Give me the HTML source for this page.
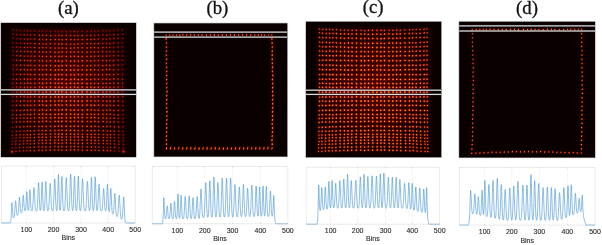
<!DOCTYPE html>
<html><head><meta charset="utf-8"><title>Figure</title>
<style>html,body{margin:0;padding:0;background:#fff;}body{width:602px;height:245px;overflow:hidden;}svg{display:block;}.lab{font-family:"Liberation Serif",serif;font-size:18.8px;fill:#111;stroke:#111;stroke-width:0.3px;}.tk{font-family:"Liberation Sans",sans-serif;font-size:7px;fill:#2c2c2c;stroke:#2c2c2c;stroke-width:0.12px;}</style></head><body>
<svg width="602" height="245" viewBox="0 0 602 245">
<defs><filter id="bl" x="-5%" y="-5%" width="110%" height="110%"><feGaussianBlur stdDeviation="0.6"/></filter><filter id="bl2" x="-5%" y="-5%" width="110%" height="110%"><feGaussianBlur stdDeviation="0.45"/></filter><filter id="edge" x="-5%" y="-5%" width="110%" height="110%"><feGaussianBlur stdDeviation="0.5"/></filter><radialGradient id="hazeA" cx="50%" cy="45%" r="62%"><stop offset="0" stop-color="#480200" stop-opacity="1"/><stop offset="0.55" stop-color="#300000" stop-opacity="0.9"/><stop offset="1" stop-color="#160000" stop-opacity="0.4"/></radialGradient><radialGradient id="hazeC" cx="50%" cy="45%" r="62%"><stop offset="0" stop-color="#460200" stop-opacity="1"/><stop offset="0.55" stop-color="#300000" stop-opacity="0.9"/><stop offset="1" stop-color="#160000" stop-opacity="0.4"/></radialGradient><radialGradient id="dg"><stop offset="0" stop-color="#f24a0c" stop-opacity="1"/><stop offset="0.2" stop-color="#ea3808" stop-opacity="0.9"/><stop offset="0.4" stop-color="#d42004" stop-opacity="0.64"/><stop offset="0.6" stop-color="#b40c00" stop-opacity="0.34"/><stop offset="0.8" stop-color="#900000" stop-opacity="0.13"/><stop offset="1" stop-color="#700000" stop-opacity="0"/></radialGradient><radialGradient id="dr"><stop offset="0" stop-color="#e01400" stop-opacity="1"/><stop offset="0.2" stop-color="#d81000" stop-opacity="0.9"/><stop offset="0.4" stop-color="#c40800" stop-opacity="0.64"/><stop offset="0.6" stop-color="#a80400" stop-opacity="0.34"/><stop offset="0.8" stop-color="#880000" stop-opacity="0.13"/><stop offset="1" stop-color="#700000" stop-opacity="0"/></radialGradient><radialGradient id="dm"><stop offset="0" stop-color="#ea3006" stop-opacity="1"/><stop offset="0.2" stop-color="#e22404" stop-opacity="0.9"/><stop offset="0.4" stop-color="#cc1402" stop-opacity="0.64"/><stop offset="0.6" stop-color="#ae0800" stop-opacity="0.34"/><stop offset="0.8" stop-color="#8c0000" stop-opacity="0.13"/><stop offset="1" stop-color="#700000" stop-opacity="0"/></radialGradient><radialGradient id="cg"><stop offset="0" stop-color="#ffac3c" stop-opacity="1"/><stop offset="0.35" stop-color="#ff9028" stop-opacity="0.7"/><stop offset="0.7" stop-color="#ff6a14" stop-opacity="0.25"/><stop offset="1" stop-color="#ff5010" stop-opacity="0"/></radialGradient></defs>
<rect x="0.4" y="22.4" width="136.2" height="135.2" fill="#0b0000" opacity="0.35"/>
<rect x="1.0" y="23.0" width="135.0" height="134.0" fill="#0b0000"/>
<rect x="153.6" y="22.8" width="134.2" height="134.3" fill="#0b0000" opacity="0.35"/>
<rect x="154.2" y="23.4" width="133.0" height="133.1" fill="#0b0000"/>
<rect x="305.4" y="21.2" width="136.4" height="136.6" fill="#0b0000" opacity="0.35"/>
<rect x="306.0" y="21.8" width="135.2" height="135.4" fill="#0b0000"/>
<rect x="458.6" y="21.2" width="137.0" height="136.9" fill="#0b0000" opacity="0.35"/>
<rect x="459.2" y="21.8" width="135.8" height="135.7" fill="#0b0000"/>
<rect x="10.0" y="27.5" width="115.6" height="126.5" fill="url(#hazeA)"/>
<g><circle cx="12.9" cy="29.9" r="1.98" fill="url(#dr)" opacity="0.55"/><circle cx="16.6" cy="30.3" r="1.99" fill="url(#dr)" opacity="0.56"/><circle cx="20.4" cy="30.4" r="1.99" fill="url(#dr)" opacity="0.56"/><circle cx="24.2" cy="30.4" r="1.99" fill="url(#dr)" opacity="0.57"/><circle cx="27.7" cy="30.9" r="2.00" fill="url(#dr)" opacity="0.58"/><circle cx="30.6" cy="30.9" r="2.02" fill="url(#dr)" opacity="0.61"/><circle cx="34.8" cy="30.9" r="2.02" fill="url(#dr)" opacity="0.62"/><circle cx="39.1" cy="31.2" r="2.01" fill="url(#dr)" opacity="0.60"/><circle cx="42.5" cy="31.0" r="2.01" fill="url(#dr)" opacity="0.61"/><circle cx="46.4" cy="31.1" r="2.02" fill="url(#dr)" opacity="0.62"/><circle cx="50.7" cy="31.3" r="2.03" fill="url(#dr)" opacity="0.63"/><circle cx="54.9" cy="31.2" r="2.02" fill="url(#dr)" opacity="0.62"/><circle cx="58.8" cy="31.4" r="2.03" fill="url(#dr)" opacity="0.63"/><circle cx="62.1" cy="31.4" r="2.03" fill="url(#dr)" opacity="0.63"/><circle cx="66.5" cy="31.6" r="2.03" fill="url(#dr)" opacity="0.63"/><circle cx="70.7" cy="31.5" r="2.04" fill="url(#dr)" opacity="0.65"/><circle cx="74.5" cy="31.4" r="2.04" fill="url(#dr)" opacity="0.65"/><circle cx="77.9" cy="31.4" r="2.03" fill="url(#dr)" opacity="0.64"/><circle cx="82.1" cy="31.4" r="2.02" fill="url(#dr)" opacity="0.61"/><circle cx="87.1" cy="31.4" r="2.02" fill="url(#dr)" opacity="0.62"/><circle cx="91.1" cy="31.2" r="2.02" fill="url(#dr)" opacity="0.62"/><circle cx="94.7" cy="31.2" r="2.02" fill="url(#dr)" opacity="0.61"/><circle cx="98.5" cy="31.2" r="2.01" fill="url(#dr)" opacity="0.61"/><circle cx="102.9" cy="30.7" r="2.01" fill="url(#dr)" opacity="0.61"/><circle cx="106.6" cy="31.0" r="2.01" fill="url(#dr)" opacity="0.60"/><circle cx="109.8" cy="30.6" r="2.01" fill="url(#dr)" opacity="0.59"/><circle cx="113.6" cy="30.5" r="1.99" fill="url(#dr)" opacity="0.57"/><circle cx="118.0" cy="30.1" r="2.00" fill="url(#dr)" opacity="0.58"/><circle cx="122.5" cy="30.0" r="1.98" fill="url(#dr)" opacity="0.55"/><circle cx="13.2" cy="34.1" r="2.00" fill="url(#dr)" opacity="0.59"/><circle cx="16.8" cy="34.6" r="2.04" fill="url(#dr)" opacity="0.64"/><circle cx="20.7" cy="34.6" r="2.03" fill="url(#dr)" opacity="0.63"/><circle cx="24.2" cy="34.9" r="2.06" fill="url(#dr)" opacity="0.68"/><circle cx="27.6" cy="34.8" r="2.04" fill="url(#dr)" opacity="0.65"/><circle cx="30.6" cy="35.0" r="2.06" fill="url(#dr)" opacity="0.68"/><circle cx="34.7" cy="34.9" r="2.06" fill="url(#dr)" opacity="0.68"/><circle cx="39.2" cy="35.3" r="2.09" fill="url(#dm)" opacity="0.73"/><circle cx="42.8" cy="35.3" r="2.08" fill="url(#dm)" opacity="0.71"/><circle cx="46.4" cy="35.2" r="2.09" fill="url(#dm)" opacity="0.74"/><circle cx="50.7" cy="35.6" r="2.10" fill="url(#dm)" opacity="0.74"/><circle cx="55.1" cy="35.5" r="2.08" fill="url(#dr)" opacity="0.71"/><circle cx="58.8" cy="35.4" r="2.08" fill="url(#dm)" opacity="0.71"/><circle cx="61.9" cy="35.5" r="2.09" fill="url(#dm)" opacity="0.73"/><circle cx="66.2" cy="35.4" r="2.09" fill="url(#dm)" opacity="0.73"/><circle cx="70.5" cy="35.6" r="2.08" fill="url(#dm)" opacity="0.72"/><circle cx="74.5" cy="35.6" r="2.08" fill="url(#dm)" opacity="0.72"/><circle cx="78.0" cy="35.5" r="2.09" fill="url(#dm)" opacity="0.73"/><circle cx="82.1" cy="35.7" r="2.11" fill="url(#dm)" opacity="0.76"/><circle cx="87.0" cy="35.4" r="2.07" fill="url(#dr)" opacity="0.70"/><circle cx="90.8" cy="35.3" r="2.07" fill="url(#dr)" opacity="0.70"/><circle cx="94.8" cy="35.2" r="2.05" fill="url(#dr)" opacity="0.67"/><circle cx="98.5" cy="35.2" r="2.05" fill="url(#dr)" opacity="0.67"/><circle cx="102.9" cy="34.9" r="2.06" fill="url(#dr)" opacity="0.68"/><circle cx="106.8" cy="35.1" r="2.06" fill="url(#dr)" opacity="0.68"/><circle cx="109.8" cy="34.8" r="2.03" fill="url(#dr)" opacity="0.64"/><circle cx="113.9" cy="34.7" r="2.05" fill="url(#dr)" opacity="0.66"/><circle cx="118.0" cy="34.4" r="2.04" fill="url(#dr)" opacity="0.65"/><circle cx="122.8" cy="34.5" r="2.01" fill="url(#dr)" opacity="0.60"/><circle cx="13.2" cy="38.5" r="2.00" fill="url(#dr)" opacity="0.58"/><circle cx="16.8" cy="38.5" r="2.01" fill="url(#dr)" opacity="0.61"/><circle cx="20.4" cy="38.7" r="2.03" fill="url(#dr)" opacity="0.64"/><circle cx="24.4" cy="39.1" r="2.05" fill="url(#dr)" opacity="0.66"/><circle cx="27.9" cy="39.2" r="2.07" fill="url(#dr)" opacity="0.70"/><circle cx="30.7" cy="39.0" r="2.05" fill="url(#dr)" opacity="0.67"/><circle cx="34.6" cy="39.1" r="2.07" fill="url(#dr)" opacity="0.71"/><circle cx="39.4" cy="39.5" r="2.08" fill="url(#dm)" opacity="0.71"/><circle cx="42.8" cy="39.5" r="2.07" fill="url(#dr)" opacity="0.70"/><circle cx="46.4" cy="39.6" r="2.10" fill="url(#dm)" opacity="0.75"/><circle cx="50.7" cy="39.5" r="2.08" fill="url(#dm)" opacity="0.72"/><circle cx="55.2" cy="39.5" r="2.11" fill="url(#dm)" opacity="0.77"/><circle cx="58.9" cy="39.6" r="2.10" fill="url(#dm)" opacity="0.75"/><circle cx="62.2" cy="39.7" r="2.09" fill="url(#dm)" opacity="0.74"/><circle cx="66.2" cy="39.5" r="2.12" fill="url(#dm)" opacity="0.79"/><circle cx="70.8" cy="39.5" r="2.12" fill="url(#dm)" opacity="0.78"/><circle cx="74.6" cy="39.7" r="2.10" fill="url(#dm)" opacity="0.75"/><circle cx="78.1" cy="39.5" r="2.09" fill="url(#dm)" opacity="0.73"/><circle cx="82.4" cy="39.6" r="2.10" fill="url(#dm)" opacity="0.75"/><circle cx="87.2" cy="39.5" r="2.11" fill="url(#dm)" opacity="0.76"/><circle cx="91.0" cy="39.3" r="2.08" fill="url(#dm)" opacity="0.71"/><circle cx="94.5" cy="39.3" r="2.08" fill="url(#dm)" opacity="0.72"/><circle cx="98.2" cy="39.2" r="2.06" fill="url(#dr)" opacity="0.69"/><circle cx="103.0" cy="39.1" r="2.06" fill="url(#dr)" opacity="0.69"/><circle cx="106.6" cy="39.2" r="2.06" fill="url(#dr)" opacity="0.68"/><circle cx="110.0" cy="38.9" r="2.05" fill="url(#dr)" opacity="0.67"/><circle cx="113.8" cy="38.6" r="2.04" fill="url(#dr)" opacity="0.65"/><circle cx="118.0" cy="38.4" r="2.04" fill="url(#dr)" opacity="0.66"/><circle cx="122.5" cy="38.4" r="2.01" fill="url(#dr)" opacity="0.61"/><circle cx="13.1" cy="42.8" r="2.01" fill="url(#dr)" opacity="0.60"/><circle cx="16.8" cy="43.1" r="2.02" fill="url(#dr)" opacity="0.62"/><circle cx="20.6" cy="43.1" r="2.04" fill="url(#dr)" opacity="0.65"/><circle cx="24.4" cy="43.3" r="2.06" fill="url(#dr)" opacity="0.68"/><circle cx="27.8" cy="43.5" r="2.06" fill="url(#dr)" opacity="0.69"/><circle cx="30.8" cy="43.5" r="2.07" fill="url(#dr)" opacity="0.70"/><circle cx="34.9" cy="43.6" r="2.08" fill="url(#dm)" opacity="0.72"/><circle cx="39.3" cy="43.8" r="2.09" fill="url(#dm)" opacity="0.74"/><circle cx="42.9" cy="43.9" r="2.08" fill="url(#dm)" opacity="0.72"/><circle cx="46.3" cy="44.0" r="2.11" fill="url(#dm)" opacity="0.77"/><circle cx="50.5" cy="43.7" r="2.10" fill="url(#dm)" opacity="0.76"/><circle cx="54.9" cy="43.8" r="2.10" fill="url(#dm)" opacity="0.74"/><circle cx="58.8" cy="44.1" r="2.13" fill="url(#dm)" opacity="0.80"/><circle cx="61.9" cy="44.0" r="2.12" fill="url(#dm)" opacity="0.79"/><circle cx="66.2" cy="44.1" r="2.14" fill="url(#dm)" opacity="0.81"/><circle cx="70.5" cy="44.2" r="2.12" fill="url(#dm)" opacity="0.78"/><circle cx="74.4" cy="44.2" r="2.13" fill="url(#dm)" opacity="0.80"/><circle cx="78.0" cy="43.9" r="2.11" fill="url(#dm)" opacity="0.77"/><circle cx="82.1" cy="43.8" r="2.10" fill="url(#dm)" opacity="0.75"/><circle cx="87.1" cy="43.6" r="2.10" fill="url(#dm)" opacity="0.76"/><circle cx="90.9" cy="43.6" r="2.09" fill="url(#dm)" opacity="0.73"/><circle cx="94.7" cy="43.7" r="2.07" fill="url(#dr)" opacity="0.71"/><circle cx="98.5" cy="43.7" r="2.10" fill="url(#dm)" opacity="0.75"/><circle cx="102.7" cy="43.4" r="2.06" fill="url(#dr)" opacity="0.68"/><circle cx="106.6" cy="43.3" r="2.05" fill="url(#dr)" opacity="0.67"/><circle cx="109.8" cy="43.5" r="2.07" fill="url(#dr)" opacity="0.70"/><circle cx="113.7" cy="43.1" r="2.06" fill="url(#dr)" opacity="0.69"/><circle cx="118.1" cy="43.1" r="2.02" fill="url(#dr)" opacity="0.62"/><circle cx="122.4" cy="42.9" r="2.01" fill="url(#dr)" opacity="0.60"/><circle cx="12.9" cy="47.2" r="2.02" fill="url(#dr)" opacity="0.61"/><circle cx="16.9" cy="47.0" r="2.05" fill="url(#dr)" opacity="0.67"/><circle cx="20.4" cy="47.4" r="2.05" fill="url(#dr)" opacity="0.67"/><circle cx="24.3" cy="47.4" r="2.08" fill="url(#dm)" opacity="0.71"/><circle cx="27.7" cy="47.3" r="2.07" fill="url(#dr)" opacity="0.70"/><circle cx="30.7" cy="47.4" r="2.07" fill="url(#dr)" opacity="0.69"/><circle cx="34.6" cy="47.5" r="2.08" fill="url(#dm)" opacity="0.72"/><circle cx="39.2" cy="47.8" r="2.09" fill="url(#dm)" opacity="0.73"/><circle cx="42.7" cy="47.7" r="2.10" fill="url(#dm)" opacity="0.74"/><circle cx="46.1" cy="47.8" r="2.09" fill="url(#dm)" opacity="0.73"/><circle cx="50.7" cy="47.9" r="2.10" fill="url(#dm)" opacity="0.76"/><circle cx="55.1" cy="48.1" r="2.11" fill="url(#dm)" opacity="0.76"/><circle cx="58.9" cy="48.0" r="2.12" fill="url(#dm)" opacity="0.79"/><circle cx="62.2" cy="48.0" r="2.13" fill="url(#dm)" opacity="0.80"/><circle cx="66.4" cy="48.2" r="2.12" fill="url(#dm)" opacity="0.79"/><circle cx="70.8" cy="48.1" r="2.13" fill="url(#dm)" opacity="0.81"/><circle cx="74.3" cy="47.9" r="2.11" fill="url(#dm)" opacity="0.77"/><circle cx="77.9" cy="47.8" r="2.13" fill="url(#dm)" opacity="0.80"/><circle cx="82.1" cy="47.8" r="2.10" fill="url(#dm)" opacity="0.76"/><circle cx="87.1" cy="48.0" r="2.12" fill="url(#dm)" opacity="0.78"/><circle cx="90.8" cy="47.7" r="2.10" fill="url(#dm)" opacity="0.75"/><circle cx="94.6" cy="47.6" r="2.10" fill="url(#dm)" opacity="0.74"/><circle cx="98.2" cy="47.9" r="2.11" fill="url(#dm)" opacity="0.76"/><circle cx="102.8" cy="47.5" r="2.10" fill="url(#dm)" opacity="0.75"/><circle cx="106.4" cy="47.4" r="2.06" fill="url(#dr)" opacity="0.68"/><circle cx="109.8" cy="47.4" r="2.07" fill="url(#dr)" opacity="0.69"/><circle cx="113.6" cy="47.3" r="2.04" fill="url(#dr)" opacity="0.65"/><circle cx="118.0" cy="47.0" r="2.04" fill="url(#dr)" opacity="0.65"/><circle cx="122.4" cy="46.8" r="2.01" fill="url(#dr)" opacity="0.60"/><circle cx="13.0" cy="51.3" r="2.02" fill="url(#dr)" opacity="0.62"/><circle cx="16.9" cy="51.4" r="2.05" fill="url(#dr)" opacity="0.67"/><circle cx="20.8" cy="51.4" r="2.05" fill="url(#dr)" opacity="0.67"/><circle cx="24.5" cy="51.4" r="2.08" fill="url(#dr)" opacity="0.71"/><circle cx="27.8" cy="51.5" r="2.09" fill="url(#dm)" opacity="0.73"/><circle cx="30.9" cy="51.8" r="2.09" fill="url(#dm)" opacity="0.74"/><circle cx="34.9" cy="51.7" r="2.09" fill="url(#dm)" opacity="0.74"/><circle cx="39.3" cy="52.0" r="2.11" fill="url(#dm)" opacity="0.77"/><circle cx="42.8" cy="52.0" r="2.12" fill="url(#dm)" opacity="0.79"/><circle cx="46.4" cy="52.1" r="2.11" fill="url(#dm)" opacity="0.76"/><circle cx="50.4" cy="51.9" r="2.12" fill="url(#dm)" opacity="0.78"/><circle cx="55.0" cy="52.2" r="2.13" fill="url(#dm)" opacity="0.80"/><circle cx="58.8" cy="52.2" r="2.14" fill="url(#dm)" opacity="0.82"/><circle cx="62.1" cy="51.9" r="2.15" fill="url(#dm)" opacity="0.83"/><circle cx="66.5" cy="52.1" r="2.14" fill="url(#dm)" opacity="0.82"/><circle cx="70.7" cy="52.0" r="2.15" fill="url(#dm)" opacity="0.83"/><circle cx="74.3" cy="52.0" r="2.13" fill="url(#dm)" opacity="0.80"/><circle cx="78.2" cy="52.0" r="2.14" fill="url(#dm)" opacity="0.82"/><circle cx="82.4" cy="52.1" r="2.12" fill="url(#dm)" opacity="0.79"/><circle cx="87.0" cy="52.1" r="2.13" fill="url(#dm)" opacity="0.80"/><circle cx="90.9" cy="52.0" r="2.10" fill="url(#dm)" opacity="0.75"/><circle cx="94.5" cy="51.8" r="2.12" fill="url(#dm)" opacity="0.78"/><circle cx="98.2" cy="51.9" r="2.08" fill="url(#dm)" opacity="0.72"/><circle cx="102.6" cy="51.7" r="2.10" fill="url(#dm)" opacity="0.74"/><circle cx="106.6" cy="51.8" r="2.07" fill="url(#dr)" opacity="0.70"/><circle cx="109.8" cy="51.6" r="2.07" fill="url(#dr)" opacity="0.70"/><circle cx="113.6" cy="51.7" r="2.05" fill="url(#dr)" opacity="0.67"/><circle cx="118.2" cy="51.5" r="2.03" fill="url(#dr)" opacity="0.64"/><circle cx="122.5" cy="51.4" r="2.03" fill="url(#dr)" opacity="0.64"/><circle cx="13.1" cy="55.6" r="2.01" fill="url(#dr)" opacity="0.61"/><circle cx="17.0" cy="55.6" r="2.05" fill="url(#dr)" opacity="0.67"/><circle cx="20.5" cy="55.9" r="2.08" fill="url(#dm)" opacity="0.72"/><circle cx="24.2" cy="56.1" r="2.07" fill="url(#dr)" opacity="0.71"/><circle cx="27.9" cy="56.1" r="2.07" fill="url(#dr)" opacity="0.71"/><circle cx="31.0" cy="56.1" r="2.07" fill="url(#dr)" opacity="0.71"/><circle cx="34.6" cy="56.2" r="2.10" fill="url(#dm)" opacity="0.75"/><circle cx="39.2" cy="56.1" r="2.11" fill="url(#dm)" opacity="0.76"/><circle cx="42.6" cy="56.4" r="2.10" fill="url(#dm)" opacity="0.75"/><circle cx="46.4" cy="56.5" r="2.11" fill="url(#dm)" opacity="0.77"/><circle cx="50.8" cy="56.5" r="2.15" fill="url(#dm)" opacity="0.83"/><circle cx="55.0" cy="56.4" r="2.14" fill="url(#dm)" opacity="0.81"/><circle cx="58.9" cy="56.5" r="2.14" fill="url(#dm)" opacity="0.81"/><circle cx="62.0" cy="56.4" r="2.13" fill="url(#dm)" opacity="0.80"/><circle cx="66.2" cy="56.6" r="2.14" fill="url(#dm)" opacity="0.82"/><circle cx="70.8" cy="56.4" r="2.14" fill="url(#dm)" opacity="0.82"/><circle cx="74.4" cy="56.3" r="2.14" fill="url(#dm)" opacity="0.82"/><circle cx="78.3" cy="56.6" r="2.15" fill="url(#dm)" opacity="0.84"/><circle cx="82.2" cy="56.6" r="2.15" fill="url(#dm)" opacity="0.84"/><circle cx="87.0" cy="56.5" r="2.11" fill="url(#dm)" opacity="0.77"/><circle cx="91.0" cy="56.3" r="2.13" fill="url(#dm)" opacity="0.80"/><circle cx="94.7" cy="56.2" r="2.10" fill="url(#dm)" opacity="0.75"/><circle cx="98.5" cy="56.1" r="2.11" fill="url(#dm)" opacity="0.76"/><circle cx="102.7" cy="56.1" r="2.10" fill="url(#dm)" opacity="0.76"/><circle cx="106.7" cy="56.0" r="2.09" fill="url(#dm)" opacity="0.74"/><circle cx="109.8" cy="56.0" r="2.07" fill="url(#dr)" opacity="0.71"/><circle cx="113.6" cy="55.8" r="2.06" fill="url(#dr)" opacity="0.68"/><circle cx="118.2" cy="55.8" r="2.04" fill="url(#dr)" opacity="0.66"/><circle cx="122.7" cy="55.9" r="2.02" fill="url(#dr)" opacity="0.62"/><circle cx="13.0" cy="60.2" r="2.01" fill="url(#dr)" opacity="0.61"/><circle cx="16.8" cy="60.2" r="2.05" fill="url(#dr)" opacity="0.66"/><circle cx="20.5" cy="60.5" r="2.08" fill="url(#dm)" opacity="0.72"/><circle cx="24.5" cy="60.5" r="2.08" fill="url(#dm)" opacity="0.71"/><circle cx="27.8" cy="60.6" r="2.08" fill="url(#dm)" opacity="0.72"/><circle cx="30.6" cy="60.6" r="2.11" fill="url(#dm)" opacity="0.77"/><circle cx="34.7" cy="60.7" r="2.11" fill="url(#dm)" opacity="0.77"/><circle cx="39.4" cy="60.7" r="2.11" fill="url(#dm)" opacity="0.77"/><circle cx="42.6" cy="60.8" r="2.12" fill="url(#dm)" opacity="0.79"/><circle cx="46.5" cy="61.0" r="2.15" fill="url(#dm)" opacity="0.83"/><circle cx="50.4" cy="60.7" r="2.15" fill="url(#dm)" opacity="0.83"/><circle cx="55.3" cy="60.9" r="2.15" fill="url(#dm)" opacity="0.84"/><circle cx="58.5" cy="60.9" r="2.17" fill="url(#dg)" opacity="0.86"/><circle cx="62.2" cy="61.1" r="2.17" fill="url(#dg)" opacity="0.87"/><circle cx="66.3" cy="60.8" r="2.15" fill="url(#dm)" opacity="0.83"/><circle cx="70.7" cy="61.1" r="2.17" fill="url(#dg)" opacity="0.87"/><circle cx="74.5" cy="61.0" r="2.17" fill="url(#dg)" opacity="0.86"/><circle cx="78.1" cy="61.0" r="2.14" fill="url(#dm)" opacity="0.81"/><circle cx="82.3" cy="60.8" r="2.16" fill="url(#dg)" opacity="0.85"/><circle cx="87.0" cy="60.8" r="2.12" fill="url(#dm)" opacity="0.79"/><circle cx="90.8" cy="60.9" r="2.14" fill="url(#dm)" opacity="0.81"/><circle cx="94.4" cy="60.7" r="2.12" fill="url(#dm)" opacity="0.79"/><circle cx="98.3" cy="60.7" r="2.10" fill="url(#dm)" opacity="0.76"/><circle cx="102.8" cy="60.5" r="2.10" fill="url(#dm)" opacity="0.74"/><circle cx="106.5" cy="60.8" r="2.10" fill="url(#dm)" opacity="0.75"/><circle cx="110.0" cy="60.6" r="2.07" fill="url(#dr)" opacity="0.71"/><circle cx="113.6" cy="60.7" r="2.08" fill="url(#dm)" opacity="0.72"/><circle cx="118.0" cy="60.2" r="2.06" fill="url(#dr)" opacity="0.68"/><circle cx="122.6" cy="60.3" r="2.02" fill="url(#dr)" opacity="0.61"/><circle cx="13.2" cy="65.3" r="2.02" fill="url(#dr)" opacity="0.62"/><circle cx="16.6" cy="65.1" r="2.06" fill="url(#dr)" opacity="0.68"/><circle cx="20.7" cy="65.2" r="2.08" fill="url(#dm)" opacity="0.72"/><circle cx="24.4" cy="65.3" r="2.07" fill="url(#dr)" opacity="0.71"/><circle cx="28.0" cy="65.3" r="2.11" fill="url(#dm)" opacity="0.76"/><circle cx="30.7" cy="65.3" r="2.11" fill="url(#dm)" opacity="0.77"/><circle cx="34.7" cy="65.7" r="2.12" fill="url(#dm)" opacity="0.78"/><circle cx="39.2" cy="65.4" r="2.12" fill="url(#dm)" opacity="0.79"/><circle cx="42.8" cy="65.8" r="2.12" fill="url(#dm)" opacity="0.79"/><circle cx="46.3" cy="65.5" r="2.16" fill="url(#dg)" opacity="0.85"/><circle cx="50.5" cy="65.5" r="2.13" fill="url(#dm)" opacity="0.81"/><circle cx="55.1" cy="65.8" r="2.17" fill="url(#dg)" opacity="0.87"/><circle cx="58.8" cy="65.9" r="2.18" fill="url(#dg)" opacity="0.88"/><circle cx="62.0" cy="65.6" r="2.18" fill="url(#dg)" opacity="0.89"/><circle cx="66.5" cy="65.5" r="2.17" fill="url(#dg)" opacity="0.87"/><circle cx="70.6" cy="65.7" r="2.16" fill="url(#dg)" opacity="0.85"/><circle cx="74.2" cy="65.5" r="2.16" fill="url(#dg)" opacity="0.84"/><circle cx="78.0" cy="65.9" r="2.15" fill="url(#dm)" opacity="0.83"/><circle cx="82.4" cy="65.6" r="2.15" fill="url(#dm)" opacity="0.83"/><circle cx="87.1" cy="65.8" r="2.14" fill="url(#dm)" opacity="0.82"/><circle cx="90.7" cy="65.6" r="2.13" fill="url(#dm)" opacity="0.81"/><circle cx="94.8" cy="65.4" r="2.13" fill="url(#dm)" opacity="0.79"/><circle cx="98.5" cy="65.3" r="2.12" fill="url(#dm)" opacity="0.78"/><circle cx="102.9" cy="65.6" r="2.09" fill="url(#dm)" opacity="0.74"/><circle cx="106.3" cy="65.2" r="2.11" fill="url(#dm)" opacity="0.77"/><circle cx="109.7" cy="65.5" r="2.10" fill="url(#dm)" opacity="0.76"/><circle cx="113.7" cy="65.2" r="2.09" fill="url(#dm)" opacity="0.74"/><circle cx="118.1" cy="65.1" r="2.07" fill="url(#dr)" opacity="0.70"/><circle cx="122.5" cy="65.0" r="2.01" fill="url(#dr)" opacity="0.61"/><circle cx="13.2" cy="69.6" r="2.04" fill="url(#dr)" opacity="0.64"/><circle cx="17.0" cy="69.3" r="2.06" fill="url(#dr)" opacity="0.68"/><circle cx="20.6" cy="69.8" r="2.09" fill="url(#dm)" opacity="0.74"/><circle cx="24.3" cy="69.5" r="2.09" fill="url(#dm)" opacity="0.73"/><circle cx="27.8" cy="69.9" r="2.09" fill="url(#dm)" opacity="0.73"/><circle cx="30.9" cy="69.8" r="2.12" fill="url(#dm)" opacity="0.79"/><circle cx="34.9" cy="69.8" r="2.11" fill="url(#dm)" opacity="0.77"/><circle cx="39.2" cy="69.8" r="2.14" fill="url(#dm)" opacity="0.82"/><circle cx="42.5" cy="69.7" r="2.15" fill="url(#dm)" opacity="0.83"/><circle cx="46.2" cy="69.7" r="2.13" fill="url(#dm)" opacity="0.80"/><circle cx="50.6" cy="69.8" r="2.17" fill="url(#dg)" opacity="0.87"/><circle cx="55.3" cy="70.1" r="2.16" fill="url(#dg)" opacity="0.84"/><circle cx="58.6" cy="69.8" r="2.17" fill="url(#dg)" opacity="0.87"/><circle cx="62.1" cy="69.9" r="2.16" fill="url(#dg)" opacity="0.86"/><circle cx="66.3" cy="70.0" r="2.18" fill="url(#dg)" opacity="0.89"/><circle cx="70.8" cy="70.1" r="2.18" fill="url(#dg)" opacity="0.89"/><circle cx="74.2" cy="70.1" r="2.16" fill="url(#dg)" opacity="0.86"/><circle cx="78.1" cy="69.9" r="2.18" fill="url(#dg)" opacity="0.88"/><circle cx="82.1" cy="69.8" r="2.15" fill="url(#dm)" opacity="0.84"/><circle cx="86.8" cy="70.0" r="2.16" fill="url(#dg)" opacity="0.84"/><circle cx="90.8" cy="69.8" r="2.16" fill="url(#dg)" opacity="0.85"/><circle cx="94.6" cy="69.7" r="2.15" fill="url(#dm)" opacity="0.83"/><circle cx="98.4" cy="70.0" r="2.11" fill="url(#dm)" opacity="0.77"/><circle cx="102.8" cy="69.9" r="2.13" fill="url(#dm)" opacity="0.80"/><circle cx="106.7" cy="69.5" r="2.10" fill="url(#dm)" opacity="0.75"/><circle cx="109.7" cy="69.5" r="2.11" fill="url(#dm)" opacity="0.77"/><circle cx="113.8" cy="69.8" r="2.08" fill="url(#dm)" opacity="0.71"/><circle cx="118.2" cy="69.5" r="2.06" fill="url(#dr)" opacity="0.68"/><circle cx="122.7" cy="69.6" r="2.02" fill="url(#dr)" opacity="0.62"/><circle cx="13.1" cy="74.4" r="2.03" fill="url(#dr)" opacity="0.63"/><circle cx="16.8" cy="74.3" r="2.06" fill="url(#dr)" opacity="0.68"/><circle cx="20.5" cy="74.5" r="2.09" fill="url(#dm)" opacity="0.73"/><circle cx="24.2" cy="74.3" r="2.09" fill="url(#dm)" opacity="0.73"/><circle cx="27.8" cy="74.4" r="2.10" fill="url(#dm)" opacity="0.75"/><circle cx="30.7" cy="74.7" r="2.12" fill="url(#dm)" opacity="0.78"/><circle cx="34.6" cy="74.5" r="2.12" fill="url(#dm)" opacity="0.79"/><circle cx="39.3" cy="74.7" r="2.12" fill="url(#dm)" opacity="0.79"/><circle cx="42.6" cy="74.8" r="2.14" fill="url(#dm)" opacity="0.82"/><circle cx="46.2" cy="74.6" r="2.17" fill="url(#dg)" opacity="0.87"/><circle cx="50.5" cy="74.8" r="2.16" fill="url(#dg)" opacity="0.85"/><circle cx="55.1" cy="74.9" r="2.19" fill="url(#dg)" opacity="0.90"/><circle cx="58.7" cy="74.6" r="2.19" fill="url(#dg)" opacity="0.89"/><circle cx="61.9" cy="74.6" r="2.20" fill="url(#dg)" opacity="0.91"/><circle cx="66.3" cy="74.9" r="2.18" fill="url(#dg)" opacity="0.88"/><circle cx="70.8" cy="74.7" r="2.17" fill="url(#dg)" opacity="0.87"/><circle cx="74.2" cy="74.8" r="2.18" fill="url(#dg)" opacity="0.89"/><circle cx="78.3" cy="74.6" r="2.18" fill="url(#dg)" opacity="0.88"/><circle cx="82.1" cy="74.7" r="2.16" fill="url(#dg)" opacity="0.84"/><circle cx="86.9" cy="74.7" r="2.18" fill="url(#dg)" opacity="0.88"/><circle cx="90.7" cy="74.7" r="2.16" fill="url(#dg)" opacity="0.85"/><circle cx="94.8" cy="74.6" r="2.13" fill="url(#dm)" opacity="0.80"/><circle cx="98.5" cy="74.8" r="2.13" fill="url(#dm)" opacity="0.81"/><circle cx="102.6" cy="74.8" r="2.12" fill="url(#dm)" opacity="0.78"/><circle cx="106.7" cy="74.6" r="2.12" fill="url(#dm)" opacity="0.79"/><circle cx="109.7" cy="74.7" r="2.09" fill="url(#dm)" opacity="0.73"/><circle cx="113.7" cy="74.6" r="2.10" fill="url(#dm)" opacity="0.75"/><circle cx="117.9" cy="74.3" r="2.07" fill="url(#dr)" opacity="0.70"/><circle cx="122.6" cy="74.3" r="2.02" fill="url(#dr)" opacity="0.62"/><circle cx="13.0" cy="79.1" r="2.05" fill="url(#dr)" opacity="0.66"/><circle cx="16.6" cy="79.1" r="2.08" fill="url(#dm)" opacity="0.72"/><circle cx="20.4" cy="79.2" r="2.07" fill="url(#dr)" opacity="0.70"/><circle cx="24.4" cy="79.1" r="2.10" fill="url(#dm)" opacity="0.76"/><circle cx="27.7" cy="79.1" r="2.11" fill="url(#dm)" opacity="0.77"/><circle cx="30.7" cy="79.2" r="2.12" fill="url(#dm)" opacity="0.78"/><circle cx="34.8" cy="79.0" r="2.14" fill="url(#dm)" opacity="0.81"/><circle cx="39.3" cy="79.1" r="2.15" fill="url(#dm)" opacity="0.84"/><circle cx="42.8" cy="79.2" r="2.14" fill="url(#dm)" opacity="0.82"/><circle cx="46.3" cy="79.1" r="2.15" fill="url(#dm)" opacity="0.83"/><circle cx="50.6" cy="79.1" r="2.17" fill="url(#dg)" opacity="0.86"/><circle cx="55.1" cy="79.1" r="2.18" fill="url(#dg)" opacity="0.89"/><circle cx="58.6" cy="79.4" r="2.19" fill="url(#dg)" opacity="0.91"/><circle cx="62.1" cy="79.1" r="2.19" fill="url(#dg)" opacity="0.90"/><circle cx="66.3" cy="79.5" r="2.18" fill="url(#dg)" opacity="0.88"/><circle cx="70.8" cy="79.5" r="2.20" fill="url(#dg)" opacity="0.91"/><circle cx="74.5" cy="79.2" r="2.20" fill="url(#dg)" opacity="0.92"/><circle cx="78.1" cy="79.5" r="2.20" fill="url(#dg)" opacity="0.91"/><circle cx="82.1" cy="79.4" r="2.19" fill="url(#dg)" opacity="0.90"/><circle cx="86.8" cy="79.2" r="2.18" fill="url(#dg)" opacity="0.88"/><circle cx="90.8" cy="79.4" r="2.15" fill="url(#dm)" opacity="0.83"/><circle cx="94.7" cy="79.1" r="2.15" fill="url(#dm)" opacity="0.83"/><circle cx="98.5" cy="79.1" r="2.13" fill="url(#dm)" opacity="0.80"/><circle cx="102.8" cy="79.1" r="2.11" fill="url(#dm)" opacity="0.77"/><circle cx="106.4" cy="79.0" r="2.13" fill="url(#dm)" opacity="0.80"/><circle cx="109.9" cy="79.3" r="2.09" fill="url(#dm)" opacity="0.74"/><circle cx="113.9" cy="78.9" r="2.09" fill="url(#dm)" opacity="0.74"/><circle cx="118.1" cy="79.0" r="2.09" fill="url(#dm)" opacity="0.73"/><circle cx="122.6" cy="79.1" r="2.05" fill="url(#dr)" opacity="0.66"/><circle cx="12.9" cy="83.4" r="2.04" fill="url(#dr)" opacity="0.65"/><circle cx="16.7" cy="83.4" r="2.07" fill="url(#dr)" opacity="0.69"/><circle cx="20.8" cy="83.3" r="2.08" fill="url(#dm)" opacity="0.72"/><circle cx="24.4" cy="83.3" r="2.09" fill="url(#dm)" opacity="0.73"/><circle cx="27.8" cy="83.1" r="2.13" fill="url(#dm)" opacity="0.79"/><circle cx="30.7" cy="83.4" r="2.14" fill="url(#dm)" opacity="0.82"/><circle cx="34.8" cy="83.4" r="2.13" fill="url(#dm)" opacity="0.80"/><circle cx="39.1" cy="83.2" r="2.14" fill="url(#dm)" opacity="0.81"/><circle cx="42.7" cy="83.4" r="2.16" fill="url(#dg)" opacity="0.85"/><circle cx="46.5" cy="83.2" r="2.16" fill="url(#dg)" opacity="0.84"/><circle cx="50.7" cy="83.2" r="2.16" fill="url(#dg)" opacity="0.84"/><circle cx="55.1" cy="83.3" r="2.18" fill="url(#dg)" opacity="0.88"/><circle cx="58.6" cy="83.4" r="2.19" fill="url(#dg)" opacity="0.90"/><circle cx="61.9" cy="83.5" r="2.19" fill="url(#dg)" opacity="0.90"/><circle cx="66.2" cy="83.6" r="2.19" fill="url(#dg)" opacity="0.89"/><circle cx="70.5" cy="83.3" r="2.20" fill="url(#dg)" opacity="0.92"/><circle cx="74.5" cy="83.5" r="2.19" fill="url(#dg)" opacity="0.90"/><circle cx="78.0" cy="83.2" r="2.19" fill="url(#dg)" opacity="0.90"/><circle cx="82.2" cy="83.3" r="2.19" fill="url(#dg)" opacity="0.89"/><circle cx="87.0" cy="83.6" r="2.18" fill="url(#dg)" opacity="0.88"/><circle cx="90.8" cy="83.6" r="2.15" fill="url(#dm)" opacity="0.83"/><circle cx="94.6" cy="83.3" r="2.14" fill="url(#dm)" opacity="0.82"/><circle cx="98.2" cy="83.5" r="2.13" fill="url(#dm)" opacity="0.79"/><circle cx="102.9" cy="83.5" r="2.12" fill="url(#dm)" opacity="0.78"/><circle cx="106.4" cy="83.4" r="2.12" fill="url(#dm)" opacity="0.78"/><circle cx="109.9" cy="83.4" r="2.10" fill="url(#dm)" opacity="0.74"/><circle cx="113.7" cy="83.2" r="2.08" fill="url(#dm)" opacity="0.71"/><circle cx="118.3" cy="83.4" r="2.09" fill="url(#dm)" opacity="0.73"/><circle cx="122.4" cy="83.4" r="2.05" fill="url(#dr)" opacity="0.66"/><circle cx="13.0" cy="87.3" r="2.04" fill="url(#dr)" opacity="0.65"/><circle cx="16.6" cy="87.0" r="2.07" fill="url(#dr)" opacity="0.70"/><circle cx="20.4" cy="87.1" r="2.10" fill="url(#dm)" opacity="0.75"/><circle cx="24.4" cy="87.3" r="2.11" fill="url(#dm)" opacity="0.77"/><circle cx="27.6" cy="87.2" r="2.11" fill="url(#dm)" opacity="0.77"/><circle cx="30.9" cy="87.2" r="2.12" fill="url(#dm)" opacity="0.78"/><circle cx="34.8" cy="87.4" r="2.13" fill="url(#dm)" opacity="0.80"/><circle cx="39.4" cy="87.0" r="2.14" fill="url(#dm)" opacity="0.82"/><circle cx="42.6" cy="87.3" r="2.18" fill="url(#dg)" opacity="0.88"/><circle cx="46.4" cy="87.2" r="2.18" fill="url(#dg)" opacity="0.89"/><circle cx="50.5" cy="87.1" r="2.19" fill="url(#dg)" opacity="0.90"/><circle cx="55.2" cy="87.3" r="2.19" fill="url(#dg)" opacity="0.90"/><circle cx="58.9" cy="87.2" r="2.20" fill="url(#dg)" opacity="0.92"/><circle cx="62.1" cy="87.4" r="2.19" fill="url(#dg)" opacity="0.91"/><circle cx="66.4" cy="87.3" r="2.19" fill="url(#dg)" opacity="0.90"/><circle cx="70.5" cy="87.3" r="2.18" fill="url(#dg)" opacity="0.89"/><circle cx="74.5" cy="87.1" r="2.18" fill="url(#dg)" opacity="0.88"/><circle cx="77.9" cy="87.4" r="2.18" fill="url(#dg)" opacity="0.89"/><circle cx="82.1" cy="87.1" r="2.17" fill="url(#dg)" opacity="0.86"/><circle cx="87.1" cy="87.3" r="2.18" fill="url(#dg)" opacity="0.89"/><circle cx="91.0" cy="87.1" r="2.17" fill="url(#dg)" opacity="0.86"/><circle cx="94.6" cy="87.4" r="2.17" fill="url(#dg)" opacity="0.86"/><circle cx="98.5" cy="87.1" r="2.16" fill="url(#dg)" opacity="0.85"/><circle cx="103.0" cy="87.4" r="2.12" fill="url(#dm)" opacity="0.78"/><circle cx="106.5" cy="87.1" r="2.10" fill="url(#dm)" opacity="0.76"/><circle cx="110.0" cy="87.3" r="2.11" fill="url(#dm)" opacity="0.77"/><circle cx="113.9" cy="87.3" r="2.09" fill="url(#dm)" opacity="0.73"/><circle cx="118.0" cy="87.0" r="2.09" fill="url(#dm)" opacity="0.73"/><circle cx="122.5" cy="87.1" r="2.04" fill="url(#dr)" opacity="0.65"/><circle cx="12.8" cy="92.0" r="2.03" fill="url(#dr)" opacity="0.64"/><circle cx="16.8" cy="92.1" r="2.07" fill="url(#dr)" opacity="0.70"/><circle cx="20.7" cy="92.1" r="2.11" fill="url(#dm)" opacity="0.76"/><circle cx="24.3" cy="91.9" r="2.10" fill="url(#dm)" opacity="0.76"/><circle cx="27.7" cy="92.2" r="2.11" fill="url(#dm)" opacity="0.77"/><circle cx="30.8" cy="92.1" r="2.12" fill="url(#dm)" opacity="0.78"/><circle cx="34.9" cy="91.9" r="2.15" fill="url(#dm)" opacity="0.84"/><circle cx="39.1" cy="91.9" r="2.14" fill="url(#dm)" opacity="0.82"/><circle cx="42.8" cy="92.3" r="2.15" fill="url(#dm)" opacity="0.83"/><circle cx="46.3" cy="92.1" r="2.18" fill="url(#dg)" opacity="0.89"/><circle cx="50.5" cy="92.1" r="2.18" fill="url(#dg)" opacity="0.88"/><circle cx="55.2" cy="92.0" r="2.21" fill="url(#dg)" opacity="0.93"/><circle cx="58.6" cy="92.0" r="2.20" fill="url(#dg)" opacity="0.92"/><circle cx="62.0" cy="91.9" r="2.20" fill="url(#dg)" opacity="0.92"/><circle cx="66.2" cy="92.2" r="2.21" fill="url(#dg)" opacity="0.93"/><circle cx="70.8" cy="92.1" r="2.20" fill="url(#dg)" opacity="0.91"/><circle cx="74.3" cy="92.0" r="2.21" fill="url(#dg)" opacity="0.94"/><circle cx="77.9" cy="92.2" r="2.18" fill="url(#dg)" opacity="0.88"/><circle cx="82.1" cy="92.0" r="2.20" fill="url(#dg)" opacity="0.92"/><circle cx="87.0" cy="92.0" r="2.19" fill="url(#dg)" opacity="0.90"/><circle cx="90.8" cy="92.1" r="2.17" fill="url(#dg)" opacity="0.87"/><circle cx="94.8" cy="92.2" r="2.16" fill="url(#dg)" opacity="0.86"/><circle cx="98.3" cy="92.0" r="2.14" fill="url(#dm)" opacity="0.81"/><circle cx="103.0" cy="92.2" r="2.14" fill="url(#dm)" opacity="0.82"/><circle cx="106.5" cy="92.1" r="2.13" fill="url(#dm)" opacity="0.81"/><circle cx="110.0" cy="91.9" r="2.11" fill="url(#dm)" opacity="0.77"/><circle cx="114.0" cy="92.0" r="2.09" fill="url(#dm)" opacity="0.73"/><circle cx="118.1" cy="92.2" r="2.09" fill="url(#dm)" opacity="0.74"/><circle cx="122.5" cy="92.0" r="2.03" fill="url(#dr)" opacity="0.64"/><circle cx="12.9" cy="97.0" r="2.03" fill="url(#dr)" opacity="0.64"/><circle cx="16.6" cy="96.8" r="2.10" fill="url(#dm)" opacity="0.74"/><circle cx="20.6" cy="96.7" r="2.11" fill="url(#dm)" opacity="0.77"/><circle cx="24.1" cy="96.8" r="2.13" fill="url(#dm)" opacity="0.79"/><circle cx="27.8" cy="97.0" r="2.12" fill="url(#dm)" opacity="0.78"/><circle cx="30.6" cy="96.9" r="2.12" fill="url(#dm)" opacity="0.78"/><circle cx="34.6" cy="96.8" r="2.13" fill="url(#dm)" opacity="0.79"/><circle cx="39.2" cy="97.0" r="2.16" fill="url(#dg)" opacity="0.85"/><circle cx="42.6" cy="96.9" r="2.16" fill="url(#dg)" opacity="0.86"/><circle cx="46.1" cy="96.9" r="2.17" fill="url(#dg)" opacity="0.87"/><circle cx="50.7" cy="97.0" r="2.18" fill="url(#dg)" opacity="0.88"/><circle cx="55.1" cy="96.9" r="2.19" fill="url(#dg)" opacity="0.90"/><circle cx="58.6" cy="96.9" r="2.21" fill="url(#dg)" opacity="0.93"/><circle cx="62.2" cy="96.9" r="2.21" fill="url(#dg)" opacity="0.94"/><circle cx="66.4" cy="96.9" r="2.20" fill="url(#dg)" opacity="0.92"/><circle cx="70.6" cy="96.9" r="2.19" fill="url(#dg)" opacity="0.90"/><circle cx="74.4" cy="96.9" r="2.21" fill="url(#dg)" opacity="0.93"/><circle cx="78.2" cy="96.7" r="2.19" fill="url(#dg)" opacity="0.90"/><circle cx="82.2" cy="96.9" r="2.19" fill="url(#dg)" opacity="0.89"/><circle cx="87.1" cy="97.0" r="2.17" fill="url(#dg)" opacity="0.86"/><circle cx="91.0" cy="96.9" r="2.17" fill="url(#dg)" opacity="0.86"/><circle cx="94.7" cy="97.0" r="2.14" fill="url(#dm)" opacity="0.82"/><circle cx="98.4" cy="96.7" r="2.16" fill="url(#dg)" opacity="0.85"/><circle cx="103.1" cy="96.9" r="2.12" fill="url(#dm)" opacity="0.79"/><circle cx="106.7" cy="96.9" r="2.13" fill="url(#dm)" opacity="0.80"/><circle cx="110.0" cy="96.9" r="2.12" fill="url(#dm)" opacity="0.79"/><circle cx="113.9" cy="96.9" r="2.12" fill="url(#dm)" opacity="0.78"/><circle cx="118.1" cy="97.0" r="2.08" fill="url(#dm)" opacity="0.71"/><circle cx="122.8" cy="96.8" r="2.06" fill="url(#dr)" opacity="0.68"/><circle cx="12.9" cy="101.0" r="2.03" fill="url(#dr)" opacity="0.64"/><circle cx="16.6" cy="100.9" r="2.08" fill="url(#dr)" opacity="0.71"/><circle cx="20.4" cy="101.2" r="2.09" fill="url(#dm)" opacity="0.73"/><circle cx="24.1" cy="101.0" r="2.12" fill="url(#dm)" opacity="0.78"/><circle cx="27.8" cy="101.1" r="2.11" fill="url(#dm)" opacity="0.76"/><circle cx="30.8" cy="101.0" r="2.12" fill="url(#dm)" opacity="0.78"/><circle cx="34.5" cy="101.1" r="2.15" fill="url(#dm)" opacity="0.84"/><circle cx="39.2" cy="101.0" r="2.16" fill="url(#dg)" opacity="0.84"/><circle cx="42.5" cy="101.2" r="2.16" fill="url(#dg)" opacity="0.85"/><circle cx="46.3" cy="101.1" r="2.18" fill="url(#dg)" opacity="0.89"/><circle cx="50.6" cy="100.9" r="2.18" fill="url(#dg)" opacity="0.89"/><circle cx="54.9" cy="101.1" r="2.18" fill="url(#dg)" opacity="0.89"/><circle cx="58.8" cy="100.8" r="2.19" fill="url(#dg)" opacity="0.90"/><circle cx="61.9" cy="100.9" r="2.19" fill="url(#dg)" opacity="0.90"/><circle cx="66.2" cy="101.0" r="2.20" fill="url(#dg)" opacity="0.91"/><circle cx="70.6" cy="100.9" r="2.20" fill="url(#dg)" opacity="0.92"/><circle cx="74.4" cy="101.0" r="2.20" fill="url(#dg)" opacity="0.92"/><circle cx="78.1" cy="101.1" r="2.21" fill="url(#dg)" opacity="0.93"/><circle cx="82.1" cy="101.1" r="2.20" fill="url(#dg)" opacity="0.92"/><circle cx="87.2" cy="100.8" r="2.19" fill="url(#dg)" opacity="0.90"/><circle cx="91.0" cy="100.8" r="2.15" fill="url(#dm)" opacity="0.83"/><circle cx="94.9" cy="101.1" r="2.15" fill="url(#dm)" opacity="0.83"/><circle cx="98.3" cy="100.9" r="2.14" fill="url(#dm)" opacity="0.82"/><circle cx="103.0" cy="101.0" r="2.12" fill="url(#dm)" opacity="0.79"/><circle cx="106.8" cy="101.2" r="2.11" fill="url(#dm)" opacity="0.77"/><circle cx="110.1" cy="101.1" r="2.12" fill="url(#dm)" opacity="0.79"/><circle cx="114.0" cy="101.3" r="2.11" fill="url(#dm)" opacity="0.76"/><circle cx="118.4" cy="101.0" r="2.09" fill="url(#dm)" opacity="0.73"/><circle cx="122.8" cy="101.3" r="2.04" fill="url(#dr)" opacity="0.65"/><circle cx="13.0" cy="105.5" r="2.03" fill="url(#dr)" opacity="0.64"/><circle cx="16.5" cy="105.3" r="2.08" fill="url(#dm)" opacity="0.71"/><circle cx="20.2" cy="105.4" r="2.08" fill="url(#dm)" opacity="0.71"/><circle cx="24.1" cy="105.4" r="2.11" fill="url(#dm)" opacity="0.76"/><circle cx="27.7" cy="105.1" r="2.13" fill="url(#dm)" opacity="0.80"/><circle cx="30.6" cy="105.3" r="2.13" fill="url(#dm)" opacity="0.80"/><circle cx="34.8" cy="105.2" r="2.14" fill="url(#dm)" opacity="0.81"/><circle cx="39.4" cy="105.1" r="2.16" fill="url(#dg)" opacity="0.84"/><circle cx="42.7" cy="105.0" r="2.16" fill="url(#dg)" opacity="0.86"/><circle cx="46.3" cy="105.4" r="2.16" fill="url(#dg)" opacity="0.86"/><circle cx="50.7" cy="105.2" r="2.18" fill="url(#dg)" opacity="0.88"/><circle cx="55.2" cy="105.0" r="2.19" fill="url(#dg)" opacity="0.91"/><circle cx="58.7" cy="105.1" r="2.21" fill="url(#dg)" opacity="0.93"/><circle cx="62.0" cy="105.2" r="2.20" fill="url(#dg)" opacity="0.91"/><circle cx="66.5" cy="105.0" r="2.20" fill="url(#dg)" opacity="0.91"/><circle cx="70.6" cy="105.2" r="2.21" fill="url(#dg)" opacity="0.94"/><circle cx="74.3" cy="105.3" r="2.19" fill="url(#dg)" opacity="0.90"/><circle cx="78.1" cy="105.1" r="2.19" fill="url(#dg)" opacity="0.90"/><circle cx="82.4" cy="105.2" r="2.19" fill="url(#dg)" opacity="0.91"/><circle cx="87.0" cy="105.1" r="2.17" fill="url(#dg)" opacity="0.86"/><circle cx="91.0" cy="105.3" r="2.18" fill="url(#dg)" opacity="0.88"/><circle cx="94.5" cy="105.3" r="2.17" fill="url(#dg)" opacity="0.87"/><circle cx="98.5" cy="105.1" r="2.14" fill="url(#dm)" opacity="0.82"/><circle cx="102.8" cy="105.2" r="2.15" fill="url(#dm)" opacity="0.83"/><circle cx="106.7" cy="105.4" r="2.13" fill="url(#dm)" opacity="0.80"/><circle cx="110.2" cy="105.4" r="2.11" fill="url(#dm)" opacity="0.77"/><circle cx="114.0" cy="105.5" r="2.10" fill="url(#dm)" opacity="0.75"/><circle cx="118.3" cy="105.3" r="2.09" fill="url(#dm)" opacity="0.73"/><circle cx="122.8" cy="105.6" r="2.03" fill="url(#dr)" opacity="0.63"/><circle cx="12.7" cy="110.3" r="2.05" fill="url(#dr)" opacity="0.66"/><circle cx="16.7" cy="110.4" r="2.07" fill="url(#dr)" opacity="0.70"/><circle cx="20.5" cy="110.4" r="2.09" fill="url(#dm)" opacity="0.74"/><circle cx="24.0" cy="110.2" r="2.10" fill="url(#dm)" opacity="0.75"/><circle cx="27.5" cy="110.2" r="2.12" fill="url(#dm)" opacity="0.78"/><circle cx="30.8" cy="110.0" r="2.13" fill="url(#dm)" opacity="0.79"/><circle cx="34.4" cy="110.0" r="2.15" fill="url(#dm)" opacity="0.83"/><circle cx="39.2" cy="110.3" r="2.15" fill="url(#dm)" opacity="0.83"/><circle cx="42.4" cy="110.0" r="2.16" fill="url(#dg)" opacity="0.85"/><circle cx="46.4" cy="110.2" r="2.16" fill="url(#dg)" opacity="0.86"/><circle cx="50.5" cy="109.9" r="2.18" fill="url(#dg)" opacity="0.88"/><circle cx="54.9" cy="109.9" r="2.17" fill="url(#dg)" opacity="0.86"/><circle cx="58.5" cy="110.1" r="2.17" fill="url(#dg)" opacity="0.87"/><circle cx="62.2" cy="109.8" r="2.21" fill="url(#dg)" opacity="0.93"/><circle cx="66.2" cy="109.8" r="2.20" fill="url(#dg)" opacity="0.92"/><circle cx="70.6" cy="110.1" r="2.18" fill="url(#dg)" opacity="0.89"/><circle cx="74.2" cy="110.1" r="2.20" fill="url(#dg)" opacity="0.91"/><circle cx="78.3" cy="110.1" r="2.17" fill="url(#dg)" opacity="0.87"/><circle cx="82.3" cy="110.1" r="2.18" fill="url(#dg)" opacity="0.88"/><circle cx="87.3" cy="109.9" r="2.19" fill="url(#dg)" opacity="0.90"/><circle cx="91.1" cy="109.9" r="2.14" fill="url(#dm)" opacity="0.82"/><circle cx="94.8" cy="110.2" r="2.14" fill="url(#dm)" opacity="0.81"/><circle cx="98.4" cy="110.2" r="2.13" fill="url(#dm)" opacity="0.80"/><circle cx="103.1" cy="110.2" r="2.11" fill="url(#dm)" opacity="0.77"/><circle cx="106.7" cy="110.2" r="2.12" fill="url(#dm)" opacity="0.78"/><circle cx="110.1" cy="110.1" r="2.12" fill="url(#dm)" opacity="0.78"/><circle cx="113.9" cy="110.4" r="2.10" fill="url(#dm)" opacity="0.75"/><circle cx="118.3" cy="110.3" r="2.09" fill="url(#dm)" opacity="0.73"/><circle cx="123.0" cy="110.6" r="2.04" fill="url(#dr)" opacity="0.65"/><circle cx="12.7" cy="114.6" r="2.05" fill="url(#dr)" opacity="0.67"/><circle cx="16.6" cy="114.8" r="2.07" fill="url(#dr)" opacity="0.69"/><circle cx="20.4" cy="114.8" r="2.10" fill="url(#dm)" opacity="0.75"/><circle cx="24.1" cy="114.5" r="2.10" fill="url(#dm)" opacity="0.74"/><circle cx="27.7" cy="114.5" r="2.12" fill="url(#dm)" opacity="0.78"/><circle cx="30.6" cy="114.6" r="2.13" fill="url(#dm)" opacity="0.80"/><circle cx="34.5" cy="114.2" r="2.12" fill="url(#dm)" opacity="0.79"/><circle cx="39.1" cy="114.4" r="2.16" fill="url(#dg)" opacity="0.84"/><circle cx="42.7" cy="114.1" r="2.16" fill="url(#dg)" opacity="0.86"/><circle cx="46.3" cy="114.4" r="2.16" fill="url(#dg)" opacity="0.86"/><circle cx="50.4" cy="114.4" r="2.18" fill="url(#dg)" opacity="0.88"/><circle cx="55.1" cy="114.4" r="2.17" fill="url(#dg)" opacity="0.87"/><circle cx="58.5" cy="114.2" r="2.19" fill="url(#dg)" opacity="0.91"/><circle cx="61.9" cy="114.3" r="2.20" fill="url(#dg)" opacity="0.92"/><circle cx="66.2" cy="114.3" r="2.20" fill="url(#dg)" opacity="0.91"/><circle cx="70.7" cy="114.1" r="2.18" fill="url(#dg)" opacity="0.88"/><circle cx="74.5" cy="114.3" r="2.18" fill="url(#dg)" opacity="0.89"/><circle cx="78.0" cy="114.4" r="2.19" fill="url(#dg)" opacity="0.90"/><circle cx="82.2" cy="114.3" r="2.19" fill="url(#dg)" opacity="0.90"/><circle cx="87.3" cy="114.3" r="2.16" fill="url(#dg)" opacity="0.86"/><circle cx="91.1" cy="114.2" r="2.15" fill="url(#dm)" opacity="0.83"/><circle cx="94.6" cy="114.4" r="2.14" fill="url(#dm)" opacity="0.82"/><circle cx="98.5" cy="114.3" r="2.14" fill="url(#dm)" opacity="0.82"/><circle cx="102.9" cy="114.3" r="2.14" fill="url(#dm)" opacity="0.82"/><circle cx="106.7" cy="114.3" r="2.12" fill="url(#dm)" opacity="0.78"/><circle cx="110.2" cy="114.4" r="2.11" fill="url(#dm)" opacity="0.76"/><circle cx="114.0" cy="114.6" r="2.07" fill="url(#dr)" opacity="0.71"/><circle cx="118.2" cy="114.9" r="2.09" fill="url(#dm)" opacity="0.73"/><circle cx="122.9" cy="114.8" r="2.03" fill="url(#dr)" opacity="0.63"/><circle cx="12.8" cy="118.4" r="2.05" fill="url(#dr)" opacity="0.66"/><circle cx="16.6" cy="118.4" r="2.09" fill="url(#dm)" opacity="0.73"/><circle cx="20.2" cy="118.0" r="2.07" fill="url(#dr)" opacity="0.70"/><circle cx="23.9" cy="118.0" r="2.08" fill="url(#dm)" opacity="0.72"/><circle cx="27.5" cy="118.2" r="2.11" fill="url(#dm)" opacity="0.76"/><circle cx="30.7" cy="118.2" r="2.10" fill="url(#dm)" opacity="0.75"/><circle cx="34.6" cy="117.9" r="2.11" fill="url(#dm)" opacity="0.77"/><circle cx="39.3" cy="117.8" r="2.14" fill="url(#dm)" opacity="0.82"/><circle cx="42.6" cy="118.1" r="2.15" fill="url(#dg)" opacity="0.84"/><circle cx="46.1" cy="117.8" r="2.14" fill="url(#dm)" opacity="0.82"/><circle cx="50.7" cy="118.0" r="2.16" fill="url(#dg)" opacity="0.84"/><circle cx="54.8" cy="117.7" r="2.17" fill="url(#dg)" opacity="0.86"/><circle cx="58.8" cy="117.9" r="2.19" fill="url(#dg)" opacity="0.90"/><circle cx="61.8" cy="117.9" r="2.19" fill="url(#dg)" opacity="0.90"/><circle cx="66.4" cy="117.9" r="2.17" fill="url(#dg)" opacity="0.87"/><circle cx="70.5" cy="117.9" r="2.20" fill="url(#dg)" opacity="0.92"/><circle cx="74.5" cy="117.7" r="2.18" fill="url(#dg)" opacity="0.89"/><circle cx="78.3" cy="117.6" r="2.17" fill="url(#dg)" opacity="0.87"/><circle cx="82.2" cy="117.6" r="2.17" fill="url(#dg)" opacity="0.87"/><circle cx="87.0" cy="117.7" r="2.15" fill="url(#dm)" opacity="0.83"/><circle cx="91.1" cy="117.7" r="2.16" fill="url(#dg)" opacity="0.85"/><circle cx="94.7" cy="117.7" r="2.16" fill="url(#dg)" opacity="0.85"/><circle cx="98.4" cy="118.1" r="2.15" fill="url(#dm)" opacity="0.83"/><circle cx="103.2" cy="117.9" r="2.12" fill="url(#dm)" opacity="0.78"/><circle cx="106.6" cy="118.2" r="2.12" fill="url(#dm)" opacity="0.79"/><circle cx="110.2" cy="118.1" r="2.09" fill="url(#dm)" opacity="0.74"/><circle cx="114.2" cy="118.2" r="2.09" fill="url(#dm)" opacity="0.74"/><circle cx="118.3" cy="118.2" r="2.06" fill="url(#dr)" opacity="0.68"/><circle cx="123.0" cy="118.4" r="2.02" fill="url(#dr)" opacity="0.62"/><circle cx="12.8" cy="122.0" r="2.03" fill="url(#dr)" opacity="0.63"/><circle cx="16.3" cy="121.9" r="2.08" fill="url(#dm)" opacity="0.72"/><circle cx="20.2" cy="121.8" r="2.08" fill="url(#dm)" opacity="0.72"/><circle cx="23.9" cy="122.0" r="2.08" fill="url(#dm)" opacity="0.71"/><circle cx="27.6" cy="121.6" r="2.12" fill="url(#dm)" opacity="0.78"/><circle cx="30.6" cy="121.6" r="2.11" fill="url(#dm)" opacity="0.77"/><circle cx="34.4" cy="121.6" r="2.11" fill="url(#dm)" opacity="0.77"/><circle cx="39.0" cy="121.8" r="2.15" fill="url(#dm)" opacity="0.84"/><circle cx="42.7" cy="121.4" r="2.14" fill="url(#dm)" opacity="0.81"/><circle cx="46.3" cy="121.3" r="2.16" fill="url(#dg)" opacity="0.85"/><circle cx="50.4" cy="121.7" r="2.14" fill="url(#dm)" opacity="0.82"/><circle cx="55.1" cy="121.4" r="2.15" fill="url(#dg)" opacity="0.84"/><circle cx="58.5" cy="121.5" r="2.17" fill="url(#dg)" opacity="0.87"/><circle cx="61.9" cy="121.4" r="2.19" fill="url(#dg)" opacity="0.90"/><circle cx="66.2" cy="121.4" r="2.17" fill="url(#dg)" opacity="0.86"/><circle cx="70.6" cy="121.5" r="2.19" fill="url(#dg)" opacity="0.89"/><circle cx="74.3" cy="121.2" r="2.16" fill="url(#dg)" opacity="0.85"/><circle cx="78.2" cy="121.4" r="2.16" fill="url(#dg)" opacity="0.86"/><circle cx="82.2" cy="121.5" r="2.17" fill="url(#dg)" opacity="0.87"/><circle cx="87.3" cy="121.5" r="2.15" fill="url(#dm)" opacity="0.83"/><circle cx="90.9" cy="121.6" r="2.14" fill="url(#dm)" opacity="0.82"/><circle cx="94.9" cy="121.4" r="2.15" fill="url(#dm)" opacity="0.83"/><circle cx="98.5" cy="121.8" r="2.14" fill="url(#dm)" opacity="0.82"/><circle cx="103.1" cy="121.5" r="2.13" fill="url(#dm)" opacity="0.80"/><circle cx="106.8" cy="121.9" r="2.10" fill="url(#dm)" opacity="0.75"/><circle cx="110.1" cy="122.0" r="2.09" fill="url(#dm)" opacity="0.74"/><circle cx="114.0" cy="121.9" r="2.09" fill="url(#dm)" opacity="0.73"/><circle cx="118.3" cy="122.0" r="2.07" fill="url(#dr)" opacity="0.70"/><circle cx="123.0" cy="122.0" r="2.04" fill="url(#dr)" opacity="0.65"/><circle cx="12.7" cy="127.2" r="2.02" fill="url(#dr)" opacity="0.62"/><circle cx="16.4" cy="126.9" r="2.07" fill="url(#dr)" opacity="0.70"/><circle cx="20.0" cy="127.0" r="2.09" fill="url(#dm)" opacity="0.74"/><circle cx="23.9" cy="126.7" r="2.09" fill="url(#dm)" opacity="0.73"/><circle cx="27.4" cy="126.5" r="2.11" fill="url(#dm)" opacity="0.77"/><circle cx="30.3" cy="126.5" r="2.09" fill="url(#dm)" opacity="0.74"/><circle cx="34.4" cy="126.6" r="2.10" fill="url(#dm)" opacity="0.75"/><circle cx="38.9" cy="126.5" r="2.12" fill="url(#dm)" opacity="0.78"/><circle cx="42.3" cy="126.4" r="2.14" fill="url(#dm)" opacity="0.82"/><circle cx="46.1" cy="126.4" r="2.13" fill="url(#dm)" opacity="0.80"/><circle cx="50.6" cy="126.4" r="2.14" fill="url(#dm)" opacity="0.81"/><circle cx="54.8" cy="126.3" r="2.16" fill="url(#dg)" opacity="0.85"/><circle cx="58.6" cy="126.1" r="2.16" fill="url(#dg)" opacity="0.85"/><circle cx="61.9" cy="126.3" r="2.18" fill="url(#dg)" opacity="0.89"/><circle cx="66.2" cy="126.2" r="2.18" fill="url(#dg)" opacity="0.88"/><circle cx="70.6" cy="126.3" r="2.19" fill="url(#dg)" opacity="0.89"/><circle cx="74.4" cy="126.2" r="2.18" fill="url(#dg)" opacity="0.88"/><circle cx="78.2" cy="126.2" r="2.18" fill="url(#dg)" opacity="0.88"/><circle cx="82.4" cy="126.2" r="2.15" fill="url(#dm)" opacity="0.83"/><circle cx="87.1" cy="126.3" r="2.17" fill="url(#dg)" opacity="0.86"/><circle cx="91.2" cy="126.5" r="2.15" fill="url(#dm)" opacity="0.84"/><circle cx="95.0" cy="126.2" r="2.13" fill="url(#dm)" opacity="0.81"/><circle cx="98.8" cy="126.6" r="2.11" fill="url(#dm)" opacity="0.77"/><circle cx="103.1" cy="126.6" r="2.11" fill="url(#dm)" opacity="0.76"/><circle cx="106.9" cy="126.5" r="2.10" fill="url(#dm)" opacity="0.75"/><circle cx="110.3" cy="126.5" r="2.08" fill="url(#dm)" opacity="0.71"/><circle cx="114.4" cy="126.9" r="2.10" fill="url(#dm)" opacity="0.74"/><circle cx="118.6" cy="127.0" r="2.08" fill="url(#dm)" opacity="0.72"/><circle cx="123.2" cy="126.9" r="2.03" fill="url(#dr)" opacity="0.64"/><circle cx="12.4" cy="131.5" r="2.02" fill="url(#dr)" opacity="0.62"/><circle cx="16.3" cy="131.4" r="2.06" fill="url(#dr)" opacity="0.69"/><circle cx="20.0" cy="131.1" r="2.07" fill="url(#dr)" opacity="0.70"/><circle cx="24.0" cy="131.0" r="2.08" fill="url(#dr)" opacity="0.71"/><circle cx="27.4" cy="130.8" r="2.10" fill="url(#dm)" opacity="0.74"/><circle cx="30.6" cy="130.9" r="2.09" fill="url(#dm)" opacity="0.74"/><circle cx="34.4" cy="130.8" r="2.10" fill="url(#dm)" opacity="0.75"/><circle cx="38.8" cy="130.6" r="2.11" fill="url(#dm)" opacity="0.77"/><circle cx="42.4" cy="130.6" r="2.12" fill="url(#dm)" opacity="0.78"/><circle cx="45.9" cy="130.6" r="2.15" fill="url(#dm)" opacity="0.83"/><circle cx="50.5" cy="130.6" r="2.15" fill="url(#dm)" opacity="0.83"/><circle cx="54.9" cy="130.6" r="2.15" fill="url(#dm)" opacity="0.83"/><circle cx="58.7" cy="130.5" r="2.16" fill="url(#dg)" opacity="0.84"/><circle cx="61.9" cy="130.4" r="2.15" fill="url(#dm)" opacity="0.83"/><circle cx="66.3" cy="130.4" r="2.17" fill="url(#dg)" opacity="0.86"/><circle cx="70.5" cy="130.4" r="2.18" fill="url(#dg)" opacity="0.88"/><circle cx="74.3" cy="130.5" r="2.16" fill="url(#dg)" opacity="0.85"/><circle cx="78.1" cy="130.7" r="2.15" fill="url(#dm)" opacity="0.83"/><circle cx="82.5" cy="130.4" r="2.13" fill="url(#dm)" opacity="0.81"/><circle cx="87.3" cy="130.5" r="2.13" fill="url(#dm)" opacity="0.79"/><circle cx="91.1" cy="130.6" r="2.14" fill="url(#dm)" opacity="0.82"/><circle cx="94.7" cy="130.6" r="2.14" fill="url(#dm)" opacity="0.82"/><circle cx="98.7" cy="130.6" r="2.11" fill="url(#dm)" opacity="0.77"/><circle cx="103.1" cy="130.9" r="2.11" fill="url(#dm)" opacity="0.77"/><circle cx="107.1" cy="131.0" r="2.10" fill="url(#dm)" opacity="0.74"/><circle cx="110.4" cy="131.1" r="2.10" fill="url(#dm)" opacity="0.74"/><circle cx="114.2" cy="131.2" r="2.08" fill="url(#dm)" opacity="0.72"/><circle cx="118.8" cy="131.1" r="2.07" fill="url(#dr)" opacity="0.71"/><circle cx="122.9" cy="131.5" r="2.03" fill="url(#dr)" opacity="0.63"/><circle cx="12.4" cy="135.3" r="2.03" fill="url(#dr)" opacity="0.63"/><circle cx="16.2" cy="135.1" r="2.07" fill="url(#dr)" opacity="0.70"/><circle cx="20.1" cy="134.8" r="2.06" fill="url(#dr)" opacity="0.69"/><circle cx="23.8" cy="134.8" r="2.07" fill="url(#dr)" opacity="0.70"/><circle cx="27.2" cy="134.7" r="2.08" fill="url(#dm)" opacity="0.72"/><circle cx="30.3" cy="134.7" r="2.11" fill="url(#dm)" opacity="0.76"/><circle cx="34.4" cy="134.4" r="2.09" fill="url(#dm)" opacity="0.74"/><circle cx="38.9" cy="134.2" r="2.12" fill="url(#dm)" opacity="0.78"/><circle cx="42.4" cy="134.1" r="2.14" fill="url(#dm)" opacity="0.81"/><circle cx="46.0" cy="134.4" r="2.14" fill="url(#dm)" opacity="0.82"/><circle cx="50.6" cy="134.1" r="2.14" fill="url(#dm)" opacity="0.81"/><circle cx="55.1" cy="133.9" r="2.13" fill="url(#dm)" opacity="0.80"/><circle cx="58.7" cy="134.1" r="2.16" fill="url(#dg)" opacity="0.86"/><circle cx="62.1" cy="134.1" r="2.17" fill="url(#dg)" opacity="0.87"/><circle cx="66.3" cy="134.1" r="2.16" fill="url(#dg)" opacity="0.85"/><circle cx="70.6" cy="134.0" r="2.16" fill="url(#dg)" opacity="0.85"/><circle cx="74.4" cy="134.3" r="2.16" fill="url(#dg)" opacity="0.85"/><circle cx="78.2" cy="134.0" r="2.14" fill="url(#dm)" opacity="0.82"/><circle cx="82.3" cy="134.2" r="2.15" fill="url(#dm)" opacity="0.83"/><circle cx="87.4" cy="134.4" r="2.13" fill="url(#dm)" opacity="0.81"/><circle cx="91.1" cy="134.3" r="2.15" fill="url(#dm)" opacity="0.83"/><circle cx="94.9" cy="134.3" r="2.13" fill="url(#dm)" opacity="0.80"/><circle cx="98.6" cy="134.3" r="2.13" fill="url(#dm)" opacity="0.80"/><circle cx="103.4" cy="134.5" r="2.09" fill="url(#dm)" opacity="0.73"/><circle cx="107.1" cy="134.7" r="2.10" fill="url(#dm)" opacity="0.75"/><circle cx="110.5" cy="134.8" r="2.08" fill="url(#dm)" opacity="0.72"/><circle cx="114.2" cy="134.7" r="2.07" fill="url(#dr)" opacity="0.70"/><circle cx="118.7" cy="134.8" r="2.05" fill="url(#dr)" opacity="0.66"/><circle cx="123.3" cy="135.1" r="2.02" fill="url(#dr)" opacity="0.62"/><circle cx="12.6" cy="138.2" r="2.01" fill="url(#dr)" opacity="0.60"/><circle cx="16.1" cy="138.1" r="2.04" fill="url(#dr)" opacity="0.66"/><circle cx="20.1" cy="137.6" r="2.06" fill="url(#dr)" opacity="0.68"/><circle cx="23.9" cy="137.8" r="2.08" fill="url(#dm)" opacity="0.72"/><circle cx="27.1" cy="137.6" r="2.09" fill="url(#dm)" opacity="0.73"/><circle cx="30.2" cy="137.6" r="2.09" fill="url(#dm)" opacity="0.74"/><circle cx="34.6" cy="137.5" r="2.10" fill="url(#dm)" opacity="0.75"/><circle cx="38.8" cy="137.2" r="2.12" fill="url(#dm)" opacity="0.78"/><circle cx="42.2" cy="137.1" r="2.11" fill="url(#dm)" opacity="0.76"/><circle cx="46.1" cy="137.3" r="2.13" fill="url(#dm)" opacity="0.80"/><circle cx="50.5" cy="137.0" r="2.12" fill="url(#dm)" opacity="0.78"/><circle cx="55.1" cy="137.0" r="2.15" fill="url(#dm)" opacity="0.83"/><circle cx="58.6" cy="136.9" r="2.14" fill="url(#dm)" opacity="0.81"/><circle cx="61.8" cy="137.2" r="2.15" fill="url(#dm)" opacity="0.83"/><circle cx="66.3" cy="137.0" r="2.15" fill="url(#dm)" opacity="0.83"/><circle cx="70.5" cy="137.2" r="2.15" fill="url(#dm)" opacity="0.84"/><circle cx="74.6" cy="137.0" r="2.15" fill="url(#dm)" opacity="0.83"/><circle cx="78.1" cy="136.9" r="2.16" fill="url(#dg)" opacity="0.85"/><circle cx="82.5" cy="137.0" r="2.15" fill="url(#dm)" opacity="0.84"/><circle cx="87.4" cy="137.1" r="2.13" fill="url(#dm)" opacity="0.81"/><circle cx="91.4" cy="137.2" r="2.14" fill="url(#dm)" opacity="0.81"/><circle cx="94.8" cy="137.3" r="2.12" fill="url(#dm)" opacity="0.79"/><circle cx="98.6" cy="137.3" r="2.12" fill="url(#dm)" opacity="0.78"/><circle cx="103.3" cy="137.6" r="2.09" fill="url(#dm)" opacity="0.73"/><circle cx="106.9" cy="137.5" r="2.08" fill="url(#dr)" opacity="0.71"/><circle cx="110.6" cy="137.6" r="2.08" fill="url(#dm)" opacity="0.72"/><circle cx="114.2" cy="137.8" r="2.06" fill="url(#dr)" opacity="0.69"/><circle cx="118.7" cy="137.8" r="2.04" fill="url(#dr)" opacity="0.65"/><circle cx="123.4" cy="138.1" r="2.01" fill="url(#dr)" opacity="0.61"/><circle cx="12.2" cy="141.2" r="2.01" fill="url(#dr)" opacity="0.60"/><circle cx="15.9" cy="141.2" r="2.04" fill="url(#dr)" opacity="0.65"/><circle cx="19.8" cy="141.0" r="2.04" fill="url(#dr)" opacity="0.66"/><circle cx="23.6" cy="141.0" r="2.06" fill="url(#dr)" opacity="0.68"/><circle cx="27.2" cy="140.8" r="2.09" fill="url(#dm)" opacity="0.73"/><circle cx="30.1" cy="140.6" r="2.09" fill="url(#dm)" opacity="0.74"/><circle cx="34.3" cy="140.7" r="2.09" fill="url(#dm)" opacity="0.73"/><circle cx="39.1" cy="140.4" r="2.10" fill="url(#dm)" opacity="0.74"/><circle cx="42.3" cy="140.2" r="2.12" fill="url(#dm)" opacity="0.78"/><circle cx="45.9" cy="140.4" r="2.12" fill="url(#dm)" opacity="0.79"/><circle cx="50.3" cy="140.1" r="2.13" fill="url(#dm)" opacity="0.80"/><circle cx="54.8" cy="140.3" r="2.12" fill="url(#dm)" opacity="0.78"/><circle cx="58.6" cy="140.1" r="2.13" fill="url(#dm)" opacity="0.80"/><circle cx="62.1" cy="140.1" r="2.15" fill="url(#dm)" opacity="0.83"/><circle cx="66.4" cy="140.0" r="2.14" fill="url(#dm)" opacity="0.81"/><circle cx="70.5" cy="140.0" r="2.15" fill="url(#dg)" opacity="0.84"/><circle cx="74.4" cy="140.2" r="2.13" fill="url(#dm)" opacity="0.79"/><circle cx="78.3" cy="140.1" r="2.14" fill="url(#dm)" opacity="0.81"/><circle cx="82.3" cy="140.0" r="2.12" fill="url(#dm)" opacity="0.79"/><circle cx="87.1" cy="140.1" r="2.13" fill="url(#dm)" opacity="0.80"/><circle cx="91.1" cy="140.3" r="2.13" fill="url(#dm)" opacity="0.80"/><circle cx="95.1" cy="140.5" r="2.12" fill="url(#dm)" opacity="0.79"/><circle cx="98.6" cy="140.4" r="2.08" fill="url(#dm)" opacity="0.72"/><circle cx="103.4" cy="140.6" r="2.09" fill="url(#dm)" opacity="0.73"/><circle cx="107.0" cy="140.7" r="2.09" fill="url(#dm)" opacity="0.73"/><circle cx="110.3" cy="140.9" r="2.07" fill="url(#dr)" opacity="0.70"/><circle cx="114.5" cy="140.8" r="2.05" fill="url(#dr)" opacity="0.66"/><circle cx="118.9" cy="141.2" r="2.06" fill="url(#dr)" opacity="0.68"/><circle cx="123.1" cy="141.1" r="2.01" fill="url(#dr)" opacity="0.60"/><circle cx="12.1" cy="144.3" r="2.01" fill="url(#dr)" opacity="0.61"/><circle cx="15.8" cy="144.1" r="2.05" fill="url(#dr)" opacity="0.67"/><circle cx="19.8" cy="144.2" r="2.06" fill="url(#dr)" opacity="0.68"/><circle cx="23.8" cy="143.8" r="2.06" fill="url(#dr)" opacity="0.69"/><circle cx="27.2" cy="143.7" r="2.06" fill="url(#dr)" opacity="0.68"/><circle cx="30.4" cy="143.8" r="2.07" fill="url(#dr)" opacity="0.71"/><circle cx="34.1" cy="143.7" r="2.09" fill="url(#dm)" opacity="0.74"/><circle cx="38.7" cy="143.4" r="2.09" fill="url(#dm)" opacity="0.73"/><circle cx="42.4" cy="143.3" r="2.12" fill="url(#dm)" opacity="0.79"/><circle cx="46.1" cy="143.2" r="2.12" fill="url(#dm)" opacity="0.78"/><circle cx="50.3" cy="143.4" r="2.13" fill="url(#dm)" opacity="0.80"/><circle cx="54.8" cy="143.0" r="2.14" fill="url(#dm)" opacity="0.82"/><circle cx="58.6" cy="143.3" r="2.14" fill="url(#dm)" opacity="0.81"/><circle cx="62.1" cy="143.3" r="2.14" fill="url(#dm)" opacity="0.81"/><circle cx="66.3" cy="143.0" r="2.14" fill="url(#dm)" opacity="0.82"/><circle cx="70.7" cy="143.1" r="2.15" fill="url(#dm)" opacity="0.83"/><circle cx="74.3" cy="143.3" r="2.12" fill="url(#dm)" opacity="0.78"/><circle cx="78.3" cy="143.3" r="2.12" fill="url(#dm)" opacity="0.78"/><circle cx="82.4" cy="143.4" r="2.13" fill="url(#dm)" opacity="0.80"/><circle cx="87.3" cy="143.2" r="2.10" fill="url(#dm)" opacity="0.75"/><circle cx="91.2" cy="143.3" r="2.10" fill="url(#dm)" opacity="0.75"/><circle cx="94.9" cy="143.3" r="2.11" fill="url(#dm)" opacity="0.77"/><circle cx="98.8" cy="143.4" r="2.09" fill="url(#dm)" opacity="0.73"/><circle cx="103.4" cy="143.6" r="2.10" fill="url(#dm)" opacity="0.75"/><circle cx="107.1" cy="143.7" r="2.09" fill="url(#dm)" opacity="0.74"/><circle cx="110.3" cy="143.9" r="2.06" fill="url(#dr)" opacity="0.69"/><circle cx="114.6" cy="144.0" r="2.07" fill="url(#dr)" opacity="0.70"/><circle cx="118.7" cy="144.2" r="2.05" fill="url(#dr)" opacity="0.67"/><circle cx="123.4" cy="144.5" r="2.03" fill="url(#dr)" opacity="0.63"/><circle cx="12.0" cy="147.9" r="2.01" fill="url(#dr)" opacity="0.60"/><circle cx="15.8" cy="147.6" r="2.03" fill="url(#dr)" opacity="0.64"/><circle cx="19.7" cy="147.7" r="2.05" fill="url(#dr)" opacity="0.66"/><circle cx="23.5" cy="147.4" r="2.06" fill="url(#dr)" opacity="0.68"/><circle cx="27.0" cy="147.3" r="2.05" fill="url(#dr)" opacity="0.67"/><circle cx="30.0" cy="147.5" r="2.08" fill="url(#dm)" opacity="0.72"/><circle cx="34.1" cy="147.2" r="2.10" fill="url(#dm)" opacity="0.75"/><circle cx="38.8" cy="146.9" r="2.09" fill="url(#dm)" opacity="0.74"/><circle cx="42.3" cy="146.8" r="2.10" fill="url(#dm)" opacity="0.75"/><circle cx="45.8" cy="147.0" r="2.11" fill="url(#dm)" opacity="0.77"/><circle cx="50.4" cy="147.0" r="2.12" fill="url(#dm)" opacity="0.78"/><circle cx="54.8" cy="146.6" r="2.10" fill="url(#dm)" opacity="0.76"/><circle cx="58.4" cy="146.8" r="2.13" fill="url(#dm)" opacity="0.81"/><circle cx="61.9" cy="146.6" r="2.13" fill="url(#dm)" opacity="0.80"/><circle cx="66.5" cy="146.8" r="2.12" fill="url(#dm)" opacity="0.78"/><circle cx="70.8" cy="146.8" r="2.14" fill="url(#dm)" opacity="0.81"/><circle cx="74.4" cy="146.6" r="2.14" fill="url(#dm)" opacity="0.81"/><circle cx="78.2" cy="146.7" r="2.12" fill="url(#dm)" opacity="0.79"/><circle cx="82.4" cy="146.9" r="2.11" fill="url(#dm)" opacity="0.76"/><circle cx="87.1" cy="146.9" r="2.11" fill="url(#dm)" opacity="0.77"/><circle cx="91.4" cy="147.0" r="2.12" fill="url(#dm)" opacity="0.78"/><circle cx="95.2" cy="147.0" r="2.10" fill="url(#dm)" opacity="0.74"/><circle cx="98.7" cy="147.0" r="2.09" fill="url(#dm)" opacity="0.74"/><circle cx="103.2" cy="147.3" r="2.07" fill="url(#dr)" opacity="0.70"/><circle cx="107.1" cy="147.5" r="2.06" fill="url(#dr)" opacity="0.68"/><circle cx="110.4" cy="147.4" r="2.05" fill="url(#dr)" opacity="0.67"/><circle cx="114.6" cy="147.4" r="2.07" fill="url(#dr)" opacity="0.69"/><circle cx="119.0" cy="147.9" r="2.04" fill="url(#dr)" opacity="0.65"/><circle cx="123.4" cy="148.1" r="2.01" fill="url(#dr)" opacity="0.61"/><circle cx="12.1" cy="151.7" r="2.6" fill="url(#dg)"/><circle cx="12.1" cy="151.4" r="2.01" fill="url(#dr)" opacity="0.60"/><circle cx="16.0" cy="151.4" r="2.05" fill="url(#dr)" opacity="0.67"/><circle cx="19.6" cy="151.0" r="2.04" fill="url(#dr)" opacity="0.66"/><circle cx="23.6" cy="150.8" r="2.04" fill="url(#dr)" opacity="0.66"/><circle cx="26.9" cy="150.7" r="2.06" fill="url(#dr)" opacity="0.69"/><circle cx="30.3" cy="150.8" r="2.08" fill="url(#dm)" opacity="0.72"/><circle cx="34.4" cy="150.7" r="2.08" fill="url(#dm)" opacity="0.72"/><circle cx="38.9" cy="150.2" r="2.09" fill="url(#dm)" opacity="0.74"/><circle cx="42.3" cy="150.2" r="2.09" fill="url(#dm)" opacity="0.74"/><circle cx="46.1" cy="150.2" r="2.10" fill="url(#dm)" opacity="0.76"/><circle cx="50.2" cy="150.1" r="2.12" fill="url(#dm)" opacity="0.78"/><circle cx="54.7" cy="150.0" r="2.12" fill="url(#dm)" opacity="0.78"/><circle cx="58.6" cy="149.9" r="2.12" fill="url(#dm)" opacity="0.78"/><circle cx="61.9" cy="150.1" r="2.11" fill="url(#dm)" opacity="0.77"/><circle cx="66.3" cy="150.0" r="2.11" fill="url(#dm)" opacity="0.77"/><circle cx="70.6" cy="149.9" r="2.13" fill="url(#dm)" opacity="0.80"/><circle cx="74.5" cy="149.9" r="2.13" fill="url(#dm)" opacity="0.80"/><circle cx="78.2" cy="149.9" r="2.11" fill="url(#dm)" opacity="0.77"/><circle cx="82.3" cy="150.1" r="2.11" fill="url(#dm)" opacity="0.77"/><circle cx="87.2" cy="150.2" r="2.09" fill="url(#dm)" opacity="0.73"/><circle cx="91.3" cy="150.3" r="2.08" fill="url(#dm)" opacity="0.72"/><circle cx="95.0" cy="150.2" r="2.09" fill="url(#dm)" opacity="0.73"/><circle cx="99.0" cy="150.5" r="2.09" fill="url(#dm)" opacity="0.73"/><circle cx="103.5" cy="150.4" r="2.09" fill="url(#dm)" opacity="0.74"/><circle cx="107.3" cy="150.6" r="2.08" fill="url(#dm)" opacity="0.71"/><circle cx="110.6" cy="150.7" r="2.07" fill="url(#dr)" opacity="0.71"/><circle cx="114.6" cy="151.1" r="2.04" fill="url(#dr)" opacity="0.64"/><circle cx="119.1" cy="151.0" r="2.03" fill="url(#dr)" opacity="0.63"/><circle cx="123.5" cy="151.5" r="2.6" fill="url(#dg)"/><circle cx="123.5" cy="151.2" r="2.01" fill="url(#dr)" opacity="0.61"/></g>
<g><circle cx="74.5" cy="31.4" r="1.05" fill="url(#cg)" opacity="0.25"/><circle cx="24.2" cy="34.9" r="1.08" fill="url(#cg)" opacity="0.30"/><circle cx="30.6" cy="35.0" r="1.08" fill="url(#cg)" opacity="0.29"/><circle cx="34.7" cy="34.9" r="1.08" fill="url(#cg)" opacity="0.30"/><circle cx="39.2" cy="35.3" r="1.12" fill="url(#cg)" opacity="0.36"/><circle cx="42.8" cy="35.3" r="1.11" fill="url(#cg)" opacity="0.35"/><circle cx="46.4" cy="35.2" r="1.13" fill="url(#cg)" opacity="0.39"/><circle cx="50.7" cy="35.6" r="1.13" fill="url(#cg)" opacity="0.39"/><circle cx="55.1" cy="35.5" r="1.10" fill="url(#cg)" opacity="0.34"/><circle cx="58.8" cy="35.4" r="1.10" fill="url(#cg)" opacity="0.34"/><circle cx="61.9" cy="35.5" r="1.12" fill="url(#cg)" opacity="0.38"/><circle cx="66.2" cy="35.4" r="1.11" fill="url(#cg)" opacity="0.36"/><circle cx="70.5" cy="35.6" r="1.11" fill="url(#cg)" opacity="0.35"/><circle cx="74.5" cy="35.6" r="1.11" fill="url(#cg)" opacity="0.36"/><circle cx="78.0" cy="35.5" r="1.12" fill="url(#cg)" opacity="0.37"/><circle cx="82.1" cy="35.7" r="1.14" fill="url(#cg)" opacity="0.42"/><circle cx="87.0" cy="35.4" r="1.09" fill="url(#cg)" opacity="0.32"/><circle cx="90.8" cy="35.3" r="1.09" fill="url(#cg)" opacity="0.32"/><circle cx="94.8" cy="35.2" r="1.07" fill="url(#cg)" opacity="0.29"/><circle cx="98.5" cy="35.2" r="1.07" fill="url(#cg)" opacity="0.28"/><circle cx="102.9" cy="34.9" r="1.08" fill="url(#cg)" opacity="0.30"/><circle cx="106.8" cy="35.1" r="1.08" fill="url(#cg)" opacity="0.30"/><circle cx="113.9" cy="34.7" r="1.06" fill="url(#cg)" opacity="0.27"/><circle cx="24.4" cy="39.1" r="1.06" fill="url(#cg)" opacity="0.27"/><circle cx="27.9" cy="39.2" r="1.10" fill="url(#cg)" opacity="0.33"/><circle cx="30.7" cy="39.0" r="1.07" fill="url(#cg)" opacity="0.28"/><circle cx="34.6" cy="39.1" r="1.10" fill="url(#cg)" opacity="0.34"/><circle cx="39.4" cy="39.5" r="1.10" fill="url(#cg)" opacity="0.34"/><circle cx="42.8" cy="39.5" r="1.09" fill="url(#cg)" opacity="0.32"/><circle cx="46.4" cy="39.6" r="1.14" fill="url(#cg)" opacity="0.40"/><circle cx="50.7" cy="39.5" r="1.11" fill="url(#cg)" opacity="0.36"/><circle cx="55.2" cy="39.5" r="1.15" fill="url(#cg)" opacity="0.43"/><circle cx="58.9" cy="39.6" r="1.14" fill="url(#cg)" opacity="0.40"/><circle cx="62.2" cy="39.7" r="1.13" fill="url(#cg)" opacity="0.39"/><circle cx="66.2" cy="39.5" r="1.17" fill="url(#cg)" opacity="0.46"/><circle cx="70.8" cy="39.5" r="1.16" fill="url(#cg)" opacity="0.45"/><circle cx="74.6" cy="39.7" r="1.14" fill="url(#cg)" opacity="0.40"/><circle cx="78.1" cy="39.5" r="1.12" fill="url(#cg)" opacity="0.36"/><circle cx="82.4" cy="39.6" r="1.14" fill="url(#cg)" opacity="0.40"/><circle cx="87.2" cy="39.5" r="1.14" fill="url(#cg)" opacity="0.42"/><circle cx="91.0" cy="39.3" r="1.10" fill="url(#cg)" opacity="0.35"/><circle cx="94.5" cy="39.3" r="1.11" fill="url(#cg)" opacity="0.36"/><circle cx="98.2" cy="39.2" r="1.08" fill="url(#cg)" opacity="0.30"/><circle cx="103.0" cy="39.1" r="1.09" fill="url(#cg)" opacity="0.31"/><circle cx="106.6" cy="39.2" r="1.07" fill="url(#cg)" opacity="0.29"/><circle cx="110.0" cy="38.9" r="1.07" fill="url(#cg)" opacity="0.28"/><circle cx="113.8" cy="38.6" r="1.05" fill="url(#cg)" opacity="0.25"/><circle cx="118.0" cy="38.4" r="1.06" fill="url(#cg)" opacity="0.26"/><circle cx="24.4" cy="43.3" r="1.08" fill="url(#cg)" opacity="0.29"/><circle cx="27.8" cy="43.5" r="1.08" fill="url(#cg)" opacity="0.30"/><circle cx="30.8" cy="43.5" r="1.09" fill="url(#cg)" opacity="0.33"/><circle cx="34.9" cy="43.6" r="1.11" fill="url(#cg)" opacity="0.35"/><circle cx="39.3" cy="43.8" r="1.13" fill="url(#cg)" opacity="0.39"/><circle cx="42.9" cy="43.9" r="1.11" fill="url(#cg)" opacity="0.36"/><circle cx="46.3" cy="44.0" r="1.15" fill="url(#cg)" opacity="0.43"/><circle cx="50.5" cy="43.7" r="1.14" fill="url(#cg)" opacity="0.41"/><circle cx="54.9" cy="43.8" r="1.13" fill="url(#cg)" opacity="0.39"/><circle cx="58.8" cy="44.1" r="1.18" fill="url(#cg)" opacity="0.47"/><circle cx="61.9" cy="44.0" r="1.17" fill="url(#cg)" opacity="0.46"/><circle cx="66.2" cy="44.1" r="1.19" fill="url(#cg)" opacity="0.49"/><circle cx="70.5" cy="44.2" r="1.16" fill="url(#cg)" opacity="0.44"/><circle cx="74.4" cy="44.2" r="1.18" fill="url(#cg)" opacity="0.47"/><circle cx="78.0" cy="43.9" r="1.16" fill="url(#cg)" opacity="0.44"/><circle cx="82.1" cy="43.8" r="1.14" fill="url(#cg)" opacity="0.41"/><circle cx="87.1" cy="43.6" r="1.14" fill="url(#cg)" opacity="0.41"/><circle cx="90.9" cy="43.6" r="1.12" fill="url(#cg)" opacity="0.38"/><circle cx="94.7" cy="43.7" r="1.10" fill="url(#cg)" opacity="0.34"/><circle cx="98.5" cy="43.7" r="1.14" fill="url(#cg)" opacity="0.40"/><circle cx="102.7" cy="43.4" r="1.08" fill="url(#cg)" opacity="0.30"/><circle cx="106.6" cy="43.3" r="1.07" fill="url(#cg)" opacity="0.28"/><circle cx="109.8" cy="43.5" r="1.09" fill="url(#cg)" opacity="0.33"/><circle cx="113.7" cy="43.1" r="1.09" fill="url(#cg)" opacity="0.31"/><circle cx="16.9" cy="47.0" r="1.07" fill="url(#cg)" opacity="0.29"/><circle cx="20.4" cy="47.4" r="1.07" fill="url(#cg)" opacity="0.28"/><circle cx="24.3" cy="47.4" r="1.10" fill="url(#cg)" opacity="0.34"/><circle cx="27.7" cy="47.3" r="1.09" fill="url(#cg)" opacity="0.33"/><circle cx="30.7" cy="47.4" r="1.09" fill="url(#cg)" opacity="0.31"/><circle cx="34.6" cy="47.5" r="1.11" fill="url(#cg)" opacity="0.35"/><circle cx="39.2" cy="47.8" r="1.12" fill="url(#cg)" opacity="0.37"/><circle cx="42.7" cy="47.7" r="1.13" fill="url(#cg)" opacity="0.39"/><circle cx="46.1" cy="47.8" r="1.12" fill="url(#cg)" opacity="0.38"/><circle cx="50.7" cy="47.9" r="1.14" fill="url(#cg)" opacity="0.41"/><circle cx="55.1" cy="48.1" r="1.15" fill="url(#cg)" opacity="0.42"/><circle cx="58.9" cy="48.0" r="1.17" fill="url(#cg)" opacity="0.46"/><circle cx="62.2" cy="48.0" r="1.18" fill="url(#cg)" opacity="0.47"/><circle cx="66.4" cy="48.2" r="1.17" fill="url(#cg)" opacity="0.46"/><circle cx="70.8" cy="48.1" r="1.19" fill="url(#cg)" opacity="0.49"/><circle cx="74.3" cy="47.9" r="1.15" fill="url(#cg)" opacity="0.43"/><circle cx="77.9" cy="47.8" r="1.18" fill="url(#cg)" opacity="0.48"/><circle cx="82.1" cy="47.8" r="1.14" fill="url(#cg)" opacity="0.41"/><circle cx="87.1" cy="48.0" r="1.16" fill="url(#cg)" opacity="0.45"/><circle cx="90.8" cy="47.7" r="1.13" fill="url(#cg)" opacity="0.40"/><circle cx="94.6" cy="47.6" r="1.13" fill="url(#cg)" opacity="0.39"/><circle cx="98.2" cy="47.9" r="1.15" fill="url(#cg)" opacity="0.42"/><circle cx="102.8" cy="47.5" r="1.13" fill="url(#cg)" opacity="0.40"/><circle cx="106.4" cy="47.4" r="1.07" fill="url(#cg)" opacity="0.29"/><circle cx="109.8" cy="47.4" r="1.09" fill="url(#cg)" opacity="0.31"/><circle cx="118.0" cy="47.0" r="1.05" fill="url(#cg)" opacity="0.25"/><circle cx="16.9" cy="51.4" r="1.07" fill="url(#cg)" opacity="0.29"/><circle cx="20.8" cy="51.4" r="1.07" fill="url(#cg)" opacity="0.28"/><circle cx="24.5" cy="51.4" r="1.10" fill="url(#cg)" opacity="0.34"/><circle cx="27.8" cy="51.5" r="1.12" fill="url(#cg)" opacity="0.37"/><circle cx="30.9" cy="51.8" r="1.13" fill="url(#cg)" opacity="0.38"/><circle cx="34.9" cy="51.7" r="1.13" fill="url(#cg)" opacity="0.39"/><circle cx="39.3" cy="52.0" r="1.16" fill="url(#cg)" opacity="0.44"/><circle cx="42.8" cy="52.0" r="1.17" fill="url(#cg)" opacity="0.46"/><circle cx="46.4" cy="52.1" r="1.15" fill="url(#cg)" opacity="0.42"/><circle cx="50.4" cy="51.9" r="1.16" fill="url(#cg)" opacity="0.45"/><circle cx="55.0" cy="52.2" r="1.18" fill="url(#cg)" opacity="0.48"/><circle cx="58.8" cy="52.2" r="1.19" fill="url(#cg)" opacity="0.50"/><circle cx="62.1" cy="51.9" r="1.20" fill="url(#cg)" opacity="0.52"/><circle cx="66.5" cy="52.1" r="1.19" fill="url(#cg)" opacity="0.50"/><circle cx="70.7" cy="52.0" r="1.20" fill="url(#cg)" opacity="0.52"/><circle cx="74.3" cy="52.0" r="1.18" fill="url(#cg)" opacity="0.47"/><circle cx="78.2" cy="52.0" r="1.20" fill="url(#cg)" opacity="0.50"/><circle cx="82.4" cy="52.1" r="1.17" fill="url(#cg)" opacity="0.46"/><circle cx="87.0" cy="52.1" r="1.18" fill="url(#cg)" opacity="0.48"/><circle cx="90.9" cy="52.0" r="1.13" fill="url(#cg)" opacity="0.40"/><circle cx="94.5" cy="51.8" r="1.16" fill="url(#cg)" opacity="0.44"/><circle cx="98.2" cy="51.9" r="1.11" fill="url(#cg)" opacity="0.35"/><circle cx="102.6" cy="51.7" r="1.13" fill="url(#cg)" opacity="0.39"/><circle cx="106.6" cy="51.8" r="1.10" fill="url(#cg)" opacity="0.33"/><circle cx="109.8" cy="51.6" r="1.09" fill="url(#cg)" opacity="0.33"/><circle cx="113.6" cy="51.7" r="1.06" fill="url(#cg)" opacity="0.28"/><circle cx="17.0" cy="55.6" r="1.07" fill="url(#cg)" opacity="0.29"/><circle cx="20.5" cy="55.9" r="1.11" fill="url(#cg)" opacity="0.35"/><circle cx="24.2" cy="56.1" r="1.10" fill="url(#cg)" opacity="0.34"/><circle cx="27.9" cy="56.1" r="1.10" fill="url(#cg)" opacity="0.33"/><circle cx="31.0" cy="56.1" r="1.10" fill="url(#cg)" opacity="0.34"/><circle cx="34.6" cy="56.2" r="1.13" fill="url(#cg)" opacity="0.40"/><circle cx="39.2" cy="56.1" r="1.14" fill="url(#cg)" opacity="0.41"/><circle cx="42.6" cy="56.4" r="1.14" fill="url(#cg)" opacity="0.40"/><circle cx="46.4" cy="56.5" r="1.15" fill="url(#cg)" opacity="0.43"/><circle cx="50.8" cy="56.5" r="1.20" fill="url(#cg)" opacity="0.52"/><circle cx="55.0" cy="56.4" r="1.19" fill="url(#cg)" opacity="0.49"/><circle cx="58.9" cy="56.5" r="1.19" fill="url(#cg)" opacity="0.50"/><circle cx="62.0" cy="56.4" r="1.18" fill="url(#cg)" opacity="0.48"/><circle cx="66.2" cy="56.6" r="1.20" fill="url(#cg)" opacity="0.51"/><circle cx="70.8" cy="56.4" r="1.19" fill="url(#cg)" opacity="0.50"/><circle cx="74.4" cy="56.3" r="1.20" fill="url(#cg)" opacity="0.50"/><circle cx="78.3" cy="56.6" r="1.21" fill="url(#cg)" opacity="0.53"/><circle cx="82.2" cy="56.6" r="1.21" fill="url(#cg)" opacity="0.53"/><circle cx="87.0" cy="56.5" r="1.15" fill="url(#cg)" opacity="0.43"/><circle cx="91.0" cy="56.3" r="1.18" fill="url(#cg)" opacity="0.48"/><circle cx="94.7" cy="56.2" r="1.13" fill="url(#cg)" opacity="0.40"/><circle cx="98.5" cy="56.1" r="1.14" fill="url(#cg)" opacity="0.41"/><circle cx="102.7" cy="56.1" r="1.14" fill="url(#cg)" opacity="0.41"/><circle cx="106.7" cy="56.0" r="1.13" fill="url(#cg)" opacity="0.38"/><circle cx="109.8" cy="56.0" r="1.10" fill="url(#cg)" opacity="0.34"/><circle cx="113.6" cy="55.8" r="1.07" fill="url(#cg)" opacity="0.29"/><circle cx="118.2" cy="55.8" r="1.06" fill="url(#cg)" opacity="0.26"/><circle cx="16.8" cy="60.2" r="1.06" fill="url(#cg)" opacity="0.27"/><circle cx="20.5" cy="60.5" r="1.11" fill="url(#cg)" opacity="0.36"/><circle cx="24.5" cy="60.5" r="1.10" fill="url(#cg)" opacity="0.34"/><circle cx="27.8" cy="60.6" r="1.11" fill="url(#cg)" opacity="0.36"/><circle cx="30.6" cy="60.6" r="1.16" fill="url(#cg)" opacity="0.44"/><circle cx="34.7" cy="60.7" r="1.15" fill="url(#cg)" opacity="0.43"/><circle cx="39.4" cy="60.7" r="1.15" fill="url(#cg)" opacity="0.43"/><circle cx="42.6" cy="60.8" r="1.17" fill="url(#cg)" opacity="0.46"/><circle cx="46.5" cy="61.0" r="1.20" fill="url(#cg)" opacity="0.52"/><circle cx="50.4" cy="60.7" r="1.21" fill="url(#cg)" opacity="0.52"/><circle cx="55.3" cy="60.9" r="1.21" fill="url(#cg)" opacity="0.53"/><circle cx="58.5" cy="60.9" r="1.23" fill="url(#cg)" opacity="0.57"/><circle cx="62.2" cy="61.1" r="1.24" fill="url(#cg)" opacity="0.58"/><circle cx="66.3" cy="60.8" r="1.20" fill="url(#cg)" opacity="0.52"/><circle cx="70.7" cy="61.1" r="1.24" fill="url(#cg)" opacity="0.59"/><circle cx="74.5" cy="61.0" r="1.23" fill="url(#cg)" opacity="0.56"/><circle cx="78.1" cy="61.0" r="1.19" fill="url(#cg)" opacity="0.49"/><circle cx="82.3" cy="60.8" r="1.22" fill="url(#cg)" opacity="0.55"/><circle cx="87.0" cy="60.8" r="1.17" fill="url(#cg)" opacity="0.46"/><circle cx="90.8" cy="60.9" r="1.19" fill="url(#cg)" opacity="0.49"/><circle cx="94.4" cy="60.7" r="1.17" fill="url(#cg)" opacity="0.46"/><circle cx="98.3" cy="60.7" r="1.14" fill="url(#cg)" opacity="0.41"/><circle cx="102.8" cy="60.5" r="1.13" fill="url(#cg)" opacity="0.39"/><circle cx="106.5" cy="60.8" r="1.13" fill="url(#cg)" opacity="0.40"/><circle cx="110.0" cy="60.6" r="1.10" fill="url(#cg)" opacity="0.34"/><circle cx="113.6" cy="60.7" r="1.11" fill="url(#cg)" opacity="0.35"/><circle cx="118.0" cy="60.2" r="1.08" fill="url(#cg)" opacity="0.30"/><circle cx="16.6" cy="65.1" r="1.08" fill="url(#cg)" opacity="0.30"/><circle cx="20.7" cy="65.2" r="1.11" fill="url(#cg)" opacity="0.36"/><circle cx="24.4" cy="65.3" r="1.10" fill="url(#cg)" opacity="0.34"/><circle cx="28.0" cy="65.3" r="1.15" fill="url(#cg)" opacity="0.42"/><circle cx="30.7" cy="65.3" r="1.16" fill="url(#cg)" opacity="0.43"/><circle cx="34.7" cy="65.7" r="1.16" fill="url(#cg)" opacity="0.44"/><circle cx="39.2" cy="65.4" r="1.17" fill="url(#cg)" opacity="0.46"/><circle cx="42.8" cy="65.8" r="1.17" fill="url(#cg)" opacity="0.45"/><circle cx="46.3" cy="65.5" r="1.22" fill="url(#cg)" opacity="0.55"/><circle cx="50.5" cy="65.5" r="1.18" fill="url(#cg)" opacity="0.49"/><circle cx="55.1" cy="65.8" r="1.24" fill="url(#cg)" opacity="0.58"/><circle cx="58.8" cy="65.9" r="1.25" fill="url(#cg)" opacity="0.59"/><circle cx="62.0" cy="65.6" r="1.25" fill="url(#cg)" opacity="0.60"/><circle cx="66.5" cy="65.5" r="1.24" fill="url(#cg)" opacity="0.59"/><circle cx="70.6" cy="65.7" r="1.22" fill="url(#cg)" opacity="0.55"/><circle cx="74.2" cy="65.5" r="1.22" fill="url(#cg)" opacity="0.54"/><circle cx="78.0" cy="65.9" r="1.20" fill="url(#cg)" opacity="0.52"/><circle cx="82.4" cy="65.6" r="1.21" fill="url(#cg)" opacity="0.52"/><circle cx="87.1" cy="65.8" r="1.20" fill="url(#cg)" opacity="0.51"/><circle cx="90.7" cy="65.6" r="1.18" fill="url(#cg)" opacity="0.49"/><circle cx="94.8" cy="65.4" r="1.17" fill="url(#cg)" opacity="0.46"/><circle cx="98.5" cy="65.3" r="1.16" fill="url(#cg)" opacity="0.45"/><circle cx="102.9" cy="65.6" r="1.13" fill="url(#cg)" opacity="0.38"/><circle cx="106.3" cy="65.2" r="1.16" fill="url(#cg)" opacity="0.44"/><circle cx="109.7" cy="65.5" r="1.14" fill="url(#cg)" opacity="0.41"/><circle cx="113.7" cy="65.2" r="1.13" fill="url(#cg)" opacity="0.39"/><circle cx="118.1" cy="65.1" r="1.10" fill="url(#cg)" opacity="0.33"/><circle cx="17.0" cy="69.3" r="1.07" fill="url(#cg)" opacity="0.29"/><circle cx="20.6" cy="69.8" r="1.13" fill="url(#cg)" opacity="0.39"/><circle cx="24.3" cy="69.5" r="1.12" fill="url(#cg)" opacity="0.37"/><circle cx="27.8" cy="69.9" r="1.12" fill="url(#cg)" opacity="0.37"/><circle cx="30.9" cy="69.8" r="1.17" fill="url(#cg)" opacity="0.45"/><circle cx="34.9" cy="69.8" r="1.16" fill="url(#cg)" opacity="0.44"/><circle cx="39.2" cy="69.8" r="1.20" fill="url(#cg)" opacity="0.51"/><circle cx="42.5" cy="69.7" r="1.21" fill="url(#cg)" opacity="0.52"/><circle cx="46.2" cy="69.7" r="1.18" fill="url(#cg)" opacity="0.48"/><circle cx="50.6" cy="69.8" r="1.24" fill="url(#cg)" opacity="0.59"/><circle cx="55.3" cy="70.1" r="1.22" fill="url(#cg)" opacity="0.54"/><circle cx="58.6" cy="69.8" r="1.23" fill="url(#cg)" opacity="0.57"/><circle cx="62.1" cy="69.9" r="1.23" fill="url(#cg)" opacity="0.56"/><circle cx="66.3" cy="70.0" r="1.25" fill="url(#cg)" opacity="0.61"/><circle cx="70.8" cy="70.1" r="1.25" fill="url(#cg)" opacity="0.60"/><circle cx="74.2" cy="70.1" r="1.23" fill="url(#cg)" opacity="0.56"/><circle cx="78.1" cy="69.9" r="1.24" fill="url(#cg)" opacity="0.59"/><circle cx="82.1" cy="69.8" r="1.21" fill="url(#cg)" opacity="0.53"/><circle cx="86.8" cy="70.0" r="1.22" fill="url(#cg)" opacity="0.54"/><circle cx="90.8" cy="69.8" r="1.23" fill="url(#cg)" opacity="0.56"/><circle cx="94.6" cy="69.7" r="1.20" fill="url(#cg)" opacity="0.52"/><circle cx="98.4" cy="70.0" r="1.15" fill="url(#cg)" opacity="0.43"/><circle cx="102.8" cy="69.9" r="1.18" fill="url(#cg)" opacity="0.47"/><circle cx="106.7" cy="69.5" r="1.13" fill="url(#cg)" opacity="0.39"/><circle cx="109.7" cy="69.5" r="1.15" fill="url(#cg)" opacity="0.43"/><circle cx="113.8" cy="69.8" r="1.10" fill="url(#cg)" opacity="0.34"/><circle cx="118.2" cy="69.5" r="1.08" fill="url(#cg)" opacity="0.30"/><circle cx="16.8" cy="74.3" r="1.08" fill="url(#cg)" opacity="0.30"/><circle cx="20.5" cy="74.5" r="1.12" fill="url(#cg)" opacity="0.37"/><circle cx="24.2" cy="74.3" r="1.12" fill="url(#cg)" opacity="0.37"/><circle cx="27.8" cy="74.4" r="1.13" fill="url(#cg)" opacity="0.40"/><circle cx="30.7" cy="74.7" r="1.16" fill="url(#cg)" opacity="0.44"/><circle cx="34.6" cy="74.5" r="1.17" fill="url(#cg)" opacity="0.46"/><circle cx="39.3" cy="74.7" r="1.17" fill="url(#cg)" opacity="0.46"/><circle cx="42.6" cy="74.8" r="1.20" fill="url(#cg)" opacity="0.51"/><circle cx="46.2" cy="74.6" r="1.24" fill="url(#cg)" opacity="0.58"/><circle cx="50.5" cy="74.8" r="1.22" fill="url(#cg)" opacity="0.55"/><circle cx="55.1" cy="74.9" r="1.26" fill="url(#cg)" opacity="0.62"/><circle cx="58.7" cy="74.6" r="1.26" fill="url(#cg)" opacity="0.61"/><circle cx="61.9" cy="74.6" r="1.27" fill="url(#cg)" opacity="0.64"/><circle cx="66.3" cy="74.9" r="1.25" fill="url(#cg)" opacity="0.60"/><circle cx="70.8" cy="74.7" r="1.24" fill="url(#cg)" opacity="0.58"/><circle cx="74.2" cy="74.8" r="1.26" fill="url(#cg)" opacity="0.61"/><circle cx="78.3" cy="74.6" r="1.25" fill="url(#cg)" opacity="0.60"/><circle cx="82.1" cy="74.7" r="1.22" fill="url(#cg)" opacity="0.54"/><circle cx="86.9" cy="74.7" r="1.24" fill="url(#cg)" opacity="0.59"/><circle cx="90.7" cy="74.7" r="1.23" fill="url(#cg)" opacity="0.56"/><circle cx="94.8" cy="74.6" r="1.18" fill="url(#cg)" opacity="0.47"/><circle cx="98.5" cy="74.8" r="1.18" fill="url(#cg)" opacity="0.48"/><circle cx="102.6" cy="74.8" r="1.16" fill="url(#cg)" opacity="0.44"/><circle cx="106.7" cy="74.6" r="1.17" fill="url(#cg)" opacity="0.45"/><circle cx="109.7" cy="74.7" r="1.12" fill="url(#cg)" opacity="0.37"/><circle cx="113.7" cy="74.6" r="1.13" fill="url(#cg)" opacity="0.40"/><circle cx="117.9" cy="74.3" r="1.09" fill="url(#cg)" opacity="0.32"/><circle cx="13.0" cy="79.1" r="1.06" fill="url(#cg)" opacity="0.27"/><circle cx="16.6" cy="79.1" r="1.11" fill="url(#cg)" opacity="0.35"/><circle cx="20.4" cy="79.2" r="1.10" fill="url(#cg)" opacity="0.33"/><circle cx="24.4" cy="79.1" r="1.14" fill="url(#cg)" opacity="0.41"/><circle cx="27.7" cy="79.1" r="1.15" fill="url(#cg)" opacity="0.43"/><circle cx="30.7" cy="79.2" r="1.16" fill="url(#cg)" opacity="0.44"/><circle cx="34.8" cy="79.0" r="1.19" fill="url(#cg)" opacity="0.49"/><circle cx="39.3" cy="79.1" r="1.21" fill="url(#cg)" opacity="0.53"/><circle cx="42.8" cy="79.2" r="1.19" fill="url(#cg)" opacity="0.50"/><circle cx="46.3" cy="79.1" r="1.20" fill="url(#cg)" opacity="0.52"/><circle cx="50.6" cy="79.1" r="1.23" fill="url(#cg)" opacity="0.57"/><circle cx="55.1" cy="79.1" r="1.25" fill="url(#cg)" opacity="0.61"/><circle cx="58.6" cy="79.4" r="1.27" fill="url(#cg)" opacity="0.63"/><circle cx="62.1" cy="79.1" r="1.26" fill="url(#cg)" opacity="0.62"/><circle cx="66.3" cy="79.5" r="1.25" fill="url(#cg)" opacity="0.59"/><circle cx="70.8" cy="79.5" r="1.28" fill="url(#cg)" opacity="0.64"/><circle cx="74.5" cy="79.2" r="1.28" fill="url(#cg)" opacity="0.66"/><circle cx="78.1" cy="79.5" r="1.27" fill="url(#cg)" opacity="0.64"/><circle cx="82.1" cy="79.4" r="1.27" fill="url(#cg)" opacity="0.63"/><circle cx="86.8" cy="79.2" r="1.24" fill="url(#cg)" opacity="0.59"/><circle cx="90.8" cy="79.4" r="1.21" fill="url(#cg)" opacity="0.52"/><circle cx="94.7" cy="79.1" r="1.21" fill="url(#cg)" opacity="0.52"/><circle cx="98.5" cy="79.1" r="1.18" fill="url(#cg)" opacity="0.48"/><circle cx="102.8" cy="79.1" r="1.15" fill="url(#cg)" opacity="0.42"/><circle cx="106.4" cy="79.0" r="1.18" fill="url(#cg)" opacity="0.48"/><circle cx="109.9" cy="79.3" r="1.12" fill="url(#cg)" opacity="0.38"/><circle cx="113.9" cy="78.9" r="1.12" fill="url(#cg)" opacity="0.38"/><circle cx="118.1" cy="79.0" r="1.12" fill="url(#cg)" opacity="0.37"/><circle cx="122.6" cy="79.1" r="1.06" fill="url(#cg)" opacity="0.27"/><circle cx="12.9" cy="83.4" r="1.05" fill="url(#cg)" opacity="0.26"/><circle cx="16.7" cy="83.4" r="1.09" fill="url(#cg)" opacity="0.32"/><circle cx="20.8" cy="83.3" r="1.11" fill="url(#cg)" opacity="0.36"/><circle cx="24.4" cy="83.3" r="1.12" fill="url(#cg)" opacity="0.38"/><circle cx="27.8" cy="83.1" r="1.17" fill="url(#cg)" opacity="0.46"/><circle cx="30.7" cy="83.4" r="1.19" fill="url(#cg)" opacity="0.50"/><circle cx="34.8" cy="83.4" r="1.18" fill="url(#cg)" opacity="0.47"/><circle cx="39.1" cy="83.2" r="1.19" fill="url(#cg)" opacity="0.49"/><circle cx="42.7" cy="83.4" r="1.22" fill="url(#cg)" opacity="0.54"/><circle cx="46.5" cy="83.2" r="1.22" fill="url(#cg)" opacity="0.54"/><circle cx="50.7" cy="83.2" r="1.22" fill="url(#cg)" opacity="0.54"/><circle cx="55.1" cy="83.3" r="1.25" fill="url(#cg)" opacity="0.59"/><circle cx="58.6" cy="83.4" r="1.27" fill="url(#cg)" opacity="0.63"/><circle cx="61.9" cy="83.5" r="1.27" fill="url(#cg)" opacity="0.63"/><circle cx="66.2" cy="83.6" r="1.26" fill="url(#cg)" opacity="0.62"/><circle cx="70.5" cy="83.3" r="1.28" fill="url(#cg)" opacity="0.65"/><circle cx="74.5" cy="83.5" r="1.26" fill="url(#cg)" opacity="0.62"/><circle cx="78.0" cy="83.2" r="1.27" fill="url(#cg)" opacity="0.63"/><circle cx="82.2" cy="83.3" r="1.26" fill="url(#cg)" opacity="0.61"/><circle cx="87.0" cy="83.6" r="1.25" fill="url(#cg)" opacity="0.60"/><circle cx="90.8" cy="83.6" r="1.20" fill="url(#cg)" opacity="0.51"/><circle cx="94.6" cy="83.3" r="1.20" fill="url(#cg)" opacity="0.51"/><circle cx="98.2" cy="83.5" r="1.17" fill="url(#cg)" opacity="0.46"/><circle cx="102.9" cy="83.5" r="1.16" fill="url(#cg)" opacity="0.44"/><circle cx="106.4" cy="83.4" r="1.16" fill="url(#cg)" opacity="0.45"/><circle cx="109.9" cy="83.4" r="1.13" fill="url(#cg)" opacity="0.39"/><circle cx="113.7" cy="83.2" r="1.10" fill="url(#cg)" opacity="0.34"/><circle cx="118.3" cy="83.4" r="1.12" fill="url(#cg)" opacity="0.36"/><circle cx="122.4" cy="83.4" r="1.06" fill="url(#cg)" opacity="0.26"/><circle cx="16.6" cy="87.0" r="1.09" fill="url(#cg)" opacity="0.32"/><circle cx="20.4" cy="87.1" r="1.14" fill="url(#cg)" opacity="0.40"/><circle cx="24.4" cy="87.3" r="1.15" fill="url(#cg)" opacity="0.43"/><circle cx="27.6" cy="87.2" r="1.16" fill="url(#cg)" opacity="0.43"/><circle cx="30.9" cy="87.2" r="1.16" fill="url(#cg)" opacity="0.44"/><circle cx="34.8" cy="87.4" r="1.18" fill="url(#cg)" opacity="0.47"/><circle cx="39.4" cy="87.0" r="1.20" fill="url(#cg)" opacity="0.51"/><circle cx="42.6" cy="87.3" r="1.24" fill="url(#cg)" opacity="0.59"/><circle cx="46.4" cy="87.2" r="1.25" fill="url(#cg)" opacity="0.61"/><circle cx="50.5" cy="87.1" r="1.27" fill="url(#cg)" opacity="0.63"/><circle cx="55.2" cy="87.3" r="1.27" fill="url(#cg)" opacity="0.63"/><circle cx="58.9" cy="87.2" r="1.28" fill="url(#cg)" opacity="0.66"/><circle cx="62.1" cy="87.4" r="1.27" fill="url(#cg)" opacity="0.63"/><circle cx="66.4" cy="87.3" r="1.27" fill="url(#cg)" opacity="0.63"/><circle cx="70.5" cy="87.3" r="1.25" fill="url(#cg)" opacity="0.61"/><circle cx="74.5" cy="87.1" r="1.25" fill="url(#cg)" opacity="0.59"/><circle cx="77.9" cy="87.4" r="1.26" fill="url(#cg)" opacity="0.61"/><circle cx="82.1" cy="87.1" r="1.23" fill="url(#cg)" opacity="0.57"/><circle cx="87.1" cy="87.3" r="1.25" fill="url(#cg)" opacity="0.60"/><circle cx="91.0" cy="87.1" r="1.23" fill="url(#cg)" opacity="0.57"/><circle cx="94.6" cy="87.4" r="1.23" fill="url(#cg)" opacity="0.57"/><circle cx="98.5" cy="87.1" r="1.22" fill="url(#cg)" opacity="0.55"/><circle cx="103.0" cy="87.4" r="1.16" fill="url(#cg)" opacity="0.45"/><circle cx="106.5" cy="87.1" r="1.14" fill="url(#cg)" opacity="0.41"/><circle cx="110.0" cy="87.3" r="1.16" fill="url(#cg)" opacity="0.44"/><circle cx="113.9" cy="87.3" r="1.12" fill="url(#cg)" opacity="0.37"/><circle cx="118.0" cy="87.0" r="1.12" fill="url(#cg)" opacity="0.37"/><circle cx="16.8" cy="92.1" r="1.10" fill="url(#cg)" opacity="0.33"/><circle cx="20.7" cy="92.1" r="1.14" fill="url(#cg)" opacity="0.41"/><circle cx="24.3" cy="91.9" r="1.14" fill="url(#cg)" opacity="0.41"/><circle cx="27.7" cy="92.2" r="1.15" fill="url(#cg)" opacity="0.43"/><circle cx="30.8" cy="92.1" r="1.16" fill="url(#cg)" opacity="0.45"/><circle cx="34.9" cy="91.9" r="1.21" fill="url(#cg)" opacity="0.53"/><circle cx="39.1" cy="91.9" r="1.20" fill="url(#cg)" opacity="0.51"/><circle cx="42.8" cy="92.3" r="1.20" fill="url(#cg)" opacity="0.51"/><circle cx="46.3" cy="92.1" r="1.25" fill="url(#cg)" opacity="0.61"/><circle cx="50.5" cy="92.1" r="1.24" fill="url(#cg)" opacity="0.59"/><circle cx="55.2" cy="92.0" r="1.29" fill="url(#cg)" opacity="0.66"/><circle cx="58.6" cy="92.0" r="1.28" fill="url(#cg)" opacity="0.66"/><circle cx="62.0" cy="91.9" r="1.28" fill="url(#cg)" opacity="0.66"/><circle cx="66.2" cy="92.2" r="1.29" fill="url(#cg)" opacity="0.67"/><circle cx="70.8" cy="92.1" r="1.27" fill="url(#cg)" opacity="0.64"/><circle cx="74.3" cy="92.0" r="1.30" fill="url(#cg)" opacity="0.68"/><circle cx="77.9" cy="92.2" r="1.25" fill="url(#cg)" opacity="0.59"/><circle cx="82.1" cy="92.0" r="1.28" fill="url(#cg)" opacity="0.65"/><circle cx="87.0" cy="92.0" r="1.27" fill="url(#cg)" opacity="0.63"/><circle cx="90.8" cy="92.1" r="1.23" fill="url(#cg)" opacity="0.57"/><circle cx="94.8" cy="92.2" r="1.23" fill="url(#cg)" opacity="0.56"/><circle cx="98.3" cy="92.0" r="1.19" fill="url(#cg)" opacity="0.49"/><circle cx="103.0" cy="92.2" r="1.20" fill="url(#cg)" opacity="0.51"/><circle cx="106.5" cy="92.1" r="1.18" fill="url(#cg)" opacity="0.48"/><circle cx="110.0" cy="91.9" r="1.15" fill="url(#cg)" opacity="0.43"/><circle cx="114.0" cy="92.0" r="1.12" fill="url(#cg)" opacity="0.37"/><circle cx="118.1" cy="92.2" r="1.13" fill="url(#cg)" opacity="0.39"/><circle cx="16.6" cy="96.8" r="1.13" fill="url(#cg)" opacity="0.39"/><circle cx="20.6" cy="96.7" r="1.15" fill="url(#cg)" opacity="0.43"/><circle cx="24.1" cy="96.8" r="1.17" fill="url(#cg)" opacity="0.46"/><circle cx="27.8" cy="97.0" r="1.16" fill="url(#cg)" opacity="0.44"/><circle cx="30.6" cy="96.9" r="1.16" fill="url(#cg)" opacity="0.44"/><circle cx="34.6" cy="96.8" r="1.17" fill="url(#cg)" opacity="0.46"/><circle cx="39.2" cy="97.0" r="1.22" fill="url(#cg)" opacity="0.56"/><circle cx="42.6" cy="96.9" r="1.23" fill="url(#cg)" opacity="0.56"/><circle cx="46.1" cy="96.9" r="1.24" fill="url(#cg)" opacity="0.58"/><circle cx="50.7" cy="97.0" r="1.25" fill="url(#cg)" opacity="0.60"/><circle cx="55.1" cy="96.9" r="1.26" fill="url(#cg)" opacity="0.62"/><circle cx="58.6" cy="96.9" r="1.29" fill="url(#cg)" opacity="0.68"/><circle cx="62.2" cy="96.9" r="1.30" fill="url(#cg)" opacity="0.68"/><circle cx="66.4" cy="96.9" r="1.28" fill="url(#cg)" opacity="0.66"/><circle cx="70.6" cy="96.9" r="1.26" fill="url(#cg)" opacity="0.62"/><circle cx="74.4" cy="96.9" r="1.29" fill="url(#cg)" opacity="0.67"/><circle cx="78.2" cy="96.7" r="1.27" fill="url(#cg)" opacity="0.63"/><circle cx="82.2" cy="96.9" r="1.26" fill="url(#cg)" opacity="0.61"/><circle cx="87.1" cy="97.0" r="1.23" fill="url(#cg)" opacity="0.57"/><circle cx="91.0" cy="96.9" r="1.23" fill="url(#cg)" opacity="0.56"/><circle cx="94.7" cy="97.0" r="1.20" fill="url(#cg)" opacity="0.51"/><circle cx="98.4" cy="96.7" r="1.22" fill="url(#cg)" opacity="0.55"/><circle cx="103.1" cy="96.9" r="1.17" fill="url(#cg)" opacity="0.46"/><circle cx="106.7" cy="96.9" r="1.18" fill="url(#cg)" opacity="0.48"/><circle cx="110.0" cy="96.9" r="1.17" fill="url(#cg)" opacity="0.46"/><circle cx="113.9" cy="96.9" r="1.16" fill="url(#cg)" opacity="0.44"/><circle cx="118.1" cy="97.0" r="1.11" fill="url(#cg)" opacity="0.35"/><circle cx="122.8" cy="96.8" r="1.07" fill="url(#cg)" opacity="0.29"/><circle cx="16.6" cy="100.9" r="1.10" fill="url(#cg)" opacity="0.34"/><circle cx="20.4" cy="101.2" r="1.12" fill="url(#cg)" opacity="0.37"/><circle cx="24.1" cy="101.0" r="1.16" fill="url(#cg)" opacity="0.44"/><circle cx="27.8" cy="101.1" r="1.15" fill="url(#cg)" opacity="0.42"/><circle cx="30.8" cy="101.0" r="1.16" fill="url(#cg)" opacity="0.45"/><circle cx="34.5" cy="101.1" r="1.21" fill="url(#cg)" opacity="0.53"/><circle cx="39.2" cy="101.0" r="1.22" fill="url(#cg)" opacity="0.54"/><circle cx="42.5" cy="101.2" r="1.22" fill="url(#cg)" opacity="0.55"/><circle cx="46.3" cy="101.1" r="1.26" fill="url(#cg)" opacity="0.61"/><circle cx="50.6" cy="100.9" r="1.25" fill="url(#cg)" opacity="0.61"/><circle cx="54.9" cy="101.1" r="1.26" fill="url(#cg)" opacity="0.61"/><circle cx="58.8" cy="100.8" r="1.27" fill="url(#cg)" opacity="0.63"/><circle cx="61.9" cy="100.9" r="1.26" fill="url(#cg)" opacity="0.62"/><circle cx="66.2" cy="101.0" r="1.27" fill="url(#cg)" opacity="0.64"/><circle cx="70.6" cy="100.9" r="1.28" fill="url(#cg)" opacity="0.65"/><circle cx="74.4" cy="101.0" r="1.29" fill="url(#cg)" opacity="0.66"/><circle cx="78.1" cy="101.1" r="1.29" fill="url(#cg)" opacity="0.67"/><circle cx="82.1" cy="101.1" r="1.28" fill="url(#cg)" opacity="0.65"/><circle cx="87.2" cy="100.8" r="1.26" fill="url(#cg)" opacity="0.62"/><circle cx="91.0" cy="100.8" r="1.21" fill="url(#cg)" opacity="0.53"/><circle cx="94.9" cy="101.1" r="1.21" fill="url(#cg)" opacity="0.53"/><circle cx="98.3" cy="100.9" r="1.19" fill="url(#cg)" opacity="0.50"/><circle cx="103.0" cy="101.0" r="1.17" fill="url(#cg)" opacity="0.46"/><circle cx="106.8" cy="101.2" r="1.15" fill="url(#cg)" opacity="0.43"/><circle cx="110.1" cy="101.1" r="1.17" fill="url(#cg)" opacity="0.46"/><circle cx="114.0" cy="101.3" r="1.15" fill="url(#cg)" opacity="0.42"/><circle cx="118.4" cy="101.0" r="1.12" fill="url(#cg)" opacity="0.37"/><circle cx="16.5" cy="105.3" r="1.10" fill="url(#cg)" opacity="0.34"/><circle cx="20.2" cy="105.4" r="1.11" fill="url(#cg)" opacity="0.35"/><circle cx="24.1" cy="105.4" r="1.15" fill="url(#cg)" opacity="0.42"/><circle cx="27.7" cy="105.1" r="1.18" fill="url(#cg)" opacity="0.47"/><circle cx="30.6" cy="105.3" r="1.18" fill="url(#cg)" opacity="0.48"/><circle cx="34.8" cy="105.2" r="1.19" fill="url(#cg)" opacity="0.49"/><circle cx="39.4" cy="105.1" r="1.22" fill="url(#cg)" opacity="0.54"/><circle cx="42.7" cy="105.0" r="1.23" fill="url(#cg)" opacity="0.56"/><circle cx="46.3" cy="105.4" r="1.23" fill="url(#cg)" opacity="0.56"/><circle cx="50.7" cy="105.2" r="1.25" fill="url(#cg)" opacity="0.60"/><circle cx="55.2" cy="105.0" r="1.27" fill="url(#cg)" opacity="0.64"/><circle cx="58.7" cy="105.1" r="1.29" fill="url(#cg)" opacity="0.66"/><circle cx="62.0" cy="105.2" r="1.28" fill="url(#cg)" opacity="0.64"/><circle cx="66.5" cy="105.0" r="1.28" fill="url(#cg)" opacity="0.64"/><circle cx="70.6" cy="105.2" r="1.29" fill="url(#cg)" opacity="0.68"/><circle cx="74.3" cy="105.3" r="1.27" fill="url(#cg)" opacity="0.63"/><circle cx="78.1" cy="105.1" r="1.27" fill="url(#cg)" opacity="0.63"/><circle cx="82.4" cy="105.2" r="1.27" fill="url(#cg)" opacity="0.64"/><circle cx="87.0" cy="105.1" r="1.23" fill="url(#cg)" opacity="0.57"/><circle cx="91.0" cy="105.3" r="1.24" fill="url(#cg)" opacity="0.59"/><circle cx="94.5" cy="105.3" r="1.24" fill="url(#cg)" opacity="0.58"/><circle cx="98.5" cy="105.1" r="1.19" fill="url(#cg)" opacity="0.50"/><circle cx="102.8" cy="105.2" r="1.20" fill="url(#cg)" opacity="0.52"/><circle cx="106.7" cy="105.4" r="1.18" fill="url(#cg)" opacity="0.48"/><circle cx="110.2" cy="105.4" r="1.16" fill="url(#cg)" opacity="0.44"/><circle cx="114.0" cy="105.5" r="1.14" fill="url(#cg)" opacity="0.40"/><circle cx="118.3" cy="105.3" r="1.12" fill="url(#cg)" opacity="0.37"/><circle cx="12.7" cy="110.3" r="1.06" fill="url(#cg)" opacity="0.27"/><circle cx="16.7" cy="110.4" r="1.09" fill="url(#cg)" opacity="0.33"/><circle cx="20.5" cy="110.4" r="1.12" fill="url(#cg)" opacity="0.38"/><circle cx="24.0" cy="110.2" r="1.13" fill="url(#cg)" opacity="0.40"/><circle cx="27.5" cy="110.2" r="1.16" fill="url(#cg)" opacity="0.45"/><circle cx="30.8" cy="110.0" r="1.17" fill="url(#cg)" opacity="0.46"/><circle cx="34.4" cy="110.0" r="1.20" fill="url(#cg)" opacity="0.52"/><circle cx="39.2" cy="110.3" r="1.20" fill="url(#cg)" opacity="0.52"/><circle cx="42.4" cy="110.0" r="1.22" fill="url(#cg)" opacity="0.55"/><circle cx="46.4" cy="110.2" r="1.23" fill="url(#cg)" opacity="0.56"/><circle cx="50.5" cy="109.9" r="1.25" fill="url(#cg)" opacity="0.60"/><circle cx="54.9" cy="109.9" r="1.23" fill="url(#cg)" opacity="0.56"/><circle cx="58.5" cy="110.1" r="1.24" fill="url(#cg)" opacity="0.59"/><circle cx="62.2" cy="109.8" r="1.29" fill="url(#cg)" opacity="0.66"/><circle cx="66.2" cy="109.8" r="1.28" fill="url(#cg)" opacity="0.66"/><circle cx="70.6" cy="110.1" r="1.25" fill="url(#cg)" opacity="0.61"/><circle cx="74.2" cy="110.1" r="1.28" fill="url(#cg)" opacity="0.65"/><circle cx="78.3" cy="110.1" r="1.24" fill="url(#cg)" opacity="0.58"/><circle cx="82.3" cy="110.1" r="1.25" fill="url(#cg)" opacity="0.60"/><circle cx="87.3" cy="109.9" r="1.26" fill="url(#cg)" opacity="0.62"/><circle cx="91.1" cy="109.9" r="1.20" fill="url(#cg)" opacity="0.51"/><circle cx="94.8" cy="110.2" r="1.19" fill="url(#cg)" opacity="0.49"/><circle cx="98.4" cy="110.2" r="1.18" fill="url(#cg)" opacity="0.48"/><circle cx="103.1" cy="110.2" r="1.16" fill="url(#cg)" opacity="0.43"/><circle cx="106.7" cy="110.2" r="1.16" fill="url(#cg)" opacity="0.44"/><circle cx="110.1" cy="110.1" r="1.16" fill="url(#cg)" opacity="0.44"/><circle cx="113.9" cy="110.4" r="1.13" fill="url(#cg)" opacity="0.40"/><circle cx="118.3" cy="110.3" r="1.12" fill="url(#cg)" opacity="0.37"/><circle cx="123.0" cy="110.6" r="1.05" fill="url(#cg)" opacity="0.25"/><circle cx="12.7" cy="114.6" r="1.06" fill="url(#cg)" opacity="0.28"/><circle cx="16.6" cy="114.8" r="1.09" fill="url(#cg)" opacity="0.32"/><circle cx="20.4" cy="114.8" r="1.13" fill="url(#cg)" opacity="0.40"/><circle cx="24.1" cy="114.5" r="1.13" fill="url(#cg)" opacity="0.39"/><circle cx="27.7" cy="114.5" r="1.16" fill="url(#cg)" opacity="0.44"/><circle cx="30.6" cy="114.6" r="1.18" fill="url(#cg)" opacity="0.48"/><circle cx="34.5" cy="114.2" r="1.17" fill="url(#cg)" opacity="0.46"/><circle cx="39.1" cy="114.4" r="1.21" fill="url(#cg)" opacity="0.54"/><circle cx="42.7" cy="114.1" r="1.23" fill="url(#cg)" opacity="0.56"/><circle cx="46.3" cy="114.4" r="1.23" fill="url(#cg)" opacity="0.56"/><circle cx="50.4" cy="114.4" r="1.25" fill="url(#cg)" opacity="0.60"/><circle cx="55.1" cy="114.4" r="1.24" fill="url(#cg)" opacity="0.58"/><circle cx="58.5" cy="114.2" r="1.27" fill="url(#cg)" opacity="0.63"/><circle cx="61.9" cy="114.3" r="1.28" fill="url(#cg)" opacity="0.66"/><circle cx="66.2" cy="114.3" r="1.27" fill="url(#cg)" opacity="0.64"/><circle cx="70.7" cy="114.1" r="1.25" fill="url(#cg)" opacity="0.60"/><circle cx="74.5" cy="114.3" r="1.26" fill="url(#cg)" opacity="0.61"/><circle cx="78.0" cy="114.4" r="1.27" fill="url(#cg)" opacity="0.63"/><circle cx="82.2" cy="114.3" r="1.26" fill="url(#cg)" opacity="0.62"/><circle cx="87.3" cy="114.3" r="1.23" fill="url(#cg)" opacity="0.56"/><circle cx="91.1" cy="114.2" r="1.20" fill="url(#cg)" opacity="0.52"/><circle cx="94.6" cy="114.4" r="1.20" fill="url(#cg)" opacity="0.51"/><circle cx="98.5" cy="114.3" r="1.19" fill="url(#cg)" opacity="0.50"/><circle cx="102.9" cy="114.3" r="1.20" fill="url(#cg)" opacity="0.51"/><circle cx="106.7" cy="114.3" r="1.16" fill="url(#cg)" opacity="0.45"/><circle cx="110.2" cy="114.4" r="1.15" fill="url(#cg)" opacity="0.42"/><circle cx="114.0" cy="114.6" r="1.10" fill="url(#cg)" opacity="0.33"/><circle cx="118.2" cy="114.9" r="1.12" fill="url(#cg)" opacity="0.37"/><circle cx="12.8" cy="118.4" r="1.06" fill="url(#cg)" opacity="0.27"/><circle cx="16.6" cy="118.4" r="1.12" fill="url(#cg)" opacity="0.37"/><circle cx="20.2" cy="118.0" r="1.10" fill="url(#cg)" opacity="0.33"/><circle cx="23.9" cy="118.0" r="1.11" fill="url(#cg)" opacity="0.35"/><circle cx="27.5" cy="118.2" r="1.14" fill="url(#cg)" opacity="0.41"/><circle cx="30.7" cy="118.2" r="1.14" fill="url(#cg)" opacity="0.40"/><circle cx="34.6" cy="117.9" r="1.16" fill="url(#cg)" opacity="0.44"/><circle cx="39.3" cy="117.8" r="1.20" fill="url(#cg)" opacity="0.51"/><circle cx="42.6" cy="118.1" r="1.21" fill="url(#cg)" opacity="0.54"/><circle cx="46.1" cy="117.8" r="1.20" fill="url(#cg)" opacity="0.51"/><circle cx="50.7" cy="118.0" r="1.21" fill="url(#cg)" opacity="0.54"/><circle cx="54.8" cy="117.7" r="1.23" fill="url(#cg)" opacity="0.57"/><circle cx="58.8" cy="117.9" r="1.26" fill="url(#cg)" opacity="0.63"/><circle cx="61.8" cy="117.9" r="1.26" fill="url(#cg)" opacity="0.62"/><circle cx="66.4" cy="117.9" r="1.23" fill="url(#cg)" opacity="0.57"/><circle cx="70.5" cy="117.9" r="1.28" fill="url(#cg)" opacity="0.65"/><circle cx="74.5" cy="117.7" r="1.26" fill="url(#cg)" opacity="0.61"/><circle cx="78.3" cy="117.6" r="1.24" fill="url(#cg)" opacity="0.58"/><circle cx="82.2" cy="117.6" r="1.24" fill="url(#cg)" opacity="0.57"/><circle cx="87.0" cy="117.7" r="1.21" fill="url(#cg)" opacity="0.52"/><circle cx="91.1" cy="117.7" r="1.22" fill="url(#cg)" opacity="0.55"/><circle cx="94.7" cy="117.7" r="1.22" fill="url(#cg)" opacity="0.55"/><circle cx="98.4" cy="118.1" r="1.20" fill="url(#cg)" opacity="0.52"/><circle cx="103.2" cy="117.9" r="1.16" fill="url(#cg)" opacity="0.45"/><circle cx="106.6" cy="118.2" r="1.17" fill="url(#cg)" opacity="0.46"/><circle cx="110.2" cy="118.1" r="1.13" fill="url(#cg)" opacity="0.39"/><circle cx="114.2" cy="118.2" r="1.12" fill="url(#cg)" opacity="0.38"/><circle cx="118.3" cy="118.2" r="1.07" fill="url(#cg)" opacity="0.29"/><circle cx="16.3" cy="121.9" r="1.11" fill="url(#cg)" opacity="0.35"/><circle cx="20.2" cy="121.8" r="1.11" fill="url(#cg)" opacity="0.35"/><circle cx="23.9" cy="122.0" r="1.10" fill="url(#cg)" opacity="0.35"/><circle cx="27.6" cy="121.6" r="1.16" fill="url(#cg)" opacity="0.44"/><circle cx="30.6" cy="121.6" r="1.15" fill="url(#cg)" opacity="0.43"/><circle cx="34.4" cy="121.6" r="1.15" fill="url(#cg)" opacity="0.43"/><circle cx="39.0" cy="121.8" r="1.21" fill="url(#cg)" opacity="0.53"/><circle cx="42.7" cy="121.4" r="1.19" fill="url(#cg)" opacity="0.49"/><circle cx="46.3" cy="121.3" r="1.22" fill="url(#cg)" opacity="0.55"/><circle cx="50.4" cy="121.7" r="1.20" fill="url(#cg)" opacity="0.51"/><circle cx="55.1" cy="121.4" r="1.21" fill="url(#cg)" opacity="0.54"/><circle cx="58.5" cy="121.5" r="1.24" fill="url(#cg)" opacity="0.58"/><circle cx="61.9" cy="121.4" r="1.27" fill="url(#cg)" opacity="0.63"/><circle cx="66.2" cy="121.4" r="1.23" fill="url(#cg)" opacity="0.57"/><circle cx="70.6" cy="121.5" r="1.26" fill="url(#cg)" opacity="0.62"/><circle cx="74.3" cy="121.2" r="1.22" fill="url(#cg)" opacity="0.55"/><circle cx="78.2" cy="121.4" r="1.23" fill="url(#cg)" opacity="0.56"/><circle cx="82.2" cy="121.5" r="1.24" fill="url(#cg)" opacity="0.58"/><circle cx="87.3" cy="121.5" r="1.20" fill="url(#cg)" opacity="0.51"/><circle cx="90.9" cy="121.6" r="1.20" fill="url(#cg)" opacity="0.51"/><circle cx="94.9" cy="121.4" r="1.21" fill="url(#cg)" opacity="0.53"/><circle cx="98.5" cy="121.8" r="1.20" fill="url(#cg)" opacity="0.51"/><circle cx="103.1" cy="121.5" r="1.18" fill="url(#cg)" opacity="0.48"/><circle cx="106.8" cy="121.9" r="1.13" fill="url(#cg)" opacity="0.40"/><circle cx="110.1" cy="122.0" r="1.12" fill="url(#cg)" opacity="0.38"/><circle cx="114.0" cy="121.9" r="1.12" fill="url(#cg)" opacity="0.37"/><circle cx="118.3" cy="122.0" r="1.09" fill="url(#cg)" opacity="0.32"/><circle cx="16.4" cy="126.9" r="1.10" fill="url(#cg)" opacity="0.33"/><circle cx="20.0" cy="127.0" r="1.12" fill="url(#cg)" opacity="0.38"/><circle cx="23.9" cy="126.7" r="1.12" fill="url(#cg)" opacity="0.37"/><circle cx="27.4" cy="126.5" r="1.16" fill="url(#cg)" opacity="0.44"/><circle cx="30.3" cy="126.5" r="1.12" fill="url(#cg)" opacity="0.38"/><circle cx="34.4" cy="126.6" r="1.14" fill="url(#cg)" opacity="0.40"/><circle cx="38.9" cy="126.5" r="1.16" fill="url(#cg)" opacity="0.44"/><circle cx="42.3" cy="126.4" r="1.19" fill="url(#cg)" opacity="0.50"/><circle cx="46.1" cy="126.4" r="1.18" fill="url(#cg)" opacity="0.47"/><circle cx="50.6" cy="126.4" r="1.19" fill="url(#cg)" opacity="0.49"/><circle cx="54.8" cy="126.3" r="1.22" fill="url(#cg)" opacity="0.55"/><circle cx="58.6" cy="126.1" r="1.22" fill="url(#cg)" opacity="0.55"/><circle cx="61.9" cy="126.3" r="1.25" fill="url(#cg)" opacity="0.60"/><circle cx="66.2" cy="126.2" r="1.25" fill="url(#cg)" opacity="0.60"/><circle cx="70.6" cy="126.3" r="1.26" fill="url(#cg)" opacity="0.62"/><circle cx="74.4" cy="126.2" r="1.25" fill="url(#cg)" opacity="0.60"/><circle cx="78.2" cy="126.2" r="1.25" fill="url(#cg)" opacity="0.60"/><circle cx="82.4" cy="126.2" r="1.20" fill="url(#cg)" opacity="0.52"/><circle cx="87.1" cy="126.3" r="1.23" fill="url(#cg)" opacity="0.57"/><circle cx="91.2" cy="126.5" r="1.21" fill="url(#cg)" opacity="0.53"/><circle cx="95.0" cy="126.2" r="1.18" fill="url(#cg)" opacity="0.48"/><circle cx="98.8" cy="126.6" r="1.16" fill="url(#cg)" opacity="0.44"/><circle cx="103.1" cy="126.6" r="1.15" fill="url(#cg)" opacity="0.42"/><circle cx="106.9" cy="126.5" r="1.13" fill="url(#cg)" opacity="0.40"/><circle cx="110.3" cy="126.5" r="1.11" fill="url(#cg)" opacity="0.35"/><circle cx="114.4" cy="126.9" r="1.13" fill="url(#cg)" opacity="0.39"/><circle cx="118.6" cy="127.0" r="1.11" fill="url(#cg)" opacity="0.35"/><circle cx="16.3" cy="131.4" r="1.08" fill="url(#cg)" opacity="0.31"/><circle cx="20.0" cy="131.1" r="1.09" fill="url(#cg)" opacity="0.32"/><circle cx="24.0" cy="131.0" r="1.10" fill="url(#cg)" opacity="0.34"/><circle cx="27.4" cy="130.8" r="1.13" fill="url(#cg)" opacity="0.39"/><circle cx="30.6" cy="130.9" r="1.12" fill="url(#cg)" opacity="0.38"/><circle cx="34.4" cy="130.8" r="1.13" fill="url(#cg)" opacity="0.40"/><circle cx="38.8" cy="130.6" r="1.16" fill="url(#cg)" opacity="0.44"/><circle cx="42.4" cy="130.6" r="1.17" fill="url(#cg)" opacity="0.45"/><circle cx="45.9" cy="130.6" r="1.21" fill="url(#cg)" opacity="0.52"/><circle cx="50.5" cy="130.6" r="1.21" fill="url(#cg)" opacity="0.53"/><circle cx="54.9" cy="130.6" r="1.21" fill="url(#cg)" opacity="0.53"/><circle cx="58.7" cy="130.5" r="1.22" fill="url(#cg)" opacity="0.54"/><circle cx="61.9" cy="130.4" r="1.21" fill="url(#cg)" opacity="0.53"/><circle cx="66.3" cy="130.4" r="1.23" fill="url(#cg)" opacity="0.57"/><circle cx="70.5" cy="130.4" r="1.24" fill="url(#cg)" opacity="0.59"/><circle cx="74.3" cy="130.5" r="1.22" fill="url(#cg)" opacity="0.55"/><circle cx="78.1" cy="130.7" r="1.20" fill="url(#cg)" opacity="0.52"/><circle cx="82.5" cy="130.4" r="1.18" fill="url(#cg)" opacity="0.49"/><circle cx="87.3" cy="130.5" r="1.17" fill="url(#cg)" opacity="0.46"/><circle cx="91.1" cy="130.6" r="1.20" fill="url(#cg)" opacity="0.51"/><circle cx="94.7" cy="130.6" r="1.20" fill="url(#cg)" opacity="0.51"/><circle cx="98.7" cy="130.6" r="1.15" fill="url(#cg)" opacity="0.43"/><circle cx="103.1" cy="130.9" r="1.15" fill="url(#cg)" opacity="0.43"/><circle cx="107.1" cy="131.0" r="1.13" fill="url(#cg)" opacity="0.39"/><circle cx="110.4" cy="131.1" r="1.13" fill="url(#cg)" opacity="0.39"/><circle cx="114.2" cy="131.2" r="1.11" fill="url(#cg)" opacity="0.36"/><circle cx="118.8" cy="131.1" r="1.10" fill="url(#cg)" opacity="0.34"/><circle cx="16.2" cy="135.1" r="1.09" fill="url(#cg)" opacity="0.32"/><circle cx="20.1" cy="134.8" r="1.09" fill="url(#cg)" opacity="0.31"/><circle cx="23.8" cy="134.8" r="1.09" fill="url(#cg)" opacity="0.33"/><circle cx="27.2" cy="134.7" r="1.11" fill="url(#cg)" opacity="0.36"/><circle cx="30.3" cy="134.7" r="1.15" fill="url(#cg)" opacity="0.42"/><circle cx="34.4" cy="134.4" r="1.13" fill="url(#cg)" opacity="0.39"/><circle cx="38.9" cy="134.2" r="1.16" fill="url(#cg)" opacity="0.45"/><circle cx="42.4" cy="134.1" r="1.19" fill="url(#cg)" opacity="0.50"/><circle cx="46.0" cy="134.4" r="1.20" fill="url(#cg)" opacity="0.51"/><circle cx="50.6" cy="134.1" r="1.19" fill="url(#cg)" opacity="0.49"/><circle cx="55.1" cy="133.9" r="1.18" fill="url(#cg)" opacity="0.47"/><circle cx="58.7" cy="134.1" r="1.23" fill="url(#cg)" opacity="0.56"/><circle cx="62.1" cy="134.1" r="1.24" fill="url(#cg)" opacity="0.58"/><circle cx="66.3" cy="134.1" r="1.22" fill="url(#cg)" opacity="0.56"/><circle cx="70.6" cy="134.0" r="1.22" fill="url(#cg)" opacity="0.55"/><circle cx="74.4" cy="134.3" r="1.22" fill="url(#cg)" opacity="0.55"/><circle cx="78.2" cy="134.0" r="1.20" fill="url(#cg)" opacity="0.51"/><circle cx="82.3" cy="134.2" r="1.20" fill="url(#cg)" opacity="0.51"/><circle cx="87.4" cy="134.4" r="1.19" fill="url(#cg)" opacity="0.49"/><circle cx="91.1" cy="134.3" r="1.20" fill="url(#cg)" opacity="0.51"/><circle cx="94.9" cy="134.3" r="1.18" fill="url(#cg)" opacity="0.48"/><circle cx="98.6" cy="134.3" r="1.18" fill="url(#cg)" opacity="0.47"/><circle cx="103.4" cy="134.5" r="1.12" fill="url(#cg)" opacity="0.37"/><circle cx="107.1" cy="134.7" r="1.14" fill="url(#cg)" opacity="0.41"/><circle cx="110.5" cy="134.8" r="1.11" fill="url(#cg)" opacity="0.35"/><circle cx="114.2" cy="134.7" r="1.09" fill="url(#cg)" opacity="0.33"/><circle cx="118.7" cy="134.8" r="1.06" fill="url(#cg)" opacity="0.26"/><circle cx="16.1" cy="138.1" r="1.06" fill="url(#cg)" opacity="0.26"/><circle cx="20.1" cy="137.6" r="1.07" fill="url(#cg)" opacity="0.29"/><circle cx="23.9" cy="137.8" r="1.11" fill="url(#cg)" opacity="0.35"/><circle cx="27.1" cy="137.6" r="1.11" fill="url(#cg)" opacity="0.36"/><circle cx="30.2" cy="137.6" r="1.12" fill="url(#cg)" opacity="0.38"/><circle cx="34.6" cy="137.5" r="1.13" fill="url(#cg)" opacity="0.39"/><circle cx="38.8" cy="137.2" r="1.16" fill="url(#cg)" opacity="0.45"/><circle cx="42.2" cy="137.1" r="1.14" fill="url(#cg)" opacity="0.42"/><circle cx="46.1" cy="137.3" r="1.18" fill="url(#cg)" opacity="0.47"/><circle cx="50.5" cy="137.0" r="1.16" fill="url(#cg)" opacity="0.44"/><circle cx="55.1" cy="137.0" r="1.20" fill="url(#cg)" opacity="0.52"/><circle cx="58.6" cy="136.9" r="1.19" fill="url(#cg)" opacity="0.49"/><circle cx="61.8" cy="137.2" r="1.21" fill="url(#cg)" opacity="0.52"/><circle cx="66.3" cy="137.0" r="1.20" fill="url(#cg)" opacity="0.51"/><circle cx="70.5" cy="137.2" r="1.21" fill="url(#cg)" opacity="0.53"/><circle cx="74.6" cy="137.0" r="1.21" fill="url(#cg)" opacity="0.53"/><circle cx="78.1" cy="136.9" r="1.22" fill="url(#cg)" opacity="0.54"/><circle cx="82.5" cy="137.0" r="1.21" fill="url(#cg)" opacity="0.53"/><circle cx="87.4" cy="137.1" r="1.18" fill="url(#cg)" opacity="0.48"/><circle cx="91.4" cy="137.2" r="1.19" fill="url(#cg)" opacity="0.50"/><circle cx="94.8" cy="137.3" r="1.17" fill="url(#cg)" opacity="0.46"/><circle cx="98.6" cy="137.3" r="1.16" fill="url(#cg)" opacity="0.45"/><circle cx="103.3" cy="137.6" r="1.12" fill="url(#cg)" opacity="0.37"/><circle cx="106.9" cy="137.5" r="1.10" fill="url(#cg)" opacity="0.34"/><circle cx="110.6" cy="137.6" r="1.11" fill="url(#cg)" opacity="0.35"/><circle cx="114.2" cy="137.8" r="1.08" fill="url(#cg)" opacity="0.31"/><circle cx="118.7" cy="137.8" r="1.05" fill="url(#cg)" opacity="0.25"/><circle cx="15.9" cy="141.2" r="1.05" fill="url(#cg)" opacity="0.26"/><circle cx="19.8" cy="141.0" r="1.06" fill="url(#cg)" opacity="0.26"/><circle cx="23.6" cy="141.0" r="1.07" fill="url(#cg)" opacity="0.29"/><circle cx="27.2" cy="140.8" r="1.12" fill="url(#cg)" opacity="0.37"/><circle cx="30.1" cy="140.6" r="1.13" fill="url(#cg)" opacity="0.39"/><circle cx="34.3" cy="140.7" r="1.11" fill="url(#cg)" opacity="0.36"/><circle cx="39.1" cy="140.4" r="1.13" fill="url(#cg)" opacity="0.39"/><circle cx="42.3" cy="140.2" r="1.16" fill="url(#cg)" opacity="0.45"/><circle cx="45.9" cy="140.4" r="1.17" fill="url(#cg)" opacity="0.46"/><circle cx="50.3" cy="140.1" r="1.18" fill="url(#cg)" opacity="0.48"/><circle cx="54.8" cy="140.3" r="1.16" fill="url(#cg)" opacity="0.45"/><circle cx="58.6" cy="140.1" r="1.18" fill="url(#cg)" opacity="0.47"/><circle cx="62.1" cy="140.1" r="1.20" fill="url(#cg)" opacity="0.51"/><circle cx="66.4" cy="140.0" r="1.19" fill="url(#cg)" opacity="0.50"/><circle cx="70.5" cy="140.0" r="1.21" fill="url(#cg)" opacity="0.54"/><circle cx="74.4" cy="140.2" r="1.17" fill="url(#cg)" opacity="0.46"/><circle cx="78.3" cy="140.1" r="1.19" fill="url(#cg)" opacity="0.49"/><circle cx="82.3" cy="140.0" r="1.17" fill="url(#cg)" opacity="0.46"/><circle cx="87.1" cy="140.1" r="1.18" fill="url(#cg)" opacity="0.48"/><circle cx="91.1" cy="140.3" r="1.18" fill="url(#cg)" opacity="0.48"/><circle cx="95.1" cy="140.5" r="1.17" fill="url(#cg)" opacity="0.46"/><circle cx="98.6" cy="140.4" r="1.11" fill="url(#cg)" opacity="0.36"/><circle cx="103.4" cy="140.6" r="1.12" fill="url(#cg)" opacity="0.36"/><circle cx="107.0" cy="140.7" r="1.12" fill="url(#cg)" opacity="0.37"/><circle cx="110.3" cy="140.9" r="1.09" fill="url(#cg)" opacity="0.32"/><circle cx="114.5" cy="140.8" r="1.06" fill="url(#cg)" opacity="0.27"/><circle cx="118.9" cy="141.2" r="1.08" fill="url(#cg)" opacity="0.30"/><circle cx="15.8" cy="144.1" r="1.06" fill="url(#cg)" opacity="0.27"/><circle cx="19.8" cy="144.2" r="1.08" fill="url(#cg)" opacity="0.29"/><circle cx="23.8" cy="143.8" r="1.08" fill="url(#cg)" opacity="0.31"/><circle cx="27.2" cy="143.7" r="1.07" fill="url(#cg)" opacity="0.29"/><circle cx="30.4" cy="143.8" r="1.10" fill="url(#cg)" opacity="0.33"/><circle cx="34.1" cy="143.7" r="1.13" fill="url(#cg)" opacity="0.39"/><circle cx="38.7" cy="143.4" r="1.12" fill="url(#cg)" opacity="0.36"/><circle cx="42.4" cy="143.3" r="1.17" fill="url(#cg)" opacity="0.45"/><circle cx="46.1" cy="143.2" r="1.16" fill="url(#cg)" opacity="0.45"/><circle cx="50.3" cy="143.4" r="1.18" fill="url(#cg)" opacity="0.48"/><circle cx="54.8" cy="143.0" r="1.20" fill="url(#cg)" opacity="0.51"/><circle cx="58.6" cy="143.3" r="1.19" fill="url(#cg)" opacity="0.49"/><circle cx="62.1" cy="143.3" r="1.19" fill="url(#cg)" opacity="0.49"/><circle cx="66.3" cy="143.0" r="1.20" fill="url(#cg)" opacity="0.51"/><circle cx="70.7" cy="143.1" r="1.21" fill="url(#cg)" opacity="0.53"/><circle cx="74.3" cy="143.3" r="1.16" fill="url(#cg)" opacity="0.44"/><circle cx="78.3" cy="143.3" r="1.16" fill="url(#cg)" opacity="0.45"/><circle cx="82.4" cy="143.4" r="1.18" fill="url(#cg)" opacity="0.47"/><circle cx="87.3" cy="143.2" r="1.14" fill="url(#cg)" opacity="0.40"/><circle cx="91.2" cy="143.3" r="1.14" fill="url(#cg)" opacity="0.40"/><circle cx="94.9" cy="143.3" r="1.15" fill="url(#cg)" opacity="0.43"/><circle cx="98.8" cy="143.4" r="1.12" fill="url(#cg)" opacity="0.37"/><circle cx="103.4" cy="143.6" r="1.14" fill="url(#cg)" opacity="0.40"/><circle cx="107.1" cy="143.7" r="1.12" fill="url(#cg)" opacity="0.38"/><circle cx="110.3" cy="143.9" r="1.08" fill="url(#cg)" opacity="0.31"/><circle cx="114.6" cy="144.0" r="1.09" fill="url(#cg)" opacity="0.32"/><circle cx="118.7" cy="144.2" r="1.06" fill="url(#cg)" opacity="0.28"/><circle cx="19.7" cy="147.7" r="1.06" fill="url(#cg)" opacity="0.27"/><circle cx="23.5" cy="147.4" r="1.08" fill="url(#cg)" opacity="0.30"/><circle cx="27.0" cy="147.3" r="1.07" fill="url(#cg)" opacity="0.28"/><circle cx="30.0" cy="147.5" r="1.11" fill="url(#cg)" opacity="0.36"/><circle cx="34.1" cy="147.2" r="1.14" fill="url(#cg)" opacity="0.40"/><circle cx="38.8" cy="146.9" r="1.13" fill="url(#cg)" opacity="0.38"/><circle cx="42.3" cy="146.8" r="1.14" fill="url(#cg)" opacity="0.40"/><circle cx="45.8" cy="147.0" r="1.15" fill="url(#cg)" opacity="0.43"/><circle cx="50.4" cy="147.0" r="1.16" fill="url(#cg)" opacity="0.44"/><circle cx="54.8" cy="146.6" r="1.14" fill="url(#cg)" opacity="0.41"/><circle cx="58.4" cy="146.8" r="1.18" fill="url(#cg)" opacity="0.49"/><circle cx="61.9" cy="146.6" r="1.18" fill="url(#cg)" opacity="0.47"/><circle cx="66.5" cy="146.8" r="1.16" fill="url(#cg)" opacity="0.44"/><circle cx="70.8" cy="146.8" r="1.19" fill="url(#cg)" opacity="0.49"/><circle cx="74.4" cy="146.6" r="1.19" fill="url(#cg)" opacity="0.49"/><circle cx="78.2" cy="146.7" r="1.17" fill="url(#cg)" opacity="0.46"/><circle cx="82.4" cy="146.9" r="1.14" fill="url(#cg)" opacity="0.42"/><circle cx="87.1" cy="146.9" r="1.16" fill="url(#cg)" opacity="0.43"/><circle cx="91.4" cy="147.0" r="1.16" fill="url(#cg)" opacity="0.44"/><circle cx="95.2" cy="147.0" r="1.13" fill="url(#cg)" opacity="0.39"/><circle cx="98.7" cy="147.0" r="1.12" fill="url(#cg)" opacity="0.38"/><circle cx="103.2" cy="147.3" r="1.09" fill="url(#cg)" opacity="0.32"/><circle cx="107.1" cy="147.5" r="1.07" fill="url(#cg)" opacity="0.29"/><circle cx="110.4" cy="147.4" r="1.07" fill="url(#cg)" opacity="0.28"/><circle cx="114.6" cy="147.4" r="1.09" fill="url(#cg)" opacity="0.31"/><circle cx="16.0" cy="151.4" r="1.06" fill="url(#cg)" opacity="0.28"/><circle cx="19.6" cy="151.0" r="1.05" fill="url(#cg)" opacity="0.26"/><circle cx="23.6" cy="150.8" r="1.06" fill="url(#cg)" opacity="0.26"/><circle cx="26.9" cy="150.7" r="1.08" fill="url(#cg)" opacity="0.30"/><circle cx="30.3" cy="150.8" r="1.11" fill="url(#cg)" opacity="0.36"/><circle cx="34.4" cy="150.7" r="1.11" fill="url(#cg)" opacity="0.35"/><circle cx="38.9" cy="150.2" r="1.12" fill="url(#cg)" opacity="0.38"/><circle cx="42.3" cy="150.2" r="1.13" fill="url(#cg)" opacity="0.39"/><circle cx="46.1" cy="150.2" r="1.14" fill="url(#cg)" opacity="0.41"/><circle cx="50.2" cy="150.1" r="1.16" fill="url(#cg)" opacity="0.45"/><circle cx="54.7" cy="150.0" r="1.16" fill="url(#cg)" opacity="0.44"/><circle cx="58.6" cy="149.9" r="1.16" fill="url(#cg)" opacity="0.45"/><circle cx="61.9" cy="150.1" r="1.15" fill="url(#cg)" opacity="0.43"/><circle cx="66.3" cy="150.0" r="1.16" fill="url(#cg)" opacity="0.44"/><circle cx="70.6" cy="149.9" r="1.18" fill="url(#cg)" opacity="0.48"/><circle cx="74.5" cy="149.9" r="1.18" fill="url(#cg)" opacity="0.47"/><circle cx="78.2" cy="149.9" r="1.16" fill="url(#cg)" opacity="0.43"/><circle cx="82.3" cy="150.1" r="1.15" fill="url(#cg)" opacity="0.42"/><circle cx="87.2" cy="150.2" r="1.12" fill="url(#cg)" opacity="0.37"/><circle cx="91.3" cy="150.3" r="1.11" fill="url(#cg)" opacity="0.35"/><circle cx="95.0" cy="150.2" r="1.12" fill="url(#cg)" opacity="0.37"/><circle cx="99.0" cy="150.5" r="1.12" fill="url(#cg)" opacity="0.38"/><circle cx="103.5" cy="150.4" r="1.12" fill="url(#cg)" opacity="0.38"/><circle cx="107.3" cy="150.6" r="1.10" fill="url(#cg)" opacity="0.34"/><circle cx="110.6" cy="150.7" r="1.10" fill="url(#cg)" opacity="0.34"/></g>
<rect x="316.5" y="26.5" width="113.6" height="127.6" fill="url(#hazeC)"/>
<g><circle cx="319.4" cy="29.0" r="2.08" fill="url(#dm)" opacity="0.72"/><circle cx="322.6" cy="29.4" r="2.10" fill="url(#dm)" opacity="0.75"/><circle cx="326.2" cy="29.4" r="2.11" fill="url(#dm)" opacity="0.77"/><circle cx="329.8" cy="29.4" r="2.11" fill="url(#dm)" opacity="0.77"/><circle cx="332.8" cy="29.8" r="2.11" fill="url(#dm)" opacity="0.77"/><circle cx="336.6" cy="29.7" r="2.11" fill="url(#dm)" opacity="0.76"/><circle cx="340.7" cy="30.1" r="2.12" fill="url(#dm)" opacity="0.79"/><circle cx="344.3" cy="30.1" r="2.11" fill="url(#dm)" opacity="0.76"/><circle cx="348.3" cy="30.3" r="2.11" fill="url(#dm)" opacity="0.77"/><circle cx="352.1" cy="30.3" r="2.12" fill="url(#dm)" opacity="0.78"/><circle cx="356.3" cy="30.3" r="2.14" fill="url(#dm)" opacity="0.82"/><circle cx="361.1" cy="30.3" r="2.12" fill="url(#dm)" opacity="0.78"/><circle cx="364.6" cy="30.6" r="2.12" fill="url(#dm)" opacity="0.79"/><circle cx="368.5" cy="30.4" r="2.14" fill="url(#dm)" opacity="0.82"/><circle cx="372.6" cy="30.3" r="2.15" fill="url(#dm)" opacity="0.83"/><circle cx="377.1" cy="30.5" r="2.14" fill="url(#dm)" opacity="0.82"/><circle cx="381.0" cy="30.3" r="2.13" fill="url(#dm)" opacity="0.80"/><circle cx="384.3" cy="30.4" r="2.14" fill="url(#dm)" opacity="0.82"/><circle cx="389.0" cy="30.2" r="2.12" fill="url(#dm)" opacity="0.78"/><circle cx="393.0" cy="30.4" r="2.12" fill="url(#dm)" opacity="0.79"/><circle cx="396.7" cy="30.1" r="2.13" fill="url(#dm)" opacity="0.81"/><circle cx="400.3" cy="30.3" r="2.12" fill="url(#dm)" opacity="0.79"/><circle cx="404.9" cy="29.9" r="2.11" fill="url(#dm)" opacity="0.76"/><circle cx="409.5" cy="29.9" r="2.10" fill="url(#dm)" opacity="0.75"/><circle cx="412.6" cy="29.7" r="2.11" fill="url(#dm)" opacity="0.76"/><circle cx="416.2" cy="29.5" r="2.10" fill="url(#dm)" opacity="0.75"/><circle cx="420.0" cy="29.4" r="2.09" fill="url(#dm)" opacity="0.74"/><circle cx="424.0" cy="29.2" r="2.11" fill="url(#dm)" opacity="0.76"/><circle cx="426.9" cy="28.9" r="2.08" fill="url(#dm)" opacity="0.72"/><circle cx="319.5" cy="32.8" r="2.11" fill="url(#dm)" opacity="0.76"/><circle cx="322.5" cy="33.1" r="2.13" fill="url(#dm)" opacity="0.79"/><circle cx="326.3" cy="33.4" r="2.11" fill="url(#dm)" opacity="0.77"/><circle cx="329.7" cy="33.5" r="2.15" fill="url(#dm)" opacity="0.83"/><circle cx="333.0" cy="33.5" r="2.15" fill="url(#dm)" opacity="0.83"/><circle cx="336.4" cy="33.5" r="2.16" fill="url(#dg)" opacity="0.84"/><circle cx="340.8" cy="33.9" r="2.16" fill="url(#dg)" opacity="0.85"/><circle cx="344.4" cy="33.9" r="2.16" fill="url(#dg)" opacity="0.86"/><circle cx="348.3" cy="34.0" r="2.15" fill="url(#dg)" opacity="0.84"/><circle cx="352.0" cy="34.0" r="2.15" fill="url(#dm)" opacity="0.83"/><circle cx="356.4" cy="34.0" r="2.19" fill="url(#dg)" opacity="0.89"/><circle cx="361.0" cy="34.1" r="2.16" fill="url(#dg)" opacity="0.85"/><circle cx="364.6" cy="34.1" r="2.16" fill="url(#dg)" opacity="0.85"/><circle cx="368.3" cy="34.4" r="2.17" fill="url(#dg)" opacity="0.87"/><circle cx="372.7" cy="34.2" r="2.17" fill="url(#dg)" opacity="0.87"/><circle cx="376.9" cy="34.0" r="2.17" fill="url(#dg)" opacity="0.86"/><circle cx="380.8" cy="34.3" r="2.18" fill="url(#dg)" opacity="0.88"/><circle cx="384.6" cy="34.1" r="2.19" fill="url(#dg)" opacity="0.90"/><circle cx="388.9" cy="33.9" r="2.16" fill="url(#dg)" opacity="0.85"/><circle cx="392.9" cy="34.2" r="2.16" fill="url(#dg)" opacity="0.85"/><circle cx="396.8" cy="33.9" r="2.17" fill="url(#dg)" opacity="0.87"/><circle cx="400.2" cy="33.9" r="2.17" fill="url(#dg)" opacity="0.87"/><circle cx="404.9" cy="33.7" r="2.13" fill="url(#dm)" opacity="0.81"/><circle cx="409.2" cy="33.5" r="2.15" fill="url(#dm)" opacity="0.84"/><circle cx="412.6" cy="33.5" r="2.13" fill="url(#dm)" opacity="0.80"/><circle cx="416.2" cy="33.5" r="2.14" fill="url(#dm)" opacity="0.82"/><circle cx="420.0" cy="33.3" r="2.15" fill="url(#dm)" opacity="0.83"/><circle cx="424.2" cy="32.9" r="2.14" fill="url(#dm)" opacity="0.81"/><circle cx="427.2" cy="32.8" r="2.10" fill="url(#dm)" opacity="0.74"/><circle cx="319.4" cy="37.4" r="2.13" fill="url(#dm)" opacity="0.79"/><circle cx="322.7" cy="37.6" r="2.12" fill="url(#dm)" opacity="0.79"/><circle cx="326.1" cy="37.7" r="2.14" fill="url(#dm)" opacity="0.82"/><circle cx="329.7" cy="37.8" r="2.14" fill="url(#dm)" opacity="0.81"/><circle cx="332.7" cy="37.8" r="2.13" fill="url(#dm)" opacity="0.80"/><circle cx="336.5" cy="37.9" r="2.15" fill="url(#dm)" opacity="0.84"/><circle cx="340.7" cy="38.0" r="2.16" fill="url(#dg)" opacity="0.85"/><circle cx="344.3" cy="38.4" r="2.17" fill="url(#dg)" opacity="0.86"/><circle cx="348.5" cy="38.1" r="2.17" fill="url(#dg)" opacity="0.87"/><circle cx="352.1" cy="38.3" r="2.16" fill="url(#dg)" opacity="0.84"/><circle cx="356.3" cy="38.3" r="2.19" fill="url(#dg)" opacity="0.89"/><circle cx="360.9" cy="38.6" r="2.18" fill="url(#dg)" opacity="0.88"/><circle cx="364.7" cy="38.6" r="2.18" fill="url(#dg)" opacity="0.89"/><circle cx="368.6" cy="38.6" r="2.18" fill="url(#dg)" opacity="0.88"/><circle cx="372.8" cy="38.5" r="2.19" fill="url(#dg)" opacity="0.90"/><circle cx="377.2" cy="38.7" r="2.18" fill="url(#dg)" opacity="0.88"/><circle cx="381.0" cy="38.7" r="2.18" fill="url(#dg)" opacity="0.88"/><circle cx="384.3" cy="38.5" r="2.20" fill="url(#dg)" opacity="0.91"/><circle cx="388.8" cy="38.2" r="2.18" fill="url(#dg)" opacity="0.88"/><circle cx="392.9" cy="38.5" r="2.17" fill="url(#dg)" opacity="0.86"/><circle cx="396.9" cy="38.2" r="2.18" fill="url(#dg)" opacity="0.88"/><circle cx="400.2" cy="38.1" r="2.15" fill="url(#dm)" opacity="0.84"/><circle cx="404.8" cy="38.1" r="2.16" fill="url(#dg)" opacity="0.85"/><circle cx="409.2" cy="38.2" r="2.15" fill="url(#dm)" opacity="0.83"/><circle cx="412.5" cy="37.8" r="2.16" fill="url(#dg)" opacity="0.85"/><circle cx="416.3" cy="37.6" r="2.13" fill="url(#dm)" opacity="0.80"/><circle cx="420.2" cy="37.5" r="2.16" fill="url(#dg)" opacity="0.84"/><circle cx="424.1" cy="37.5" r="2.13" fill="url(#dm)" opacity="0.79"/><circle cx="427.1" cy="37.3" r="2.11" fill="url(#dm)" opacity="0.76"/><circle cx="319.7" cy="42.1" r="2.13" fill="url(#dm)" opacity="0.79"/><circle cx="322.5" cy="42.5" r="2.13" fill="url(#dm)" opacity="0.81"/><circle cx="326.3" cy="42.3" r="2.15" fill="url(#dm)" opacity="0.83"/><circle cx="329.7" cy="42.8" r="2.17" fill="url(#dg)" opacity="0.86"/><circle cx="333.0" cy="42.6" r="2.15" fill="url(#dm)" opacity="0.83"/><circle cx="336.4" cy="42.8" r="2.15" fill="url(#dm)" opacity="0.83"/><circle cx="340.6" cy="43.1" r="2.17" fill="url(#dg)" opacity="0.87"/><circle cx="344.5" cy="43.3" r="2.16" fill="url(#dg)" opacity="0.85"/><circle cx="348.4" cy="43.0" r="2.19" fill="url(#dg)" opacity="0.90"/><circle cx="352.2" cy="43.1" r="2.19" fill="url(#dg)" opacity="0.90"/><circle cx="356.6" cy="43.2" r="2.18" fill="url(#dg)" opacity="0.88"/><circle cx="361.0" cy="43.5" r="2.18" fill="url(#dg)" opacity="0.88"/><circle cx="364.8" cy="43.4" r="2.19" fill="url(#dg)" opacity="0.90"/><circle cx="368.5" cy="43.5" r="2.18" fill="url(#dg)" opacity="0.89"/><circle cx="372.8" cy="43.3" r="2.20" fill="url(#dg)" opacity="0.92"/><circle cx="377.2" cy="43.2" r="2.21" fill="url(#dg)" opacity="0.93"/><circle cx="381.0" cy="43.3" r="2.17" fill="url(#dg)" opacity="0.87"/><circle cx="384.3" cy="43.5" r="2.17" fill="url(#dg)" opacity="0.87"/><circle cx="389.1" cy="43.1" r="2.19" fill="url(#dg)" opacity="0.91"/><circle cx="392.7" cy="43.1" r="2.19" fill="url(#dg)" opacity="0.90"/><circle cx="396.5" cy="43.1" r="2.19" fill="url(#dg)" opacity="0.90"/><circle cx="400.4" cy="43.2" r="2.19" fill="url(#dg)" opacity="0.90"/><circle cx="404.8" cy="42.9" r="2.18" fill="url(#dg)" opacity="0.88"/><circle cx="409.4" cy="42.7" r="2.16" fill="url(#dg)" opacity="0.85"/><circle cx="412.6" cy="42.8" r="2.14" fill="url(#dm)" opacity="0.82"/><circle cx="415.9" cy="42.9" r="2.14" fill="url(#dm)" opacity="0.82"/><circle cx="420.3" cy="42.4" r="2.14" fill="url(#dm)" opacity="0.82"/><circle cx="424.0" cy="42.4" r="2.13" fill="url(#dm)" opacity="0.79"/><circle cx="427.1" cy="42.1" r="2.13" fill="url(#dm)" opacity="0.80"/><circle cx="319.6" cy="46.3" r="2.12" fill="url(#dm)" opacity="0.78"/><circle cx="322.7" cy="46.8" r="2.14" fill="url(#dm)" opacity="0.81"/><circle cx="326.0" cy="46.9" r="2.16" fill="url(#dg)" opacity="0.86"/><circle cx="329.8" cy="46.8" r="2.14" fill="url(#dm)" opacity="0.82"/><circle cx="332.8" cy="46.8" r="2.14" fill="url(#dm)" opacity="0.82"/><circle cx="336.5" cy="47.0" r="2.17" fill="url(#dg)" opacity="0.86"/><circle cx="340.6" cy="46.9" r="2.18" fill="url(#dg)" opacity="0.88"/><circle cx="344.6" cy="47.2" r="2.18" fill="url(#dg)" opacity="0.88"/><circle cx="348.4" cy="47.5" r="2.20" fill="url(#dg)" opacity="0.91"/><circle cx="352.1" cy="47.3" r="2.18" fill="url(#dg)" opacity="0.88"/><circle cx="356.5" cy="47.6" r="2.19" fill="url(#dg)" opacity="0.90"/><circle cx="361.0" cy="47.4" r="2.18" fill="url(#dg)" opacity="0.89"/><circle cx="364.9" cy="47.3" r="2.20" fill="url(#dg)" opacity="0.92"/><circle cx="368.7" cy="47.4" r="2.20" fill="url(#dg)" opacity="0.92"/><circle cx="372.6" cy="47.4" r="2.19" fill="url(#dg)" opacity="0.90"/><circle cx="376.9" cy="47.6" r="2.21" fill="url(#dg)" opacity="0.93"/><circle cx="381.0" cy="47.3" r="2.21" fill="url(#dg)" opacity="0.93"/><circle cx="384.3" cy="47.5" r="2.20" fill="url(#dg)" opacity="0.91"/><circle cx="388.8" cy="47.6" r="2.17" fill="url(#dg)" opacity="0.87"/><circle cx="393.0" cy="47.5" r="2.19" fill="url(#dg)" opacity="0.90"/><circle cx="396.7" cy="47.5" r="2.17" fill="url(#dg)" opacity="0.87"/><circle cx="400.4" cy="47.3" r="2.18" fill="url(#dg)" opacity="0.88"/><circle cx="405.1" cy="47.1" r="2.18" fill="url(#dg)" opacity="0.88"/><circle cx="409.3" cy="47.1" r="2.16" fill="url(#dg)" opacity="0.85"/><circle cx="412.7" cy="47.0" r="2.15" fill="url(#dm)" opacity="0.84"/><circle cx="416.2" cy="46.8" r="2.17" fill="url(#dg)" opacity="0.87"/><circle cx="420.1" cy="46.8" r="2.15" fill="url(#dm)" opacity="0.84"/><circle cx="424.1" cy="46.5" r="2.13" fill="url(#dm)" opacity="0.80"/><circle cx="427.1" cy="46.5" r="2.12" fill="url(#dm)" opacity="0.79"/><circle cx="319.6" cy="51.0" r="2.12" fill="url(#dm)" opacity="0.78"/><circle cx="322.6" cy="51.1" r="2.15" fill="url(#dm)" opacity="0.83"/><circle cx="326.2" cy="51.2" r="2.17" fill="url(#dg)" opacity="0.87"/><circle cx="329.9" cy="51.0" r="2.16" fill="url(#dg)" opacity="0.85"/><circle cx="333.1" cy="51.3" r="2.15" fill="url(#dm)" opacity="0.84"/><circle cx="336.4" cy="51.2" r="2.16" fill="url(#dg)" opacity="0.85"/><circle cx="340.6" cy="51.5" r="2.18" fill="url(#dg)" opacity="0.88"/><circle cx="344.5" cy="51.3" r="2.18" fill="url(#dg)" opacity="0.88"/><circle cx="348.5" cy="51.6" r="2.19" fill="url(#dg)" opacity="0.90"/><circle cx="352.0" cy="51.7" r="2.20" fill="url(#dg)" opacity="0.92"/><circle cx="356.3" cy="51.7" r="2.19" fill="url(#dg)" opacity="0.91"/><circle cx="361.1" cy="51.6" r="2.20" fill="url(#dg)" opacity="0.91"/><circle cx="364.7" cy="51.7" r="2.19" fill="url(#dg)" opacity="0.90"/><circle cx="368.4" cy="51.8" r="2.19" fill="url(#dg)" opacity="0.90"/><circle cx="372.6" cy="51.8" r="2.20" fill="url(#dg)" opacity="0.92"/><circle cx="377.0" cy="51.6" r="2.22" fill="url(#dg)" opacity="0.95"/><circle cx="380.7" cy="51.8" r="2.22" fill="url(#dg)" opacity="0.95"/><circle cx="384.3" cy="51.7" r="2.21" fill="url(#dg)" opacity="0.94"/><circle cx="388.9" cy="51.6" r="2.18" fill="url(#dg)" opacity="0.89"/><circle cx="392.8" cy="51.6" r="2.20" fill="url(#dg)" opacity="0.92"/><circle cx="396.6" cy="51.5" r="2.20" fill="url(#dg)" opacity="0.91"/><circle cx="400.4" cy="51.4" r="2.18" fill="url(#dg)" opacity="0.89"/><circle cx="405.0" cy="51.6" r="2.17" fill="url(#dg)" opacity="0.87"/><circle cx="409.5" cy="51.4" r="2.17" fill="url(#dg)" opacity="0.87"/><circle cx="412.7" cy="51.2" r="2.15" fill="url(#dm)" opacity="0.84"/><circle cx="416.2" cy="51.1" r="2.16" fill="url(#dg)" opacity="0.86"/><circle cx="420.1" cy="51.2" r="2.17" fill="url(#dg)" opacity="0.86"/><circle cx="423.9" cy="51.0" r="2.15" fill="url(#dm)" opacity="0.83"/><circle cx="426.9" cy="51.0" r="2.13" fill="url(#dm)" opacity="0.79"/><circle cx="319.6" cy="55.5" r="2.13" fill="url(#dm)" opacity="0.80"/><circle cx="322.7" cy="55.5" r="2.17" fill="url(#dg)" opacity="0.86"/><circle cx="326.2" cy="55.6" r="2.16" fill="url(#dg)" opacity="0.85"/><circle cx="329.6" cy="55.7" r="2.17" fill="url(#dg)" opacity="0.87"/><circle cx="333.0" cy="55.8" r="2.16" fill="url(#dg)" opacity="0.85"/><circle cx="336.4" cy="55.6" r="2.19" fill="url(#dg)" opacity="0.90"/><circle cx="340.5" cy="55.7" r="2.19" fill="url(#dg)" opacity="0.91"/><circle cx="344.6" cy="55.8" r="2.20" fill="url(#dg)" opacity="0.91"/><circle cx="348.4" cy="56.0" r="2.18" fill="url(#dg)" opacity="0.88"/><circle cx="352.1" cy="56.0" r="2.20" fill="url(#dg)" opacity="0.92"/><circle cx="356.7" cy="56.2" r="2.22" fill="url(#dg)" opacity="0.95"/><circle cx="360.9" cy="56.1" r="2.21" fill="url(#dg)" opacity="0.93"/><circle cx="364.5" cy="56.3" r="2.20" fill="url(#dg)" opacity="0.92"/><circle cx="368.4" cy="56.1" r="2.20" fill="url(#dg)" opacity="0.92"/><circle cx="372.8" cy="56.2" r="2.22" fill="url(#dg)" opacity="0.94"/><circle cx="377.0" cy="56.0" r="2.21" fill="url(#dg)" opacity="0.93"/><circle cx="381.0" cy="56.3" r="2.22" fill="url(#dg)" opacity="0.96"/><circle cx="384.3" cy="56.0" r="2.19" fill="url(#dg)" opacity="0.91"/><circle cx="388.9" cy="56.0" r="2.20" fill="url(#dg)" opacity="0.92"/><circle cx="392.9" cy="56.1" r="2.20" fill="url(#dg)" opacity="0.91"/><circle cx="396.8" cy="55.9" r="2.21" fill="url(#dg)" opacity="0.94"/><circle cx="400.3" cy="55.8" r="2.19" fill="url(#dg)" opacity="0.89"/><circle cx="405.0" cy="55.8" r="2.19" fill="url(#dg)" opacity="0.90"/><circle cx="409.2" cy="55.7" r="2.19" fill="url(#dg)" opacity="0.90"/><circle cx="412.6" cy="55.8" r="2.19" fill="url(#dg)" opacity="0.89"/><circle cx="416.2" cy="55.6" r="2.18" fill="url(#dg)" opacity="0.89"/><circle cx="420.1" cy="55.7" r="2.15" fill="url(#dm)" opacity="0.83"/><circle cx="424.0" cy="55.5" r="2.14" fill="url(#dm)" opacity="0.81"/><circle cx="427.1" cy="55.2" r="2.14" fill="url(#dm)" opacity="0.81"/><circle cx="319.5" cy="60.3" r="2.14" fill="url(#dm)" opacity="0.82"/><circle cx="322.8" cy="60.2" r="2.17" fill="url(#dg)" opacity="0.86"/><circle cx="326.2" cy="60.2" r="2.16" fill="url(#dg)" opacity="0.84"/><circle cx="329.9" cy="60.2" r="2.19" fill="url(#dg)" opacity="0.90"/><circle cx="332.8" cy="60.2" r="2.16" fill="url(#dg)" opacity="0.86"/><circle cx="336.6" cy="60.6" r="2.18" fill="url(#dg)" opacity="0.89"/><circle cx="340.7" cy="60.4" r="2.21" fill="url(#dg)" opacity="0.93"/><circle cx="344.6" cy="60.4" r="2.18" fill="url(#dg)" opacity="0.88"/><circle cx="348.4" cy="60.5" r="2.21" fill="url(#dg)" opacity="0.94"/><circle cx="351.9" cy="60.6" r="2.21" fill="url(#dg)" opacity="0.93"/><circle cx="356.4" cy="60.7" r="2.20" fill="url(#dg)" opacity="0.91"/><circle cx="361.2" cy="60.7" r="2.23" fill="url(#dg)" opacity="0.96"/><circle cx="364.6" cy="60.9" r="2.24" fill="url(#dg)" opacity="0.98"/><circle cx="368.5" cy="60.6" r="2.22" fill="url(#dg)" opacity="0.94"/><circle cx="372.7" cy="60.7" r="2.22" fill="url(#dg)" opacity="0.96"/><circle cx="376.9" cy="60.8" r="2.23" fill="url(#dg)" opacity="0.96"/><circle cx="380.8" cy="60.8" r="2.20" fill="url(#dg)" opacity="0.92"/><circle cx="384.5" cy="60.6" r="2.23" fill="url(#dg)" opacity="0.97"/><circle cx="389.1" cy="60.9" r="2.21" fill="url(#dg)" opacity="0.94"/><circle cx="392.8" cy="60.6" r="2.22" fill="url(#dg)" opacity="0.95"/><circle cx="396.6" cy="60.8" r="2.19" fill="url(#dg)" opacity="0.90"/><circle cx="400.3" cy="60.8" r="2.20" fill="url(#dg)" opacity="0.92"/><circle cx="405.0" cy="60.4" r="2.18" fill="url(#dg)" opacity="0.88"/><circle cx="409.2" cy="60.6" r="2.20" fill="url(#dg)" opacity="0.91"/><circle cx="412.5" cy="60.6" r="2.16" fill="url(#dg)" opacity="0.86"/><circle cx="416.2" cy="60.5" r="2.17" fill="url(#dg)" opacity="0.86"/><circle cx="420.3" cy="60.3" r="2.15" fill="url(#dm)" opacity="0.83"/><circle cx="424.0" cy="60.1" r="2.15" fill="url(#dm)" opacity="0.83"/><circle cx="427.0" cy="60.0" r="2.15" fill="url(#dm)" opacity="0.83"/><circle cx="319.5" cy="64.9" r="2.14" fill="url(#dm)" opacity="0.82"/><circle cx="322.5" cy="65.1" r="2.18" fill="url(#dg)" opacity="0.88"/><circle cx="326.2" cy="65.1" r="2.15" fill="url(#dg)" opacity="0.84"/><circle cx="329.8" cy="65.1" r="2.18" fill="url(#dg)" opacity="0.89"/><circle cx="332.8" cy="65.3" r="2.18" fill="url(#dg)" opacity="0.88"/><circle cx="336.5" cy="65.4" r="2.18" fill="url(#dg)" opacity="0.88"/><circle cx="340.6" cy="65.6" r="2.19" fill="url(#dg)" opacity="0.90"/><circle cx="344.7" cy="65.6" r="2.20" fill="url(#dg)" opacity="0.92"/><circle cx="348.2" cy="65.3" r="2.22" fill="url(#dg)" opacity="0.95"/><circle cx="351.9" cy="65.5" r="2.21" fill="url(#dg)" opacity="0.94"/><circle cx="356.3" cy="65.5" r="2.21" fill="url(#dg)" opacity="0.93"/><circle cx="361.1" cy="65.6" r="2.22" fill="url(#dg)" opacity="0.94"/><circle cx="364.6" cy="65.6" r="2.21" fill="url(#dg)" opacity="0.94"/><circle cx="368.4" cy="65.5" r="2.24" fill="url(#dg)" opacity="0.98"/><circle cx="372.7" cy="65.8" r="2.21" fill="url(#dg)" opacity="0.93"/><circle cx="377.2" cy="65.6" r="2.24" fill="url(#dg)" opacity="0.98"/><circle cx="380.9" cy="65.7" r="2.22" fill="url(#dg)" opacity="0.94"/><circle cx="384.5" cy="65.4" r="2.21" fill="url(#dg)" opacity="0.94"/><circle cx="388.7" cy="65.5" r="2.22" fill="url(#dg)" opacity="0.95"/><circle cx="392.8" cy="65.7" r="2.20" fill="url(#dg)" opacity="0.92"/><circle cx="396.7" cy="65.4" r="2.21" fill="url(#dg)" opacity="0.94"/><circle cx="400.4" cy="65.5" r="2.19" fill="url(#dg)" opacity="0.90"/><circle cx="404.9" cy="65.4" r="2.22" fill="url(#dg)" opacity="0.94"/><circle cx="409.1" cy="65.4" r="2.20" fill="url(#dg)" opacity="0.91"/><circle cx="412.8" cy="65.2" r="2.20" fill="url(#dg)" opacity="0.91"/><circle cx="416.1" cy="65.4" r="2.16" fill="url(#dg)" opacity="0.85"/><circle cx="420.3" cy="65.1" r="2.17" fill="url(#dg)" opacity="0.86"/><circle cx="423.9" cy="65.0" r="2.17" fill="url(#dg)" opacity="0.87"/><circle cx="427.0" cy="64.9" r="2.14" fill="url(#dm)" opacity="0.81"/><circle cx="319.5" cy="69.3" r="2.14" fill="url(#dm)" opacity="0.81"/><circle cx="322.6" cy="69.7" r="2.19" fill="url(#dg)" opacity="0.89"/><circle cx="326.3" cy="69.6" r="2.18" fill="url(#dg)" opacity="0.88"/><circle cx="329.9" cy="69.8" r="2.19" fill="url(#dg)" opacity="0.90"/><circle cx="333.0" cy="69.5" r="2.19" fill="url(#dg)" opacity="0.90"/><circle cx="336.6" cy="69.8" r="2.18" fill="url(#dg)" opacity="0.88"/><circle cx="340.8" cy="69.7" r="2.19" fill="url(#dg)" opacity="0.90"/><circle cx="344.7" cy="69.9" r="2.22" fill="url(#dg)" opacity="0.94"/><circle cx="348.2" cy="70.0" r="2.23" fill="url(#dg)" opacity="0.96"/><circle cx="352.2" cy="70.0" r="2.23" fill="url(#dg)" opacity="0.97"/><circle cx="356.6" cy="69.9" r="2.22" fill="url(#dg)" opacity="0.95"/><circle cx="361.2" cy="70.0" r="2.24" fill="url(#dg)" opacity="0.98"/><circle cx="364.7" cy="70.1" r="2.23" fill="url(#dg)" opacity="0.97"/><circle cx="368.7" cy="69.8" r="2.25" fill="url(#dg)" opacity="1.00"/><circle cx="372.8" cy="69.8" r="2.25" fill="url(#dg)" opacity="0.99"/><circle cx="377.0" cy="69.8" r="2.23" fill="url(#dg)" opacity="0.97"/><circle cx="380.7" cy="69.9" r="2.24" fill="url(#dg)" opacity="0.99"/><circle cx="384.5" cy="70.0" r="2.22" fill="url(#dg)" opacity="0.96"/><circle cx="389.0" cy="70.0" r="2.23" fill="url(#dg)" opacity="0.97"/><circle cx="393.0" cy="70.0" r="2.22" fill="url(#dg)" opacity="0.94"/><circle cx="396.5" cy="69.9" r="2.23" fill="url(#dg)" opacity="0.96"/><circle cx="400.3" cy="69.9" r="2.22" fill="url(#dg)" opacity="0.95"/><circle cx="405.1" cy="69.6" r="2.20" fill="url(#dg)" opacity="0.92"/><circle cx="409.1" cy="69.6" r="2.21" fill="url(#dg)" opacity="0.93"/><circle cx="412.6" cy="69.7" r="2.19" fill="url(#dg)" opacity="0.90"/><circle cx="416.1" cy="69.5" r="2.18" fill="url(#dg)" opacity="0.88"/><circle cx="420.2" cy="69.6" r="2.17" fill="url(#dg)" opacity="0.86"/><circle cx="423.9" cy="69.4" r="2.18" fill="url(#dg)" opacity="0.88"/><circle cx="426.9" cy="69.5" r="2.16" fill="url(#dg)" opacity="0.84"/><circle cx="319.4" cy="74.6" r="2.13" fill="url(#dm)" opacity="0.81"/><circle cx="322.8" cy="74.4" r="2.16" fill="url(#dg)" opacity="0.86"/><circle cx="326.3" cy="74.5" r="2.17" fill="url(#dg)" opacity="0.87"/><circle cx="329.9" cy="74.7" r="2.20" fill="url(#dg)" opacity="0.92"/><circle cx="332.9" cy="74.6" r="2.21" fill="url(#dg)" opacity="0.93"/><circle cx="336.5" cy="74.9" r="2.19" fill="url(#dg)" opacity="0.90"/><circle cx="340.8" cy="74.6" r="2.21" fill="url(#dg)" opacity="0.93"/><circle cx="344.3" cy="74.6" r="2.23" fill="url(#dg)" opacity="0.96"/><circle cx="348.3" cy="74.9" r="2.21" fill="url(#dg)" opacity="0.93"/><circle cx="351.9" cy="74.6" r="2.22" fill="url(#dg)" opacity="0.96"/><circle cx="356.6" cy="74.8" r="2.22" fill="url(#dg)" opacity="0.95"/><circle cx="361.2" cy="75.0" r="2.24" fill="url(#dg)" opacity="0.98"/><circle cx="364.6" cy="74.9" r="2.23" fill="url(#dg)" opacity="0.97"/><circle cx="368.7" cy="74.8" r="2.24" fill="url(#dg)" opacity="0.99"/><circle cx="372.7" cy="74.8" r="2.24" fill="url(#dg)" opacity="0.98"/><circle cx="377.1" cy="75.0" r="2.24" fill="url(#dg)" opacity="0.98"/><circle cx="380.8" cy="75.0" r="2.22" fill="url(#dg)" opacity="0.95"/><circle cx="384.6" cy="74.9" r="2.23" fill="url(#dg)" opacity="0.97"/><circle cx="388.9" cy="74.9" r="2.24" fill="url(#dg)" opacity="0.99"/><circle cx="393.0" cy="74.9" r="2.21" fill="url(#dg)" opacity="0.93"/><circle cx="396.6" cy="74.6" r="2.24" fill="url(#dg)" opacity="0.98"/><circle cx="400.5" cy="74.6" r="2.22" fill="url(#dg)" opacity="0.95"/><circle cx="405.0" cy="74.5" r="2.20" fill="url(#dg)" opacity="0.92"/><circle cx="409.4" cy="74.7" r="2.19" fill="url(#dg)" opacity="0.90"/><circle cx="412.8" cy="74.6" r="2.20" fill="url(#dg)" opacity="0.91"/><circle cx="416.1" cy="74.8" r="2.19" fill="url(#dg)" opacity="0.91"/><circle cx="420.2" cy="74.6" r="2.18" fill="url(#dg)" opacity="0.88"/><circle cx="424.3" cy="74.6" r="2.18" fill="url(#dg)" opacity="0.88"/><circle cx="426.9" cy="74.4" r="2.15" fill="url(#dm)" opacity="0.84"/><circle cx="319.7" cy="79.2" r="2.15" fill="url(#dm)" opacity="0.83"/><circle cx="322.5" cy="79.2" r="2.19" fill="url(#dg)" opacity="0.90"/><circle cx="326.0" cy="79.3" r="2.17" fill="url(#dg)" opacity="0.87"/><circle cx="329.6" cy="79.0" r="2.18" fill="url(#dg)" opacity="0.89"/><circle cx="332.9" cy="79.4" r="2.21" fill="url(#dg)" opacity="0.94"/><circle cx="336.4" cy="79.2" r="2.22" fill="url(#dg)" opacity="0.95"/><circle cx="340.5" cy="79.2" r="2.21" fill="url(#dg)" opacity="0.93"/><circle cx="344.4" cy="79.2" r="2.21" fill="url(#dg)" opacity="0.94"/><circle cx="348.3" cy="79.5" r="2.21" fill="url(#dg)" opacity="0.94"/><circle cx="351.9" cy="79.5" r="2.22" fill="url(#dg)" opacity="0.96"/><circle cx="356.6" cy="79.4" r="2.24" fill="url(#dg)" opacity="0.99"/><circle cx="361.0" cy="79.2" r="2.25" fill="url(#dg)" opacity="0.99"/><circle cx="364.7" cy="79.4" r="2.25" fill="url(#dg)" opacity="0.99"/><circle cx="368.6" cy="79.3" r="2.24" fill="url(#dg)" opacity="0.98"/><circle cx="372.9" cy="79.4" r="2.24" fill="url(#dg)" opacity="0.98"/><circle cx="377.1" cy="79.3" r="2.25" fill="url(#dg)" opacity="1.00"/><circle cx="380.7" cy="79.5" r="2.24" fill="url(#dg)" opacity="0.99"/><circle cx="384.4" cy="79.5" r="2.23" fill="url(#dg)" opacity="0.96"/><circle cx="388.8" cy="79.2" r="2.23" fill="url(#dg)" opacity="0.97"/><circle cx="393.0" cy="79.4" r="2.23" fill="url(#dg)" opacity="0.96"/><circle cx="396.8" cy="79.2" r="2.22" fill="url(#dg)" opacity="0.94"/><circle cx="400.4" cy="79.5" r="2.22" fill="url(#dg)" opacity="0.96"/><circle cx="405.1" cy="79.4" r="2.21" fill="url(#dg)" opacity="0.93"/><circle cx="409.5" cy="79.4" r="2.20" fill="url(#dg)" opacity="0.91"/><circle cx="412.6" cy="79.4" r="2.19" fill="url(#dg)" opacity="0.90"/><circle cx="416.0" cy="79.4" r="2.19" fill="url(#dg)" opacity="0.90"/><circle cx="420.1" cy="79.3" r="2.20" fill="url(#dg)" opacity="0.91"/><circle cx="424.0" cy="79.1" r="2.16" fill="url(#dg)" opacity="0.85"/><circle cx="427.0" cy="79.1" r="2.16" fill="url(#dg)" opacity="0.86"/><circle cx="319.6" cy="83.4" r="2.15" fill="url(#dm)" opacity="0.84"/><circle cx="322.7" cy="83.3" r="2.19" fill="url(#dg)" opacity="0.90"/><circle cx="326.2" cy="83.5" r="2.17" fill="url(#dg)" opacity="0.87"/><circle cx="329.8" cy="83.5" r="2.19" fill="url(#dg)" opacity="0.90"/><circle cx="333.0" cy="83.6" r="2.21" fill="url(#dg)" opacity="0.93"/><circle cx="336.6" cy="83.5" r="2.22" fill="url(#dg)" opacity="0.95"/><circle cx="340.5" cy="83.5" r="2.22" fill="url(#dg)" opacity="0.95"/><circle cx="344.6" cy="83.4" r="2.20" fill="url(#dg)" opacity="0.92"/><circle cx="348.3" cy="83.6" r="2.22" fill="url(#dg)" opacity="0.94"/><circle cx="351.9" cy="83.4" r="2.21" fill="url(#dg)" opacity="0.94"/><circle cx="356.5" cy="83.7" r="2.25" fill="url(#dg)" opacity="0.99"/><circle cx="361.0" cy="83.6" r="2.22" fill="url(#dg)" opacity="0.96"/><circle cx="364.9" cy="83.4" r="2.22" fill="url(#dg)" opacity="0.96"/><circle cx="368.6" cy="83.4" r="2.24" fill="url(#dg)" opacity="0.98"/><circle cx="372.5" cy="83.5" r="2.25" fill="url(#dg)" opacity="1.00"/><circle cx="377.2" cy="83.3" r="2.25" fill="url(#dg)" opacity="1.00"/><circle cx="380.7" cy="83.4" r="2.25" fill="url(#dg)" opacity="1.00"/><circle cx="384.4" cy="83.4" r="2.24" fill="url(#dg)" opacity="0.99"/><circle cx="388.8" cy="83.6" r="2.23" fill="url(#dg)" opacity="0.96"/><circle cx="393.0" cy="83.6" r="2.23" fill="url(#dg)" opacity="0.97"/><circle cx="396.5" cy="83.6" r="2.21" fill="url(#dg)" opacity="0.93"/><circle cx="400.4" cy="83.4" r="2.21" fill="url(#dg)" opacity="0.93"/><circle cx="405.1" cy="83.5" r="2.22" fill="url(#dg)" opacity="0.95"/><circle cx="409.3" cy="83.4" r="2.21" fill="url(#dg)" opacity="0.93"/><circle cx="412.6" cy="83.6" r="2.22" fill="url(#dg)" opacity="0.95"/><circle cx="416.3" cy="83.6" r="2.19" fill="url(#dg)" opacity="0.90"/><circle cx="420.4" cy="83.2" r="2.19" fill="url(#dg)" opacity="0.89"/><circle cx="424.0" cy="83.4" r="2.18" fill="url(#dg)" opacity="0.89"/><circle cx="427.1" cy="83.3" r="2.15" fill="url(#dm)" opacity="0.83"/><circle cx="319.4" cy="87.2" r="2.15" fill="url(#dm)" opacity="0.83"/><circle cx="322.5" cy="87.4" r="2.18" fill="url(#dg)" opacity="0.88"/><circle cx="326.1" cy="87.2" r="2.19" fill="url(#dg)" opacity="0.91"/><circle cx="329.6" cy="87.2" r="2.20" fill="url(#dg)" opacity="0.91"/><circle cx="332.9" cy="87.5" r="2.21" fill="url(#dg)" opacity="0.93"/><circle cx="336.6" cy="87.5" r="2.22" fill="url(#dg)" opacity="0.94"/><circle cx="340.7" cy="87.1" r="2.20" fill="url(#dg)" opacity="0.92"/><circle cx="344.3" cy="87.5" r="2.23" fill="url(#dg)" opacity="0.96"/><circle cx="348.3" cy="87.2" r="2.22" fill="url(#dg)" opacity="0.95"/><circle cx="351.8" cy="87.4" r="2.25" fill="url(#dg)" opacity="1.00"/><circle cx="356.4" cy="87.2" r="2.22" fill="url(#dg)" opacity="0.96"/><circle cx="361.0" cy="87.5" r="2.25" fill="url(#dg)" opacity="1.00"/><circle cx="364.7" cy="87.2" r="2.23" fill="url(#dg)" opacity="0.97"/><circle cx="368.4" cy="87.5" r="2.25" fill="url(#dg)" opacity="0.99"/><circle cx="372.9" cy="87.5" r="2.25" fill="url(#dg)" opacity="1.00"/><circle cx="377.1" cy="87.5" r="2.23" fill="url(#dg)" opacity="0.97"/><circle cx="380.7" cy="87.4" r="2.25" fill="url(#dg)" opacity="0.99"/><circle cx="384.3" cy="87.2" r="2.22" fill="url(#dg)" opacity="0.96"/><circle cx="389.1" cy="87.4" r="2.25" fill="url(#dg)" opacity="1.00"/><circle cx="393.1" cy="87.3" r="2.24" fill="url(#dg)" opacity="0.99"/><circle cx="396.6" cy="87.5" r="2.24" fill="url(#dg)" opacity="0.98"/><circle cx="400.2" cy="87.1" r="2.21" fill="url(#dg)" opacity="0.94"/><circle cx="405.1" cy="87.3" r="2.20" fill="url(#dg)" opacity="0.91"/><circle cx="409.5" cy="87.4" r="2.21" fill="url(#dg)" opacity="0.93"/><circle cx="412.5" cy="87.5" r="2.20" fill="url(#dg)" opacity="0.92"/><circle cx="416.0" cy="87.2" r="2.20" fill="url(#dg)" opacity="0.92"/><circle cx="420.3" cy="87.3" r="2.19" fill="url(#dg)" opacity="0.91"/><circle cx="424.0" cy="87.2" r="2.19" fill="url(#dg)" opacity="0.91"/><circle cx="427.0" cy="87.1" r="2.16" fill="url(#dg)" opacity="0.85"/><circle cx="319.3" cy="92.1" r="2.16" fill="url(#dg)" opacity="0.84"/><circle cx="322.6" cy="92.3" r="2.19" fill="url(#dg)" opacity="0.90"/><circle cx="326.0" cy="92.0" r="2.20" fill="url(#dg)" opacity="0.91"/><circle cx="329.5" cy="92.2" r="2.19" fill="url(#dg)" opacity="0.90"/><circle cx="332.9" cy="92.3" r="2.19" fill="url(#dg)" opacity="0.91"/><circle cx="336.5" cy="92.3" r="2.21" fill="url(#dg)" opacity="0.93"/><circle cx="340.5" cy="92.3" r="2.22" fill="url(#dg)" opacity="0.95"/><circle cx="344.3" cy="92.1" r="2.24" fill="url(#dg)" opacity="0.98"/><circle cx="348.2" cy="92.1" r="2.24" fill="url(#dg)" opacity="0.98"/><circle cx="352.1" cy="92.2" r="2.24" fill="url(#dg)" opacity="0.99"/><circle cx="356.3" cy="92.0" r="2.25" fill="url(#dg)" opacity="1.00"/><circle cx="361.2" cy="92.0" r="2.23" fill="url(#dg)" opacity="0.96"/><circle cx="364.6" cy="92.3" r="2.24" fill="url(#dg)" opacity="0.98"/><circle cx="368.6" cy="92.3" r="2.25" fill="url(#dg)" opacity="1.00"/><circle cx="372.9" cy="92.1" r="2.24" fill="url(#dg)" opacity="0.98"/><circle cx="376.9" cy="92.3" r="2.23" fill="url(#dg)" opacity="0.97"/><circle cx="381.0" cy="92.3" r="2.24" fill="url(#dg)" opacity="0.98"/><circle cx="384.6" cy="92.0" r="2.24" fill="url(#dg)" opacity="0.99"/><circle cx="388.8" cy="92.3" r="2.25" fill="url(#dg)" opacity="1.00"/><circle cx="393.1" cy="92.0" r="2.25" fill="url(#dg)" opacity="1.00"/><circle cx="396.7" cy="92.3" r="2.23" fill="url(#dg)" opacity="0.97"/><circle cx="400.4" cy="92.2" r="2.24" fill="url(#dg)" opacity="0.98"/><circle cx="404.9" cy="92.0" r="2.22" fill="url(#dg)" opacity="0.95"/><circle cx="409.3" cy="92.1" r="2.19" fill="url(#dg)" opacity="0.90"/><circle cx="412.8" cy="92.0" r="2.22" fill="url(#dg)" opacity="0.94"/><circle cx="416.3" cy="92.2" r="2.18" fill="url(#dg)" opacity="0.89"/><circle cx="420.3" cy="92.1" r="2.19" fill="url(#dg)" opacity="0.90"/><circle cx="424.0" cy="92.4" r="2.18" fill="url(#dg)" opacity="0.89"/><circle cx="427.0" cy="92.1" r="2.17" fill="url(#dg)" opacity="0.86"/><circle cx="319.6" cy="97.2" r="2.14" fill="url(#dm)" opacity="0.82"/><circle cx="322.5" cy="97.0" r="2.19" fill="url(#dg)" opacity="0.90"/><circle cx="325.9" cy="97.1" r="2.21" fill="url(#dg)" opacity="0.93"/><circle cx="329.7" cy="96.8" r="2.18" fill="url(#dg)" opacity="0.88"/><circle cx="332.7" cy="97.1" r="2.21" fill="url(#dg)" opacity="0.93"/><circle cx="336.4" cy="96.9" r="2.20" fill="url(#dg)" opacity="0.92"/><circle cx="340.6" cy="97.0" r="2.23" fill="url(#dg)" opacity="0.97"/><circle cx="344.6" cy="97.1" r="2.24" fill="url(#dg)" opacity="0.98"/><circle cx="348.4" cy="97.0" r="2.21" fill="url(#dg)" opacity="0.93"/><circle cx="352.0" cy="97.1" r="2.23" fill="url(#dg)" opacity="0.97"/><circle cx="356.6" cy="96.8" r="2.25" fill="url(#dg)" opacity="1.00"/><circle cx="361.0" cy="97.0" r="2.23" fill="url(#dg)" opacity="0.97"/><circle cx="364.6" cy="96.8" r="2.24" fill="url(#dg)" opacity="0.98"/><circle cx="368.3" cy="96.9" r="2.25" fill="url(#dg)" opacity="1.00"/><circle cx="372.7" cy="97.1" r="2.25" fill="url(#dg)" opacity="1.00"/><circle cx="377.2" cy="97.1" r="2.25" fill="url(#dg)" opacity="1.00"/><circle cx="380.8" cy="96.8" r="2.24" fill="url(#dg)" opacity="0.99"/><circle cx="384.3" cy="96.8" r="2.25" fill="url(#dg)" opacity="1.00"/><circle cx="389.1" cy="96.8" r="2.25" fill="url(#dg)" opacity="1.00"/><circle cx="393.0" cy="97.1" r="2.24" fill="url(#dg)" opacity="0.99"/><circle cx="396.7" cy="96.8" r="2.24" fill="url(#dg)" opacity="0.99"/><circle cx="400.3" cy="97.0" r="2.22" fill="url(#dg)" opacity="0.95"/><circle cx="405.1" cy="97.1" r="2.20" fill="url(#dg)" opacity="0.92"/><circle cx="409.4" cy="97.0" r="2.21" fill="url(#dg)" opacity="0.94"/><circle cx="412.9" cy="96.9" r="2.22" fill="url(#dg)" opacity="0.95"/><circle cx="416.3" cy="97.2" r="2.18" fill="url(#dg)" opacity="0.89"/><circle cx="420.1" cy="96.9" r="2.20" fill="url(#dg)" opacity="0.92"/><circle cx="424.0" cy="96.9" r="2.19" fill="url(#dg)" opacity="0.90"/><circle cx="427.3" cy="96.9" r="2.16" fill="url(#dg)" opacity="0.84"/><circle cx="319.5" cy="101.4" r="2.16" fill="url(#dg)" opacity="0.86"/><circle cx="322.6" cy="101.1" r="2.17" fill="url(#dg)" opacity="0.87"/><circle cx="325.8" cy="101.3" r="2.18" fill="url(#dg)" opacity="0.88"/><circle cx="329.5" cy="101.4" r="2.20" fill="url(#dg)" opacity="0.92"/><circle cx="332.8" cy="101.2" r="2.20" fill="url(#dg)" opacity="0.92"/><circle cx="336.4" cy="101.1" r="2.19" fill="url(#dg)" opacity="0.90"/><circle cx="340.4" cy="100.9" r="2.21" fill="url(#dg)" opacity="0.93"/><circle cx="344.3" cy="100.9" r="2.22" fill="url(#dg)" opacity="0.95"/><circle cx="348.4" cy="101.2" r="2.22" fill="url(#dg)" opacity="0.95"/><circle cx="352.0" cy="100.9" r="2.22" fill="url(#dg)" opacity="0.94"/><circle cx="356.3" cy="101.0" r="2.24" fill="url(#dg)" opacity="0.99"/><circle cx="361.0" cy="101.1" r="2.23" fill="url(#dg)" opacity="0.96"/><circle cx="364.9" cy="101.0" r="2.25" fill="url(#dg)" opacity="1.00"/><circle cx="368.3" cy="101.2" r="2.24" fill="url(#dg)" opacity="0.98"/><circle cx="372.8" cy="101.1" r="2.25" fill="url(#dg)" opacity="1.00"/><circle cx="377.0" cy="100.8" r="2.23" fill="url(#dg)" opacity="0.97"/><circle cx="381.0" cy="100.9" r="2.25" fill="url(#dg)" opacity="1.00"/><circle cx="384.5" cy="101.1" r="2.23" fill="url(#dg)" opacity="0.97"/><circle cx="388.8" cy="100.9" r="2.25" fill="url(#dg)" opacity="1.00"/><circle cx="392.9" cy="101.1" r="2.23" fill="url(#dg)" opacity="0.97"/><circle cx="396.6" cy="100.9" r="2.21" fill="url(#dg)" opacity="0.93"/><circle cx="400.6" cy="100.9" r="2.24" fill="url(#dg)" opacity="0.98"/><circle cx="405.1" cy="101.2" r="2.20" fill="url(#dg)" opacity="0.92"/><circle cx="409.5" cy="101.0" r="2.20" fill="url(#dg)" opacity="0.92"/><circle cx="412.8" cy="101.0" r="2.19" fill="url(#dg)" opacity="0.90"/><circle cx="416.4" cy="101.1" r="2.19" fill="url(#dg)" opacity="0.90"/><circle cx="420.4" cy="101.1" r="2.18" fill="url(#dg)" opacity="0.88"/><circle cx="424.2" cy="101.2" r="2.17" fill="url(#dg)" opacity="0.87"/><circle cx="427.2" cy="101.3" r="2.17" fill="url(#dg)" opacity="0.86"/><circle cx="319.2" cy="105.7" r="2.17" fill="url(#dg)" opacity="0.86"/><circle cx="322.4" cy="105.4" r="2.18" fill="url(#dg)" opacity="0.88"/><circle cx="325.8" cy="105.5" r="2.19" fill="url(#dg)" opacity="0.90"/><circle cx="329.4" cy="105.3" r="2.19" fill="url(#dg)" opacity="0.90"/><circle cx="332.6" cy="105.3" r="2.20" fill="url(#dg)" opacity="0.91"/><circle cx="336.2" cy="105.2" r="2.20" fill="url(#dg)" opacity="0.92"/><circle cx="340.5" cy="105.6" r="2.21" fill="url(#dg)" opacity="0.94"/><circle cx="344.3" cy="105.2" r="2.23" fill="url(#dg)" opacity="0.96"/><circle cx="348.2" cy="105.5" r="2.24" fill="url(#dg)" opacity="0.98"/><circle cx="352.1" cy="105.2" r="2.24" fill="url(#dg)" opacity="0.99"/><circle cx="356.4" cy="105.2" r="2.22" fill="url(#dg)" opacity="0.95"/><circle cx="361.1" cy="105.2" r="2.22" fill="url(#dg)" opacity="0.95"/><circle cx="364.6" cy="105.4" r="2.24" fill="url(#dg)" opacity="0.98"/><circle cx="368.6" cy="105.1" r="2.24" fill="url(#dg)" opacity="0.99"/><circle cx="372.6" cy="105.1" r="2.25" fill="url(#dg)" opacity="1.00"/><circle cx="377.0" cy="105.1" r="2.25" fill="url(#dg)" opacity="1.00"/><circle cx="380.9" cy="105.1" r="2.22" fill="url(#dg)" opacity="0.96"/><circle cx="384.5" cy="105.3" r="2.22" fill="url(#dg)" opacity="0.95"/><circle cx="388.9" cy="105.4" r="2.24" fill="url(#dg)" opacity="0.98"/><circle cx="392.8" cy="105.3" r="2.23" fill="url(#dg)" opacity="0.97"/><circle cx="396.8" cy="105.2" r="2.24" fill="url(#dg)" opacity="0.98"/><circle cx="400.6" cy="105.4" r="2.23" fill="url(#dg)" opacity="0.97"/><circle cx="405.1" cy="105.5" r="2.20" fill="url(#dg)" opacity="0.92"/><circle cx="409.3" cy="105.5" r="2.22" fill="url(#dg)" opacity="0.95"/><circle cx="412.7" cy="105.3" r="2.18" fill="url(#dg)" opacity="0.89"/><circle cx="416.3" cy="105.3" r="2.18" fill="url(#dg)" opacity="0.89"/><circle cx="420.4" cy="105.6" r="2.20" fill="url(#dg)" opacity="0.92"/><circle cx="424.3" cy="105.6" r="2.16" fill="url(#dg)" opacity="0.85"/><circle cx="427.4" cy="105.5" r="2.15" fill="url(#dm)" opacity="0.84"/><circle cx="319.3" cy="110.7" r="2.15" fill="url(#dm)" opacity="0.84"/><circle cx="322.6" cy="110.5" r="2.16" fill="url(#dg)" opacity="0.86"/><circle cx="326.0" cy="110.3" r="2.20" fill="url(#dg)" opacity="0.92"/><circle cx="329.5" cy="110.3" r="2.20" fill="url(#dg)" opacity="0.92"/><circle cx="332.6" cy="110.3" r="2.19" fill="url(#dg)" opacity="0.90"/><circle cx="336.4" cy="110.1" r="2.20" fill="url(#dg)" opacity="0.91"/><circle cx="340.4" cy="110.4" r="2.19" fill="url(#dg)" opacity="0.90"/><circle cx="344.4" cy="110.1" r="2.21" fill="url(#dg)" opacity="0.94"/><circle cx="348.2" cy="110.3" r="2.21" fill="url(#dg)" opacity="0.93"/><circle cx="351.8" cy="110.0" r="2.24" fill="url(#dg)" opacity="0.98"/><circle cx="356.2" cy="110.0" r="2.23" fill="url(#dg)" opacity="0.97"/><circle cx="361.0" cy="110.3" r="2.22" fill="url(#dg)" opacity="0.95"/><circle cx="364.6" cy="110.0" r="2.24" fill="url(#dg)" opacity="0.98"/><circle cx="368.5" cy="110.0" r="2.25" fill="url(#dg)" opacity="1.00"/><circle cx="372.7" cy="110.2" r="2.25" fill="url(#dg)" opacity="1.00"/><circle cx="377.0" cy="110.3" r="2.24" fill="url(#dg)" opacity="0.98"/><circle cx="380.7" cy="110.3" r="2.22" fill="url(#dg)" opacity="0.95"/><circle cx="384.3" cy="110.0" r="2.23" fill="url(#dg)" opacity="0.96"/><circle cx="389.2" cy="110.3" r="2.23" fill="url(#dg)" opacity="0.96"/><circle cx="393.0" cy="110.3" r="2.24" fill="url(#dg)" opacity="0.98"/><circle cx="396.8" cy="110.2" r="2.21" fill="url(#dg)" opacity="0.93"/><circle cx="400.4" cy="110.3" r="2.22" fill="url(#dg)" opacity="0.95"/><circle cx="405.3" cy="110.4" r="2.23" fill="url(#dg)" opacity="0.96"/><circle cx="409.3" cy="110.1" r="2.22" fill="url(#dg)" opacity="0.94"/><circle cx="412.9" cy="110.2" r="2.20" fill="url(#dg)" opacity="0.92"/><circle cx="416.3" cy="110.3" r="2.18" fill="url(#dg)" opacity="0.89"/><circle cx="420.4" cy="110.5" r="2.17" fill="url(#dg)" opacity="0.86"/><circle cx="424.5" cy="110.5" r="2.17" fill="url(#dg)" opacity="0.87"/><circle cx="427.3" cy="110.7" r="2.13" fill="url(#dm)" opacity="0.81"/><circle cx="319.2" cy="114.9" r="2.16" fill="url(#dg)" opacity="0.84"/><circle cx="322.4" cy="114.7" r="2.19" fill="url(#dg)" opacity="0.90"/><circle cx="326.0" cy="114.6" r="2.18" fill="url(#dg)" opacity="0.88"/><circle cx="329.6" cy="114.6" r="2.18" fill="url(#dg)" opacity="0.89"/><circle cx="332.8" cy="114.8" r="2.18" fill="url(#dg)" opacity="0.89"/><circle cx="336.4" cy="114.5" r="2.20" fill="url(#dg)" opacity="0.92"/><circle cx="340.6" cy="114.4" r="2.19" fill="url(#dg)" opacity="0.91"/><circle cx="344.3" cy="114.4" r="2.19" fill="url(#dg)" opacity="0.90"/><circle cx="348.0" cy="114.4" r="2.21" fill="url(#dg)" opacity="0.94"/><circle cx="351.7" cy="114.4" r="2.24" fill="url(#dg)" opacity="0.98"/><circle cx="356.4" cy="114.3" r="2.23" fill="url(#dg)" opacity="0.97"/><circle cx="361.0" cy="114.2" r="2.23" fill="url(#dg)" opacity="0.96"/><circle cx="364.5" cy="114.4" r="2.22" fill="url(#dg)" opacity="0.95"/><circle cx="368.4" cy="114.5" r="2.24" fill="url(#dg)" opacity="0.99"/><circle cx="372.8" cy="114.4" r="2.24" fill="url(#dg)" opacity="0.98"/><circle cx="377.2" cy="114.5" r="2.22" fill="url(#dg)" opacity="0.96"/><circle cx="381.0" cy="114.2" r="2.22" fill="url(#dg)" opacity="0.96"/><circle cx="384.6" cy="114.4" r="2.24" fill="url(#dg)" opacity="0.99"/><circle cx="389.1" cy="114.4" r="2.22" fill="url(#dg)" opacity="0.94"/><circle cx="392.8" cy="114.4" r="2.23" fill="url(#dg)" opacity="0.97"/><circle cx="396.7" cy="114.2" r="2.20" fill="url(#dg)" opacity="0.92"/><circle cx="400.4" cy="114.5" r="2.19" fill="url(#dg)" opacity="0.91"/><circle cx="405.1" cy="114.4" r="2.21" fill="url(#dg)" opacity="0.94"/><circle cx="409.7" cy="114.4" r="2.18" fill="url(#dg)" opacity="0.89"/><circle cx="413.1" cy="114.8" r="2.18" fill="url(#dg)" opacity="0.88"/><circle cx="416.3" cy="114.7" r="2.18" fill="url(#dg)" opacity="0.88"/><circle cx="420.4" cy="114.7" r="2.17" fill="url(#dg)" opacity="0.87"/><circle cx="424.2" cy="114.6" r="2.16" fill="url(#dg)" opacity="0.85"/><circle cx="427.2" cy="114.9" r="2.15" fill="url(#dg)" opacity="0.84"/><circle cx="319.1" cy="118.6" r="2.15" fill="url(#dm)" opacity="0.84"/><circle cx="322.2" cy="118.4" r="2.16" fill="url(#dg)" opacity="0.84"/><circle cx="326.0" cy="118.4" r="2.16" fill="url(#dg)" opacity="0.85"/><circle cx="329.3" cy="118.3" r="2.18" fill="url(#dg)" opacity="0.88"/><circle cx="332.7" cy="118.1" r="2.20" fill="url(#dg)" opacity="0.91"/><circle cx="336.3" cy="118.0" r="2.20" fill="url(#dg)" opacity="0.91"/><circle cx="340.3" cy="118.2" r="2.21" fill="url(#dg)" opacity="0.94"/><circle cx="344.5" cy="117.9" r="2.19" fill="url(#dg)" opacity="0.90"/><circle cx="348.2" cy="118.0" r="2.20" fill="url(#dg)" opacity="0.91"/><circle cx="351.7" cy="118.0" r="2.20" fill="url(#dg)" opacity="0.92"/><circle cx="356.4" cy="117.8" r="2.21" fill="url(#dg)" opacity="0.94"/><circle cx="360.9" cy="117.9" r="2.23" fill="url(#dg)" opacity="0.97"/><circle cx="364.5" cy="118.0" r="2.22" fill="url(#dg)" opacity="0.95"/><circle cx="368.4" cy="117.9" r="2.24" fill="url(#dg)" opacity="0.98"/><circle cx="372.7" cy="118.0" r="2.22" fill="url(#dg)" opacity="0.95"/><circle cx="377.0" cy="117.9" r="2.22" fill="url(#dg)" opacity="0.95"/><circle cx="380.8" cy="117.8" r="2.24" fill="url(#dg)" opacity="0.98"/><circle cx="384.6" cy="118.0" r="2.24" fill="url(#dg)" opacity="0.99"/><circle cx="389.1" cy="117.8" r="2.22" fill="url(#dg)" opacity="0.94"/><circle cx="393.1" cy="117.8" r="2.22" fill="url(#dg)" opacity="0.95"/><circle cx="396.7" cy="117.8" r="2.21" fill="url(#dg)" opacity="0.94"/><circle cx="400.4" cy="118.2" r="2.22" fill="url(#dg)" opacity="0.95"/><circle cx="405.2" cy="118.0" r="2.19" fill="url(#dg)" opacity="0.90"/><circle cx="409.5" cy="118.1" r="2.19" fill="url(#dg)" opacity="0.90"/><circle cx="413.0" cy="118.2" r="2.20" fill="url(#dg)" opacity="0.91"/><circle cx="416.3" cy="118.1" r="2.18" fill="url(#dg)" opacity="0.88"/><circle cx="420.4" cy="118.2" r="2.18" fill="url(#dg)" opacity="0.89"/><circle cx="424.4" cy="118.4" r="2.17" fill="url(#dg)" opacity="0.86"/><circle cx="427.5" cy="118.6" r="2.14" fill="url(#dm)" opacity="0.82"/><circle cx="319.1" cy="122.4" r="2.16" fill="url(#dg)" opacity="0.84"/><circle cx="322.3" cy="122.0" r="2.16" fill="url(#dg)" opacity="0.85"/><circle cx="325.8" cy="122.0" r="2.15" fill="url(#dg)" opacity="0.84"/><circle cx="329.6" cy="122.1" r="2.16" fill="url(#dg)" opacity="0.86"/><circle cx="332.6" cy="121.9" r="2.18" fill="url(#dg)" opacity="0.88"/><circle cx="336.0" cy="121.9" r="2.20" fill="url(#dg)" opacity="0.92"/><circle cx="340.4" cy="121.6" r="2.19" fill="url(#dg)" opacity="0.90"/><circle cx="344.1" cy="121.9" r="2.19" fill="url(#dg)" opacity="0.89"/><circle cx="348.0" cy="121.8" r="2.19" fill="url(#dg)" opacity="0.91"/><circle cx="351.7" cy="121.4" r="2.20" fill="url(#dg)" opacity="0.92"/><circle cx="356.4" cy="121.7" r="2.20" fill="url(#dg)" opacity="0.92"/><circle cx="360.8" cy="121.6" r="2.22" fill="url(#dg)" opacity="0.95"/><circle cx="364.6" cy="121.4" r="2.21" fill="url(#dg)" opacity="0.94"/><circle cx="368.7" cy="121.3" r="2.22" fill="url(#dg)" opacity="0.95"/><circle cx="372.8" cy="121.6" r="2.24" fill="url(#dg)" opacity="0.99"/><circle cx="377.1" cy="121.7" r="2.23" fill="url(#dg)" opacity="0.97"/><circle cx="380.8" cy="121.5" r="2.23" fill="url(#dg)" opacity="0.97"/><circle cx="384.6" cy="121.4" r="2.21" fill="url(#dg)" opacity="0.93"/><circle cx="389.2" cy="121.4" r="2.23" fill="url(#dg)" opacity="0.97"/><circle cx="393.0" cy="121.5" r="2.20" fill="url(#dg)" opacity="0.92"/><circle cx="396.8" cy="121.8" r="2.20" fill="url(#dg)" opacity="0.91"/><circle cx="400.7" cy="121.6" r="2.19" fill="url(#dg)" opacity="0.90"/><circle cx="405.4" cy="121.7" r="2.19" fill="url(#dg)" opacity="0.89"/><circle cx="409.5" cy="121.9" r="2.20" fill="url(#dg)" opacity="0.92"/><circle cx="413.0" cy="121.7" r="2.19" fill="url(#dg)" opacity="0.91"/><circle cx="416.5" cy="122.1" r="2.20" fill="url(#dg)" opacity="0.91"/><circle cx="420.4" cy="122.2" r="2.18" fill="url(#dg)" opacity="0.89"/><circle cx="424.4" cy="122.1" r="2.16" fill="url(#dg)" opacity="0.85"/><circle cx="427.4" cy="122.2" r="2.13" fill="url(#dm)" opacity="0.80"/><circle cx="319.0" cy="127.3" r="2.14" fill="url(#dm)" opacity="0.81"/><circle cx="322.2" cy="127.2" r="2.17" fill="url(#dg)" opacity="0.86"/><circle cx="325.6" cy="127.1" r="2.18" fill="url(#dg)" opacity="0.88"/><circle cx="329.5" cy="127.0" r="2.18" fill="url(#dg)" opacity="0.89"/><circle cx="332.7" cy="126.7" r="2.18" fill="url(#dg)" opacity="0.89"/><circle cx="336.1" cy="126.8" r="2.17" fill="url(#dg)" opacity="0.87"/><circle cx="340.4" cy="126.6" r="2.20" fill="url(#dg)" opacity="0.92"/><circle cx="344.2" cy="126.7" r="2.21" fill="url(#dg)" opacity="0.93"/><circle cx="348.2" cy="126.3" r="2.22" fill="url(#dg)" opacity="0.94"/><circle cx="351.9" cy="126.5" r="2.21" fill="url(#dg)" opacity="0.94"/><circle cx="356.1" cy="126.5" r="2.21" fill="url(#dg)" opacity="0.94"/><circle cx="360.9" cy="126.3" r="2.22" fill="url(#dg)" opacity="0.96"/><circle cx="364.8" cy="126.5" r="2.21" fill="url(#dg)" opacity="0.93"/><circle cx="368.4" cy="126.2" r="2.21" fill="url(#dg)" opacity="0.93"/><circle cx="372.6" cy="126.1" r="2.23" fill="url(#dg)" opacity="0.97"/><circle cx="377.0" cy="126.1" r="2.20" fill="url(#dg)" opacity="0.92"/><circle cx="381.0" cy="126.2" r="2.22" fill="url(#dg)" opacity="0.94"/><circle cx="384.5" cy="126.5" r="2.23" fill="url(#dg)" opacity="0.97"/><circle cx="389.0" cy="126.4" r="2.23" fill="url(#dg)" opacity="0.96"/><circle cx="393.0" cy="126.6" r="2.22" fill="url(#dg)" opacity="0.94"/><circle cx="396.8" cy="126.6" r="2.21" fill="url(#dg)" opacity="0.93"/><circle cx="400.4" cy="126.6" r="2.21" fill="url(#dg)" opacity="0.93"/><circle cx="405.3" cy="126.6" r="2.19" fill="url(#dg)" opacity="0.90"/><circle cx="409.8" cy="126.8" r="2.17" fill="url(#dg)" opacity="0.87"/><circle cx="413.0" cy="126.7" r="2.20" fill="url(#dg)" opacity="0.91"/><circle cx="416.6" cy="126.7" r="2.19" fill="url(#dg)" opacity="0.90"/><circle cx="420.4" cy="127.0" r="2.16" fill="url(#dg)" opacity="0.86"/><circle cx="424.7" cy="127.0" r="2.14" fill="url(#dm)" opacity="0.82"/><circle cx="427.5" cy="127.3" r="2.15" fill="url(#dm)" opacity="0.83"/><circle cx="318.9" cy="131.4" r="2.14" fill="url(#dm)" opacity="0.82"/><circle cx="322.2" cy="131.3" r="2.17" fill="url(#dg)" opacity="0.86"/><circle cx="325.8" cy="131.2" r="2.16" fill="url(#dg)" opacity="0.84"/><circle cx="329.3" cy="131.3" r="2.16" fill="url(#dg)" opacity="0.84"/><circle cx="332.4" cy="131.0" r="2.18" fill="url(#dg)" opacity="0.89"/><circle cx="336.0" cy="131.0" r="2.18" fill="url(#dg)" opacity="0.88"/><circle cx="340.4" cy="130.7" r="2.20" fill="url(#dg)" opacity="0.92"/><circle cx="344.4" cy="130.8" r="2.20" fill="url(#dg)" opacity="0.92"/><circle cx="347.9" cy="130.9" r="2.20" fill="url(#dg)" opacity="0.91"/><circle cx="351.9" cy="130.8" r="2.19" fill="url(#dg)" opacity="0.91"/><circle cx="356.5" cy="130.5" r="2.19" fill="url(#dg)" opacity="0.90"/><circle cx="360.9" cy="130.7" r="2.22" fill="url(#dg)" opacity="0.96"/><circle cx="364.8" cy="130.6" r="2.23" fill="url(#dg)" opacity="0.96"/><circle cx="368.5" cy="130.4" r="2.22" fill="url(#dg)" opacity="0.95"/><circle cx="372.8" cy="130.5" r="2.22" fill="url(#dg)" opacity="0.95"/><circle cx="377.0" cy="130.5" r="2.21" fill="url(#dg)" opacity="0.94"/><circle cx="380.9" cy="130.5" r="2.20" fill="url(#dg)" opacity="0.91"/><circle cx="384.3" cy="130.5" r="2.22" fill="url(#dg)" opacity="0.95"/><circle cx="389.2" cy="130.5" r="2.20" fill="url(#dg)" opacity="0.91"/><circle cx="393.1" cy="130.5" r="2.21" fill="url(#dg)" opacity="0.93"/><circle cx="397.1" cy="130.6" r="2.20" fill="url(#dg)" opacity="0.92"/><circle cx="400.7" cy="130.9" r="2.20" fill="url(#dg)" opacity="0.92"/><circle cx="405.4" cy="130.8" r="2.20" fill="url(#dg)" opacity="0.91"/><circle cx="409.8" cy="130.8" r="2.20" fill="url(#dg)" opacity="0.91"/><circle cx="413.1" cy="130.9" r="2.16" fill="url(#dg)" opacity="0.85"/><circle cx="416.7" cy="131.2" r="2.16" fill="url(#dg)" opacity="0.84"/><circle cx="420.6" cy="131.3" r="2.18" fill="url(#dg)" opacity="0.88"/><circle cx="424.6" cy="131.5" r="2.15" fill="url(#dm)" opacity="0.83"/><circle cx="427.4" cy="131.3" r="2.13" fill="url(#dm)" opacity="0.80"/><circle cx="319.0" cy="135.1" r="2.12" fill="url(#dm)" opacity="0.78"/><circle cx="321.9" cy="134.9" r="2.14" fill="url(#dm)" opacity="0.82"/><circle cx="325.5" cy="135.0" r="2.15" fill="url(#dm)" opacity="0.83"/><circle cx="329.2" cy="134.8" r="2.18" fill="url(#dg)" opacity="0.88"/><circle cx="332.4" cy="134.9" r="2.17" fill="url(#dg)" opacity="0.86"/><circle cx="335.9" cy="134.7" r="2.16" fill="url(#dg)" opacity="0.85"/><circle cx="340.1" cy="134.4" r="2.19" fill="url(#dg)" opacity="0.90"/><circle cx="344.4" cy="134.4" r="2.18" fill="url(#dg)" opacity="0.88"/><circle cx="348.0" cy="134.3" r="2.20" fill="url(#dg)" opacity="0.91"/><circle cx="351.7" cy="134.2" r="2.21" fill="url(#dg)" opacity="0.93"/><circle cx="356.3" cy="134.1" r="2.21" fill="url(#dg)" opacity="0.94"/><circle cx="361.0" cy="134.2" r="2.21" fill="url(#dg)" opacity="0.93"/><circle cx="364.8" cy="134.2" r="2.20" fill="url(#dg)" opacity="0.92"/><circle cx="368.4" cy="134.2" r="2.21" fill="url(#dg)" opacity="0.94"/><circle cx="372.8" cy="134.4" r="2.20" fill="url(#dg)" opacity="0.91"/><circle cx="377.1" cy="134.3" r="2.22" fill="url(#dg)" opacity="0.95"/><circle cx="381.0" cy="134.3" r="2.20" fill="url(#dg)" opacity="0.92"/><circle cx="384.7" cy="134.2" r="2.20" fill="url(#dg)" opacity="0.92"/><circle cx="389.0" cy="134.1" r="2.21" fill="url(#dg)" opacity="0.94"/><circle cx="393.2" cy="134.1" r="2.19" fill="url(#dg)" opacity="0.90"/><circle cx="396.9" cy="134.4" r="2.19" fill="url(#dg)" opacity="0.90"/><circle cx="400.8" cy="134.4" r="2.19" fill="url(#dg)" opacity="0.90"/><circle cx="405.6" cy="134.6" r="2.18" fill="url(#dg)" opacity="0.88"/><circle cx="409.6" cy="134.6" r="2.18" fill="url(#dg)" opacity="0.88"/><circle cx="413.3" cy="134.6" r="2.17" fill="url(#dg)" opacity="0.86"/><circle cx="416.6" cy="134.8" r="2.18" fill="url(#dg)" opacity="0.88"/><circle cx="420.7" cy="134.9" r="2.15" fill="url(#dm)" opacity="0.84"/><circle cx="424.8" cy="135.0" r="2.16" fill="url(#dg)" opacity="0.84"/><circle cx="427.4" cy="135.1" r="2.12" fill="url(#dm)" opacity="0.78"/><circle cx="319.0" cy="138.1" r="2.12" fill="url(#dm)" opacity="0.78"/><circle cx="321.8" cy="138.0" r="2.15" fill="url(#dg)" opacity="0.84"/><circle cx="325.6" cy="138.1" r="2.17" fill="url(#dg)" opacity="0.86"/><circle cx="329.2" cy="138.0" r="2.14" fill="url(#dm)" opacity="0.82"/><circle cx="332.6" cy="137.7" r="2.15" fill="url(#dm)" opacity="0.84"/><circle cx="336.1" cy="137.8" r="2.17" fill="url(#dg)" opacity="0.86"/><circle cx="340.1" cy="137.7" r="2.18" fill="url(#dg)" opacity="0.89"/><circle cx="344.2" cy="137.6" r="2.16" fill="url(#dg)" opacity="0.86"/><circle cx="347.8" cy="137.2" r="2.17" fill="url(#dg)" opacity="0.86"/><circle cx="351.8" cy="137.4" r="2.18" fill="url(#dg)" opacity="0.88"/><circle cx="356.1" cy="137.1" r="2.20" fill="url(#dg)" opacity="0.91"/><circle cx="361.0" cy="137.4" r="2.19" fill="url(#dg)" opacity="0.91"/><circle cx="364.8" cy="137.1" r="2.20" fill="url(#dg)" opacity="0.91"/><circle cx="368.3" cy="137.0" r="2.22" fill="url(#dg)" opacity="0.95"/><circle cx="372.9" cy="137.2" r="2.19" fill="url(#dg)" opacity="0.90"/><circle cx="377.0" cy="137.0" r="2.20" fill="url(#dg)" opacity="0.91"/><circle cx="381.0" cy="137.0" r="2.20" fill="url(#dg)" opacity="0.92"/><circle cx="384.6" cy="137.0" r="2.20" fill="url(#dg)" opacity="0.91"/><circle cx="389.2" cy="137.3" r="2.19" fill="url(#dg)" opacity="0.91"/><circle cx="393.3" cy="137.3" r="2.19" fill="url(#dg)" opacity="0.89"/><circle cx="396.9" cy="137.5" r="2.20" fill="url(#dg)" opacity="0.92"/><circle cx="400.9" cy="137.4" r="2.17" fill="url(#dg)" opacity="0.87"/><circle cx="405.3" cy="137.5" r="2.18" fill="url(#dg)" opacity="0.89"/><circle cx="409.6" cy="137.7" r="2.18" fill="url(#dg)" opacity="0.89"/><circle cx="413.2" cy="137.5" r="2.18" fill="url(#dg)" opacity="0.88"/><circle cx="416.7" cy="137.9" r="2.16" fill="url(#dg)" opacity="0.85"/><circle cx="420.8" cy="137.9" r="2.17" fill="url(#dg)" opacity="0.87"/><circle cx="424.9" cy="138.3" r="2.15" fill="url(#dm)" opacity="0.83"/><circle cx="427.6" cy="138.2" r="2.12" fill="url(#dm)" opacity="0.78"/><circle cx="319.0" cy="141.5" r="2.13" fill="url(#dm)" opacity="0.80"/><circle cx="322.1" cy="141.4" r="2.15" fill="url(#dm)" opacity="0.83"/><circle cx="325.4" cy="141.2" r="2.14" fill="url(#dm)" opacity="0.82"/><circle cx="329.2" cy="140.8" r="2.17" fill="url(#dg)" opacity="0.86"/><circle cx="332.3" cy="140.8" r="2.17" fill="url(#dg)" opacity="0.87"/><circle cx="335.8" cy="140.9" r="2.17" fill="url(#dg)" opacity="0.87"/><circle cx="340.1" cy="140.7" r="2.17" fill="url(#dg)" opacity="0.87"/><circle cx="344.3" cy="140.6" r="2.17" fill="url(#dg)" opacity="0.87"/><circle cx="348.1" cy="140.3" r="2.19" fill="url(#dg)" opacity="0.90"/><circle cx="351.5" cy="140.3" r="2.17" fill="url(#dg)" opacity="0.87"/><circle cx="356.4" cy="140.3" r="2.20" fill="url(#dg)" opacity="0.91"/><circle cx="360.8" cy="140.3" r="2.20" fill="url(#dg)" opacity="0.91"/><circle cx="364.5" cy="140.2" r="2.20" fill="url(#dg)" opacity="0.92"/><circle cx="368.3" cy="140.3" r="2.19" fill="url(#dg)" opacity="0.90"/><circle cx="372.6" cy="140.4" r="2.22" fill="url(#dg)" opacity="0.94"/><circle cx="377.3" cy="140.2" r="2.20" fill="url(#dg)" opacity="0.92"/><circle cx="381.1" cy="140.3" r="2.19" fill="url(#dg)" opacity="0.91"/><circle cx="384.7" cy="140.2" r="2.21" fill="url(#dg)" opacity="0.93"/><circle cx="389.1" cy="140.1" r="2.20" fill="url(#dg)" opacity="0.92"/><circle cx="393.0" cy="140.4" r="2.17" fill="url(#dg)" opacity="0.87"/><circle cx="397.2" cy="140.4" r="2.19" fill="url(#dg)" opacity="0.90"/><circle cx="400.6" cy="140.5" r="2.17" fill="url(#dg)" opacity="0.87"/><circle cx="405.4" cy="140.7" r="2.16" fill="url(#dg)" opacity="0.84"/><circle cx="409.8" cy="140.5" r="2.18" fill="url(#dg)" opacity="0.88"/><circle cx="413.4" cy="140.6" r="2.16" fill="url(#dg)" opacity="0.85"/><circle cx="416.7" cy="141.0" r="2.16" fill="url(#dg)" opacity="0.86"/><circle cx="420.7" cy="141.2" r="2.14" fill="url(#dm)" opacity="0.81"/><circle cx="424.7" cy="141.4" r="2.13" fill="url(#dm)" opacity="0.80"/><circle cx="427.6" cy="141.4" r="2.12" fill="url(#dm)" opacity="0.78"/><circle cx="318.6" cy="144.6" r="2.12" fill="url(#dm)" opacity="0.78"/><circle cx="322.0" cy="144.2" r="2.15" fill="url(#dm)" opacity="0.84"/><circle cx="325.3" cy="144.3" r="2.15" fill="url(#dm)" opacity="0.83"/><circle cx="329.3" cy="144.2" r="2.15" fill="url(#dg)" opacity="0.84"/><circle cx="332.3" cy="144.1" r="2.15" fill="url(#dm)" opacity="0.84"/><circle cx="335.8" cy="144.0" r="2.17" fill="url(#dg)" opacity="0.87"/><circle cx="340.2" cy="143.8" r="2.16" fill="url(#dg)" opacity="0.84"/><circle cx="344.1" cy="143.7" r="2.19" fill="url(#dg)" opacity="0.90"/><circle cx="348.1" cy="143.4" r="2.18" fill="url(#dg)" opacity="0.89"/><circle cx="351.7" cy="143.4" r="2.17" fill="url(#dg)" opacity="0.86"/><circle cx="356.1" cy="143.3" r="2.18" fill="url(#dg)" opacity="0.89"/><circle cx="360.8" cy="143.2" r="2.19" fill="url(#dg)" opacity="0.90"/><circle cx="364.7" cy="143.3" r="2.18" fill="url(#dg)" opacity="0.88"/><circle cx="368.6" cy="143.2" r="2.21" fill="url(#dg)" opacity="0.93"/><circle cx="372.9" cy="143.1" r="2.20" fill="url(#dg)" opacity="0.91"/><circle cx="377.3" cy="143.2" r="2.19" fill="url(#dg)" opacity="0.91"/><circle cx="380.9" cy="143.1" r="2.18" fill="url(#dg)" opacity="0.88"/><circle cx="384.4" cy="143.2" r="2.19" fill="url(#dg)" opacity="0.91"/><circle cx="389.2" cy="143.5" r="2.19" fill="url(#dg)" opacity="0.90"/><circle cx="393.1" cy="143.6" r="2.19" fill="url(#dg)" opacity="0.89"/><circle cx="397.0" cy="143.6" r="2.18" fill="url(#dg)" opacity="0.89"/><circle cx="400.7" cy="143.6" r="2.17" fill="url(#dg)" opacity="0.86"/><circle cx="405.7" cy="143.6" r="2.18" fill="url(#dg)" opacity="0.89"/><circle cx="409.7" cy="143.6" r="2.16" fill="url(#dg)" opacity="0.86"/><circle cx="413.1" cy="143.9" r="2.14" fill="url(#dm)" opacity="0.82"/><circle cx="416.9" cy="144.1" r="2.16" fill="url(#dg)" opacity="0.85"/><circle cx="421.0" cy="144.4" r="2.15" fill="url(#dm)" opacity="0.84"/><circle cx="425.0" cy="144.1" r="2.12" fill="url(#dm)" opacity="0.79"/><circle cx="427.8" cy="144.7" r="2.11" fill="url(#dm)" opacity="0.77"/><circle cx="318.7" cy="147.9" r="2.11" fill="url(#dm)" opacity="0.77"/><circle cx="322.0" cy="148.0" r="2.15" fill="url(#dm)" opacity="0.83"/><circle cx="325.2" cy="147.7" r="2.13" fill="url(#dm)" opacity="0.80"/><circle cx="329.1" cy="147.5" r="2.16" fill="url(#dg)" opacity="0.85"/><circle cx="332.1" cy="147.7" r="2.15" fill="url(#dm)" opacity="0.83"/><circle cx="335.8" cy="147.6" r="2.15" fill="url(#dm)" opacity="0.84"/><circle cx="340.2" cy="147.1" r="2.17" fill="url(#dg)" opacity="0.87"/><circle cx="344.3" cy="147.0" r="2.17" fill="url(#dg)" opacity="0.87"/><circle cx="347.8" cy="146.9" r="2.16" fill="url(#dg)" opacity="0.86"/><circle cx="351.7" cy="147.2" r="2.19" fill="url(#dg)" opacity="0.90"/><circle cx="356.4" cy="147.0" r="2.18" fill="url(#dg)" opacity="0.89"/><circle cx="360.7" cy="146.9" r="2.18" fill="url(#dg)" opacity="0.89"/><circle cx="364.5" cy="147.0" r="2.18" fill="url(#dg)" opacity="0.88"/><circle cx="368.3" cy="146.6" r="2.17" fill="url(#dg)" opacity="0.87"/><circle cx="372.7" cy="146.9" r="2.18" fill="url(#dg)" opacity="0.88"/><circle cx="377.1" cy="146.8" r="2.19" fill="url(#dg)" opacity="0.90"/><circle cx="380.9" cy="146.8" r="2.17" fill="url(#dg)" opacity="0.86"/><circle cx="384.4" cy="146.8" r="2.17" fill="url(#dg)" opacity="0.87"/><circle cx="389.3" cy="146.8" r="2.19" fill="url(#dg)" opacity="0.90"/><circle cx="393.1" cy="146.8" r="2.17" fill="url(#dg)" opacity="0.87"/><circle cx="397.0" cy="147.0" r="2.18" fill="url(#dg)" opacity="0.89"/><circle cx="400.7" cy="147.2" r="2.18" fill="url(#dg)" opacity="0.88"/><circle cx="405.5" cy="147.2" r="2.18" fill="url(#dg)" opacity="0.88"/><circle cx="409.9" cy="147.2" r="2.14" fill="url(#dm)" opacity="0.82"/><circle cx="413.2" cy="147.4" r="2.14" fill="url(#dm)" opacity="0.81"/><circle cx="416.9" cy="147.6" r="2.14" fill="url(#dm)" opacity="0.82"/><circle cx="420.9" cy="148.0" r="2.13" fill="url(#dm)" opacity="0.80"/><circle cx="424.8" cy="147.9" r="2.13" fill="url(#dm)" opacity="0.79"/><circle cx="428.0" cy="148.2" r="2.11" fill="url(#dm)" opacity="0.77"/><circle cx="318.5" cy="151.3" r="2.10" fill="url(#dm)" opacity="0.75"/><circle cx="321.9" cy="151.4" r="2.12" fill="url(#dm)" opacity="0.78"/><circle cx="325.4" cy="151.0" r="2.13" fill="url(#dm)" opacity="0.81"/><circle cx="328.9" cy="150.9" r="2.15" fill="url(#dm)" opacity="0.83"/><circle cx="332.3" cy="150.9" r="2.13" fill="url(#dm)" opacity="0.80"/><circle cx="335.9" cy="150.8" r="2.16" fill="url(#dg)" opacity="0.84"/><circle cx="339.9" cy="150.8" r="2.14" fill="url(#dm)" opacity="0.81"/><circle cx="343.9" cy="150.5" r="2.15" fill="url(#dm)" opacity="0.83"/><circle cx="347.7" cy="150.5" r="2.18" fill="url(#dg)" opacity="0.89"/><circle cx="351.6" cy="150.2" r="2.17" fill="url(#dg)" opacity="0.87"/><circle cx="356.1" cy="150.2" r="2.18" fill="url(#dg)" opacity="0.88"/><circle cx="360.8" cy="150.1" r="2.16" fill="url(#dg)" opacity="0.85"/><circle cx="364.6" cy="150.4" r="2.19" fill="url(#dg)" opacity="0.90"/><circle cx="368.3" cy="150.1" r="2.18" fill="url(#dg)" opacity="0.88"/><circle cx="372.6" cy="150.2" r="2.18" fill="url(#dg)" opacity="0.88"/><circle cx="377.3" cy="150.0" r="2.20" fill="url(#dg)" opacity="0.91"/><circle cx="381.1" cy="150.1" r="2.17" fill="url(#dg)" opacity="0.86"/><circle cx="384.6" cy="150.0" r="2.18" fill="url(#dg)" opacity="0.89"/><circle cx="389.3" cy="150.3" r="2.19" fill="url(#dg)" opacity="0.90"/><circle cx="393.0" cy="150.4" r="2.18" fill="url(#dg)" opacity="0.88"/><circle cx="396.9" cy="150.3" r="2.15" fill="url(#dm)" opacity="0.83"/><circle cx="400.9" cy="150.6" r="2.16" fill="url(#dg)" opacity="0.84"/><circle cx="405.7" cy="150.6" r="2.16" fill="url(#dg)" opacity="0.86"/><circle cx="409.8" cy="150.9" r="2.15" fill="url(#dm)" opacity="0.83"/><circle cx="413.2" cy="150.7" r="2.15" fill="url(#dm)" opacity="0.84"/><circle cx="417.1" cy="151.1" r="2.13" fill="url(#dm)" opacity="0.80"/><circle cx="421.1" cy="151.3" r="2.12" fill="url(#dm)" opacity="0.78"/><circle cx="425.0" cy="151.4" r="2.11" fill="url(#dm)" opacity="0.77"/><circle cx="427.8" cy="151.5" r="2.12" fill="url(#dm)" opacity="0.79"/></g>
<g><circle cx="319.4" cy="29.0" r="1.11" fill="url(#cg)" opacity="0.43"/><circle cx="322.6" cy="29.4" r="1.13" fill="url(#cg)" opacity="0.48"/><circle cx="326.2" cy="29.4" r="1.15" fill="url(#cg)" opacity="0.53"/><circle cx="329.8" cy="29.4" r="1.15" fill="url(#cg)" opacity="0.53"/><circle cx="332.8" cy="29.8" r="1.15" fill="url(#cg)" opacity="0.53"/><circle cx="336.6" cy="29.7" r="1.15" fill="url(#cg)" opacity="0.51"/><circle cx="340.7" cy="30.1" r="1.17" fill="url(#cg)" opacity="0.57"/><circle cx="344.3" cy="30.1" r="1.15" fill="url(#cg)" opacity="0.51"/><circle cx="348.3" cy="30.3" r="1.15" fill="url(#cg)" opacity="0.53"/><circle cx="352.1" cy="30.3" r="1.16" fill="url(#cg)" opacity="0.56"/><circle cx="356.3" cy="30.3" r="1.19" fill="url(#cg)" opacity="0.64"/><circle cx="361.1" cy="30.3" r="1.16" fill="url(#cg)" opacity="0.55"/><circle cx="364.6" cy="30.6" r="1.17" fill="url(#cg)" opacity="0.58"/><circle cx="368.5" cy="30.4" r="1.19" fill="url(#cg)" opacity="0.65"/><circle cx="372.6" cy="30.3" r="1.20" fill="url(#cg)" opacity="0.67"/><circle cx="377.1" cy="30.5" r="1.20" fill="url(#cg)" opacity="0.66"/><circle cx="381.0" cy="30.3" r="1.18" fill="url(#cg)" opacity="0.60"/><circle cx="384.3" cy="30.4" r="1.20" fill="url(#cg)" opacity="0.66"/><circle cx="389.0" cy="30.2" r="1.16" fill="url(#cg)" opacity="0.56"/><circle cx="393.0" cy="30.4" r="1.17" fill="url(#cg)" opacity="0.58"/><circle cx="396.7" cy="30.1" r="1.18" fill="url(#cg)" opacity="0.62"/><circle cx="400.3" cy="30.3" r="1.17" fill="url(#cg)" opacity="0.58"/><circle cx="404.9" cy="29.9" r="1.15" fill="url(#cg)" opacity="0.51"/><circle cx="409.5" cy="29.9" r="1.13" fill="url(#cg)" opacity="0.48"/><circle cx="412.6" cy="29.7" r="1.15" fill="url(#cg)" opacity="0.51"/><circle cx="416.2" cy="29.5" r="1.13" fill="url(#cg)" opacity="0.48"/><circle cx="420.0" cy="29.4" r="1.13" fill="url(#cg)" opacity="0.46"/><circle cx="424.0" cy="29.2" r="1.15" fill="url(#cg)" opacity="0.52"/><circle cx="426.9" cy="28.9" r="1.11" fill="url(#cg)" opacity="0.42"/><circle cx="319.5" cy="32.8" r="1.15" fill="url(#cg)" opacity="0.51"/><circle cx="322.5" cy="33.1" r="1.17" fill="url(#cg)" opacity="0.59"/><circle cx="326.3" cy="33.4" r="1.16" fill="url(#cg)" opacity="0.54"/><circle cx="329.7" cy="33.5" r="1.21" fill="url(#cg)" opacity="0.68"/><circle cx="333.0" cy="33.5" r="1.20" fill="url(#cg)" opacity="0.66"/><circle cx="336.4" cy="33.5" r="1.22" fill="url(#cg)" opacity="0.71"/><circle cx="340.8" cy="33.9" r="1.22" fill="url(#cg)" opacity="0.71"/><circle cx="344.4" cy="33.9" r="1.23" fill="url(#cg)" opacity="0.74"/><circle cx="348.3" cy="34.0" r="1.21" fill="url(#cg)" opacity="0.70"/><circle cx="352.0" cy="34.0" r="1.20" fill="url(#cg)" opacity="0.67"/><circle cx="356.4" cy="34.0" r="1.26" fill="url(#cg)" opacity="0.82"/><circle cx="361.0" cy="34.1" r="1.22" fill="url(#cg)" opacity="0.73"/><circle cx="364.6" cy="34.1" r="1.22" fill="url(#cg)" opacity="0.72"/><circle cx="368.3" cy="34.4" r="1.24" fill="url(#cg)" opacity="0.77"/><circle cx="372.7" cy="34.2" r="1.23" fill="url(#cg)" opacity="0.76"/><circle cx="376.9" cy="34.0" r="1.23" fill="url(#cg)" opacity="0.75"/><circle cx="380.8" cy="34.3" r="1.24" fill="url(#cg)" opacity="0.78"/><circle cx="384.6" cy="34.1" r="1.26" fill="url(#cg)" opacity="0.83"/><circle cx="388.9" cy="33.9" r="1.22" fill="url(#cg)" opacity="0.71"/><circle cx="392.9" cy="34.2" r="1.22" fill="url(#cg)" opacity="0.72"/><circle cx="396.8" cy="33.9" r="1.24" fill="url(#cg)" opacity="0.78"/><circle cx="400.2" cy="33.9" r="1.24" fill="url(#cg)" opacity="0.77"/><circle cx="404.9" cy="33.7" r="1.19" fill="url(#cg)" opacity="0.62"/><circle cx="409.2" cy="33.5" r="1.21" fill="url(#cg)" opacity="0.70"/><circle cx="412.6" cy="33.5" r="1.18" fill="url(#cg)" opacity="0.61"/><circle cx="416.2" cy="33.5" r="1.20" fill="url(#cg)" opacity="0.65"/><circle cx="420.0" cy="33.3" r="1.20" fill="url(#cg)" opacity="0.67"/><circle cx="424.2" cy="32.9" r="1.19" fill="url(#cg)" opacity="0.63"/><circle cx="427.2" cy="32.8" r="1.13" fill="url(#cg)" opacity="0.47"/><circle cx="319.4" cy="37.4" r="1.17" fill="url(#cg)" opacity="0.59"/><circle cx="322.7" cy="37.6" r="1.17" fill="url(#cg)" opacity="0.57"/><circle cx="326.1" cy="37.7" r="1.20" fill="url(#cg)" opacity="0.65"/><circle cx="329.7" cy="37.8" r="1.19" fill="url(#cg)" opacity="0.63"/><circle cx="332.7" cy="37.8" r="1.18" fill="url(#cg)" opacity="0.61"/><circle cx="336.5" cy="37.9" r="1.21" fill="url(#cg)" opacity="0.69"/><circle cx="340.7" cy="38.0" r="1.22" fill="url(#cg)" opacity="0.71"/><circle cx="344.3" cy="38.4" r="1.23" fill="url(#cg)" opacity="0.74"/><circle cx="348.5" cy="38.1" r="1.24" fill="url(#cg)" opacity="0.77"/><circle cx="352.1" cy="38.3" r="1.22" fill="url(#cg)" opacity="0.71"/><circle cx="356.3" cy="38.3" r="1.26" fill="url(#cg)" opacity="0.82"/><circle cx="360.9" cy="38.6" r="1.25" fill="url(#cg)" opacity="0.79"/><circle cx="364.7" cy="38.6" r="1.26" fill="url(#cg)" opacity="0.81"/><circle cx="368.6" cy="38.6" r="1.25" fill="url(#cg)" opacity="0.79"/><circle cx="372.8" cy="38.5" r="1.27" fill="url(#cg)" opacity="0.85"/><circle cx="377.2" cy="38.7" r="1.25" fill="url(#cg)" opacity="0.79"/><circle cx="381.0" cy="38.7" r="1.25" fill="url(#cg)" opacity="0.80"/><circle cx="384.3" cy="38.5" r="1.27" fill="url(#cg)" opacity="0.86"/><circle cx="388.8" cy="38.2" r="1.24" fill="url(#cg)" opacity="0.78"/><circle cx="392.9" cy="38.5" r="1.23" fill="url(#cg)" opacity="0.75"/><circle cx="396.9" cy="38.2" r="1.25" fill="url(#cg)" opacity="0.79"/><circle cx="400.2" cy="38.1" r="1.21" fill="url(#cg)" opacity="0.69"/><circle cx="404.8" cy="38.1" r="1.22" fill="url(#cg)" opacity="0.73"/><circle cx="409.2" cy="38.2" r="1.21" fill="url(#cg)" opacity="0.68"/><circle cx="412.5" cy="37.8" r="1.22" fill="url(#cg)" opacity="0.71"/><circle cx="416.3" cy="37.6" r="1.17" fill="url(#cg)" opacity="0.59"/><circle cx="420.2" cy="37.5" r="1.21" fill="url(#cg)" opacity="0.70"/><circle cx="424.1" cy="37.5" r="1.17" fill="url(#cg)" opacity="0.59"/><circle cx="427.1" cy="37.3" r="1.15" fill="url(#cg)" opacity="0.51"/><circle cx="319.7" cy="42.1" r="1.17" fill="url(#cg)" opacity="0.59"/><circle cx="322.5" cy="42.5" r="1.19" fill="url(#cg)" opacity="0.62"/><circle cx="326.3" cy="42.3" r="1.20" fill="url(#cg)" opacity="0.67"/><circle cx="329.7" cy="42.8" r="1.23" fill="url(#cg)" opacity="0.75"/><circle cx="333.0" cy="42.6" r="1.20" fill="url(#cg)" opacity="0.67"/><circle cx="336.4" cy="42.8" r="1.21" fill="url(#cg)" opacity="0.69"/><circle cx="340.6" cy="43.1" r="1.24" fill="url(#cg)" opacity="0.77"/><circle cx="344.5" cy="43.3" r="1.22" fill="url(#cg)" opacity="0.73"/><circle cx="348.4" cy="43.0" r="1.26" fill="url(#cg)" opacity="0.84"/><circle cx="352.2" cy="43.1" r="1.26" fill="url(#cg)" opacity="0.84"/><circle cx="356.6" cy="43.2" r="1.25" fill="url(#cg)" opacity="0.79"/><circle cx="361.0" cy="43.5" r="1.24" fill="url(#cg)" opacity="0.78"/><circle cx="364.8" cy="43.4" r="1.26" fill="url(#cg)" opacity="0.84"/><circle cx="368.5" cy="43.5" r="1.25" fill="url(#cg)" opacity="0.81"/><circle cx="372.8" cy="43.3" r="1.28" fill="url(#cg)" opacity="0.89"/><circle cx="377.2" cy="43.2" r="1.29" fill="url(#cg)" opacity="0.90"/><circle cx="381.0" cy="43.3" r="1.24" fill="url(#cg)" opacity="0.78"/><circle cx="384.3" cy="43.5" r="1.24" fill="url(#cg)" opacity="0.77"/><circle cx="389.1" cy="43.1" r="1.27" fill="url(#cg)" opacity="0.85"/><circle cx="392.7" cy="43.1" r="1.26" fill="url(#cg)" opacity="0.83"/><circle cx="396.5" cy="43.1" r="1.27" fill="url(#cg)" opacity="0.85"/><circle cx="400.4" cy="43.2" r="1.27" fill="url(#cg)" opacity="0.84"/><circle cx="404.8" cy="42.9" r="1.25" fill="url(#cg)" opacity="0.79"/><circle cx="409.4" cy="42.7" r="1.22" fill="url(#cg)" opacity="0.73"/><circle cx="412.6" cy="42.8" r="1.20" fill="url(#cg)" opacity="0.65"/><circle cx="415.9" cy="42.9" r="1.20" fill="url(#cg)" opacity="0.66"/><circle cx="420.3" cy="42.4" r="1.20" fill="url(#cg)" opacity="0.66"/><circle cx="424.0" cy="42.4" r="1.17" fill="url(#cg)" opacity="0.59"/><circle cx="427.1" cy="42.1" r="1.17" fill="url(#cg)" opacity="0.59"/><circle cx="319.6" cy="46.3" r="1.16" fill="url(#cg)" opacity="0.56"/><circle cx="322.7" cy="46.8" r="1.19" fill="url(#cg)" opacity="0.64"/><circle cx="326.0" cy="46.9" r="1.23" fill="url(#cg)" opacity="0.74"/><circle cx="329.8" cy="46.8" r="1.20" fill="url(#cg)" opacity="0.66"/><circle cx="332.8" cy="46.8" r="1.20" fill="url(#cg)" opacity="0.66"/><circle cx="336.5" cy="47.0" r="1.23" fill="url(#cg)" opacity="0.76"/><circle cx="340.6" cy="46.9" r="1.25" fill="url(#cg)" opacity="0.80"/><circle cx="344.6" cy="47.2" r="1.25" fill="url(#cg)" opacity="0.80"/><circle cx="348.4" cy="47.5" r="1.27" fill="url(#cg)" opacity="0.86"/><circle cx="352.1" cy="47.3" r="1.25" fill="url(#cg)" opacity="0.80"/><circle cx="356.5" cy="47.6" r="1.26" fill="url(#cg)" opacity="0.83"/><circle cx="361.0" cy="47.4" r="1.25" fill="url(#cg)" opacity="0.81"/><circle cx="364.9" cy="47.3" r="1.28" fill="url(#cg)" opacity="0.89"/><circle cx="368.7" cy="47.4" r="1.28" fill="url(#cg)" opacity="0.89"/><circle cx="372.6" cy="47.4" r="1.26" fill="url(#cg)" opacity="0.84"/><circle cx="376.9" cy="47.6" r="1.29" fill="url(#cg)" opacity="0.92"/><circle cx="381.0" cy="47.3" r="1.29" fill="url(#cg)" opacity="0.90"/><circle cx="384.3" cy="47.5" r="1.28" fill="url(#cg)" opacity="0.87"/><circle cx="388.8" cy="47.6" r="1.24" fill="url(#cg)" opacity="0.78"/><circle cx="393.0" cy="47.5" r="1.26" fill="url(#cg)" opacity="0.84"/><circle cx="396.7" cy="47.5" r="1.24" fill="url(#cg)" opacity="0.78"/><circle cx="400.4" cy="47.3" r="1.24" fill="url(#cg)" opacity="0.78"/><circle cx="405.1" cy="47.1" r="1.24" fill="url(#cg)" opacity="0.78"/><circle cx="409.3" cy="47.1" r="1.22" fill="url(#cg)" opacity="0.73"/><circle cx="412.7" cy="47.0" r="1.21" fill="url(#cg)" opacity="0.69"/><circle cx="416.2" cy="46.8" r="1.24" fill="url(#cg)" opacity="0.77"/><circle cx="420.1" cy="46.8" r="1.21" fill="url(#cg)" opacity="0.69"/><circle cx="424.1" cy="46.5" r="1.18" fill="url(#cg)" opacity="0.61"/><circle cx="427.1" cy="46.5" r="1.17" fill="url(#cg)" opacity="0.58"/><circle cx="319.6" cy="51.0" r="1.16" fill="url(#cg)" opacity="0.57"/><circle cx="322.6" cy="51.1" r="1.20" fill="url(#cg)" opacity="0.67"/><circle cx="326.2" cy="51.2" r="1.24" fill="url(#cg)" opacity="0.76"/><circle cx="329.9" cy="51.0" r="1.22" fill="url(#cg)" opacity="0.71"/><circle cx="333.1" cy="51.3" r="1.21" fill="url(#cg)" opacity="0.70"/><circle cx="336.4" cy="51.2" r="1.22" fill="url(#cg)" opacity="0.72"/><circle cx="340.6" cy="51.5" r="1.25" fill="url(#cg)" opacity="0.80"/><circle cx="344.5" cy="51.3" r="1.25" fill="url(#cg)" opacity="0.80"/><circle cx="348.5" cy="51.6" r="1.26" fill="url(#cg)" opacity="0.83"/><circle cx="352.0" cy="51.7" r="1.28" fill="url(#cg)" opacity="0.89"/><circle cx="356.3" cy="51.7" r="1.27" fill="url(#cg)" opacity="0.85"/><circle cx="361.1" cy="51.6" r="1.27" fill="url(#cg)" opacity="0.87"/><circle cx="364.7" cy="51.7" r="1.26" fill="url(#cg)" opacity="0.83"/><circle cx="368.4" cy="51.8" r="1.27" fill="url(#cg)" opacity="0.84"/><circle cx="372.6" cy="51.8" r="1.28" fill="url(#cg)" opacity="0.88"/><circle cx="377.0" cy="51.6" r="1.31" fill="url(#cg)" opacity="0.95"/><circle cx="380.7" cy="51.8" r="1.30" fill="url(#cg)" opacity="0.95"/><circle cx="384.3" cy="51.7" r="1.30" fill="url(#cg)" opacity="0.93"/><circle cx="388.9" cy="51.6" r="1.25" fill="url(#cg)" opacity="0.81"/><circle cx="392.8" cy="51.6" r="1.28" fill="url(#cg)" opacity="0.89"/><circle cx="396.6" cy="51.5" r="1.27" fill="url(#cg)" opacity="0.86"/><circle cx="400.4" cy="51.4" r="1.25" fill="url(#cg)" opacity="0.81"/><circle cx="405.0" cy="51.6" r="1.23" fill="url(#cg)" opacity="0.76"/><circle cx="409.5" cy="51.4" r="1.23" fill="url(#cg)" opacity="0.76"/><circle cx="412.7" cy="51.2" r="1.21" fill="url(#cg)" opacity="0.70"/><circle cx="416.2" cy="51.1" r="1.23" fill="url(#cg)" opacity="0.74"/><circle cx="420.1" cy="51.2" r="1.23" fill="url(#cg)" opacity="0.74"/><circle cx="423.9" cy="51.0" r="1.20" fill="url(#cg)" opacity="0.67"/><circle cx="426.9" cy="51.0" r="1.17" fill="url(#cg)" opacity="0.59"/><circle cx="319.6" cy="55.5" r="1.18" fill="url(#cg)" opacity="0.61"/><circle cx="322.7" cy="55.5" r="1.23" fill="url(#cg)" opacity="0.75"/><circle cx="326.2" cy="55.6" r="1.22" fill="url(#cg)" opacity="0.71"/><circle cx="329.6" cy="55.7" r="1.24" fill="url(#cg)" opacity="0.76"/><circle cx="333.0" cy="55.8" r="1.22" fill="url(#cg)" opacity="0.72"/><circle cx="336.4" cy="55.6" r="1.26" fill="url(#cg)" opacity="0.84"/><circle cx="340.5" cy="55.7" r="1.27" fill="url(#cg)" opacity="0.86"/><circle cx="344.6" cy="55.8" r="1.27" fill="url(#cg)" opacity="0.87"/><circle cx="348.4" cy="56.0" r="1.25" fill="url(#cg)" opacity="0.80"/><circle cx="352.1" cy="56.0" r="1.28" fill="url(#cg)" opacity="0.89"/><circle cx="356.7" cy="56.2" r="1.30" fill="url(#cg)" opacity="0.95"/><circle cx="360.9" cy="56.1" r="1.29" fill="url(#cg)" opacity="0.92"/><circle cx="364.5" cy="56.3" r="1.28" fill="url(#cg)" opacity="0.89"/><circle cx="368.4" cy="56.1" r="1.29" fill="url(#cg)" opacity="0.90"/><circle cx="372.8" cy="56.2" r="1.30" fill="url(#cg)" opacity="0.94"/><circle cx="377.0" cy="56.0" r="1.29" fill="url(#cg)" opacity="0.91"/><circle cx="381.0" cy="56.3" r="1.31" fill="url(#cg)" opacity="0.98"/><circle cx="384.3" cy="56.0" r="1.27" fill="url(#cg)" opacity="0.85"/><circle cx="388.9" cy="56.0" r="1.29" fill="url(#cg)" opacity="0.90"/><circle cx="392.9" cy="56.1" r="1.27" fill="url(#cg)" opacity="0.87"/><circle cx="396.8" cy="55.9" r="1.30" fill="url(#cg)" opacity="0.93"/><circle cx="400.3" cy="55.8" r="1.26" fill="url(#cg)" opacity="0.82"/><circle cx="405.0" cy="55.8" r="1.26" fill="url(#cg)" opacity="0.83"/><circle cx="409.2" cy="55.7" r="1.27" fill="url(#cg)" opacity="0.84"/><circle cx="412.6" cy="55.8" r="1.26" fill="url(#cg)" opacity="0.82"/><circle cx="416.2" cy="55.6" r="1.26" fill="url(#cg)" opacity="0.82"/><circle cx="420.1" cy="55.7" r="1.20" fill="url(#cg)" opacity="0.67"/><circle cx="424.0" cy="55.5" r="1.19" fill="url(#cg)" opacity="0.64"/><circle cx="427.1" cy="55.2" r="1.19" fill="url(#cg)" opacity="0.63"/><circle cx="319.5" cy="60.3" r="1.19" fill="url(#cg)" opacity="0.65"/><circle cx="322.8" cy="60.2" r="1.23" fill="url(#cg)" opacity="0.75"/><circle cx="326.2" cy="60.2" r="1.22" fill="url(#cg)" opacity="0.71"/><circle cx="329.9" cy="60.2" r="1.26" fill="url(#cg)" opacity="0.83"/><circle cx="332.8" cy="60.2" r="1.23" fill="url(#cg)" opacity="0.74"/><circle cx="336.6" cy="60.6" r="1.25" fill="url(#cg)" opacity="0.81"/><circle cx="340.7" cy="60.4" r="1.29" fill="url(#cg)" opacity="0.90"/><circle cx="344.6" cy="60.4" r="1.25" fill="url(#cg)" opacity="0.80"/><circle cx="348.4" cy="60.5" r="1.30" fill="url(#cg)" opacity="0.93"/><circle cx="351.9" cy="60.6" r="1.29" fill="url(#cg)" opacity="0.91"/><circle cx="356.4" cy="60.7" r="1.28" fill="url(#cg)" opacity="0.87"/><circle cx="361.2" cy="60.7" r="1.32" fill="url(#cg)" opacity="0.99"/><circle cx="364.6" cy="60.9" r="1.33" fill="url(#cg)" opacity="1.00"/><circle cx="368.5" cy="60.6" r="1.30" fill="url(#cg)" opacity="0.94"/><circle cx="372.7" cy="60.7" r="1.31" fill="url(#cg)" opacity="0.97"/><circle cx="376.9" cy="60.8" r="1.32" fill="url(#cg)" opacity="0.99"/><circle cx="380.8" cy="60.8" r="1.29" fill="url(#cg)" opacity="0.90"/><circle cx="384.5" cy="60.6" r="1.32" fill="url(#cg)" opacity="1.00"/><circle cx="389.1" cy="60.9" r="1.30" fill="url(#cg)" opacity="0.93"/><circle cx="392.8" cy="60.6" r="1.30" fill="url(#cg)" opacity="0.95"/><circle cx="396.6" cy="60.8" r="1.26" fill="url(#cg)" opacity="0.84"/><circle cx="400.3" cy="60.8" r="1.28" fill="url(#cg)" opacity="0.89"/><circle cx="405.0" cy="60.4" r="1.25" fill="url(#cg)" opacity="0.80"/><circle cx="409.2" cy="60.6" r="1.28" fill="url(#cg)" opacity="0.87"/><circle cx="412.5" cy="60.6" r="1.23" fill="url(#cg)" opacity="0.74"/><circle cx="416.2" cy="60.5" r="1.23" fill="url(#cg)" opacity="0.76"/><circle cx="420.3" cy="60.3" r="1.21" fill="url(#cg)" opacity="0.69"/><circle cx="424.0" cy="60.1" r="1.21" fill="url(#cg)" opacity="0.68"/><circle cx="427.0" cy="60.0" r="1.20" fill="url(#cg)" opacity="0.67"/><circle cx="319.5" cy="64.9" r="1.20" fill="url(#cg)" opacity="0.66"/><circle cx="322.5" cy="65.1" r="1.24" fill="url(#cg)" opacity="0.78"/><circle cx="326.2" cy="65.1" r="1.21" fill="url(#cg)" opacity="0.70"/><circle cx="329.8" cy="65.1" r="1.26" fill="url(#cg)" opacity="0.81"/><circle cx="332.8" cy="65.3" r="1.25" fill="url(#cg)" opacity="0.80"/><circle cx="336.5" cy="65.4" r="1.25" fill="url(#cg)" opacity="0.79"/><circle cx="340.6" cy="65.6" r="1.27" fill="url(#cg)" opacity="0.84"/><circle cx="344.7" cy="65.6" r="1.28" fill="url(#cg)" opacity="0.89"/><circle cx="348.2" cy="65.3" r="1.31" fill="url(#cg)" opacity="0.96"/><circle cx="351.9" cy="65.5" r="1.30" fill="url(#cg)" opacity="0.93"/><circle cx="356.3" cy="65.5" r="1.29" fill="url(#cg)" opacity="0.90"/><circle cx="361.1" cy="65.6" r="1.30" fill="url(#cg)" opacity="0.94"/><circle cx="364.6" cy="65.6" r="1.30" fill="url(#cg)" opacity="0.93"/><circle cx="368.4" cy="65.5" r="1.34" fill="url(#cg)" opacity="1.00"/><circle cx="372.7" cy="65.8" r="1.29" fill="url(#cg)" opacity="0.92"/><circle cx="377.2" cy="65.6" r="1.33" fill="url(#cg)" opacity="1.00"/><circle cx="380.9" cy="65.7" r="1.30" fill="url(#cg)" opacity="0.94"/><circle cx="384.5" cy="65.4" r="1.30" fill="url(#cg)" opacity="0.93"/><circle cx="388.7" cy="65.5" r="1.31" fill="url(#cg)" opacity="0.95"/><circle cx="392.8" cy="65.7" r="1.28" fill="url(#cg)" opacity="0.88"/><circle cx="396.7" cy="65.4" r="1.30" fill="url(#cg)" opacity="0.93"/><circle cx="400.4" cy="65.5" r="1.26" fill="url(#cg)" opacity="0.84"/><circle cx="404.9" cy="65.4" r="1.30" fill="url(#cg)" opacity="0.94"/><circle cx="409.1" cy="65.4" r="1.28" fill="url(#cg)" opacity="0.87"/><circle cx="412.8" cy="65.2" r="1.27" fill="url(#cg)" opacity="0.87"/><circle cx="416.1" cy="65.4" r="1.22" fill="url(#cg)" opacity="0.73"/><circle cx="420.3" cy="65.1" r="1.23" fill="url(#cg)" opacity="0.76"/><circle cx="423.9" cy="65.0" r="1.24" fill="url(#cg)" opacity="0.77"/><circle cx="427.0" cy="64.9" r="1.19" fill="url(#cg)" opacity="0.63"/><circle cx="319.5" cy="69.3" r="1.19" fill="url(#cg)" opacity="0.63"/><circle cx="322.6" cy="69.7" r="1.26" fill="url(#cg)" opacity="0.83"/><circle cx="326.3" cy="69.6" r="1.24" fill="url(#cg)" opacity="0.78"/><circle cx="329.9" cy="69.8" r="1.27" fill="url(#cg)" opacity="0.85"/><circle cx="333.0" cy="69.5" r="1.27" fill="url(#cg)" opacity="0.85"/><circle cx="336.6" cy="69.8" r="1.25" fill="url(#cg)" opacity="0.80"/><circle cx="340.8" cy="69.7" r="1.26" fill="url(#cg)" opacity="0.84"/><circle cx="344.7" cy="69.9" r="1.30" fill="url(#cg)" opacity="0.94"/><circle cx="348.2" cy="70.0" r="1.32" fill="url(#cg)" opacity="0.99"/><circle cx="352.2" cy="70.0" r="1.32" fill="url(#cg)" opacity="0.99"/><circle cx="356.6" cy="69.9" r="1.31" fill="url(#cg)" opacity="0.96"/><circle cx="361.2" cy="70.0" r="1.34" fill="url(#cg)" opacity="1.00"/><circle cx="364.7" cy="70.1" r="1.32" fill="url(#cg)" opacity="1.00"/><circle cx="368.7" cy="69.8" r="1.35" fill="url(#cg)" opacity="1.00"/><circle cx="372.8" cy="69.8" r="1.34" fill="url(#cg)" opacity="1.00"/><circle cx="377.0" cy="69.8" r="1.32" fill="url(#cg)" opacity="1.00"/><circle cx="380.7" cy="69.9" r="1.34" fill="url(#cg)" opacity="1.00"/><circle cx="384.5" cy="70.0" r="1.31" fill="url(#cg)" opacity="0.97"/><circle cx="389.0" cy="70.0" r="1.32" fill="url(#cg)" opacity="1.00"/><circle cx="393.0" cy="70.0" r="1.30" fill="url(#cg)" opacity="0.94"/><circle cx="396.5" cy="69.9" r="1.32" fill="url(#cg)" opacity="0.98"/><circle cx="400.3" cy="69.9" r="1.31" fill="url(#cg)" opacity="0.96"/><circle cx="405.1" cy="69.6" r="1.28" fill="url(#cg)" opacity="0.89"/><circle cx="409.1" cy="69.6" r="1.29" fill="url(#cg)" opacity="0.91"/><circle cx="412.6" cy="69.7" r="1.26" fill="url(#cg)" opacity="0.83"/><circle cx="416.1" cy="69.5" r="1.25" fill="url(#cg)" opacity="0.79"/><circle cx="420.2" cy="69.6" r="1.23" fill="url(#cg)" opacity="0.76"/><circle cx="423.9" cy="69.4" r="1.24" fill="url(#cg)" opacity="0.78"/><circle cx="426.9" cy="69.5" r="1.22" fill="url(#cg)" opacity="0.71"/><circle cx="319.4" cy="74.6" r="1.19" fill="url(#cg)" opacity="0.62"/><circle cx="322.8" cy="74.4" r="1.23" fill="url(#cg)" opacity="0.74"/><circle cx="326.3" cy="74.5" r="1.24" fill="url(#cg)" opacity="0.76"/><circle cx="329.9" cy="74.7" r="1.28" fill="url(#cg)" opacity="0.88"/><circle cx="332.9" cy="74.6" r="1.29" fill="url(#cg)" opacity="0.92"/><circle cx="336.5" cy="74.9" r="1.26" fill="url(#cg)" opacity="0.83"/><circle cx="340.8" cy="74.6" r="1.29" fill="url(#cg)" opacity="0.91"/><circle cx="344.3" cy="74.6" r="1.32" fill="url(#cg)" opacity="0.99"/><circle cx="348.3" cy="74.9" r="1.29" fill="url(#cg)" opacity="0.91"/><circle cx="351.9" cy="74.6" r="1.31" fill="url(#cg)" opacity="0.97"/><circle cx="356.6" cy="74.8" r="1.31" fill="url(#cg)" opacity="0.97"/><circle cx="361.2" cy="75.0" r="1.33" fill="url(#cg)" opacity="1.00"/><circle cx="364.6" cy="74.9" r="1.33" fill="url(#cg)" opacity="1.00"/><circle cx="368.7" cy="74.8" r="1.34" fill="url(#cg)" opacity="1.00"/><circle cx="372.7" cy="74.8" r="1.33" fill="url(#cg)" opacity="1.00"/><circle cx="377.1" cy="75.0" r="1.33" fill="url(#cg)" opacity="1.00"/><circle cx="380.8" cy="75.0" r="1.31" fill="url(#cg)" opacity="0.96"/><circle cx="384.6" cy="74.9" r="1.33" fill="url(#cg)" opacity="1.00"/><circle cx="388.9" cy="74.9" r="1.34" fill="url(#cg)" opacity="1.00"/><circle cx="393.0" cy="74.9" r="1.29" fill="url(#cg)" opacity="0.91"/><circle cx="396.6" cy="74.6" r="1.33" fill="url(#cg)" opacity="1.00"/><circle cx="400.5" cy="74.6" r="1.30" fill="url(#cg)" opacity="0.95"/><circle cx="405.0" cy="74.5" r="1.28" fill="url(#cg)" opacity="0.89"/><circle cx="409.4" cy="74.7" r="1.27" fill="url(#cg)" opacity="0.85"/><circle cx="412.8" cy="74.6" r="1.27" fill="url(#cg)" opacity="0.86"/><circle cx="416.1" cy="74.8" r="1.27" fill="url(#cg)" opacity="0.85"/><circle cx="420.2" cy="74.6" r="1.24" fill="url(#cg)" opacity="0.79"/><circle cx="424.3" cy="74.6" r="1.25" fill="url(#cg)" opacity="0.80"/><circle cx="426.9" cy="74.4" r="1.21" fill="url(#cg)" opacity="0.69"/><circle cx="319.7" cy="79.2" r="1.20" fill="url(#cg)" opacity="0.67"/><circle cx="322.5" cy="79.2" r="1.26" fill="url(#cg)" opacity="0.84"/><circle cx="326.0" cy="79.3" r="1.24" fill="url(#cg)" opacity="0.77"/><circle cx="329.6" cy="79.0" r="1.25" fill="url(#cg)" opacity="0.81"/><circle cx="332.9" cy="79.4" r="1.30" fill="url(#cg)" opacity="0.93"/><circle cx="336.4" cy="79.2" r="1.31" fill="url(#cg)" opacity="0.95"/><circle cx="340.5" cy="79.2" r="1.29" fill="url(#cg)" opacity="0.91"/><circle cx="344.4" cy="79.2" r="1.30" fill="url(#cg)" opacity="0.93"/><circle cx="348.3" cy="79.5" r="1.30" fill="url(#cg)" opacity="0.93"/><circle cx="351.9" cy="79.5" r="1.31" fill="url(#cg)" opacity="0.97"/><circle cx="356.6" cy="79.4" r="1.34" fill="url(#cg)" opacity="1.00"/><circle cx="361.0" cy="79.2" r="1.34" fill="url(#cg)" opacity="1.00"/><circle cx="364.7" cy="79.4" r="1.34" fill="url(#cg)" opacity="1.00"/><circle cx="368.6" cy="79.3" r="1.33" fill="url(#cg)" opacity="1.00"/><circle cx="372.9" cy="79.4" r="1.33" fill="url(#cg)" opacity="1.00"/><circle cx="377.1" cy="79.3" r="1.35" fill="url(#cg)" opacity="1.00"/><circle cx="380.7" cy="79.5" r="1.34" fill="url(#cg)" opacity="1.00"/><circle cx="384.4" cy="79.5" r="1.32" fill="url(#cg)" opacity="0.99"/><circle cx="388.8" cy="79.2" r="1.33" fill="url(#cg)" opacity="1.00"/><circle cx="393.0" cy="79.4" r="1.31" fill="url(#cg)" opacity="0.98"/><circle cx="396.8" cy="79.2" r="1.30" fill="url(#cg)" opacity="0.94"/><circle cx="400.4" cy="79.5" r="1.31" fill="url(#cg)" opacity="0.97"/><circle cx="405.1" cy="79.4" r="1.29" fill="url(#cg)" opacity="0.91"/><circle cx="409.5" cy="79.4" r="1.28" fill="url(#cg)" opacity="0.87"/><circle cx="412.6" cy="79.4" r="1.27" fill="url(#cg)" opacity="0.85"/><circle cx="416.0" cy="79.4" r="1.27" fill="url(#cg)" opacity="0.85"/><circle cx="420.1" cy="79.3" r="1.28" fill="url(#cg)" opacity="0.87"/><circle cx="424.0" cy="79.1" r="1.22" fill="url(#cg)" opacity="0.72"/><circle cx="427.0" cy="79.1" r="1.23" fill="url(#cg)" opacity="0.74"/><circle cx="319.6" cy="83.4" r="1.21" fill="url(#cg)" opacity="0.69"/><circle cx="322.7" cy="83.3" r="1.27" fill="url(#cg)" opacity="0.84"/><circle cx="326.2" cy="83.5" r="1.24" fill="url(#cg)" opacity="0.77"/><circle cx="329.8" cy="83.5" r="1.27" fill="url(#cg)" opacity="0.85"/><circle cx="333.0" cy="83.6" r="1.29" fill="url(#cg)" opacity="0.91"/><circle cx="336.6" cy="83.5" r="1.31" fill="url(#cg)" opacity="0.95"/><circle cx="340.5" cy="83.5" r="1.31" fill="url(#cg)" opacity="0.96"/><circle cx="344.6" cy="83.4" r="1.28" fill="url(#cg)" opacity="0.89"/><circle cx="348.3" cy="83.6" r="1.30" fill="url(#cg)" opacity="0.94"/><circle cx="351.9" cy="83.4" r="1.30" fill="url(#cg)" opacity="0.94"/><circle cx="356.5" cy="83.7" r="1.34" fill="url(#cg)" opacity="1.00"/><circle cx="361.0" cy="83.6" r="1.31" fill="url(#cg)" opacity="0.97"/><circle cx="364.9" cy="83.4" r="1.31" fill="url(#cg)" opacity="0.97"/><circle cx="368.6" cy="83.4" r="1.33" fill="url(#cg)" opacity="1.00"/><circle cx="372.5" cy="83.5" r="1.35" fill="url(#cg)" opacity="1.00"/><circle cx="377.2" cy="83.3" r="1.35" fill="url(#cg)" opacity="1.00"/><circle cx="380.7" cy="83.4" r="1.35" fill="url(#cg)" opacity="1.00"/><circle cx="384.4" cy="83.4" r="1.34" fill="url(#cg)" opacity="1.00"/><circle cx="388.8" cy="83.6" r="1.31" fill="url(#cg)" opacity="0.98"/><circle cx="393.0" cy="83.6" r="1.32" fill="url(#cg)" opacity="1.00"/><circle cx="396.5" cy="83.6" r="1.29" fill="url(#cg)" opacity="0.92"/><circle cx="400.4" cy="83.4" r="1.29" fill="url(#cg)" opacity="0.90"/><circle cx="405.1" cy="83.5" r="1.30" fill="url(#cg)" opacity="0.95"/><circle cx="409.3" cy="83.4" r="1.29" fill="url(#cg)" opacity="0.92"/><circle cx="412.6" cy="83.6" r="1.31" fill="url(#cg)" opacity="0.95"/><circle cx="416.3" cy="83.6" r="1.26" fill="url(#cg)" opacity="0.83"/><circle cx="420.4" cy="83.2" r="1.26" fill="url(#cg)" opacity="0.82"/><circle cx="424.0" cy="83.4" r="1.26" fill="url(#cg)" opacity="0.82"/><circle cx="427.1" cy="83.3" r="1.21" fill="url(#cg)" opacity="0.68"/><circle cx="319.4" cy="87.2" r="1.21" fill="url(#cg)" opacity="0.68"/><circle cx="322.5" cy="87.4" r="1.25" fill="url(#cg)" opacity="0.80"/><circle cx="326.1" cy="87.2" r="1.27" fill="url(#cg)" opacity="0.86"/><circle cx="329.6" cy="87.2" r="1.27" fill="url(#cg)" opacity="0.87"/><circle cx="332.9" cy="87.5" r="1.29" fill="url(#cg)" opacity="0.92"/><circle cx="336.6" cy="87.5" r="1.30" fill="url(#cg)" opacity="0.94"/><circle cx="340.7" cy="87.1" r="1.28" fill="url(#cg)" opacity="0.89"/><circle cx="344.3" cy="87.5" r="1.32" fill="url(#cg)" opacity="0.99"/><circle cx="348.3" cy="87.2" r="1.31" fill="url(#cg)" opacity="0.96"/><circle cx="351.8" cy="87.4" r="1.35" fill="url(#cg)" opacity="1.00"/><circle cx="356.4" cy="87.2" r="1.31" fill="url(#cg)" opacity="0.98"/><circle cx="361.0" cy="87.5" r="1.35" fill="url(#cg)" opacity="1.00"/><circle cx="364.7" cy="87.2" r="1.32" fill="url(#cg)" opacity="1.00"/><circle cx="368.4" cy="87.5" r="1.34" fill="url(#cg)" opacity="1.00"/><circle cx="372.9" cy="87.5" r="1.35" fill="url(#cg)" opacity="1.00"/><circle cx="377.1" cy="87.5" r="1.33" fill="url(#cg)" opacity="1.00"/><circle cx="380.7" cy="87.4" r="1.34" fill="url(#cg)" opacity="1.00"/><circle cx="384.3" cy="87.2" r="1.31" fill="url(#cg)" opacity="0.98"/><circle cx="389.1" cy="87.4" r="1.35" fill="url(#cg)" opacity="1.00"/><circle cx="393.1" cy="87.3" r="1.34" fill="url(#cg)" opacity="1.00"/><circle cx="396.6" cy="87.5" r="1.34" fill="url(#cg)" opacity="1.00"/><circle cx="400.2" cy="87.1" r="1.30" fill="url(#cg)" opacity="0.93"/><circle cx="405.1" cy="87.3" r="1.28" fill="url(#cg)" opacity="0.87"/><circle cx="409.5" cy="87.4" r="1.29" fill="url(#cg)" opacity="0.91"/><circle cx="412.5" cy="87.5" r="1.28" fill="url(#cg)" opacity="0.89"/><circle cx="416.0" cy="87.2" r="1.28" fill="url(#cg)" opacity="0.88"/><circle cx="420.3" cy="87.3" r="1.27" fill="url(#cg)" opacity="0.85"/><circle cx="424.0" cy="87.2" r="1.27" fill="url(#cg)" opacity="0.86"/><circle cx="427.0" cy="87.1" r="1.22" fill="url(#cg)" opacity="0.72"/><circle cx="319.3" cy="92.1" r="1.22" fill="url(#cg)" opacity="0.71"/><circle cx="322.6" cy="92.3" r="1.26" fill="url(#cg)" opacity="0.84"/><circle cx="326.0" cy="92.0" r="1.27" fill="url(#cg)" opacity="0.87"/><circle cx="329.5" cy="92.2" r="1.27" fill="url(#cg)" opacity="0.85"/><circle cx="332.9" cy="92.3" r="1.27" fill="url(#cg)" opacity="0.85"/><circle cx="336.5" cy="92.3" r="1.29" fill="url(#cg)" opacity="0.91"/><circle cx="340.5" cy="92.3" r="1.31" fill="url(#cg)" opacity="0.96"/><circle cx="344.3" cy="92.1" r="1.34" fill="url(#cg)" opacity="1.00"/><circle cx="348.2" cy="92.1" r="1.33" fill="url(#cg)" opacity="1.00"/><circle cx="352.1" cy="92.2" r="1.34" fill="url(#cg)" opacity="1.00"/><circle cx="356.3" cy="92.0" r="1.35" fill="url(#cg)" opacity="1.00"/><circle cx="361.2" cy="92.0" r="1.32" fill="url(#cg)" opacity="0.98"/><circle cx="364.6" cy="92.3" r="1.33" fill="url(#cg)" opacity="1.00"/><circle cx="368.6" cy="92.3" r="1.35" fill="url(#cg)" opacity="1.00"/><circle cx="372.9" cy="92.1" r="1.33" fill="url(#cg)" opacity="1.00"/><circle cx="376.9" cy="92.3" r="1.33" fill="url(#cg)" opacity="1.00"/><circle cx="381.0" cy="92.3" r="1.33" fill="url(#cg)" opacity="1.00"/><circle cx="384.6" cy="92.0" r="1.34" fill="url(#cg)" opacity="1.00"/><circle cx="388.8" cy="92.3" r="1.35" fill="url(#cg)" opacity="1.00"/><circle cx="393.1" cy="92.0" r="1.35" fill="url(#cg)" opacity="1.00"/><circle cx="396.7" cy="92.3" r="1.32" fill="url(#cg)" opacity="1.00"/><circle cx="400.4" cy="92.2" r="1.33" fill="url(#cg)" opacity="1.00"/><circle cx="404.9" cy="92.0" r="1.31" fill="url(#cg)" opacity="0.95"/><circle cx="409.3" cy="92.1" r="1.27" fill="url(#cg)" opacity="0.85"/><circle cx="412.8" cy="92.0" r="1.30" fill="url(#cg)" opacity="0.94"/><circle cx="416.3" cy="92.2" r="1.26" fill="url(#cg)" opacity="0.82"/><circle cx="420.3" cy="92.1" r="1.26" fill="url(#cg)" opacity="0.83"/><circle cx="424.0" cy="92.4" r="1.25" fill="url(#cg)" opacity="0.81"/><circle cx="427.0" cy="92.1" r="1.23" fill="url(#cg)" opacity="0.74"/><circle cx="319.6" cy="97.2" r="1.20" fill="url(#cg)" opacity="0.66"/><circle cx="322.5" cy="97.0" r="1.27" fill="url(#cg)" opacity="0.84"/><circle cx="325.9" cy="97.1" r="1.29" fill="url(#cg)" opacity="0.90"/><circle cx="329.7" cy="96.8" r="1.25" fill="url(#cg)" opacity="0.80"/><circle cx="332.7" cy="97.1" r="1.29" fill="url(#cg)" opacity="0.90"/><circle cx="336.4" cy="96.9" r="1.29" fill="url(#cg)" opacity="0.90"/><circle cx="340.6" cy="97.0" r="1.32" fill="url(#cg)" opacity="1.00"/><circle cx="344.6" cy="97.1" r="1.33" fill="url(#cg)" opacity="1.00"/><circle cx="348.4" cy="97.0" r="1.29" fill="url(#cg)" opacity="0.92"/><circle cx="352.0" cy="97.1" r="1.32" fill="url(#cg)" opacity="1.00"/><circle cx="356.6" cy="96.8" r="1.35" fill="url(#cg)" opacity="1.00"/><circle cx="361.0" cy="97.0" r="1.33" fill="url(#cg)" opacity="1.00"/><circle cx="364.6" cy="96.8" r="1.33" fill="url(#cg)" opacity="1.00"/><circle cx="368.3" cy="96.9" r="1.35" fill="url(#cg)" opacity="1.00"/><circle cx="372.7" cy="97.1" r="1.35" fill="url(#cg)" opacity="1.00"/><circle cx="377.2" cy="97.1" r="1.35" fill="url(#cg)" opacity="1.00"/><circle cx="380.8" cy="96.8" r="1.34" fill="url(#cg)" opacity="1.00"/><circle cx="384.3" cy="96.8" r="1.35" fill="url(#cg)" opacity="1.00"/><circle cx="389.1" cy="96.8" r="1.35" fill="url(#cg)" opacity="1.00"/><circle cx="393.0" cy="97.1" r="1.34" fill="url(#cg)" opacity="1.00"/><circle cx="396.7" cy="96.8" r="1.34" fill="url(#cg)" opacity="1.00"/><circle cx="400.3" cy="97.0" r="1.31" fill="url(#cg)" opacity="0.95"/><circle cx="405.1" cy="97.1" r="1.29" fill="url(#cg)" opacity="0.90"/><circle cx="409.4" cy="97.0" r="1.29" fill="url(#cg)" opacity="0.92"/><circle cx="412.9" cy="96.9" r="1.31" fill="url(#cg)" opacity="0.95"/><circle cx="416.3" cy="97.2" r="1.25" fill="url(#cg)" opacity="0.81"/><circle cx="420.1" cy="96.9" r="1.28" fill="url(#cg)" opacity="0.89"/><circle cx="424.0" cy="96.9" r="1.26" fill="url(#cg)" opacity="0.83"/><circle cx="427.3" cy="96.9" r="1.21" fill="url(#cg)" opacity="0.70"/><circle cx="319.5" cy="101.4" r="1.23" fill="url(#cg)" opacity="0.74"/><circle cx="322.6" cy="101.1" r="1.24" fill="url(#cg)" opacity="0.76"/><circle cx="325.8" cy="101.3" r="1.24" fill="url(#cg)" opacity="0.79"/><circle cx="329.5" cy="101.4" r="1.28" fill="url(#cg)" opacity="0.88"/><circle cx="332.8" cy="101.2" r="1.28" fill="url(#cg)" opacity="0.89"/><circle cx="336.4" cy="101.1" r="1.27" fill="url(#cg)" opacity="0.84"/><circle cx="340.4" cy="100.9" r="1.29" fill="url(#cg)" opacity="0.91"/><circle cx="344.3" cy="100.9" r="1.31" fill="url(#cg)" opacity="0.96"/><circle cx="348.4" cy="101.2" r="1.30" fill="url(#cg)" opacity="0.95"/><circle cx="352.0" cy="100.9" r="1.30" fill="url(#cg)" opacity="0.94"/><circle cx="356.3" cy="101.0" r="1.34" fill="url(#cg)" opacity="1.00"/><circle cx="361.0" cy="101.1" r="1.32" fill="url(#cg)" opacity="0.98"/><circle cx="364.9" cy="101.0" r="1.35" fill="url(#cg)" opacity="1.00"/><circle cx="368.3" cy="101.2" r="1.33" fill="url(#cg)" opacity="1.00"/><circle cx="372.8" cy="101.1" r="1.35" fill="url(#cg)" opacity="1.00"/><circle cx="377.0" cy="100.8" r="1.33" fill="url(#cg)" opacity="1.00"/><circle cx="381.0" cy="100.9" r="1.35" fill="url(#cg)" opacity="1.00"/><circle cx="384.5" cy="101.1" r="1.32" fill="url(#cg)" opacity="1.00"/><circle cx="388.8" cy="100.9" r="1.35" fill="url(#cg)" opacity="1.00"/><circle cx="392.9" cy="101.1" r="1.33" fill="url(#cg)" opacity="1.00"/><circle cx="396.6" cy="100.9" r="1.29" fill="url(#cg)" opacity="0.92"/><circle cx="400.6" cy="100.9" r="1.33" fill="url(#cg)" opacity="1.00"/><circle cx="405.1" cy="101.2" r="1.28" fill="url(#cg)" opacity="0.89"/><circle cx="409.5" cy="101.0" r="1.28" fill="url(#cg)" opacity="0.89"/><circle cx="412.8" cy="101.0" r="1.27" fill="url(#cg)" opacity="0.85"/><circle cx="416.4" cy="101.1" r="1.27" fill="url(#cg)" opacity="0.84"/><circle cx="420.4" cy="101.1" r="1.24" fill="url(#cg)" opacity="0.79"/><circle cx="424.2" cy="101.2" r="1.24" fill="url(#cg)" opacity="0.78"/><circle cx="427.2" cy="101.3" r="1.23" fill="url(#cg)" opacity="0.75"/><circle cx="319.2" cy="105.7" r="1.23" fill="url(#cg)" opacity="0.74"/><circle cx="322.4" cy="105.4" r="1.24" fill="url(#cg)" opacity="0.78"/><circle cx="325.8" cy="105.5" r="1.27" fill="url(#cg)" opacity="0.85"/><circle cx="329.4" cy="105.3" r="1.27" fill="url(#cg)" opacity="0.84"/><circle cx="332.6" cy="105.3" r="1.27" fill="url(#cg)" opacity="0.86"/><circle cx="336.2" cy="105.2" r="1.28" fill="url(#cg)" opacity="0.88"/><circle cx="340.5" cy="105.6" r="1.30" fill="url(#cg)" opacity="0.93"/><circle cx="344.3" cy="105.2" r="1.32" fill="url(#cg)" opacity="0.98"/><circle cx="348.2" cy="105.5" r="1.33" fill="url(#cg)" opacity="1.00"/><circle cx="352.1" cy="105.2" r="1.34" fill="url(#cg)" opacity="1.00"/><circle cx="356.4" cy="105.2" r="1.31" fill="url(#cg)" opacity="0.96"/><circle cx="361.1" cy="105.2" r="1.31" fill="url(#cg)" opacity="0.97"/><circle cx="364.6" cy="105.4" r="1.33" fill="url(#cg)" opacity="1.00"/><circle cx="368.6" cy="105.1" r="1.34" fill="url(#cg)" opacity="1.00"/><circle cx="372.6" cy="105.1" r="1.35" fill="url(#cg)" opacity="1.00"/><circle cx="377.0" cy="105.1" r="1.35" fill="url(#cg)" opacity="1.00"/><circle cx="380.9" cy="105.1" r="1.31" fill="url(#cg)" opacity="0.97"/><circle cx="384.5" cy="105.3" r="1.31" fill="url(#cg)" opacity="0.96"/><circle cx="388.9" cy="105.4" r="1.33" fill="url(#cg)" opacity="1.00"/><circle cx="392.8" cy="105.3" r="1.33" fill="url(#cg)" opacity="1.00"/><circle cx="396.8" cy="105.2" r="1.33" fill="url(#cg)" opacity="1.00"/><circle cx="400.6" cy="105.4" r="1.33" fill="url(#cg)" opacity="1.00"/><circle cx="405.1" cy="105.5" r="1.28" fill="url(#cg)" opacity="0.88"/><circle cx="409.3" cy="105.5" r="1.31" fill="url(#cg)" opacity="0.96"/><circle cx="412.7" cy="105.3" r="1.25" fill="url(#cg)" opacity="0.81"/><circle cx="416.3" cy="105.3" r="1.25" fill="url(#cg)" opacity="0.81"/><circle cx="420.4" cy="105.6" r="1.28" fill="url(#cg)" opacity="0.88"/><circle cx="424.3" cy="105.6" r="1.22" fill="url(#cg)" opacity="0.72"/><circle cx="427.4" cy="105.5" r="1.21" fill="url(#cg)" opacity="0.70"/><circle cx="319.3" cy="110.7" r="1.21" fill="url(#cg)" opacity="0.69"/><circle cx="322.6" cy="110.5" r="1.23" fill="url(#cg)" opacity="0.74"/><circle cx="326.0" cy="110.3" r="1.28" fill="url(#cg)" opacity="0.88"/><circle cx="329.5" cy="110.3" r="1.29" fill="url(#cg)" opacity="0.90"/><circle cx="332.6" cy="110.3" r="1.26" fill="url(#cg)" opacity="0.83"/><circle cx="336.4" cy="110.1" r="1.27" fill="url(#cg)" opacity="0.86"/><circle cx="340.4" cy="110.4" r="1.26" fill="url(#cg)" opacity="0.84"/><circle cx="344.4" cy="110.1" r="1.30" fill="url(#cg)" opacity="0.93"/><circle cx="348.2" cy="110.3" r="1.29" fill="url(#cg)" opacity="0.90"/><circle cx="351.8" cy="110.0" r="1.34" fill="url(#cg)" opacity="1.00"/><circle cx="356.2" cy="110.0" r="1.32" fill="url(#cg)" opacity="1.00"/><circle cx="361.0" cy="110.3" r="1.30" fill="url(#cg)" opacity="0.95"/><circle cx="364.6" cy="110.0" r="1.33" fill="url(#cg)" opacity="1.00"/><circle cx="368.5" cy="110.0" r="1.35" fill="url(#cg)" opacity="1.00"/><circle cx="372.7" cy="110.2" r="1.35" fill="url(#cg)" opacity="1.00"/><circle cx="377.0" cy="110.3" r="1.33" fill="url(#cg)" opacity="1.00"/><circle cx="380.7" cy="110.3" r="1.31" fill="url(#cg)" opacity="0.97"/><circle cx="384.3" cy="110.0" r="1.32" fill="url(#cg)" opacity="0.98"/><circle cx="389.2" cy="110.3" r="1.32" fill="url(#cg)" opacity="0.99"/><circle cx="393.0" cy="110.3" r="1.33" fill="url(#cg)" opacity="1.00"/><circle cx="396.8" cy="110.2" r="1.29" fill="url(#cg)" opacity="0.91"/><circle cx="400.4" cy="110.3" r="1.31" fill="url(#cg)" opacity="0.95"/><circle cx="405.3" cy="110.4" r="1.32" fill="url(#cg)" opacity="0.98"/><circle cx="409.3" cy="110.1" r="1.30" fill="url(#cg)" opacity="0.94"/><circle cx="412.9" cy="110.2" r="1.28" fill="url(#cg)" opacity="0.89"/><circle cx="416.3" cy="110.3" r="1.26" fill="url(#cg)" opacity="0.82"/><circle cx="420.4" cy="110.5" r="1.23" fill="url(#cg)" opacity="0.75"/><circle cx="424.5" cy="110.5" r="1.24" fill="url(#cg)" opacity="0.77"/><circle cx="427.3" cy="110.7" r="1.19" fill="url(#cg)" opacity="0.62"/><circle cx="319.2" cy="114.9" r="1.21" fill="url(#cg)" opacity="0.70"/><circle cx="322.4" cy="114.7" r="1.26" fill="url(#cg)" opacity="0.83"/><circle cx="326.0" cy="114.6" r="1.24" fill="url(#cg)" opacity="0.78"/><circle cx="329.6" cy="114.6" r="1.25" fill="url(#cg)" opacity="0.81"/><circle cx="332.8" cy="114.8" r="1.25" fill="url(#cg)" opacity="0.80"/><circle cx="336.4" cy="114.5" r="1.28" fill="url(#cg)" opacity="0.89"/><circle cx="340.6" cy="114.4" r="1.27" fill="url(#cg)" opacity="0.85"/><circle cx="344.3" cy="114.4" r="1.27" fill="url(#cg)" opacity="0.85"/><circle cx="348.0" cy="114.4" r="1.30" fill="url(#cg)" opacity="0.93"/><circle cx="351.7" cy="114.4" r="1.33" fill="url(#cg)" opacity="1.00"/><circle cx="356.4" cy="114.3" r="1.32" fill="url(#cg)" opacity="1.00"/><circle cx="361.0" cy="114.2" r="1.32" fill="url(#cg)" opacity="0.99"/><circle cx="364.5" cy="114.4" r="1.31" fill="url(#cg)" opacity="0.96"/><circle cx="368.4" cy="114.5" r="1.34" fill="url(#cg)" opacity="1.00"/><circle cx="372.8" cy="114.4" r="1.34" fill="url(#cg)" opacity="1.00"/><circle cx="377.2" cy="114.5" r="1.31" fill="url(#cg)" opacity="0.97"/><circle cx="381.0" cy="114.2" r="1.31" fill="url(#cg)" opacity="0.97"/><circle cx="384.6" cy="114.4" r="1.34" fill="url(#cg)" opacity="1.00"/><circle cx="389.1" cy="114.4" r="1.30" fill="url(#cg)" opacity="0.94"/><circle cx="392.8" cy="114.4" r="1.32" fill="url(#cg)" opacity="1.00"/><circle cx="396.7" cy="114.2" r="1.28" fill="url(#cg)" opacity="0.88"/><circle cx="400.4" cy="114.5" r="1.27" fill="url(#cg)" opacity="0.86"/><circle cx="405.1" cy="114.4" r="1.30" fill="url(#cg)" opacity="0.93"/><circle cx="409.7" cy="114.4" r="1.26" fill="url(#cg)" opacity="0.82"/><circle cx="413.1" cy="114.8" r="1.25" fill="url(#cg)" opacity="0.80"/><circle cx="416.3" cy="114.7" r="1.25" fill="url(#cg)" opacity="0.80"/><circle cx="420.4" cy="114.7" r="1.24" fill="url(#cg)" opacity="0.76"/><circle cx="424.2" cy="114.6" r="1.22" fill="url(#cg)" opacity="0.71"/><circle cx="427.2" cy="114.9" r="1.21" fill="url(#cg)" opacity="0.70"/><circle cx="319.1" cy="118.6" r="1.21" fill="url(#cg)" opacity="0.69"/><circle cx="322.2" cy="118.4" r="1.22" fill="url(#cg)" opacity="0.71"/><circle cx="326.0" cy="118.4" r="1.22" fill="url(#cg)" opacity="0.72"/><circle cx="329.3" cy="118.3" r="1.25" fill="url(#cg)" opacity="0.79"/><circle cx="332.7" cy="118.1" r="1.28" fill="url(#cg)" opacity="0.87"/><circle cx="336.3" cy="118.0" r="1.27" fill="url(#cg)" opacity="0.87"/><circle cx="340.3" cy="118.2" r="1.29" fill="url(#cg)" opacity="0.92"/><circle cx="344.5" cy="117.9" r="1.27" fill="url(#cg)" opacity="0.84"/><circle cx="348.2" cy="118.0" r="1.28" fill="url(#cg)" opacity="0.87"/><circle cx="351.7" cy="118.0" r="1.28" fill="url(#cg)" opacity="0.89"/><circle cx="356.4" cy="117.8" r="1.30" fill="url(#cg)" opacity="0.93"/><circle cx="360.9" cy="117.9" r="1.33" fill="url(#cg)" opacity="1.00"/><circle cx="364.5" cy="118.0" r="1.30" fill="url(#cg)" opacity="0.95"/><circle cx="368.4" cy="117.9" r="1.33" fill="url(#cg)" opacity="1.00"/><circle cx="372.7" cy="118.0" r="1.31" fill="url(#cg)" opacity="0.96"/><circle cx="377.0" cy="117.9" r="1.31" fill="url(#cg)" opacity="0.97"/><circle cx="380.8" cy="117.8" r="1.33" fill="url(#cg)" opacity="1.00"/><circle cx="384.6" cy="118.0" r="1.34" fill="url(#cg)" opacity="1.00"/><circle cx="389.1" cy="117.8" r="1.30" fill="url(#cg)" opacity="0.94"/><circle cx="393.1" cy="117.8" r="1.31" fill="url(#cg)" opacity="0.96"/><circle cx="396.7" cy="117.8" r="1.30" fill="url(#cg)" opacity="0.93"/><circle cx="400.4" cy="118.2" r="1.31" fill="url(#cg)" opacity="0.97"/><circle cx="405.2" cy="118.0" r="1.26" fill="url(#cg)" opacity="0.83"/><circle cx="409.5" cy="118.1" r="1.26" fill="url(#cg)" opacity="0.84"/><circle cx="413.0" cy="118.2" r="1.28" fill="url(#cg)" opacity="0.87"/><circle cx="416.3" cy="118.1" r="1.25" fill="url(#cg)" opacity="0.80"/><circle cx="420.4" cy="118.2" r="1.25" fill="url(#cg)" opacity="0.81"/><circle cx="424.4" cy="118.4" r="1.23" fill="url(#cg)" opacity="0.75"/><circle cx="427.5" cy="118.6" r="1.19" fill="url(#cg)" opacity="0.65"/><circle cx="319.1" cy="122.4" r="1.22" fill="url(#cg)" opacity="0.71"/><circle cx="322.3" cy="122.0" r="1.23" fill="url(#cg)" opacity="0.73"/><circle cx="325.8" cy="122.0" r="1.21" fill="url(#cg)" opacity="0.70"/><circle cx="329.6" cy="122.1" r="1.23" fill="url(#cg)" opacity="0.74"/><circle cx="332.6" cy="121.9" r="1.24" fill="url(#cg)" opacity="0.79"/><circle cx="336.0" cy="121.9" r="1.28" fill="url(#cg)" opacity="0.88"/><circle cx="340.4" cy="121.6" r="1.27" fill="url(#cg)" opacity="0.85"/><circle cx="344.1" cy="121.9" r="1.26" fill="url(#cg)" opacity="0.82"/><circle cx="348.0" cy="121.8" r="1.27" fill="url(#cg)" opacity="0.85"/><circle cx="351.7" cy="121.4" r="1.28" fill="url(#cg)" opacity="0.88"/><circle cx="356.4" cy="121.7" r="1.29" fill="url(#cg)" opacity="0.90"/><circle cx="360.8" cy="121.6" r="1.30" fill="url(#cg)" opacity="0.95"/><circle cx="364.6" cy="121.4" r="1.30" fill="url(#cg)" opacity="0.94"/><circle cx="368.7" cy="121.3" r="1.30" fill="url(#cg)" opacity="0.95"/><circle cx="372.8" cy="121.6" r="1.34" fill="url(#cg)" opacity="1.00"/><circle cx="377.1" cy="121.7" r="1.32" fill="url(#cg)" opacity="1.00"/><circle cx="380.8" cy="121.5" r="1.32" fill="url(#cg)" opacity="1.00"/><circle cx="384.6" cy="121.4" r="1.29" fill="url(#cg)" opacity="0.92"/><circle cx="389.2" cy="121.4" r="1.32" fill="url(#cg)" opacity="0.99"/><circle cx="393.0" cy="121.5" r="1.29" fill="url(#cg)" opacity="0.90"/><circle cx="396.8" cy="121.8" r="1.27" fill="url(#cg)" opacity="0.86"/><circle cx="400.7" cy="121.6" r="1.27" fill="url(#cg)" opacity="0.85"/><circle cx="405.4" cy="121.7" r="1.26" fill="url(#cg)" opacity="0.82"/><circle cx="409.5" cy="121.9" r="1.28" fill="url(#cg)" opacity="0.89"/><circle cx="413.0" cy="121.7" r="1.27" fill="url(#cg)" opacity="0.86"/><circle cx="416.5" cy="122.1" r="1.27" fill="url(#cg)" opacity="0.86"/><circle cx="420.4" cy="122.2" r="1.25" fill="url(#cg)" opacity="0.81"/><circle cx="424.4" cy="122.1" r="1.22" fill="url(#cg)" opacity="0.72"/><circle cx="427.4" cy="122.2" r="1.18" fill="url(#cg)" opacity="0.60"/><circle cx="319.0" cy="127.3" r="1.19" fill="url(#cg)" opacity="0.62"/><circle cx="322.2" cy="127.2" r="1.23" fill="url(#cg)" opacity="0.76"/><circle cx="325.6" cy="127.1" r="1.25" fill="url(#cg)" opacity="0.79"/><circle cx="329.5" cy="127.0" r="1.25" fill="url(#cg)" opacity="0.81"/><circle cx="332.7" cy="126.7" r="1.26" fill="url(#cg)" opacity="0.81"/><circle cx="336.1" cy="126.8" r="1.24" fill="url(#cg)" opacity="0.76"/><circle cx="340.4" cy="126.6" r="1.28" fill="url(#cg)" opacity="0.89"/><circle cx="344.2" cy="126.7" r="1.29" fill="url(#cg)" opacity="0.91"/><circle cx="348.2" cy="126.3" r="1.30" fill="url(#cg)" opacity="0.94"/><circle cx="351.9" cy="126.5" r="1.29" fill="url(#cg)" opacity="0.92"/><circle cx="356.1" cy="126.5" r="1.30" fill="url(#cg)" opacity="0.93"/><circle cx="360.9" cy="126.3" r="1.31" fill="url(#cg)" opacity="0.98"/><circle cx="364.8" cy="126.5" r="1.29" fill="url(#cg)" opacity="0.91"/><circle cx="368.4" cy="126.2" r="1.29" fill="url(#cg)" opacity="0.90"/><circle cx="372.6" cy="126.1" r="1.32" fill="url(#cg)" opacity="1.00"/><circle cx="377.0" cy="126.1" r="1.28" fill="url(#cg)" opacity="0.90"/><circle cx="381.0" cy="126.2" r="1.30" fill="url(#cg)" opacity="0.94"/><circle cx="384.5" cy="126.5" r="1.32" fill="url(#cg)" opacity="1.00"/><circle cx="389.0" cy="126.4" r="1.32" fill="url(#cg)" opacity="0.98"/><circle cx="393.0" cy="126.6" r="1.30" fill="url(#cg)" opacity="0.94"/><circle cx="396.8" cy="126.6" r="1.29" fill="url(#cg)" opacity="0.90"/><circle cx="400.4" cy="126.6" r="1.29" fill="url(#cg)" opacity="0.92"/><circle cx="405.3" cy="126.6" r="1.26" fill="url(#cg)" opacity="0.83"/><circle cx="409.8" cy="126.8" r="1.24" fill="url(#cg)" opacity="0.78"/><circle cx="413.0" cy="126.7" r="1.27" fill="url(#cg)" opacity="0.86"/><circle cx="416.6" cy="126.7" r="1.26" fill="url(#cg)" opacity="0.83"/><circle cx="420.4" cy="127.0" r="1.23" fill="url(#cg)" opacity="0.74"/><circle cx="424.7" cy="127.0" r="1.20" fill="url(#cg)" opacity="0.66"/><circle cx="427.5" cy="127.3" r="1.20" fill="url(#cg)" opacity="0.67"/><circle cx="318.9" cy="131.4" r="1.20" fill="url(#cg)" opacity="0.65"/><circle cx="322.2" cy="131.3" r="1.23" fill="url(#cg)" opacity="0.75"/><circle cx="325.8" cy="131.2" r="1.22" fill="url(#cg)" opacity="0.71"/><circle cx="329.3" cy="131.3" r="1.22" fill="url(#cg)" opacity="0.71"/><circle cx="332.4" cy="131.0" r="1.25" fill="url(#cg)" opacity="0.80"/><circle cx="336.0" cy="131.0" r="1.25" fill="url(#cg)" opacity="0.79"/><circle cx="340.4" cy="130.7" r="1.28" fill="url(#cg)" opacity="0.88"/><circle cx="344.4" cy="130.8" r="1.28" fill="url(#cg)" opacity="0.88"/><circle cx="347.9" cy="130.9" r="1.27" fill="url(#cg)" opacity="0.87"/><circle cx="351.9" cy="130.8" r="1.27" fill="url(#cg)" opacity="0.86"/><circle cx="356.5" cy="130.5" r="1.26" fill="url(#cg)" opacity="0.83"/><circle cx="360.9" cy="130.7" r="1.31" fill="url(#cg)" opacity="0.97"/><circle cx="364.8" cy="130.6" r="1.32" fill="url(#cg)" opacity="0.98"/><circle cx="368.5" cy="130.4" r="1.30" fill="url(#cg)" opacity="0.95"/><circle cx="372.8" cy="130.5" r="1.30" fill="url(#cg)" opacity="0.95"/><circle cx="377.0" cy="130.5" r="1.29" fill="url(#cg)" opacity="0.92"/><circle cx="380.9" cy="130.5" r="1.27" fill="url(#cg)" opacity="0.87"/><circle cx="384.3" cy="130.5" r="1.30" fill="url(#cg)" opacity="0.95"/><circle cx="389.2" cy="130.5" r="1.27" fill="url(#cg)" opacity="0.87"/><circle cx="393.1" cy="130.5" r="1.29" fill="url(#cg)" opacity="0.90"/><circle cx="397.1" cy="130.6" r="1.28" fill="url(#cg)" opacity="0.88"/><circle cx="400.7" cy="130.9" r="1.28" fill="url(#cg)" opacity="0.88"/><circle cx="405.4" cy="130.8" r="1.28" fill="url(#cg)" opacity="0.87"/><circle cx="409.8" cy="130.8" r="1.27" fill="url(#cg)" opacity="0.86"/><circle cx="413.1" cy="130.9" r="1.22" fill="url(#cg)" opacity="0.72"/><circle cx="416.7" cy="131.2" r="1.22" fill="url(#cg)" opacity="0.70"/><circle cx="420.6" cy="131.3" r="1.25" fill="url(#cg)" opacity="0.80"/><circle cx="424.6" cy="131.5" r="1.20" fill="url(#cg)" opacity="0.66"/><circle cx="427.4" cy="131.3" r="1.18" fill="url(#cg)" opacity="0.61"/><circle cx="319.0" cy="135.1" r="1.16" fill="url(#cg)" opacity="0.56"/><circle cx="321.9" cy="134.9" r="1.19" fill="url(#cg)" opacity="0.64"/><circle cx="325.5" cy="135.0" r="1.20" fill="url(#cg)" opacity="0.66"/><circle cx="329.2" cy="134.8" r="1.25" fill="url(#cg)" opacity="0.80"/><circle cx="332.4" cy="134.9" r="1.23" fill="url(#cg)" opacity="0.75"/><circle cx="335.9" cy="134.7" r="1.22" fill="url(#cg)" opacity="0.73"/><circle cx="340.1" cy="134.4" r="1.26" fill="url(#cg)" opacity="0.83"/><circle cx="344.4" cy="134.4" r="1.25" fill="url(#cg)" opacity="0.80"/><circle cx="348.0" cy="134.3" r="1.27" fill="url(#cg)" opacity="0.87"/><circle cx="351.7" cy="134.2" r="1.29" fill="url(#cg)" opacity="0.91"/><circle cx="356.3" cy="134.1" r="1.30" fill="url(#cg)" opacity="0.92"/><circle cx="361.0" cy="134.2" r="1.29" fill="url(#cg)" opacity="0.91"/><circle cx="364.8" cy="134.2" r="1.28" fill="url(#cg)" opacity="0.89"/><circle cx="368.4" cy="134.2" r="1.30" fill="url(#cg)" opacity="0.93"/><circle cx="372.8" cy="134.4" r="1.27" fill="url(#cg)" opacity="0.86"/><circle cx="377.1" cy="134.3" r="1.31" fill="url(#cg)" opacity="0.95"/><circle cx="381.0" cy="134.3" r="1.28" fill="url(#cg)" opacity="0.88"/><circle cx="384.7" cy="134.2" r="1.28" fill="url(#cg)" opacity="0.88"/><circle cx="389.0" cy="134.1" r="1.30" fill="url(#cg)" opacity="0.94"/><circle cx="393.2" cy="134.1" r="1.26" fill="url(#cg)" opacity="0.84"/><circle cx="396.9" cy="134.4" r="1.26" fill="url(#cg)" opacity="0.83"/><circle cx="400.8" cy="134.4" r="1.26" fill="url(#cg)" opacity="0.83"/><circle cx="405.6" cy="134.6" r="1.25" fill="url(#cg)" opacity="0.80"/><circle cx="409.6" cy="134.6" r="1.25" fill="url(#cg)" opacity="0.80"/><circle cx="413.3" cy="134.6" r="1.23" fill="url(#cg)" opacity="0.74"/><circle cx="416.6" cy="134.8" r="1.25" fill="url(#cg)" opacity="0.80"/><circle cx="420.7" cy="134.9" r="1.21" fill="url(#cg)" opacity="0.69"/><circle cx="424.8" cy="135.0" r="1.22" fill="url(#cg)" opacity="0.71"/><circle cx="427.4" cy="135.1" r="1.16" fill="url(#cg)" opacity="0.55"/><circle cx="319.0" cy="138.1" r="1.16" fill="url(#cg)" opacity="0.55"/><circle cx="321.8" cy="138.0" r="1.21" fill="url(#cg)" opacity="0.70"/><circle cx="325.6" cy="138.1" r="1.23" fill="url(#cg)" opacity="0.76"/><circle cx="329.2" cy="138.0" r="1.20" fill="url(#cg)" opacity="0.66"/><circle cx="332.6" cy="137.7" r="1.21" fill="url(#cg)" opacity="0.69"/><circle cx="336.1" cy="137.8" r="1.23" fill="url(#cg)" opacity="0.74"/><circle cx="340.1" cy="137.7" r="1.26" fill="url(#cg)" opacity="0.82"/><circle cx="344.2" cy="137.6" r="1.23" fill="url(#cg)" opacity="0.74"/><circle cx="347.8" cy="137.2" r="1.23" fill="url(#cg)" opacity="0.75"/><circle cx="351.8" cy="137.4" r="1.24" fill="url(#cg)" opacity="0.78"/><circle cx="356.1" cy="137.1" r="1.28" fill="url(#cg)" opacity="0.87"/><circle cx="361.0" cy="137.4" r="1.27" fill="url(#cg)" opacity="0.85"/><circle cx="364.8" cy="137.1" r="1.27" fill="url(#cg)" opacity="0.87"/><circle cx="368.3" cy="137.0" r="1.31" fill="url(#cg)" opacity="0.96"/><circle cx="372.9" cy="137.2" r="1.27" fill="url(#cg)" opacity="0.85"/><circle cx="377.0" cy="137.0" r="1.28" fill="url(#cg)" opacity="0.87"/><circle cx="381.0" cy="137.0" r="1.28" fill="url(#cg)" opacity="0.89"/><circle cx="384.6" cy="137.0" r="1.27" fill="url(#cg)" opacity="0.87"/><circle cx="389.2" cy="137.3" r="1.27" fill="url(#cg)" opacity="0.85"/><circle cx="393.3" cy="137.3" r="1.26" fill="url(#cg)" opacity="0.82"/><circle cx="396.9" cy="137.5" r="1.28" fill="url(#cg)" opacity="0.88"/><circle cx="400.9" cy="137.4" r="1.24" fill="url(#cg)" opacity="0.76"/><circle cx="405.3" cy="137.5" r="1.26" fill="url(#cg)" opacity="0.82"/><circle cx="409.6" cy="137.7" r="1.25" fill="url(#cg)" opacity="0.80"/><circle cx="413.2" cy="137.5" r="1.24" fill="url(#cg)" opacity="0.79"/><circle cx="416.7" cy="137.9" r="1.23" fill="url(#cg)" opacity="0.73"/><circle cx="420.8" cy="137.9" r="1.24" fill="url(#cg)" opacity="0.76"/><circle cx="424.9" cy="138.3" r="1.21" fill="url(#cg)" opacity="0.68"/><circle cx="427.6" cy="138.2" r="1.16" fill="url(#cg)" opacity="0.56"/><circle cx="319.0" cy="141.5" r="1.18" fill="url(#cg)" opacity="0.61"/><circle cx="322.1" cy="141.4" r="1.21" fill="url(#cg)" opacity="0.68"/><circle cx="325.4" cy="141.2" r="1.19" fill="url(#cg)" opacity="0.64"/><circle cx="329.2" cy="140.8" r="1.23" fill="url(#cg)" opacity="0.75"/><circle cx="332.3" cy="140.8" r="1.24" fill="url(#cg)" opacity="0.78"/><circle cx="335.8" cy="140.9" r="1.24" fill="url(#cg)" opacity="0.78"/><circle cx="340.1" cy="140.7" r="1.24" fill="url(#cg)" opacity="0.78"/><circle cx="344.3" cy="140.6" r="1.24" fill="url(#cg)" opacity="0.78"/><circle cx="348.1" cy="140.3" r="1.27" fill="url(#cg)" opacity="0.84"/><circle cx="351.5" cy="140.3" r="1.24" fill="url(#cg)" opacity="0.77"/><circle cx="356.4" cy="140.3" r="1.28" fill="url(#cg)" opacity="0.87"/><circle cx="360.8" cy="140.3" r="1.28" fill="url(#cg)" opacity="0.87"/><circle cx="364.5" cy="140.2" r="1.28" fill="url(#cg)" opacity="0.89"/><circle cx="368.3" cy="140.3" r="1.26" fill="url(#cg)" opacity="0.84"/><circle cx="372.6" cy="140.4" r="1.30" fill="url(#cg)" opacity="0.94"/><circle cx="377.3" cy="140.2" r="1.28" fill="url(#cg)" opacity="0.88"/><circle cx="381.1" cy="140.3" r="1.27" fill="url(#cg)" opacity="0.86"/><circle cx="384.7" cy="140.2" r="1.29" fill="url(#cg)" opacity="0.92"/><circle cx="389.1" cy="140.1" r="1.28" fill="url(#cg)" opacity="0.88"/><circle cx="393.0" cy="140.4" r="1.24" fill="url(#cg)" opacity="0.76"/><circle cx="397.2" cy="140.4" r="1.27" fill="url(#cg)" opacity="0.84"/><circle cx="400.6" cy="140.5" r="1.24" fill="url(#cg)" opacity="0.78"/><circle cx="405.4" cy="140.7" r="1.22" fill="url(#cg)" opacity="0.70"/><circle cx="409.8" cy="140.5" r="1.25" fill="url(#cg)" opacity="0.80"/><circle cx="413.4" cy="140.6" r="1.22" fill="url(#cg)" opacity="0.72"/><circle cx="416.7" cy="141.0" r="1.23" fill="url(#cg)" opacity="0.74"/><circle cx="420.7" cy="141.2" r="1.19" fill="url(#cg)" opacity="0.63"/><circle cx="424.7" cy="141.4" r="1.18" fill="url(#cg)" opacity="0.60"/><circle cx="427.6" cy="141.4" r="1.16" fill="url(#cg)" opacity="0.55"/><circle cx="318.6" cy="144.6" r="1.16" fill="url(#cg)" opacity="0.56"/><circle cx="322.0" cy="144.2" r="1.21" fill="url(#cg)" opacity="0.69"/><circle cx="325.3" cy="144.3" r="1.20" fill="url(#cg)" opacity="0.68"/><circle cx="329.3" cy="144.2" r="1.21" fill="url(#cg)" opacity="0.70"/><circle cx="332.3" cy="144.1" r="1.21" fill="url(#cg)" opacity="0.69"/><circle cx="335.8" cy="144.0" r="1.24" fill="url(#cg)" opacity="0.77"/><circle cx="340.2" cy="143.8" r="1.22" fill="url(#cg)" opacity="0.71"/><circle cx="344.1" cy="143.7" r="1.26" fill="url(#cg)" opacity="0.83"/><circle cx="348.1" cy="143.4" r="1.25" fill="url(#cg)" opacity="0.81"/><circle cx="351.7" cy="143.4" r="1.23" fill="url(#cg)" opacity="0.75"/><circle cx="356.1" cy="143.3" r="1.26" fill="url(#cg)" opacity="0.82"/><circle cx="360.8" cy="143.2" r="1.26" fill="url(#cg)" opacity="0.84"/><circle cx="364.7" cy="143.3" r="1.25" fill="url(#cg)" opacity="0.79"/><circle cx="368.6" cy="143.2" r="1.29" fill="url(#cg)" opacity="0.91"/><circle cx="372.9" cy="143.1" r="1.27" fill="url(#cg)" opacity="0.87"/><circle cx="377.3" cy="143.2" r="1.27" fill="url(#cg)" opacity="0.86"/><circle cx="380.9" cy="143.1" r="1.25" fill="url(#cg)" opacity="0.80"/><circle cx="384.4" cy="143.2" r="1.27" fill="url(#cg)" opacity="0.85"/><circle cx="389.2" cy="143.5" r="1.27" fill="url(#cg)" opacity="0.85"/><circle cx="393.1" cy="143.6" r="1.26" fill="url(#cg)" opacity="0.83"/><circle cx="397.0" cy="143.6" r="1.26" fill="url(#cg)" opacity="0.82"/><circle cx="400.7" cy="143.6" r="1.23" fill="url(#cg)" opacity="0.75"/><circle cx="405.7" cy="143.6" r="1.26" fill="url(#cg)" opacity="0.82"/><circle cx="409.7" cy="143.6" r="1.23" fill="url(#cg)" opacity="0.74"/><circle cx="413.1" cy="143.9" r="1.20" fill="url(#cg)" opacity="0.65"/><circle cx="416.9" cy="144.1" r="1.22" fill="url(#cg)" opacity="0.71"/><circle cx="421.0" cy="144.4" r="1.21" fill="url(#cg)" opacity="0.69"/><circle cx="425.0" cy="144.1" r="1.17" fill="url(#cg)" opacity="0.57"/><circle cx="427.8" cy="144.7" r="1.15" fill="url(#cg)" opacity="0.54"/><circle cx="318.7" cy="147.9" r="1.15" fill="url(#cg)" opacity="0.53"/><circle cx="322.0" cy="148.0" r="1.20" fill="url(#cg)" opacity="0.66"/><circle cx="325.2" cy="147.7" r="1.18" fill="url(#cg)" opacity="0.59"/><circle cx="329.1" cy="147.5" r="1.22" fill="url(#cg)" opacity="0.72"/><circle cx="332.1" cy="147.7" r="1.21" fill="url(#cg)" opacity="0.68"/><circle cx="335.8" cy="147.6" r="1.21" fill="url(#cg)" opacity="0.69"/><circle cx="340.2" cy="147.1" r="1.24" fill="url(#cg)" opacity="0.77"/><circle cx="344.3" cy="147.0" r="1.24" fill="url(#cg)" opacity="0.78"/><circle cx="347.8" cy="146.9" r="1.23" fill="url(#cg)" opacity="0.74"/><circle cx="351.7" cy="147.2" r="1.27" fill="url(#cg)" opacity="0.85"/><circle cx="356.4" cy="147.0" r="1.26" fill="url(#cg)" opacity="0.81"/><circle cx="360.7" cy="146.9" r="1.26" fill="url(#cg)" opacity="0.81"/><circle cx="364.5" cy="147.0" r="1.24" fill="url(#cg)" opacity="0.78"/><circle cx="368.3" cy="146.6" r="1.24" fill="url(#cg)" opacity="0.77"/><circle cx="372.7" cy="146.9" r="1.24" fill="url(#cg)" opacity="0.78"/><circle cx="377.1" cy="146.8" r="1.26" fill="url(#cg)" opacity="0.83"/><circle cx="380.9" cy="146.8" r="1.23" fill="url(#cg)" opacity="0.75"/><circle cx="384.4" cy="146.8" r="1.24" fill="url(#cg)" opacity="0.77"/><circle cx="389.3" cy="146.8" r="1.27" fill="url(#cg)" opacity="0.84"/><circle cx="393.1" cy="146.8" r="1.24" fill="url(#cg)" opacity="0.78"/><circle cx="397.0" cy="147.0" r="1.25" fill="url(#cg)" opacity="0.80"/><circle cx="400.7" cy="147.2" r="1.25" fill="url(#cg)" opacity="0.80"/><circle cx="405.5" cy="147.2" r="1.25" fill="url(#cg)" opacity="0.79"/><circle cx="409.9" cy="147.2" r="1.19" fill="url(#cg)" opacity="0.64"/><circle cx="413.2" cy="147.4" r="1.19" fill="url(#cg)" opacity="0.63"/><circle cx="416.9" cy="147.6" r="1.19" fill="url(#cg)" opacity="0.64"/><circle cx="420.9" cy="148.0" r="1.18" fill="url(#cg)" opacity="0.61"/><circle cx="424.8" cy="147.9" r="1.17" fill="url(#cg)" opacity="0.59"/><circle cx="428.0" cy="148.2" r="1.15" fill="url(#cg)" opacity="0.53"/><circle cx="318.5" cy="151.3" r="1.13" fill="url(#cg)" opacity="0.48"/><circle cx="321.9" cy="151.4" r="1.16" fill="url(#cg)" opacity="0.55"/><circle cx="325.4" cy="151.0" r="1.18" fill="url(#cg)" opacity="0.62"/><circle cx="328.9" cy="150.9" r="1.20" fill="url(#cg)" opacity="0.68"/><circle cx="332.3" cy="150.9" r="1.18" fill="url(#cg)" opacity="0.61"/><circle cx="335.9" cy="150.8" r="1.21" fill="url(#cg)" opacity="0.70"/><circle cx="339.9" cy="150.8" r="1.19" fill="url(#cg)" opacity="0.63"/><circle cx="343.9" cy="150.5" r="1.21" fill="url(#cg)" opacity="0.68"/><circle cx="347.7" cy="150.5" r="1.25" fill="url(#cg)" opacity="0.81"/><circle cx="351.6" cy="150.2" r="1.24" fill="url(#cg)" opacity="0.78"/><circle cx="356.1" cy="150.2" r="1.25" fill="url(#cg)" opacity="0.79"/><circle cx="360.8" cy="150.1" r="1.22" fill="url(#cg)" opacity="0.72"/><circle cx="364.6" cy="150.4" r="1.27" fill="url(#cg)" opacity="0.85"/><circle cx="368.3" cy="150.1" r="1.25" fill="url(#cg)" opacity="0.80"/><circle cx="372.6" cy="150.2" r="1.25" fill="url(#cg)" opacity="0.80"/><circle cx="377.3" cy="150.0" r="1.27" fill="url(#cg)" opacity="0.86"/><circle cx="381.1" cy="150.1" r="1.23" fill="url(#cg)" opacity="0.74"/><circle cx="384.6" cy="150.0" r="1.25" fill="url(#cg)" opacity="0.81"/><circle cx="389.3" cy="150.3" r="1.26" fill="url(#cg)" opacity="0.84"/><circle cx="393.0" cy="150.4" r="1.25" fill="url(#cg)" opacity="0.80"/><circle cx="396.9" cy="150.3" r="1.21" fill="url(#cg)" opacity="0.68"/><circle cx="400.9" cy="150.6" r="1.22" fill="url(#cg)" opacity="0.71"/><circle cx="405.7" cy="150.6" r="1.23" fill="url(#cg)" opacity="0.74"/><circle cx="409.8" cy="150.9" r="1.20" fill="url(#cg)" opacity="0.68"/><circle cx="413.2" cy="150.7" r="1.21" fill="url(#cg)" opacity="0.70"/><circle cx="417.1" cy="151.1" r="1.18" fill="url(#cg)" opacity="0.60"/><circle cx="421.1" cy="151.3" r="1.17" fill="url(#cg)" opacity="0.57"/><circle cx="425.0" cy="151.4" r="1.15" fill="url(#cg)" opacity="0.53"/><circle cx="427.8" cy="151.5" r="1.17" fill="url(#cg)" opacity="0.57"/></g>
<g filter="url(#bl2)">
<ellipse cx="166.2" cy="35.2" rx="1.80" ry="2.00" fill="url(#dg)" opacity="0.79"/><ellipse cx="166.2" cy="35.2" rx="0.99" ry="1.10" fill="url(#cg)" opacity="0.34"/>
<ellipse cx="169.6" cy="35.2" rx="1.80" ry="2.00" fill="url(#dg)" opacity="0.84"/><ellipse cx="169.6" cy="35.2" rx="0.99" ry="1.10" fill="url(#cg)" opacity="0.50"/>
<ellipse cx="173.1" cy="35.2" rx="1.80" ry="2.00" fill="url(#dg)" opacity="0.84"/><ellipse cx="173.1" cy="35.2" rx="0.99" ry="1.10" fill="url(#cg)" opacity="0.50"/>
<ellipse cx="176.6" cy="35.2" rx="1.80" ry="2.00" fill="url(#dg)" opacity="0.86"/><ellipse cx="176.6" cy="35.2" rx="0.99" ry="1.10" fill="url(#cg)" opacity="0.56"/>
<ellipse cx="179.9" cy="35.2" rx="1.80" ry="2.00" fill="url(#dg)" opacity="0.87"/><ellipse cx="179.9" cy="35.2" rx="0.99" ry="1.10" fill="url(#cg)" opacity="0.59"/>
<ellipse cx="182.9" cy="34.8" rx="1.80" ry="2.00" fill="url(#dg)" opacity="0.89"/><ellipse cx="182.9" cy="34.8" rx="0.99" ry="1.10" fill="url(#cg)" opacity="0.63"/>
<ellipse cx="186.8" cy="35.0" rx="1.80" ry="2.00" fill="url(#dg)" opacity="0.89"/><ellipse cx="186.8" cy="35.0" rx="0.99" ry="1.10" fill="url(#cg)" opacity="0.63"/>
<ellipse cx="190.7" cy="34.9" rx="1.80" ry="2.00" fill="url(#dg)" opacity="0.91"/><ellipse cx="190.7" cy="34.9" rx="0.99" ry="1.10" fill="url(#cg)" opacity="0.70"/>
<ellipse cx="194.3" cy="35.0" rx="1.80" ry="2.00" fill="url(#dg)" opacity="0.90"/><ellipse cx="194.3" cy="35.0" rx="0.99" ry="1.10" fill="url(#cg)" opacity="0.67"/>
<ellipse cx="198.2" cy="34.9" rx="1.80" ry="2.00" fill="url(#dg)" opacity="0.94"/><ellipse cx="198.2" cy="34.9" rx="0.99" ry="1.10" fill="url(#cg)" opacity="0.77"/>
<ellipse cx="202.0" cy="35.0" rx="1.80" ry="2.00" fill="url(#dg)" opacity="0.94"/><ellipse cx="202.0" cy="35.0" rx="0.99" ry="1.10" fill="url(#cg)" opacity="0.77"/>
<ellipse cx="206.5" cy="35.1" rx="1.80" ry="2.00" fill="url(#dg)" opacity="0.93"/><ellipse cx="206.5" cy="35.1" rx="0.99" ry="1.10" fill="url(#cg)" opacity="0.74"/>
<ellipse cx="210.4" cy="35.0" rx="1.80" ry="2.00" fill="url(#dg)" opacity="0.94"/><ellipse cx="210.4" cy="35.0" rx="0.99" ry="1.10" fill="url(#cg)" opacity="0.77"/>
<ellipse cx="214.3" cy="35.1" rx="1.80" ry="2.00" fill="url(#dg)" opacity="0.98"/><ellipse cx="214.3" cy="35.1" rx="0.99" ry="1.10" fill="url(#cg)" opacity="0.88"/>
<ellipse cx="218.2" cy="35.1" rx="1.80" ry="2.00" fill="url(#dg)" opacity="0.96"/><ellipse cx="218.2" cy="35.1" rx="0.99" ry="1.10" fill="url(#cg)" opacity="0.84"/>
<ellipse cx="222.3" cy="34.9" rx="1.80" ry="2.00" fill="url(#dg)" opacity="0.99"/><ellipse cx="222.3" cy="34.9" rx="0.99" ry="1.10" fill="url(#cg)" opacity="0.93"/>
<ellipse cx="226.4" cy="35.0" rx="1.80" ry="2.00" fill="url(#dg)" opacity="0.95"/><ellipse cx="226.4" cy="35.0" rx="0.99" ry="1.10" fill="url(#cg)" opacity="0.80"/>
<ellipse cx="230.4" cy="34.9" rx="1.80" ry="2.00" fill="url(#dg)" opacity="0.94"/><ellipse cx="230.4" cy="34.9" rx="0.99" ry="1.10" fill="url(#cg)" opacity="0.79"/>
<ellipse cx="234.5" cy="35.1" rx="1.80" ry="2.00" fill="url(#dg)" opacity="0.97"/><ellipse cx="234.5" cy="35.1" rx="0.99" ry="1.10" fill="url(#cg)" opacity="0.86"/>
<ellipse cx="238.7" cy="35.0" rx="1.80" ry="2.00" fill="url(#dg)" opacity="0.95"/><ellipse cx="238.7" cy="35.0" rx="0.99" ry="1.10" fill="url(#cg)" opacity="0.82"/>
<ellipse cx="242.6" cy="34.9" rx="1.80" ry="2.00" fill="url(#dg)" opacity="0.92"/><ellipse cx="242.6" cy="34.9" rx="0.99" ry="1.10" fill="url(#cg)" opacity="0.73"/>
<ellipse cx="246.7" cy="34.9" rx="1.80" ry="2.00" fill="url(#dg)" opacity="0.90"/><ellipse cx="246.7" cy="34.9" rx="0.99" ry="1.10" fill="url(#cg)" opacity="0.66"/>
<ellipse cx="250.7" cy="34.9" rx="1.80" ry="2.00" fill="url(#dg)" opacity="0.92"/><ellipse cx="250.7" cy="34.9" rx="0.99" ry="1.10" fill="url(#cg)" opacity="0.72"/>
<ellipse cx="254.8" cy="35.1" rx="1.80" ry="2.00" fill="url(#dg)" opacity="0.86"/><ellipse cx="254.8" cy="35.1" rx="0.99" ry="1.10" fill="url(#cg)" opacity="0.55"/>
<ellipse cx="258.2" cy="34.9" rx="1.80" ry="2.00" fill="url(#dg)" opacity="0.89"/><ellipse cx="258.2" cy="34.9" rx="0.99" ry="1.10" fill="url(#cg)" opacity="0.64"/>
<ellipse cx="261.4" cy="35.1" rx="1.80" ry="2.00" fill="url(#dg)" opacity="0.87"/><ellipse cx="261.4" cy="35.1" rx="0.99" ry="1.10" fill="url(#cg)" opacity="0.57"/>
<ellipse cx="264.6" cy="35.1" rx="1.80" ry="2.00" fill="url(#dg)" opacity="0.85"/><ellipse cx="264.6" cy="35.1" rx="0.99" ry="1.10" fill="url(#cg)" opacity="0.52"/>
<ellipse cx="268.5" cy="34.9" rx="1.80" ry="2.00" fill="url(#dg)" opacity="0.78"/><ellipse cx="268.5" cy="34.9" rx="0.99" ry="1.10" fill="url(#cg)" opacity="0.33"/>
<ellipse cx="271.8" cy="34.9" rx="1.80" ry="2.00" fill="url(#dg)" opacity="0.76"/><ellipse cx="271.8" cy="34.9" rx="0.99" ry="1.10" fill="url(#cg)" opacity="0.27"/>
<ellipse cx="166.5" cy="148.4" rx="1.80" ry="3.20" fill="url(#dg)" opacity="0.89" transform="rotate(12 166.5 148.4)"/><ellipse cx="166.5" cy="148.4" rx="0.99" ry="1.76" fill="url(#cg)" opacity="0.64" transform="rotate(12 166.5 148.4)"/>
<ellipse cx="170.6" cy="148.3" rx="1.80" ry="3.20" fill="url(#dg)" opacity="0.94" transform="rotate(12 170.6 148.3)"/><ellipse cx="170.6" cy="148.3" rx="0.99" ry="1.76" fill="url(#cg)" opacity="0.77" transform="rotate(12 170.6 148.3)"/>
<ellipse cx="174.6" cy="148.4" rx="1.80" ry="3.20" fill="url(#dg)" opacity="0.86" transform="rotate(12 174.6 148.4)"/><ellipse cx="174.6" cy="148.4" rx="0.99" ry="1.76" fill="url(#cg)" opacity="0.56" transform="rotate(12 174.6 148.4)"/>
<ellipse cx="178.7" cy="148.2" rx="1.80" ry="3.20" fill="url(#dg)" opacity="0.85" transform="rotate(12 178.7 148.2)"/><ellipse cx="178.7" cy="148.2" rx="0.99" ry="1.76" fill="url(#cg)" opacity="0.52" transform="rotate(12 178.7 148.2)"/>
<ellipse cx="182.7" cy="148.5" rx="1.80" ry="3.20" fill="url(#dg)" opacity="0.91" transform="rotate(12 182.7 148.5)"/><ellipse cx="182.7" cy="148.5" rx="0.99" ry="1.76" fill="url(#cg)" opacity="0.70" transform="rotate(12 182.7 148.5)"/>
<ellipse cx="186.8" cy="148.4" rx="1.80" ry="3.20" fill="url(#dg)" opacity="0.88" transform="rotate(12 186.8 148.4)"/><ellipse cx="186.8" cy="148.4" rx="0.99" ry="1.76" fill="url(#cg)" opacity="0.60" transform="rotate(12 186.8 148.4)"/>
<ellipse cx="190.8" cy="148.3" rx="1.80" ry="3.20" fill="url(#dg)" opacity="0.89" transform="rotate(12 190.8 148.3)"/><ellipse cx="190.8" cy="148.3" rx="0.99" ry="1.76" fill="url(#cg)" opacity="0.63" transform="rotate(12 190.8 148.3)"/>
<ellipse cx="194.9" cy="148.5" rx="1.80" ry="3.20" fill="url(#dg)" opacity="0.93" transform="rotate(12 194.9 148.5)"/><ellipse cx="194.9" cy="148.5" rx="0.99" ry="1.76" fill="url(#cg)" opacity="0.75" transform="rotate(12 194.9 148.5)"/>
<ellipse cx="199.0" cy="148.6" rx="1.80" ry="3.20" fill="url(#dg)" opacity="0.93" transform="rotate(12 199.0 148.6)"/><ellipse cx="199.0" cy="148.6" rx="0.99" ry="1.76" fill="url(#cg)" opacity="0.74" transform="rotate(12 199.0 148.6)"/>
<ellipse cx="203.0" cy="148.4" rx="1.80" ry="3.20" fill="url(#dg)" opacity="0.88" transform="rotate(12 203.0 148.4)"/><ellipse cx="203.0" cy="148.4" rx="0.99" ry="1.76" fill="url(#cg)" opacity="0.61" transform="rotate(12 203.0 148.4)"/>
<ellipse cx="207.1" cy="148.4" rx="1.80" ry="3.20" fill="url(#dg)" opacity="0.94" transform="rotate(12 207.1 148.4)"/><ellipse cx="207.1" cy="148.4" rx="0.99" ry="1.76" fill="url(#cg)" opacity="0.77" transform="rotate(12 207.1 148.4)"/>
<ellipse cx="211.1" cy="148.4" rx="1.80" ry="3.20" fill="url(#dg)" opacity="0.86" transform="rotate(12 211.1 148.4)"/><ellipse cx="211.1" cy="148.4" rx="0.99" ry="1.76" fill="url(#cg)" opacity="0.54" transform="rotate(12 211.1 148.4)"/>
<ellipse cx="215.2" cy="148.4" rx="1.80" ry="3.20" fill="url(#dg)" opacity="0.93" transform="rotate(12 215.2 148.4)"/><ellipse cx="215.2" cy="148.4" rx="0.99" ry="1.76" fill="url(#cg)" opacity="0.76" transform="rotate(12 215.2 148.4)"/>
<ellipse cx="219.2" cy="148.6" rx="1.80" ry="3.20" fill="url(#dg)" opacity="0.87" transform="rotate(12 219.2 148.6)"/><ellipse cx="219.2" cy="148.6" rx="0.99" ry="1.76" fill="url(#cg)" opacity="0.59" transform="rotate(12 219.2 148.6)"/>
<ellipse cx="223.3" cy="148.6" rx="1.80" ry="3.20" fill="url(#dg)" opacity="0.93" transform="rotate(12 223.3 148.6)"/><ellipse cx="223.3" cy="148.6" rx="0.99" ry="1.76" fill="url(#cg)" opacity="0.75" transform="rotate(12 223.3 148.6)"/>
<ellipse cx="227.4" cy="148.5" rx="1.80" ry="3.20" fill="url(#dg)" opacity="0.86" transform="rotate(12 227.4 148.5)"/><ellipse cx="227.4" cy="148.5" rx="0.99" ry="1.76" fill="url(#cg)" opacity="0.55" transform="rotate(12 227.4 148.5)"/>
<ellipse cx="231.4" cy="148.6" rx="1.80" ry="3.20" fill="url(#dg)" opacity="0.88" transform="rotate(12 231.4 148.6)"/><ellipse cx="231.4" cy="148.6" rx="0.99" ry="1.76" fill="url(#cg)" opacity="0.60" transform="rotate(12 231.4 148.6)"/>
<ellipse cx="235.5" cy="148.3" rx="1.80" ry="3.20" fill="url(#dg)" opacity="0.93" transform="rotate(12 235.5 148.3)"/><ellipse cx="235.5" cy="148.3" rx="0.99" ry="1.76" fill="url(#cg)" opacity="0.75" transform="rotate(12 235.5 148.3)"/>
<ellipse cx="239.5" cy="148.4" rx="1.80" ry="3.20" fill="url(#dg)" opacity="0.88" transform="rotate(12 239.5 148.4)"/><ellipse cx="239.5" cy="148.4" rx="0.99" ry="1.76" fill="url(#cg)" opacity="0.61" transform="rotate(12 239.5 148.4)"/>
<ellipse cx="243.6" cy="148.5" rx="1.80" ry="3.20" fill="url(#dg)" opacity="0.87" transform="rotate(12 243.6 148.5)"/><ellipse cx="243.6" cy="148.5" rx="0.99" ry="1.76" fill="url(#cg)" opacity="0.57" transform="rotate(12 243.6 148.5)"/>
<ellipse cx="247.6" cy="148.2" rx="1.80" ry="3.20" fill="url(#dg)" opacity="0.88" transform="rotate(12 247.6 148.2)"/><ellipse cx="247.6" cy="148.2" rx="0.99" ry="1.76" fill="url(#cg)" opacity="0.60" transform="rotate(12 247.6 148.2)"/>
<ellipse cx="251.7" cy="148.3" rx="1.80" ry="3.20" fill="url(#dg)" opacity="0.84" transform="rotate(12 251.7 148.3)"/><ellipse cx="251.7" cy="148.3" rx="0.99" ry="1.76" fill="url(#cg)" opacity="0.50" transform="rotate(12 251.7 148.3)"/>
<ellipse cx="255.8" cy="148.3" rx="1.80" ry="3.20" fill="url(#dg)" opacity="0.92" transform="rotate(12 255.8 148.3)"/><ellipse cx="255.8" cy="148.3" rx="0.99" ry="1.76" fill="url(#cg)" opacity="0.71" transform="rotate(12 255.8 148.3)"/>
<ellipse cx="259.8" cy="148.2" rx="1.80" ry="3.20" fill="url(#dg)" opacity="0.91" transform="rotate(12 259.8 148.2)"/><ellipse cx="259.8" cy="148.2" rx="0.99" ry="1.76" fill="url(#cg)" opacity="0.69" transform="rotate(12 259.8 148.2)"/>
<ellipse cx="263.9" cy="148.3" rx="1.80" ry="3.20" fill="url(#dg)" opacity="0.86" transform="rotate(12 263.9 148.3)"/><ellipse cx="263.9" cy="148.3" rx="0.99" ry="1.76" fill="url(#cg)" opacity="0.55" transform="rotate(12 263.9 148.3)"/>
<ellipse cx="267.9" cy="148.0" rx="1.80" ry="3.20" fill="url(#dg)" opacity="0.91" transform="rotate(12 267.9 148.0)"/><ellipse cx="267.9" cy="148.0" rx="0.99" ry="1.76" fill="url(#cg)" opacity="0.69" transform="rotate(12 267.9 148.0)"/>
<ellipse cx="272.0" cy="148.2" rx="1.80" ry="3.20" fill="url(#dg)" opacity="0.87" transform="rotate(12 272.0 148.2)"/><ellipse cx="272.0" cy="148.2" rx="0.99" ry="1.76" fill="url(#cg)" opacity="0.58" transform="rotate(12 272.0 148.2)"/>
<ellipse cx="166.1" cy="39.0" rx="1.90" ry="2.50" fill="url(#dg)" opacity="0.83" transform="rotate(25 166.1 39.0)"/><ellipse cx="166.1" cy="39.0" rx="1.04" ry="1.38" fill="url(#cg)" opacity="0.47" transform="rotate(25 166.1 39.0)"/>
<ellipse cx="166.5" cy="43.1" rx="1.90" ry="2.50" fill="url(#dg)" opacity="0.79" transform="rotate(25 166.5 43.1)"/><ellipse cx="166.5" cy="43.1" rx="1.04" ry="1.38" fill="url(#cg)" opacity="0.35" transform="rotate(25 166.5 43.1)"/>
<ellipse cx="166.4" cy="47.1" rx="1.90" ry="2.50" fill="url(#dg)" opacity="0.82" transform="rotate(25 166.4 47.1)"/><ellipse cx="166.4" cy="47.1" rx="1.04" ry="1.38" fill="url(#cg)" opacity="0.44" transform="rotate(25 166.4 47.1)"/>
<ellipse cx="166.4" cy="51.2" rx="1.90" ry="2.50" fill="url(#dg)" opacity="0.78" transform="rotate(25 166.4 51.2)"/><ellipse cx="166.4" cy="51.2" rx="1.04" ry="1.38" fill="url(#cg)" opacity="0.33" transform="rotate(25 166.4 51.2)"/>
<ellipse cx="166.4" cy="55.2" rx="1.90" ry="2.50" fill="url(#dg)" opacity="0.84" transform="rotate(25 166.4 55.2)"/><ellipse cx="166.4" cy="55.2" rx="1.04" ry="1.38" fill="url(#cg)" opacity="0.48" transform="rotate(25 166.4 55.2)"/>
<ellipse cx="166.6" cy="59.3" rx="1.90" ry="2.50" fill="url(#dg)" opacity="0.83" transform="rotate(25 166.6 59.3)"/><ellipse cx="166.6" cy="59.3" rx="1.04" ry="1.38" fill="url(#cg)" opacity="0.47" transform="rotate(25 166.6 59.3)"/>
<ellipse cx="166.4" cy="63.3" rx="1.90" ry="2.50" fill="url(#dg)" opacity="0.81" transform="rotate(25 166.4 63.3)"/><ellipse cx="166.4" cy="63.3" rx="1.04" ry="1.38" fill="url(#cg)" opacity="0.41" transform="rotate(25 166.4 63.3)"/>
<ellipse cx="166.6" cy="67.3" rx="1.90" ry="2.50" fill="url(#dg)" opacity="0.83" transform="rotate(25 166.6 67.3)"/><ellipse cx="166.6" cy="67.3" rx="1.04" ry="1.38" fill="url(#cg)" opacity="0.47" transform="rotate(25 166.6 67.3)"/>
<ellipse cx="166.7" cy="71.4" rx="1.90" ry="2.50" fill="url(#dg)" opacity="0.88" transform="rotate(25 166.7 71.4)"/><ellipse cx="166.7" cy="71.4" rx="1.04" ry="1.38" fill="url(#cg)" opacity="0.60" transform="rotate(25 166.7 71.4)"/>
<ellipse cx="166.6" cy="75.4" rx="1.90" ry="2.50" fill="url(#dg)" opacity="0.89" transform="rotate(25 166.6 75.4)"/><ellipse cx="166.6" cy="75.4" rx="1.04" ry="1.38" fill="url(#cg)" opacity="0.63" transform="rotate(25 166.6 75.4)"/>
<ellipse cx="166.7" cy="79.5" rx="1.90" ry="2.50" fill="url(#dg)" opacity="0.88" transform="rotate(25 166.7 79.5)"/><ellipse cx="166.7" cy="79.5" rx="1.04" ry="1.38" fill="url(#cg)" opacity="0.62" transform="rotate(25 166.7 79.5)"/>
<ellipse cx="166.7" cy="83.5" rx="1.90" ry="2.50" fill="url(#dg)" opacity="0.87" transform="rotate(25 166.7 83.5)"/><ellipse cx="166.7" cy="83.5" rx="1.04" ry="1.38" fill="url(#cg)" opacity="0.57" transform="rotate(25 166.7 83.5)"/>
<ellipse cx="166.8" cy="87.6" rx="1.90" ry="2.50" fill="url(#dg)" opacity="0.83" transform="rotate(25 166.8 87.6)"/><ellipse cx="166.8" cy="87.6" rx="1.04" ry="1.38" fill="url(#cg)" opacity="0.46" transform="rotate(25 166.8 87.6)"/>
<ellipse cx="167.0" cy="91.6" rx="1.90" ry="2.50" fill="url(#dg)" opacity="0.89" transform="rotate(25 167.0 91.6)"/><ellipse cx="167.0" cy="91.6" rx="1.04" ry="1.38" fill="url(#cg)" opacity="0.65" transform="rotate(25 167.0 91.6)"/>
<ellipse cx="166.7" cy="95.6" rx="1.90" ry="2.50" fill="url(#dg)" opacity="0.90" transform="rotate(25 166.7 95.6)"/><ellipse cx="166.7" cy="95.6" rx="1.04" ry="1.38" fill="url(#cg)" opacity="0.66" transform="rotate(25 166.7 95.6)"/>
<ellipse cx="166.8" cy="99.7" rx="1.90" ry="2.50" fill="url(#dg)" opacity="0.92" transform="rotate(25 166.8 99.7)"/><ellipse cx="166.8" cy="99.7" rx="1.04" ry="1.38" fill="url(#cg)" opacity="0.72" transform="rotate(25 166.8 99.7)"/>
<ellipse cx="166.6" cy="103.7" rx="1.90" ry="2.50" fill="url(#dg)" opacity="0.88" transform="rotate(25 166.6 103.7)"/><ellipse cx="166.6" cy="103.7" rx="1.04" ry="1.38" fill="url(#cg)" opacity="0.59" transform="rotate(25 166.6 103.7)"/>
<ellipse cx="166.7" cy="107.8" rx="1.90" ry="2.50" fill="url(#dg)" opacity="0.90" transform="rotate(25 166.7 107.8)"/><ellipse cx="166.7" cy="107.8" rx="1.04" ry="1.38" fill="url(#cg)" opacity="0.66" transform="rotate(25 166.7 107.8)"/>
<ellipse cx="167.0" cy="111.8" rx="1.90" ry="2.50" fill="url(#dg)" opacity="0.92" transform="rotate(25 167.0 111.8)"/><ellipse cx="167.0" cy="111.8" rx="1.04" ry="1.38" fill="url(#cg)" opacity="0.73" transform="rotate(25 167.0 111.8)"/>
<ellipse cx="166.8" cy="115.9" rx="1.90" ry="2.50" fill="url(#dg)" opacity="0.89" transform="rotate(25 166.8 115.9)"/><ellipse cx="166.8" cy="115.9" rx="1.04" ry="1.38" fill="url(#cg)" opacity="0.64" transform="rotate(25 166.8 115.9)"/>
<ellipse cx="166.9" cy="119.9" rx="1.90" ry="2.50" fill="url(#dg)" opacity="0.87" transform="rotate(25 166.9 119.9)"/><ellipse cx="166.9" cy="119.9" rx="1.04" ry="1.38" fill="url(#cg)" opacity="0.59" transform="rotate(25 166.9 119.9)"/>
<ellipse cx="166.6" cy="123.9" rx="1.90" ry="2.50" fill="url(#dg)" opacity="0.93" transform="rotate(25 166.6 123.9)"/><ellipse cx="166.6" cy="123.9" rx="1.04" ry="1.38" fill="url(#cg)" opacity="0.75" transform="rotate(25 166.6 123.9)"/>
<ellipse cx="166.7" cy="128.0" rx="1.90" ry="2.50" fill="url(#dg)" opacity="0.95" transform="rotate(25 166.7 128.0)"/><ellipse cx="166.7" cy="128.0" rx="1.04" ry="1.38" fill="url(#cg)" opacity="0.82" transform="rotate(25 166.7 128.0)"/>
<ellipse cx="166.5" cy="132.0" rx="1.90" ry="2.50" fill="url(#dg)" opacity="0.92" transform="rotate(25 166.5 132.0)"/><ellipse cx="166.5" cy="132.0" rx="1.04" ry="1.38" fill="url(#cg)" opacity="0.71" transform="rotate(25 166.5 132.0)"/>
<ellipse cx="166.5" cy="136.1" rx="1.90" ry="2.50" fill="url(#dg)" opacity="0.89" transform="rotate(25 166.5 136.1)"/><ellipse cx="166.5" cy="136.1" rx="1.04" ry="1.38" fill="url(#cg)" opacity="0.62" transform="rotate(25 166.5 136.1)"/>
<ellipse cx="166.4" cy="140.1" rx="1.90" ry="2.50" fill="url(#dg)" opacity="0.90" transform="rotate(25 166.4 140.1)"/><ellipse cx="166.4" cy="140.1" rx="1.04" ry="1.38" fill="url(#cg)" opacity="0.66" transform="rotate(25 166.4 140.1)"/>
<ellipse cx="166.5" cy="144.2" rx="1.90" ry="2.50" fill="url(#dg)" opacity="0.93" transform="rotate(25 166.5 144.2)"/><ellipse cx="166.5" cy="144.2" rx="1.04" ry="1.38" fill="url(#cg)" opacity="0.75" transform="rotate(25 166.5 144.2)"/>
<ellipse cx="271.9" cy="39.0" rx="2.00" ry="2.70" fill="url(#dg)" opacity="0.85" transform="rotate(10 271.9 39.0)"/><ellipse cx="271.9" cy="39.0" rx="1.10" ry="1.49" fill="url(#cg)" opacity="0.52" transform="rotate(10 271.9 39.0)"/>
<ellipse cx="272.1" cy="43.1" rx="2.00" ry="2.70" fill="url(#dg)" opacity="0.87" transform="rotate(10 272.1 43.1)"/><ellipse cx="272.1" cy="43.1" rx="1.10" ry="1.49" fill="url(#cg)" opacity="0.59" transform="rotate(10 272.1 43.1)"/>
<ellipse cx="272.3" cy="47.1" rx="2.00" ry="2.70" fill="url(#dg)" opacity="0.85" transform="rotate(10 272.3 47.1)"/><ellipse cx="272.3" cy="47.1" rx="1.10" ry="1.49" fill="url(#cg)" opacity="0.51" transform="rotate(10 272.3 47.1)"/>
<ellipse cx="272.2" cy="51.2" rx="2.00" ry="2.70" fill="url(#dg)" opacity="0.88" transform="rotate(10 272.2 51.2)"/><ellipse cx="272.2" cy="51.2" rx="1.10" ry="1.49" fill="url(#cg)" opacity="0.60" transform="rotate(10 272.2 51.2)"/>
<ellipse cx="272.2" cy="55.2" rx="2.00" ry="2.70" fill="url(#dg)" opacity="0.91" transform="rotate(10 272.2 55.2)"/><ellipse cx="272.2" cy="55.2" rx="1.10" ry="1.49" fill="url(#cg)" opacity="0.70" transform="rotate(10 272.2 55.2)"/>
<ellipse cx="272.2" cy="59.3" rx="2.00" ry="2.70" fill="url(#dg)" opacity="0.92" transform="rotate(10 272.2 59.3)"/><ellipse cx="272.2" cy="59.3" rx="1.10" ry="1.49" fill="url(#cg)" opacity="0.72" transform="rotate(10 272.2 59.3)"/>
<ellipse cx="272.3" cy="63.3" rx="2.00" ry="2.70" fill="url(#dg)" opacity="0.87" transform="rotate(10 272.3 63.3)"/><ellipse cx="272.3" cy="63.3" rx="1.10" ry="1.49" fill="url(#cg)" opacity="0.59" transform="rotate(10 272.3 63.3)"/>
<ellipse cx="272.5" cy="67.3" rx="2.00" ry="2.70" fill="url(#dg)" opacity="0.90" transform="rotate(10 272.5 67.3)"/><ellipse cx="272.5" cy="67.3" rx="1.10" ry="1.49" fill="url(#cg)" opacity="0.66" transform="rotate(10 272.5 67.3)"/>
<ellipse cx="272.4" cy="71.4" rx="2.00" ry="2.70" fill="url(#dg)" opacity="0.86" transform="rotate(10 272.4 71.4)"/><ellipse cx="272.4" cy="71.4" rx="1.10" ry="1.49" fill="url(#cg)" opacity="0.55" transform="rotate(10 272.4 71.4)"/>
<ellipse cx="272.8" cy="75.4" rx="2.00" ry="2.70" fill="url(#dg)" opacity="0.89" transform="rotate(10 272.8 75.4)"/><ellipse cx="272.8" cy="75.4" rx="1.10" ry="1.49" fill="url(#cg)" opacity="0.63" transform="rotate(10 272.8 75.4)"/>
<ellipse cx="272.4" cy="79.5" rx="2.00" ry="2.70" fill="url(#dg)" opacity="0.92" transform="rotate(10 272.4 79.5)"/><ellipse cx="272.4" cy="79.5" rx="1.10" ry="1.49" fill="url(#cg)" opacity="0.71" transform="rotate(10 272.4 79.5)"/>
<ellipse cx="272.7" cy="83.5" rx="2.00" ry="2.70" fill="url(#dg)" opacity="0.89" transform="rotate(10 272.7 83.5)"/><ellipse cx="272.7" cy="83.5" rx="1.10" ry="1.49" fill="url(#cg)" opacity="0.64" transform="rotate(10 272.7 83.5)"/>
<ellipse cx="272.6" cy="87.6" rx="2.00" ry="2.70" fill="url(#dg)" opacity="0.94" transform="rotate(10 272.6 87.6)"/><ellipse cx="272.6" cy="87.6" rx="1.10" ry="1.49" fill="url(#cg)" opacity="0.78" transform="rotate(10 272.6 87.6)"/>
<ellipse cx="272.6" cy="91.6" rx="2.00" ry="2.70" fill="url(#dg)" opacity="0.91" transform="rotate(10 272.6 91.6)"/><ellipse cx="272.6" cy="91.6" rx="1.10" ry="1.49" fill="url(#cg)" opacity="0.68" transform="rotate(10 272.6 91.6)"/>
<ellipse cx="272.9" cy="95.6" rx="2.00" ry="2.70" fill="url(#dg)" opacity="0.91" transform="rotate(10 272.9 95.6)"/><ellipse cx="272.9" cy="95.6" rx="1.10" ry="1.49" fill="url(#cg)" opacity="0.68" transform="rotate(10 272.9 95.6)"/>
<ellipse cx="272.6" cy="99.7" rx="2.00" ry="2.70" fill="url(#dg)" opacity="0.89" transform="rotate(10 272.6 99.7)"/><ellipse cx="272.6" cy="99.7" rx="1.10" ry="1.49" fill="url(#cg)" opacity="0.64" transform="rotate(10 272.6 99.7)"/>
<ellipse cx="272.7" cy="103.7" rx="2.00" ry="2.70" fill="url(#dg)" opacity="0.94" transform="rotate(10 272.7 103.7)"/><ellipse cx="272.7" cy="103.7" rx="1.10" ry="1.49" fill="url(#cg)" opacity="0.78" transform="rotate(10 272.7 103.7)"/>
<ellipse cx="272.6" cy="107.8" rx="2.00" ry="2.70" fill="url(#dg)" opacity="0.92" transform="rotate(10 272.6 107.8)"/><ellipse cx="272.6" cy="107.8" rx="1.10" ry="1.49" fill="url(#cg)" opacity="0.72" transform="rotate(10 272.6 107.8)"/>
<ellipse cx="272.5" cy="111.8" rx="2.00" ry="2.70" fill="url(#dg)" opacity="0.96" transform="rotate(10 272.5 111.8)"/><ellipse cx="272.5" cy="111.8" rx="1.10" ry="1.49" fill="url(#cg)" opacity="0.83" transform="rotate(10 272.5 111.8)"/>
<ellipse cx="272.5" cy="115.9" rx="2.00" ry="2.70" fill="url(#dg)" opacity="0.96" transform="rotate(10 272.5 115.9)"/><ellipse cx="272.5" cy="115.9" rx="1.10" ry="1.49" fill="url(#cg)" opacity="0.85" transform="rotate(10 272.5 115.9)"/>
<ellipse cx="272.4" cy="119.9" rx="2.00" ry="2.70" fill="url(#dg)" opacity="0.96" transform="rotate(10 272.4 119.9)"/><ellipse cx="272.4" cy="119.9" rx="1.10" ry="1.49" fill="url(#cg)" opacity="0.83" transform="rotate(10 272.4 119.9)"/>
<ellipse cx="272.2" cy="123.9" rx="2.00" ry="2.70" fill="url(#dg)" opacity="0.92" transform="rotate(10 272.2 123.9)"/><ellipse cx="272.2" cy="123.9" rx="1.10" ry="1.49" fill="url(#cg)" opacity="0.72" transform="rotate(10 272.2 123.9)"/>
<ellipse cx="272.6" cy="128.0" rx="2.00" ry="2.70" fill="url(#dg)" opacity="0.96" transform="rotate(10 272.6 128.0)"/><ellipse cx="272.6" cy="128.0" rx="1.10" ry="1.49" fill="url(#cg)" opacity="0.84" transform="rotate(10 272.6 128.0)"/>
<ellipse cx="272.4" cy="132.0" rx="2.00" ry="2.70" fill="url(#dg)" opacity="0.95" transform="rotate(10 272.4 132.0)"/><ellipse cx="272.4" cy="132.0" rx="1.10" ry="1.49" fill="url(#cg)" opacity="0.81" transform="rotate(10 272.4 132.0)"/>
<ellipse cx="272.2" cy="136.1" rx="2.00" ry="2.70" fill="url(#dg)" opacity="0.93" transform="rotate(10 272.2 136.1)"/><ellipse cx="272.2" cy="136.1" rx="1.10" ry="1.49" fill="url(#cg)" opacity="0.74" transform="rotate(10 272.2 136.1)"/>
<ellipse cx="272.0" cy="140.1" rx="2.00" ry="2.70" fill="url(#dg)" opacity="0.97" transform="rotate(10 272.0 140.1)"/><ellipse cx="272.0" cy="140.1" rx="1.10" ry="1.49" fill="url(#cg)" opacity="0.86" transform="rotate(10 272.0 140.1)"/>
<ellipse cx="272.2" cy="144.2" rx="2.00" ry="2.70" fill="url(#dg)" opacity="0.94" transform="rotate(10 272.2 144.2)"/><ellipse cx="272.2" cy="144.2" rx="1.10" ry="1.49" fill="url(#cg)" opacity="0.78" transform="rotate(10 272.2 144.2)"/>
</g>
<g filter="url(#bl2)">
<ellipse cx="472.2" cy="29.5" rx="1.80" ry="2.00" fill="url(#dg)" opacity="0.77"/><ellipse cx="472.2" cy="29.5" rx="0.99" ry="1.10" fill="url(#cg)" opacity="0.30"/>
<ellipse cx="476.4" cy="29.5" rx="1.80" ry="2.00" fill="url(#dg)" opacity="0.79"/><ellipse cx="476.4" cy="29.5" rx="0.99" ry="1.10" fill="url(#cg)" opacity="0.35"/>
<ellipse cx="479.8" cy="29.4" rx="1.80" ry="2.00" fill="url(#dg)" opacity="0.82"/><ellipse cx="479.8" cy="29.4" rx="0.99" ry="1.10" fill="url(#cg)" opacity="0.44"/>
<ellipse cx="483.5" cy="29.4" rx="1.80" ry="2.00" fill="url(#dg)" opacity="0.82"/><ellipse cx="483.5" cy="29.4" rx="0.99" ry="1.10" fill="url(#cg)" opacity="0.45"/>
<ellipse cx="486.2" cy="29.4" rx="1.80" ry="2.00" fill="url(#dg)" opacity="0.88"/><ellipse cx="486.2" cy="29.4" rx="0.99" ry="1.10" fill="url(#cg)" opacity="0.60"/>
<ellipse cx="490.1" cy="29.2" rx="1.80" ry="2.00" fill="url(#dg)" opacity="0.87"/><ellipse cx="490.1" cy="29.2" rx="0.99" ry="1.10" fill="url(#cg)" opacity="0.58"/>
<ellipse cx="494.1" cy="29.5" rx="1.80" ry="2.00" fill="url(#dg)" opacity="0.90"/><ellipse cx="494.1" cy="29.5" rx="0.99" ry="1.10" fill="url(#cg)" opacity="0.67"/>
<ellipse cx="498.3" cy="29.5" rx="1.80" ry="2.00" fill="url(#dg)" opacity="0.94"/><ellipse cx="498.3" cy="29.5" rx="0.99" ry="1.10" fill="url(#cg)" opacity="0.77"/>
<ellipse cx="502.3" cy="29.4" rx="1.80" ry="2.00" fill="url(#dg)" opacity="0.90"/><ellipse cx="502.3" cy="29.4" rx="0.99" ry="1.10" fill="url(#cg)" opacity="0.67"/>
<ellipse cx="506.1" cy="29.4" rx="1.80" ry="2.00" fill="url(#dg)" opacity="0.96"/><ellipse cx="506.1" cy="29.4" rx="0.99" ry="1.10" fill="url(#cg)" opacity="0.84"/>
<ellipse cx="510.6" cy="29.4" rx="1.80" ry="2.00" fill="url(#dg)" opacity="0.96"/><ellipse cx="510.6" cy="29.4" rx="0.99" ry="1.10" fill="url(#cg)" opacity="0.85"/>
<ellipse cx="514.5" cy="29.3" rx="1.80" ry="2.00" fill="url(#dg)" opacity="0.95"/><ellipse cx="514.5" cy="29.3" rx="0.99" ry="1.10" fill="url(#cg)" opacity="0.80"/>
<ellipse cx="518.5" cy="29.6" rx="1.80" ry="2.00" fill="url(#dg)" opacity="0.98"/><ellipse cx="518.5" cy="29.6" rx="0.99" ry="1.10" fill="url(#cg)" opacity="0.90"/>
<ellipse cx="523.4" cy="29.5" rx="1.80" ry="2.00" fill="url(#dg)" opacity="0.93"/><ellipse cx="523.4" cy="29.5" rx="0.99" ry="1.10" fill="url(#cg)" opacity="0.74"/>
<ellipse cx="527.4" cy="29.5" rx="1.80" ry="2.00" fill="url(#dg)" opacity="0.92"/><ellipse cx="527.4" cy="29.5" rx="0.99" ry="1.10" fill="url(#cg)" opacity="0.73"/>
<ellipse cx="531.3" cy="29.6" rx="1.80" ry="2.00" fill="url(#dg)" opacity="1.00"/><ellipse cx="531.3" cy="29.6" rx="0.99" ry="1.10" fill="url(#cg)" opacity="0.94"/>
<ellipse cx="535.0" cy="29.5" rx="1.80" ry="2.00" fill="url(#dg)" opacity="0.94"/><ellipse cx="535.0" cy="29.5" rx="0.99" ry="1.10" fill="url(#cg)" opacity="0.77"/>
<ellipse cx="538.9" cy="29.6" rx="1.80" ry="2.00" fill="url(#dg)" opacity="0.93"/><ellipse cx="538.9" cy="29.6" rx="0.99" ry="1.10" fill="url(#cg)" opacity="0.74"/>
<ellipse cx="543.2" cy="29.6" rx="1.80" ry="2.00" fill="url(#dg)" opacity="0.95"/><ellipse cx="543.2" cy="29.6" rx="0.99" ry="1.10" fill="url(#cg)" opacity="0.80"/>
<ellipse cx="547.4" cy="29.2" rx="1.80" ry="2.00" fill="url(#dg)" opacity="0.97"/><ellipse cx="547.4" cy="29.2" rx="0.99" ry="1.10" fill="url(#cg)" opacity="0.85"/>
<ellipse cx="551.3" cy="29.4" rx="1.80" ry="2.00" fill="url(#dg)" opacity="0.95"/><ellipse cx="551.3" cy="29.4" rx="0.99" ry="1.10" fill="url(#cg)" opacity="0.81"/>
<ellipse cx="554.9" cy="29.5" rx="1.80" ry="2.00" fill="url(#dg)" opacity="0.92"/><ellipse cx="554.9" cy="29.5" rx="0.99" ry="1.10" fill="url(#cg)" opacity="0.71"/>
<ellipse cx="559.3" cy="29.6" rx="1.80" ry="2.00" fill="url(#dg)" opacity="0.88"/><ellipse cx="559.3" cy="29.6" rx="0.99" ry="1.10" fill="url(#cg)" opacity="0.60"/>
<ellipse cx="563.5" cy="29.6" rx="1.80" ry="2.00" fill="url(#dg)" opacity="0.87"/><ellipse cx="563.5" cy="29.6" rx="0.99" ry="1.10" fill="url(#cg)" opacity="0.58"/>
<ellipse cx="567.6" cy="29.2" rx="1.80" ry="2.00" fill="url(#dg)" opacity="0.86"/><ellipse cx="567.6" cy="29.2" rx="0.99" ry="1.10" fill="url(#cg)" opacity="0.54"/>
<ellipse cx="570.8" cy="29.2" rx="1.80" ry="2.00" fill="url(#dg)" opacity="0.82"/><ellipse cx="570.8" cy="29.2" rx="0.99" ry="1.10" fill="url(#cg)" opacity="0.43"/>
<ellipse cx="574.8" cy="29.5" rx="1.80" ry="2.00" fill="url(#dg)" opacity="0.81"/><ellipse cx="574.8" cy="29.5" rx="0.99" ry="1.10" fill="url(#cg)" opacity="0.39"/>
<ellipse cx="578.5" cy="29.2" rx="1.80" ry="2.00" fill="url(#dg)" opacity="0.80"/><ellipse cx="578.5" cy="29.2" rx="0.99" ry="1.10" fill="url(#cg)" opacity="0.38"/>
<ellipse cx="581.6" cy="29.3" rx="1.80" ry="2.00" fill="url(#dg)" opacity="0.83"/><ellipse cx="581.6" cy="29.3" rx="0.99" ry="1.10" fill="url(#cg)" opacity="0.47"/>
<ellipse cx="471.8" cy="153.4" rx="1.66" ry="2.06" fill="url(#dg)" opacity="0.93" transform="rotate(12 471.8 153.4)"/><ellipse cx="471.8" cy="153.4" rx="0.91" ry="1.13" fill="url(#cg)" opacity="0.74" transform="rotate(12 471.8 153.4)"/>
<ellipse cx="475.9" cy="153.2" rx="1.66" ry="2.06" fill="url(#dg)" opacity="0.88" transform="rotate(12 475.9 153.2)"/><ellipse cx="475.9" cy="153.2" rx="0.91" ry="1.13" fill="url(#cg)" opacity="0.62" transform="rotate(12 475.9 153.2)"/>
<ellipse cx="479.9" cy="153.0" rx="1.66" ry="2.06" fill="url(#dg)" opacity="0.87" transform="rotate(12 479.9 153.0)"/><ellipse cx="479.9" cy="153.0" rx="0.91" ry="1.13" fill="url(#cg)" opacity="0.57" transform="rotate(12 479.9 153.0)"/>
<ellipse cx="484.0" cy="152.9" rx="1.66" ry="2.06" fill="url(#dg)" opacity="0.92" transform="rotate(12 484.0 152.9)"/><ellipse cx="484.0" cy="152.9" rx="0.91" ry="1.13" fill="url(#cg)" opacity="0.72" transform="rotate(12 484.0 152.9)"/>
<ellipse cx="488.0" cy="152.6" rx="1.66" ry="2.06" fill="url(#dg)" opacity="0.86" transform="rotate(12 488.0 152.6)"/><ellipse cx="488.0" cy="152.6" rx="0.91" ry="1.13" fill="url(#cg)" opacity="0.56" transform="rotate(12 488.0 152.6)"/>
<ellipse cx="492.1" cy="152.2" rx="1.66" ry="2.06" fill="url(#dg)" opacity="0.93" transform="rotate(12 492.1 152.2)"/><ellipse cx="492.1" cy="152.2" rx="0.91" ry="1.13" fill="url(#cg)" opacity="0.76" transform="rotate(12 492.1 152.2)"/>
<ellipse cx="496.1" cy="152.3" rx="1.66" ry="2.06" fill="url(#dg)" opacity="0.90" transform="rotate(12 496.1 152.3)"/><ellipse cx="496.1" cy="152.3" rx="0.91" ry="1.13" fill="url(#cg)" opacity="0.67" transform="rotate(12 496.1 152.3)"/>
<ellipse cx="500.2" cy="152.3" rx="1.66" ry="2.06" fill="url(#dg)" opacity="0.85" transform="rotate(12 500.2 152.3)"/><ellipse cx="500.2" cy="152.3" rx="0.91" ry="1.13" fill="url(#cg)" opacity="0.53" transform="rotate(12 500.2 152.3)"/>
<ellipse cx="504.2" cy="152.1" rx="1.66" ry="2.06" fill="url(#dg)" opacity="0.89" transform="rotate(12 504.2 152.1)"/><ellipse cx="504.2" cy="152.1" rx="0.91" ry="1.13" fill="url(#cg)" opacity="0.63" transform="rotate(12 504.2 152.1)"/>
<ellipse cx="508.3" cy="152.0" rx="1.66" ry="2.06" fill="url(#dg)" opacity="0.89" transform="rotate(12 508.3 152.0)"/><ellipse cx="508.3" cy="152.0" rx="0.91" ry="1.13" fill="url(#cg)" opacity="0.62" transform="rotate(12 508.3 152.0)"/>
<ellipse cx="512.3" cy="151.7" rx="1.66" ry="2.06" fill="url(#dg)" opacity="0.94" transform="rotate(12 512.3 151.7)"/><ellipse cx="512.3" cy="151.7" rx="0.91" ry="1.13" fill="url(#cg)" opacity="0.77" transform="rotate(12 512.3 151.7)"/>
<ellipse cx="516.4" cy="151.7" rx="1.66" ry="2.06" fill="url(#dg)" opacity="0.91" transform="rotate(12 516.4 151.7)"/><ellipse cx="516.4" cy="151.7" rx="0.91" ry="1.13" fill="url(#cg)" opacity="0.71" transform="rotate(12 516.4 151.7)"/>
<ellipse cx="520.4" cy="151.9" rx="1.66" ry="2.06" fill="url(#dg)" opacity="0.86" transform="rotate(12 520.4 151.9)"/><ellipse cx="520.4" cy="151.9" rx="0.91" ry="1.13" fill="url(#cg)" opacity="0.56" transform="rotate(12 520.4 151.9)"/>
<ellipse cx="524.5" cy="151.8" rx="1.66" ry="2.06" fill="url(#dg)" opacity="0.88" transform="rotate(12 524.5 151.8)"/><ellipse cx="524.5" cy="151.8" rx="0.91" ry="1.13" fill="url(#cg)" opacity="0.61" transform="rotate(12 524.5 151.8)"/>
<ellipse cx="528.6" cy="151.6" rx="1.66" ry="2.06" fill="url(#dg)" opacity="0.86" transform="rotate(12 528.6 151.6)"/><ellipse cx="528.6" cy="151.6" rx="0.91" ry="1.13" fill="url(#cg)" opacity="0.55" transform="rotate(12 528.6 151.6)"/>
<ellipse cx="532.6" cy="151.9" rx="1.66" ry="2.06" fill="url(#dg)" opacity="0.88" transform="rotate(12 532.6 151.9)"/><ellipse cx="532.6" cy="151.9" rx="0.91" ry="1.13" fill="url(#cg)" opacity="0.60" transform="rotate(12 532.6 151.9)"/>
<ellipse cx="536.7" cy="151.8" rx="1.66" ry="2.06" fill="url(#dg)" opacity="0.89" transform="rotate(12 536.7 151.8)"/><ellipse cx="536.7" cy="151.8" rx="0.91" ry="1.13" fill="url(#cg)" opacity="0.64" transform="rotate(12 536.7 151.8)"/>
<ellipse cx="540.7" cy="151.6" rx="1.66" ry="2.06" fill="url(#dg)" opacity="0.92" transform="rotate(12 540.7 151.6)"/><ellipse cx="540.7" cy="151.6" rx="0.91" ry="1.13" fill="url(#cg)" opacity="0.71" transform="rotate(12 540.7 151.6)"/>
<ellipse cx="544.8" cy="152.0" rx="1.66" ry="2.06" fill="url(#dg)" opacity="0.93" transform="rotate(12 544.8 152.0)"/><ellipse cx="544.8" cy="152.0" rx="0.91" ry="1.13" fill="url(#cg)" opacity="0.74" transform="rotate(12 544.8 152.0)"/>
<ellipse cx="548.8" cy="151.9" rx="1.66" ry="2.06" fill="url(#dg)" opacity="0.86" transform="rotate(12 548.8 151.9)"/><ellipse cx="548.8" cy="151.9" rx="0.91" ry="1.13" fill="url(#cg)" opacity="0.55" transform="rotate(12 548.8 151.9)"/>
<ellipse cx="552.9" cy="152.0" rx="1.66" ry="2.06" fill="url(#dg)" opacity="0.91" transform="rotate(12 552.9 152.0)"/><ellipse cx="552.9" cy="152.0" rx="0.91" ry="1.13" fill="url(#cg)" opacity="0.70" transform="rotate(12 552.9 152.0)"/>
<ellipse cx="556.9" cy="152.3" rx="1.66" ry="2.06" fill="url(#dg)" opacity="0.88" transform="rotate(12 556.9 152.3)"/><ellipse cx="556.9" cy="152.3" rx="0.91" ry="1.13" fill="url(#cg)" opacity="0.61" transform="rotate(12 556.9 152.3)"/>
<ellipse cx="561.0" cy="152.4" rx="1.66" ry="2.06" fill="url(#dg)" opacity="0.86" transform="rotate(12 561.0 152.4)"/><ellipse cx="561.0" cy="152.4" rx="0.91" ry="1.13" fill="url(#cg)" opacity="0.54" transform="rotate(12 561.0 152.4)"/>
<ellipse cx="565.0" cy="152.7" rx="1.66" ry="2.06" fill="url(#dg)" opacity="0.89" transform="rotate(12 565.0 152.7)"/><ellipse cx="565.0" cy="152.7" rx="0.91" ry="1.13" fill="url(#cg)" opacity="0.63" transform="rotate(12 565.0 152.7)"/>
<ellipse cx="569.1" cy="152.7" rx="1.66" ry="2.06" fill="url(#dg)" opacity="0.92" transform="rotate(12 569.1 152.7)"/><ellipse cx="569.1" cy="152.7" rx="0.91" ry="1.13" fill="url(#cg)" opacity="0.72" transform="rotate(12 569.1 152.7)"/>
<ellipse cx="573.1" cy="152.7" rx="1.66" ry="2.06" fill="url(#dg)" opacity="0.91" transform="rotate(12 573.1 152.7)"/><ellipse cx="573.1" cy="152.7" rx="0.91" ry="1.13" fill="url(#cg)" opacity="0.70" transform="rotate(12 573.1 152.7)"/>
<ellipse cx="577.2" cy="153.0" rx="1.66" ry="2.06" fill="url(#dg)" opacity="0.92" transform="rotate(12 577.2 153.0)"/><ellipse cx="577.2" cy="153.0" rx="0.91" ry="1.13" fill="url(#cg)" opacity="0.72" transform="rotate(12 577.2 153.0)"/>
<ellipse cx="581.3" cy="153.0" rx="1.66" ry="2.06" fill="url(#dg)" opacity="0.87" transform="rotate(12 581.3 153.0)"/><ellipse cx="581.3" cy="153.0" rx="0.91" ry="1.13" fill="url(#cg)" opacity="0.57" transform="rotate(12 581.3 153.0)"/>
<ellipse cx="472.4" cy="33.7" rx="1.75" ry="1.93" fill="url(#dg)" opacity="0.80" transform="rotate(25 472.4 33.7)"/><ellipse cx="472.4" cy="33.7" rx="0.96" ry="1.06" fill="url(#cg)" opacity="0.39" transform="rotate(25 472.4 33.7)"/>
<ellipse cx="472.4" cy="37.9" rx="1.75" ry="1.93" fill="url(#dg)" opacity="0.82" transform="rotate(25 472.4 37.9)"/><ellipse cx="472.4" cy="37.9" rx="0.96" ry="1.06" fill="url(#cg)" opacity="0.42" transform="rotate(25 472.4 37.9)"/>
<ellipse cx="472.4" cy="42.2" rx="1.75" ry="1.93" fill="url(#dg)" opacity="0.81" transform="rotate(25 472.4 42.2)"/><ellipse cx="472.4" cy="42.2" rx="0.96" ry="1.06" fill="url(#cg)" opacity="0.41" transform="rotate(25 472.4 42.2)"/>
<ellipse cx="472.4" cy="46.5" rx="1.75" ry="1.93" fill="url(#dg)" opacity="0.84" transform="rotate(25 472.4 46.5)"/><ellipse cx="472.4" cy="46.5" rx="0.96" ry="1.06" fill="url(#cg)" opacity="0.50" transform="rotate(25 472.4 46.5)"/>
<ellipse cx="472.6" cy="50.7" rx="1.75" ry="1.93" fill="url(#dg)" opacity="0.85" transform="rotate(25 472.6 50.7)"/><ellipse cx="472.6" cy="50.7" rx="0.96" ry="1.06" fill="url(#cg)" opacity="0.52" transform="rotate(25 472.6 50.7)"/>
<ellipse cx="472.9" cy="55.0" rx="1.75" ry="1.93" fill="url(#dg)" opacity="0.84" transform="rotate(25 472.9 55.0)"/><ellipse cx="472.9" cy="55.0" rx="0.96" ry="1.06" fill="url(#cg)" opacity="0.48" transform="rotate(25 472.9 55.0)"/>
<ellipse cx="473.0" cy="59.3" rx="1.75" ry="1.93" fill="url(#dg)" opacity="0.80" transform="rotate(25 473.0 59.3)"/><ellipse cx="473.0" cy="59.3" rx="0.96" ry="1.06" fill="url(#cg)" opacity="0.39" transform="rotate(25 473.0 59.3)"/>
<ellipse cx="473.1" cy="63.6" rx="1.75" ry="1.93" fill="url(#dg)" opacity="0.82" transform="rotate(25 473.1 63.6)"/><ellipse cx="473.1" cy="63.6" rx="0.96" ry="1.06" fill="url(#cg)" opacity="0.44" transform="rotate(25 473.1 63.6)"/>
<ellipse cx="473.3" cy="67.8" rx="1.75" ry="1.93" fill="url(#dg)" opacity="0.87" transform="rotate(25 473.3 67.8)"/><ellipse cx="473.3" cy="67.8" rx="0.96" ry="1.06" fill="url(#cg)" opacity="0.57" transform="rotate(25 473.3 67.8)"/>
<ellipse cx="473.2" cy="72.1" rx="1.75" ry="1.93" fill="url(#dg)" opacity="0.87" transform="rotate(25 473.2 72.1)"/><ellipse cx="473.2" cy="72.1" rx="0.96" ry="1.06" fill="url(#cg)" opacity="0.59" transform="rotate(25 473.2 72.1)"/>
<ellipse cx="473.1" cy="76.4" rx="1.75" ry="1.93" fill="url(#dg)" opacity="0.87" transform="rotate(25 473.1 76.4)"/><ellipse cx="473.1" cy="76.4" rx="0.96" ry="1.06" fill="url(#cg)" opacity="0.57" transform="rotate(25 473.1 76.4)"/>
<ellipse cx="473.4" cy="80.6" rx="1.75" ry="1.93" fill="url(#dg)" opacity="0.83" transform="rotate(25 473.4 80.6)"/><ellipse cx="473.4" cy="80.6" rx="0.96" ry="1.06" fill="url(#cg)" opacity="0.47" transform="rotate(25 473.4 80.6)"/>
<ellipse cx="473.0" cy="84.9" rx="1.75" ry="1.93" fill="url(#dg)" opacity="0.86" transform="rotate(25 473.0 84.9)"/><ellipse cx="473.0" cy="84.9" rx="0.96" ry="1.06" fill="url(#cg)" opacity="0.54" transform="rotate(25 473.0 84.9)"/>
<ellipse cx="473.2" cy="89.2" rx="1.75" ry="1.93" fill="url(#dg)" opacity="0.84" transform="rotate(25 473.2 89.2)"/><ellipse cx="473.2" cy="89.2" rx="0.96" ry="1.06" fill="url(#cg)" opacity="0.49" transform="rotate(25 473.2 89.2)"/>
<ellipse cx="473.1" cy="93.4" rx="1.75" ry="1.93" fill="url(#dg)" opacity="0.90" transform="rotate(25 473.1 93.4)"/><ellipse cx="473.1" cy="93.4" rx="0.96" ry="1.06" fill="url(#cg)" opacity="0.67" transform="rotate(25 473.1 93.4)"/>
<ellipse cx="473.1" cy="97.7" rx="1.75" ry="1.93" fill="url(#dg)" opacity="0.85" transform="rotate(25 473.1 97.7)"/><ellipse cx="473.1" cy="97.7" rx="0.96" ry="1.06" fill="url(#cg)" opacity="0.52" transform="rotate(25 473.1 97.7)"/>
<ellipse cx="473.0" cy="102.0" rx="1.75" ry="1.93" fill="url(#dg)" opacity="0.89" transform="rotate(25 473.0 102.0)"/><ellipse cx="473.0" cy="102.0" rx="0.96" ry="1.06" fill="url(#cg)" opacity="0.63" transform="rotate(25 473.0 102.0)"/>
<ellipse cx="472.9" cy="106.2" rx="1.75" ry="1.93" fill="url(#dg)" opacity="0.88" transform="rotate(25 472.9 106.2)"/><ellipse cx="472.9" cy="106.2" rx="0.96" ry="1.06" fill="url(#cg)" opacity="0.62" transform="rotate(25 472.9 106.2)"/>
<ellipse cx="473.0" cy="110.5" rx="1.75" ry="1.93" fill="url(#dg)" opacity="0.89" transform="rotate(25 473.0 110.5)"/><ellipse cx="473.0" cy="110.5" rx="0.96" ry="1.06" fill="url(#cg)" opacity="0.63" transform="rotate(25 473.0 110.5)"/>
<ellipse cx="472.9" cy="114.8" rx="1.75" ry="1.93" fill="url(#dg)" opacity="0.92" transform="rotate(25 472.9 114.8)"/><ellipse cx="472.9" cy="114.8" rx="0.96" ry="1.06" fill="url(#cg)" opacity="0.73" transform="rotate(25 472.9 114.8)"/>
<ellipse cx="472.6" cy="119.0" rx="1.75" ry="1.93" fill="url(#dg)" opacity="0.94" transform="rotate(25 472.6 119.0)"/><ellipse cx="472.6" cy="119.0" rx="0.96" ry="1.06" fill="url(#cg)" opacity="0.77" transform="rotate(25 472.6 119.0)"/>
<ellipse cx="472.6" cy="123.3" rx="1.75" ry="1.93" fill="url(#dg)" opacity="0.87" transform="rotate(25 472.6 123.3)"/><ellipse cx="472.6" cy="123.3" rx="0.96" ry="1.06" fill="url(#cg)" opacity="0.58" transform="rotate(25 472.6 123.3)"/>
<ellipse cx="472.7" cy="127.6" rx="1.75" ry="1.93" fill="url(#dg)" opacity="0.92" transform="rotate(25 472.7 127.6)"/><ellipse cx="472.7" cy="127.6" rx="0.96" ry="1.06" fill="url(#cg)" opacity="0.71" transform="rotate(25 472.7 127.6)"/>
<ellipse cx="472.5" cy="131.9" rx="1.75" ry="1.93" fill="url(#dg)" opacity="0.89" transform="rotate(25 472.5 131.9)"/><ellipse cx="472.5" cy="131.9" rx="0.96" ry="1.06" fill="url(#cg)" opacity="0.65" transform="rotate(25 472.5 131.9)"/>
<ellipse cx="472.5" cy="136.1" rx="1.75" ry="1.93" fill="url(#dg)" opacity="0.91" transform="rotate(25 472.5 136.1)"/><ellipse cx="472.5" cy="136.1" rx="0.96" ry="1.06" fill="url(#cg)" opacity="0.68" transform="rotate(25 472.5 136.1)"/>
<ellipse cx="472.3" cy="140.4" rx="1.75" ry="1.93" fill="url(#dg)" opacity="0.90" transform="rotate(25 472.3 140.4)"/><ellipse cx="472.3" cy="140.4" rx="0.96" ry="1.06" fill="url(#cg)" opacity="0.68" transform="rotate(25 472.3 140.4)"/>
<ellipse cx="472.1" cy="144.7" rx="1.75" ry="1.93" fill="url(#dg)" opacity="0.94" transform="rotate(25 472.1 144.7)"/><ellipse cx="472.1" cy="144.7" rx="0.96" ry="1.06" fill="url(#cg)" opacity="0.78" transform="rotate(25 472.1 144.7)"/>
<ellipse cx="471.9" cy="148.9" rx="1.75" ry="1.93" fill="url(#dg)" opacity="0.93" transform="rotate(25 471.9 148.9)"/><ellipse cx="471.9" cy="148.9" rx="0.96" ry="1.06" fill="url(#cg)" opacity="0.76" transform="rotate(25 471.9 148.9)"/>
<ellipse cx="581.4" cy="33.7" rx="1.84" ry="1.97" fill="url(#dg)" opacity="0.88" transform="rotate(10 581.4 33.7)"/><ellipse cx="581.4" cy="33.7" rx="1.01" ry="1.08" fill="url(#cg)" opacity="0.61" transform="rotate(10 581.4 33.7)"/>
<ellipse cx="581.8" cy="37.9" rx="1.84" ry="1.97" fill="url(#dg)" opacity="0.84" transform="rotate(10 581.8 37.9)"/><ellipse cx="581.8" cy="37.9" rx="1.01" ry="1.08" fill="url(#cg)" opacity="0.49" transform="rotate(10 581.8 37.9)"/>
<ellipse cx="581.8" cy="42.2" rx="1.84" ry="1.97" fill="url(#dg)" opacity="0.89" transform="rotate(10 581.8 42.2)"/><ellipse cx="581.8" cy="42.2" rx="1.01" ry="1.08" fill="url(#cg)" opacity="0.65" transform="rotate(10 581.8 42.2)"/>
<ellipse cx="581.6" cy="46.5" rx="1.84" ry="1.97" fill="url(#dg)" opacity="0.91" transform="rotate(10 581.6 46.5)"/><ellipse cx="581.6" cy="46.5" rx="1.01" ry="1.08" fill="url(#cg)" opacity="0.69" transform="rotate(10 581.6 46.5)"/>
<ellipse cx="582.1" cy="50.7" rx="1.84" ry="1.97" fill="url(#dg)" opacity="0.84" transform="rotate(10 582.1 50.7)"/><ellipse cx="582.1" cy="50.7" rx="1.01" ry="1.08" fill="url(#cg)" opacity="0.50" transform="rotate(10 582.1 50.7)"/>
<ellipse cx="581.9" cy="55.0" rx="1.84" ry="1.97" fill="url(#dg)" opacity="0.85" transform="rotate(10 581.9 55.0)"/><ellipse cx="581.9" cy="55.0" rx="1.01" ry="1.08" fill="url(#cg)" opacity="0.52" transform="rotate(10 581.9 55.0)"/>
<ellipse cx="581.9" cy="59.3" rx="1.84" ry="1.97" fill="url(#dg)" opacity="0.85" transform="rotate(10 581.9 59.3)"/><ellipse cx="581.9" cy="59.3" rx="1.01" ry="1.08" fill="url(#cg)" opacity="0.53" transform="rotate(10 581.9 59.3)"/>
<ellipse cx="582.1" cy="63.6" rx="1.84" ry="1.97" fill="url(#dg)" opacity="0.87" transform="rotate(10 582.1 63.6)"/><ellipse cx="582.1" cy="63.6" rx="1.01" ry="1.08" fill="url(#cg)" opacity="0.58" transform="rotate(10 582.1 63.6)"/>
<ellipse cx="582.0" cy="67.8" rx="1.84" ry="1.97" fill="url(#dg)" opacity="0.89" transform="rotate(10 582.0 67.8)"/><ellipse cx="582.0" cy="67.8" rx="1.01" ry="1.08" fill="url(#cg)" opacity="0.64" transform="rotate(10 582.0 67.8)"/>
<ellipse cx="582.1" cy="72.1" rx="1.84" ry="1.97" fill="url(#dg)" opacity="0.92" transform="rotate(10 582.1 72.1)"/><ellipse cx="582.1" cy="72.1" rx="1.01" ry="1.08" fill="url(#cg)" opacity="0.73" transform="rotate(10 582.1 72.1)"/>
<ellipse cx="582.3" cy="76.4" rx="1.84" ry="1.97" fill="url(#dg)" opacity="0.87" transform="rotate(10 582.3 76.4)"/><ellipse cx="582.3" cy="76.4" rx="1.01" ry="1.08" fill="url(#cg)" opacity="0.57" transform="rotate(10 582.3 76.4)"/>
<ellipse cx="582.1" cy="80.6" rx="1.84" ry="1.97" fill="url(#dg)" opacity="0.86" transform="rotate(10 582.1 80.6)"/><ellipse cx="582.1" cy="80.6" rx="1.01" ry="1.08" fill="url(#cg)" opacity="0.56" transform="rotate(10 582.1 80.6)"/>
<ellipse cx="582.1" cy="84.9" rx="1.84" ry="1.97" fill="url(#dg)" opacity="0.87" transform="rotate(10 582.1 84.9)"/><ellipse cx="582.1" cy="84.9" rx="1.01" ry="1.08" fill="url(#cg)" opacity="0.59" transform="rotate(10 582.1 84.9)"/>
<ellipse cx="582.3" cy="89.2" rx="1.84" ry="1.97" fill="url(#dg)" opacity="0.94" transform="rotate(10 582.3 89.2)"/><ellipse cx="582.3" cy="89.2" rx="1.01" ry="1.08" fill="url(#cg)" opacity="0.77" transform="rotate(10 582.3 89.2)"/>
<ellipse cx="582.4" cy="93.4" rx="1.84" ry="1.97" fill="url(#dg)" opacity="0.89" transform="rotate(10 582.4 93.4)"/><ellipse cx="582.4" cy="93.4" rx="1.01" ry="1.08" fill="url(#cg)" opacity="0.64" transform="rotate(10 582.4 93.4)"/>
<ellipse cx="581.9" cy="97.7" rx="1.84" ry="1.97" fill="url(#dg)" opacity="0.94" transform="rotate(10 581.9 97.7)"/><ellipse cx="581.9" cy="97.7" rx="1.01" ry="1.08" fill="url(#cg)" opacity="0.78" transform="rotate(10 581.9 97.7)"/>
<ellipse cx="582.1" cy="102.0" rx="1.84" ry="1.97" fill="url(#dg)" opacity="0.96" transform="rotate(10 582.1 102.0)"/><ellipse cx="582.1" cy="102.0" rx="1.01" ry="1.08" fill="url(#cg)" opacity="0.84" transform="rotate(10 582.1 102.0)"/>
<ellipse cx="582.1" cy="106.2" rx="1.84" ry="1.97" fill="url(#dg)" opacity="0.91" transform="rotate(10 582.1 106.2)"/><ellipse cx="582.1" cy="106.2" rx="1.01" ry="1.08" fill="url(#cg)" opacity="0.69" transform="rotate(10 582.1 106.2)"/>
<ellipse cx="581.9" cy="110.5" rx="1.84" ry="1.97" fill="url(#dg)" opacity="0.97" transform="rotate(10 581.9 110.5)"/><ellipse cx="581.9" cy="110.5" rx="1.01" ry="1.08" fill="url(#cg)" opacity="0.86" transform="rotate(10 581.9 110.5)"/>
<ellipse cx="582.0" cy="114.8" rx="1.84" ry="1.97" fill="url(#dg)" opacity="0.93" transform="rotate(10 582.0 114.8)"/><ellipse cx="582.0" cy="114.8" rx="1.01" ry="1.08" fill="url(#cg)" opacity="0.74" transform="rotate(10 582.0 114.8)"/>
<ellipse cx="581.9" cy="119.0" rx="1.84" ry="1.97" fill="url(#dg)" opacity="0.96" transform="rotate(10 581.9 119.0)"/><ellipse cx="581.9" cy="119.0" rx="1.01" ry="1.08" fill="url(#cg)" opacity="0.84" transform="rotate(10 581.9 119.0)"/>
<ellipse cx="582.0" cy="123.3" rx="1.84" ry="1.97" fill="url(#dg)" opacity="0.94" transform="rotate(10 582.0 123.3)"/><ellipse cx="582.0" cy="123.3" rx="1.01" ry="1.08" fill="url(#cg)" opacity="0.77" transform="rotate(10 582.0 123.3)"/>
<ellipse cx="581.6" cy="127.6" rx="1.84" ry="1.97" fill="url(#dg)" opacity="0.94" transform="rotate(10 581.6 127.6)"/><ellipse cx="581.6" cy="127.6" rx="1.01" ry="1.08" fill="url(#cg)" opacity="0.76" transform="rotate(10 581.6 127.6)"/>
<ellipse cx="581.9" cy="131.9" rx="1.84" ry="1.97" fill="url(#dg)" opacity="0.94" transform="rotate(10 581.9 131.9)"/><ellipse cx="581.9" cy="131.9" rx="1.01" ry="1.08" fill="url(#cg)" opacity="0.77" transform="rotate(10 581.9 131.9)"/>
<ellipse cx="581.7" cy="136.1" rx="1.84" ry="1.97" fill="url(#dg)" opacity="0.96" transform="rotate(10 581.7 136.1)"/><ellipse cx="581.7" cy="136.1" rx="1.01" ry="1.08" fill="url(#cg)" opacity="0.82" transform="rotate(10 581.7 136.1)"/>
<ellipse cx="581.5" cy="140.4" rx="1.84" ry="1.97" fill="url(#dg)" opacity="0.96" transform="rotate(10 581.5 140.4)"/><ellipse cx="581.5" cy="140.4" rx="1.01" ry="1.08" fill="url(#cg)" opacity="0.84" transform="rotate(10 581.5 140.4)"/>
<ellipse cx="581.3" cy="144.7" rx="1.84" ry="1.97" fill="url(#dg)" opacity="0.96" transform="rotate(10 581.3 144.7)"/><ellipse cx="581.3" cy="144.7" rx="1.01" ry="1.08" fill="url(#cg)" opacity="0.84" transform="rotate(10 581.3 144.7)"/>
<ellipse cx="581.5" cy="148.9" rx="1.84" ry="1.97" fill="url(#dg)" opacity="0.92" transform="rotate(10 581.5 148.9)"/><ellipse cx="581.5" cy="148.9" rx="1.01" ry="1.08" fill="url(#cg)" opacity="0.73" transform="rotate(10 581.5 148.9)"/>
</g>
<rect x="1.0" y="89.25" width="135.0" height="1.3" fill="#dadada"/>
<rect x="1.0" y="93.75" width="135.0" height="1.3" fill="#dadada"/>
<rect x="154.2" y="31.45" width="133.0" height="1.3" fill="#dadada"/>
<rect x="154.2" y="36.45" width="133.0" height="1.3" fill="#dadada"/>
<rect x="306.0" y="89.55" width="135.2" height="1.3" fill="#dadada"/>
<rect x="306.0" y="93.75" width="135.2" height="1.3" fill="#dadada"/>
<rect x="459.2" y="25.25" width="135.8" height="1.3" fill="#dadada"/>
<rect x="459.2" y="30.35" width="135.8" height="1.3" fill="#dadada"/>
<text class="lab" x="68.4" y="13.8" text-anchor="middle">(a)</text>
<text class="lab" x="217.4" y="13.8" text-anchor="middle">(b)</text>
<text class="lab" x="373.2" y="13.2" text-anchor="middle">(c)</text>
<text class="lab" x="527.0" y="13.5" text-anchor="middle">(d)</text>
<rect x="1.5" y="166.1" width="133.7" height="56.9" fill="#fff" stroke="#e2e2e2" stroke-width="0.7"/>
<line x1="26.4" y1="166.1" x2="26.4" y2="223.0" stroke="#f0f0f0" stroke-width="0.6"/>
<line x1="26.4" y1="166.1" x2="26.4" y2="167.0" stroke="#aaa" stroke-width="0.5"/>
<line x1="26.4" y1="223.0" x2="26.4" y2="222.1" stroke="#aaa" stroke-width="0.5"/>
<line x1="53.5" y1="166.1" x2="53.5" y2="223.0" stroke="#f0f0f0" stroke-width="0.6"/>
<line x1="53.5" y1="166.1" x2="53.5" y2="167.0" stroke="#aaa" stroke-width="0.5"/>
<line x1="53.5" y1="223.0" x2="53.5" y2="222.1" stroke="#aaa" stroke-width="0.5"/>
<line x1="81.0" y1="166.1" x2="81.0" y2="223.0" stroke="#f0f0f0" stroke-width="0.6"/>
<line x1="81.0" y1="166.1" x2="81.0" y2="167.0" stroke="#aaa" stroke-width="0.5"/>
<line x1="81.0" y1="223.0" x2="81.0" y2="222.1" stroke="#aaa" stroke-width="0.5"/>
<line x1="108.2" y1="166.1" x2="108.2" y2="223.0" stroke="#f0f0f0" stroke-width="0.6"/>
<line x1="108.2" y1="166.1" x2="108.2" y2="167.0" stroke="#aaa" stroke-width="0.5"/>
<line x1="108.2" y1="223.0" x2="108.2" y2="222.1" stroke="#aaa" stroke-width="0.5"/>
<polyline points="1.5,223.0 1.5,223.0 1.6,223.0 1.8,223.0 1.9,223.0 2.1,223.0 2.2,223.0 2.4,223.0 2.5,223.0 2.7,223.0 2.8,223.0 3.0,223.0 3.1,223.0 3.3,223.0 3.4,223.0 3.6,223.0 3.7,223.0 3.9,223.0 4.0,223.0 4.2,223.0 4.3,223.0 4.5,223.0 4.7,223.0 4.8,223.0 5.0,223.0 5.1,223.0 5.3,223.0 5.4,223.0 5.6,223.0 5.7,223.0 5.9,223.0 6.0,223.0 6.2,223.0 6.3,223.0 6.5,223.0 6.6,223.0 6.8,223.0 6.9,223.0 7.1,223.0 7.2,223.0 7.4,223.0 7.5,223.0 7.7,223.0 7.8,223.0 8.0,223.0 8.1,223.0 8.3,223.0 8.4,223.0 8.6,223.0 8.7,223.0 8.9,223.0 9.0,223.0 9.2,223.0 9.3,223.0 9.5,223.0 9.6,223.0 9.8,223.0 9.9,223.0 10.1,223.0 10.2,222.8 10.4,222.6 10.5,222.2 10.7,221.6 10.8,220.6 11.0,219.2 11.1,217.2 11.3,214.5 11.4,211.3 11.6,207.8 11.7,204.5 11.9,202.7 12.0,203.5 12.2,205.2 12.3,207.5 12.5,209.9 12.6,212.2 12.8,214.1 12.9,215.6 13.1,216.6 13.2,217.2 13.4,217.6 13.5,217.7 13.7,217.7 13.8,217.6 14.0,217.3 14.1,216.9 14.3,216.2 14.4,215.2 14.6,213.8 14.7,211.9 14.9,209.7 15.0,207.2 15.2,204.7 15.3,202.6 15.5,201.2 15.6,200.7 15.8,201.2 15.9,202.6 16.1,204.6 16.2,206.9 16.4,209.2 16.5,211.2 16.7,212.8 16.8,214.0 17.0,214.7 17.1,215.2 17.3,215.4 17.4,215.4 17.6,215.4 17.7,215.2 17.9,214.9 18.0,214.5 18.2,213.8 18.3,212.7 18.5,211.2 18.6,209.2 18.8,206.7 18.9,204.0 19.0,201.4 19.2,199.1 19.3,197.5 19.5,197.0 19.6,197.5 19.8,199.0 19.9,201.2 20.1,203.7 20.2,206.2 20.4,208.4 20.5,210.2 20.7,211.4 20.8,212.2 21.0,212.7 21.1,213.0 21.3,213.0 21.4,213.0 21.6,212.8 21.7,212.5 21.9,212.0 22.0,211.2 22.2,210.0 22.3,208.3 22.5,206.1 22.6,203.4 22.8,200.6 22.9,198.0 23.1,196.0 23.2,195.1 23.4,195.3 23.5,196.6 23.7,198.7 23.8,201.3 24.0,203.9 24.1,206.2 24.3,208.0 24.4,209.3 24.6,210.1 24.7,210.5 24.9,210.8 25.0,210.8 25.2,210.7 25.3,210.4 25.5,209.9 25.6,209.1 25.8,207.7 25.9,205.7 26.1,203.5 26.2,200.1 26.4,196.7 26.5,193.7 26.7,191.9 26.8,191.6 27.0,192.9 27.1,195.6 27.3,199.0 27.4,202.4 27.6,205.4 27.7,207.7 27.9,209.2 28.0,210.1 28.2,210.5 28.3,210.5 28.5,210.2 28.6,209.4 28.8,208.1 28.9,206.1 29.1,203.5 29.2,200.2 29.4,196.7 29.5,193.5 29.7,190.9 29.8,189.7 30.0,189.9 30.1,191.7 30.3,194.5 30.4,197.9 30.6,201.4 30.7,204.4 30.9,206.9 31.0,208.6 31.2,209.8 31.3,210.5 31.5,210.8 31.6,211.0 31.8,211.0 31.9,210.9 32.1,210.7 32.2,210.4 32.4,209.8 32.5,208.9 32.7,207.5 32.8,205.7 33.0,203.3 33.1,200.5 33.3,197.4 33.4,194.2 33.6,191.3 33.7,189.1 33.9,187.8 34.0,187.6 34.2,188.5 34.3,190.5 34.5,193.2 34.6,196.3 34.8,199.5 34.9,202.4 35.1,204.9 35.2,206.9 35.4,208.5 35.5,209.5 35.7,210.2 35.8,210.6 36.0,210.9 36.1,211.0 36.3,211.1 36.4,211.1 36.6,211.0 36.7,210.8 36.9,210.5 37.0,209.8 37.2,208.8 37.3,207.2 37.5,205.0 37.6,202.1 37.8,198.5 37.9,194.4 38.1,190.3 38.2,186.6 38.4,183.9 38.5,182.6 38.7,182.9 38.8,184.7 39.0,187.8 39.1,191.6 39.3,195.8 39.4,199.7 39.6,203.1 39.7,205.8 39.9,207.8 40.0,209.2 40.2,210.0 40.3,210.4 40.5,210.4 40.6,210.1 40.8,209.2 40.9,207.7 41.1,205.3 41.2,202.0 41.4,197.9 41.5,193.2 41.7,188.5 41.8,184.7 42.0,182.4 42.1,182.0 42.3,183.7 42.4,187.1 42.6,191.6 42.7,196.3 42.9,200.7 43.0,204.3 43.2,207.0 43.3,208.8 43.5,209.9 43.6,210.5 43.8,210.7 43.9,210.7 44.1,210.4 44.2,209.8 44.4,208.7 44.5,207.1 44.7,204.8 44.8,201.7 45.0,197.9 45.1,193.7 45.3,189.4 45.4,185.6 45.6,182.8 45.7,181.4 45.9,181.7 46.0,183.6 46.2,186.8 46.3,190.8 46.5,195.1 46.6,199.2 46.8,202.8 46.9,205.6 47.1,207.7 47.2,209.1 47.4,210.0 47.5,210.6 47.7,210.8 47.8,211.0 48.0,210.9 48.1,210.8 48.3,210.5 48.4,210.0 48.6,209.2 48.7,208.0 48.9,206.3 49.0,204.0 49.2,201.2 49.3,197.9 49.5,194.3 49.6,190.7 49.8,187.4 49.9,184.9 50.1,183.5 50.2,183.3 50.4,184.3 50.5,186.5 50.7,189.5 50.8,193.1 51.0,196.7 51.1,200.1 51.3,203.1 51.4,205.6 51.6,207.5 51.7,208.8 51.9,209.8 52.0,210.4 52.2,210.7 52.3,210.9 52.5,211.0 52.6,211.0 52.8,210.9 52.9,210.7 53.1,210.2 53.2,209.4 53.4,208.2 53.5,206.3 53.7,203.7 53.8,200.3 54.0,196.2 54.1,191.8 54.3,187.2 54.4,183.3 54.6,180.3 54.7,178.9 54.9,179.2 55.0,181.2 55.2,184.5 55.3,188.7 55.5,193.3 55.6,197.7 55.8,201.5 55.9,204.6 56.1,207.0 56.2,208.6 56.4,209.7 56.5,210.3 56.7,210.6 56.8,210.6 57.0,210.2 57.1,209.3 57.3,207.8 57.4,205.3 57.6,201.6 57.7,196.7 57.9,190.9 58.0,184.9 58.2,179.6 58.3,175.8 58.5,174.5 58.6,175.8 58.8,179.6 58.9,184.9 59.1,190.9 59.2,196.7 59.4,201.6 59.5,205.2 59.7,207.8 59.8,209.3 60.0,210.1 60.1,210.3 60.3,210.0 60.4,209.2 60.6,207.7 60.7,205.5 60.9,202.3 61.0,198.2 61.2,193.3 61.3,188.1 61.5,183.2 61.6,179.2 61.8,176.8 61.9,176.4 62.1,178.2 62.2,181.7 62.4,186.4 62.5,191.6 62.7,196.7 62.8,201.0 63.0,204.5 63.1,207.1 63.3,208.8 63.4,209.9 63.6,210.5 63.7,210.8 63.9,211.0 64.0,211.0 64.2,210.9 64.3,210.6 64.5,210.2 64.6,209.4 64.8,208.2 64.9,206.5 65.1,204.1 65.2,200.9 65.4,197.1 65.5,192.8 65.7,188.4 65.8,184.2 66.0,180.7 66.1,178.4 66.3,177.6 66.4,178.4 66.6,180.7 66.7,184.2 66.9,188.4 67.0,192.8 67.2,197.1 67.3,200.9 67.5,204.1 67.6,206.5 67.8,208.2 67.9,209.4 68.1,210.2 68.2,210.6 68.4,210.9 68.5,210.9 68.7,210.9 68.8,210.6 69.0,210.1 69.1,209.3 69.3,207.9 69.4,205.8 69.6,202.8 69.7,199.0 69.9,194.3 70.0,189.0 70.2,183.8 70.3,179.1 70.5,175.6 70.6,173.9 70.8,174.3 70.9,176.6 71.1,180.5 71.2,185.5 71.4,190.8 71.5,195.9 71.7,200.4 71.8,203.9 72.0,206.6 72.1,208.4 72.3,209.6 72.4,210.3 72.6,210.6 72.7,210.6 72.9,210.2 73.0,209.5 73.2,208.1 73.3,206.0 73.5,202.9 73.6,198.9 73.8,194.0 73.9,188.6 74.1,183.5 74.2,179.3 74.4,176.8 74.5,176.4 74.7,178.3 74.8,181.9 75.0,186.9 75.1,192.2 75.3,197.3 75.5,201.7 75.6,205.1 75.8,207.5 75.9,209.1 76.1,210.1 76.2,210.5 76.4,210.7 76.5,210.6 76.7,210.1 76.8,209.3 77.0,207.9 77.1,205.8 77.3,202.8 77.4,199.0 77.6,194.3 77.7,189.2 77.9,184.2 78.0,180.0 78.2,177.1 78.3,176.1 78.5,177.1 78.6,180.0 78.8,184.2 78.9,189.2 79.1,194.3 79.2,199.0 79.4,202.8 79.5,205.8 79.7,207.9 79.8,209.3 80.0,210.1 80.1,210.6 80.3,210.8 80.4,210.7 80.6,210.4 80.7,209.9 80.9,209.1 81.0,207.8 81.2,206.0 81.3,203.6 81.5,200.5 81.6,196.8 81.8,192.8 81.9,188.6 82.1,184.8 82.2,181.6 82.4,179.5 82.5,178.8 82.7,179.5 82.8,181.6 83.0,184.8 83.1,188.6 83.3,192.8 83.4,196.8 83.6,200.5 83.7,203.6 83.9,206.0 84.0,207.8 84.2,209.1 84.3,210.0 84.5,210.5 84.6,210.8 84.8,211.0 84.9,211.1 85.1,211.1 85.2,211.0 85.4,210.8 85.5,210.5 85.7,210.0 85.8,209.2 86.0,207.9 86.1,206.1 86.3,203.8 86.4,200.7 86.6,197.2 86.7,193.3 86.9,189.4 87.0,185.9 87.2,183.2 87.3,181.6 87.5,181.4 87.6,182.5 87.8,184.9 87.9,188.2 88.1,192.0 88.2,195.9 88.4,199.6 88.5,202.8 88.7,205.4 88.8,207.4 89.0,208.8 89.1,209.7 89.3,210.3 89.4,210.6 89.6,210.7 89.7,210.4 89.9,209.9 90.0,208.8 90.2,207.2 90.3,204.7 90.5,201.3 90.6,197.0 90.8,192.1 90.9,187.0 91.1,182.4 91.2,179.0 91.4,177.3 91.5,177.7 91.7,180.0 91.8,183.9 92.0,188.7 92.1,193.8 92.3,198.5 92.4,202.5 92.6,205.6 92.7,207.8 92.9,209.3 93.0,210.1 93.2,210.6 93.3,210.8 93.5,210.7 93.6,210.3 93.8,209.5 93.9,208.2 94.1,206.1 94.2,203.0 94.4,199.0 94.5,194.2 94.7,188.9 94.8,183.8 95.0,179.7 95.1,177.2 95.3,176.8 95.4,178.6 95.6,182.3 95.7,187.1 95.9,192.4 96.0,197.5 96.2,201.8 96.3,205.2 96.5,207.6 96.6,209.1 96.8,210.0 96.9,210.5 97.1,210.6 97.2,210.5 97.4,210.1 97.5,209.3 97.7,208.0 97.8,206.3 98.0,203.8 98.1,200.8 98.3,197.3 98.4,193.5 98.6,189.9 98.7,186.9 98.9,184.9 99.0,184.2 99.2,184.9 99.3,186.9 99.5,189.9 99.6,193.5 99.8,197.3 99.9,200.8 100.1,203.8 100.2,206.3 100.4,208.1 100.5,209.3 100.7,210.1 100.8,210.6 101.0,210.9 101.1,211.0 101.3,211.1 101.4,211.1 101.6,211.0 101.7,210.9 101.9,210.6 102.0,210.1 102.2,209.3 102.3,208.1 102.5,206.4 102.6,204.1 102.8,201.4 102.9,198.3 103.1,195.1 103.2,192.2 103.4,189.8 103.5,188.5 103.7,188.3 103.8,189.3 104.0,191.3 104.1,194.1 104.3,197.2 104.4,200.4 104.6,203.3 104.7,205.7 104.9,207.6 105.0,208.9 105.2,209.8 105.3,210.4 105.5,210.7 105.6,210.8 105.8,210.8 105.9,210.4 106.1,209.7 106.2,208.5 106.4,206.6 106.5,203.8 106.7,200.3 106.8,196.1 107.0,191.7 107.1,187.8 107.3,185.2 107.4,184.2 107.6,185.2 107.7,187.8 107.9,191.7 108.0,196.1 108.2,200.4 108.3,204.1 108.5,207.0 108.6,209.0 108.8,210.3 108.9,211.1 109.1,211.5 109.2,211.5 109.4,211.2 109.5,210.4 109.7,209.2 109.8,207.2 110.0,204.5 110.1,201.1 110.3,197.3 110.4,193.5 110.6,190.4 110.7,188.6 110.9,188.3 111.0,189.7 111.2,192.5 111.3,196.2 111.5,200.2 111.6,204.0 111.8,207.2 111.9,209.7 112.1,211.5 112.2,212.6 112.4,213.4 112.5,213.8 112.7,214.0 112.8,214.1 113.0,214.0 113.1,213.8 113.3,213.3 113.4,212.6 113.6,211.4 113.7,209.7 113.9,207.5 114.0,204.8 114.2,201.8 114.3,198.8 114.5,196.2 114.6,194.2 114.8,193.3 114.9,193.5 115.1,194.8 115.2,197.1 115.4,200.0 115.5,203.2 115.7,206.3 115.8,209.1 116.0,211.4 116.1,213.2 116.3,214.5 116.4,215.4 116.6,215.9 116.7,216.3 116.9,216.5 117.0,216.6 117.2,216.6 117.3,216.5 117.5,216.2 117.6,215.6 117.8,214.8 117.9,213.5 118.1,211.7 118.2,209.5 118.4,206.9 118.5,204.1 118.7,201.2 118.8,198.6 119.0,196.5 119.1,195.3 119.3,195.2 119.4,196.0 119.6,197.9 119.7,200.4 119.9,203.4 120.0,206.5 120.2,209.4 120.3,212.0 120.5,214.2 120.6,215.9 120.8,217.1 120.9,218.0 121.1,218.6 121.2,219.0 121.4,219.2 121.5,219.4 121.7,219.4 121.8,219.3 122.0,219.1 122.1,218.6 122.3,217.7 122.4,216.6 122.6,215.0 122.7,212.9 122.9,210.5 123.0,207.7 123.2,204.8 123.3,202.0 123.5,199.6 123.6,197.9 123.8,197.1 123.9,198.9 124.1,202.4 124.2,206.2 124.4,210.0 124.5,213.5 124.7,216.3 124.8,218.6 125.0,220.2 125.1,221.4 125.3,222.2 125.4,222.6 125.6,222.9 125.7,223.0 125.9,223.0 126.0,223.0 126.2,223.0 126.3,223.0 126.5,223.0 126.6,223.0 126.8,223.0 126.9,223.0 127.1,223.0 127.2,223.0 127.4,223.0 127.5,223.0 127.7,223.0 127.8,223.0 128.0,223.0 128.1,223.0 128.3,223.0 128.4,223.0 128.6,223.0 128.7,223.0 128.9,223.0 129.0,223.0 129.2,223.0 129.3,223.0 129.5,223.0 129.6,223.0 129.8,223.0 129.9,223.0 130.1,223.0 130.2,223.0 130.4,223.0 130.5,223.0 130.7,223.0 130.8,223.0 131.0,223.0 131.1,223.0 131.3,223.0 131.4,223.0 131.6,223.0 131.7,223.0 131.9,223.0 132.0,223.0 132.2,223.0 132.3,223.0 132.5,223.0 132.6,223.0 132.8,223.0 132.9,223.0 133.1,223.0 133.2,223.0 133.4,223.0 133.5,223.0 133.7,223.0 133.8,223.0 134.0,223.0 134.1,223.0 134.3,223.0 134.4,223.0 134.6,223.0 134.7,223.0 134.9,223.0 135.0,223.0 135.2,223.0" fill="none" stroke="#3b8fd0" stroke-width="0.58" stroke-linejoin="round"/>
<text class="tk" x="26.4" y="232.0" text-anchor="middle">100</text>
<text class="tk" x="53.5" y="232.0" text-anchor="middle">200</text>
<text class="tk" x="81.0" y="232.0" text-anchor="middle">300</text>
<text class="tk" x="108.2" y="232.0" text-anchor="middle">400</text>
<text class="tk" x="135.2" y="232.0" text-anchor="middle">500</text>
<text class="tk" x="68.3" y="240.2" text-anchor="middle">Bins</text>
<rect x="152.2" y="166.4" width="135.7" height="57.4" fill="#fff" stroke="#e2e2e2" stroke-width="0.7"/>
<line x1="177.4" y1="166.4" x2="177.4" y2="223.8" stroke="#f0f0f0" stroke-width="0.6"/>
<line x1="177.4" y1="166.4" x2="177.4" y2="167.3" stroke="#aaa" stroke-width="0.5"/>
<line x1="177.4" y1="223.8" x2="177.4" y2="222.9" stroke="#aaa" stroke-width="0.5"/>
<line x1="204.8" y1="166.4" x2="204.8" y2="223.8" stroke="#f0f0f0" stroke-width="0.6"/>
<line x1="204.8" y1="166.4" x2="204.8" y2="167.3" stroke="#aaa" stroke-width="0.5"/>
<line x1="204.8" y1="223.8" x2="204.8" y2="222.9" stroke="#aaa" stroke-width="0.5"/>
<line x1="232.5" y1="166.4" x2="232.5" y2="223.8" stroke="#f0f0f0" stroke-width="0.6"/>
<line x1="232.5" y1="166.4" x2="232.5" y2="167.3" stroke="#aaa" stroke-width="0.5"/>
<line x1="232.5" y1="223.8" x2="232.5" y2="222.9" stroke="#aaa" stroke-width="0.5"/>
<line x1="260.4" y1="166.4" x2="260.4" y2="223.8" stroke="#f0f0f0" stroke-width="0.6"/>
<line x1="260.4" y1="166.4" x2="260.4" y2="167.3" stroke="#aaa" stroke-width="0.5"/>
<line x1="260.4" y1="223.8" x2="260.4" y2="222.9" stroke="#aaa" stroke-width="0.5"/>
<polyline points="152.2,223.8 152.2,223.8 152.3,223.8 152.5,223.8 152.7,223.8 152.8,223.8 153.0,223.8 153.1,223.8 153.3,223.8 153.4,223.8 153.6,223.8 153.7,223.8 153.9,223.8 154.0,223.8 154.2,223.8 154.3,223.8 154.5,223.8 154.6,223.8 154.8,223.8 154.9,223.8 155.1,223.8 155.2,223.8 155.4,223.8 155.5,223.8 155.7,223.8 155.8,223.8 156.0,223.8 156.1,223.8 156.3,223.8 156.4,223.8 156.6,223.8 156.7,223.8 156.9,223.8 157.0,223.8 157.2,223.8 157.3,223.8 157.5,223.8 157.6,223.8 157.8,223.8 157.9,223.8 158.1,223.8 158.2,223.8 158.4,223.8 158.5,223.8 158.7,223.8 158.8,223.8 159.0,223.8 159.1,223.8 159.3,223.8 159.4,223.8 159.6,223.8 159.7,223.8 159.9,223.8 160.0,223.8 160.2,223.8 160.3,223.8 160.5,223.8 160.6,223.8 160.8,223.8 160.9,223.8 161.1,223.8 161.2,223.8 161.4,223.8 161.5,223.8 161.7,223.8 161.8,223.8 162.0,223.8 162.1,223.8 162.3,223.8 162.4,223.5 162.6,223.0 162.7,222.1 162.9,220.6 163.0,218.3 163.2,214.9 163.3,210.5 163.5,205.5 163.6,200.5 163.8,197.7 163.9,199.0 164.1,201.6 164.2,205.0 164.4,208.6 164.5,211.8 164.7,214.4 164.8,216.3 165.0,217.5 165.1,218.2 165.3,218.6 165.4,218.8 165.6,218.8 165.7,218.6 165.9,218.3 166.0,217.7 166.2,216.7 166.3,215.4 166.5,213.6 166.6,211.5 166.8,209.4 166.9,207.5 167.1,206.2 167.2,205.7 167.4,206.2 167.5,207.5 167.7,209.4 167.8,211.5 168.0,213.6 168.1,215.4 168.3,216.7 168.4,217.7 168.6,218.3 168.7,218.6 168.9,218.8 169.0,218.9 169.2,218.8 169.3,218.7 169.5,218.4 169.6,217.9 169.8,217.0 169.9,215.6 170.1,213.8 170.2,211.6 170.4,209.0 170.5,206.5 170.7,204.5 170.8,203.2 171.0,203.1 171.1,204.0 171.3,205.8 171.4,208.2 171.6,210.7 171.7,213.1 171.9,215.1 172.0,216.6 172.2,217.6 172.3,218.2 172.5,218.6 172.6,218.8 172.8,218.8 172.9,218.7 173.1,218.4 173.2,217.9 173.4,217.0 173.5,215.6 173.7,213.6 173.8,211.1 174.0,208.3 174.1,205.4 174.3,203.0 174.4,201.6 174.6,201.4 174.7,202.4 174.9,204.5 175.0,207.3 175.2,210.2 175.3,212.8 175.5,215.0 175.6,216.6 175.8,217.7 175.9,218.3 176.1,218.6 176.2,218.8 176.4,218.8 176.5,218.6 176.7,218.2 176.8,217.4 177.0,215.9 177.1,213.7 177.3,210.4 177.4,206.4 177.6,202.0 177.7,197.9 177.9,195.0 178.0,193.9 178.2,195.0 178.3,197.9 178.5,202.0 178.6,206.4 178.8,210.4 178.9,213.7 179.1,215.9 179.2,217.3 179.4,218.1 179.5,218.3 179.7,218.0 179.8,217.4 180.0,216.1 180.1,214.2 180.3,211.5 180.4,208.1 180.6,204.3 180.7,200.5 180.9,197.4 181.0,195.5 181.2,195.2 181.3,196.6 181.5,199.4 181.6,203.0 181.8,206.9 181.9,210.4 182.1,213.4 182.2,215.6 182.4,217.1 182.5,218.0 182.7,218.5 182.8,218.8 183.0,218.9 183.1,218.9 183.3,218.8 183.4,218.6 183.6,218.3 183.7,217.7 183.9,216.8 184.0,215.4 184.2,213.4 184.3,210.9 184.5,207.9 184.6,204.7 184.8,201.5 184.9,198.8 185.1,197.0 185.2,196.4 185.4,197.0 185.5,198.8 185.7,201.5 185.8,204.7 186.0,207.9 186.1,210.9 186.3,213.4 186.4,215.4 186.6,216.8 186.7,217.7 186.9,218.3 187.0,218.6 187.2,218.7 187.3,218.7 187.5,218.6 187.6,218.3 187.8,217.7 187.9,216.7 188.1,215.2 188.2,213.1 188.4,210.3 188.5,207.1 188.7,203.6 188.8,200.3 189.0,197.6 189.1,196.0 189.3,195.8 189.4,196.9 189.6,199.3 189.7,202.5 189.9,205.9 190.0,209.3 190.2,212.2 190.3,214.5 190.5,216.2 190.6,217.4 190.8,218.1 190.9,218.5 191.1,218.7 191.2,218.6 191.4,218.4 191.5,217.9 191.7,217.1 191.8,215.9 192.0,214.1 192.1,211.7 192.3,208.9 192.4,205.8 192.6,202.7 192.7,200.0 192.9,198.2 193.0,197.6 193.2,198.2 193.3,200.0 193.5,202.7 193.6,205.8 193.8,208.9 193.9,211.7 194.1,214.1 194.2,215.9 194.4,217.1 194.5,217.9 194.7,218.4 194.8,218.7 195.0,218.8 195.1,218.8 195.3,218.7 195.4,218.5 195.6,218.0 195.7,217.2 195.9,216.0 196.0,214.3 196.2,212.0 196.3,209.2 196.5,206.0 196.6,202.7 196.8,199.7 196.9,197.5 197.1,196.5 197.2,196.7 197.4,198.2 197.5,200.6 197.7,203.8 197.8,207.1 198.0,210.2 198.1,212.8 198.3,214.9 198.4,216.5 198.6,217.5 198.7,218.1 198.9,218.4 199.0,218.5 199.2,218.3 199.3,217.8 199.5,217.0 199.6,215.7 199.8,213.8 199.9,211.3 200.1,207.4 200.2,203.7 200.4,199.8 200.5,195.9 200.7,192.5 200.8,190.1 201.0,188.9 201.1,189.1 201.3,190.8 201.4,193.6 201.6,197.2 201.7,201.1 201.9,205.0 202.0,208.4 202.2,211.3 202.3,213.5 202.5,215.1 202.6,216.2 202.8,216.9 202.9,217.3 203.1,217.6 203.2,217.7 203.4,217.7 203.5,217.6 203.7,217.4 203.8,217.1 204.0,216.5 204.1,215.6 204.3,214.1 204.4,212.1 204.6,209.3 204.7,205.8 204.9,201.6 205.0,197.0 205.2,192.3 205.3,188.1 205.5,184.8 205.6,182.9 205.8,182.6 205.9,184.0 206.1,186.9 206.2,190.8 206.4,195.4 206.5,200.0 206.7,204.4 206.8,208.2 207.0,211.2 207.1,213.5 207.3,215.1 207.4,216.1 207.6,216.8 207.7,217.1 207.9,217.2 208.0,216.9 208.2,216.4 208.3,215.4 208.5,213.8 208.6,211.5 208.8,208.3 208.9,204.1 209.1,199.3 209.2,194.0 209.4,188.9 209.5,184.6 209.7,181.7 209.8,180.7 210.0,181.7 210.1,184.6 210.3,188.9 210.4,194.0 210.6,199.3 210.7,204.1 210.9,208.2 211.0,211.5 211.2,213.8 211.3,215.4 211.5,216.4 211.6,216.9 211.8,217.2 211.9,217.3 212.1,217.1 212.2,216.6 212.4,215.7 212.5,214.3 212.7,212.0 212.8,208.9 213.0,204.7 213.1,199.6 213.3,193.8 213.4,188.0 213.6,182.8 213.7,178.9 213.9,177.0 214.0,177.4 214.2,180.0 214.3,184.4 214.5,189.9 214.6,195.7 214.8,201.3 214.9,206.2 215.1,210.0 215.2,212.8 215.4,214.8 215.5,216.0 215.7,216.7 215.8,217.0 216.0,217.0 216.1,216.8 216.3,216.2 216.4,215.2 216.6,213.7 216.7,211.4 216.9,208.3 217.0,204.4 217.2,199.8 217.3,194.9 217.5,190.1 217.6,186.1 217.8,183.4 217.9,182.5 218.1,183.4 218.2,186.1 218.4,190.1 218.5,194.9 218.7,199.8 218.8,204.4 219.0,208.3 219.1,211.4 219.3,213.6 219.4,215.2 219.6,216.2 219.7,216.8 219.9,217.1 220.0,217.2 220.2,217.1 220.3,216.8 220.5,216.2 220.6,215.3 220.8,213.8 220.9,211.6 221.1,208.5 221.2,204.6 221.4,199.9 221.5,194.7 221.7,189.3 221.8,184.4 222.0,180.6 222.1,178.3 222.3,178.0 222.4,179.6 222.6,183.0 222.7,187.6 222.9,192.9 223.0,198.2 223.2,203.1 223.3,207.3 223.5,210.6 223.6,213.1 223.8,214.8 223.9,215.9 224.1,216.5 224.2,216.9 224.4,217.0 224.5,217.0 224.7,216.7 224.8,216.1 225.0,215.1 225.1,213.5 225.3,211.2 225.4,208.0 225.6,203.9 225.7,199.0 225.9,193.6 226.0,188.2 226.2,183.5 226.3,180.0 226.5,178.3 226.6,178.7 226.8,181.0 226.9,184.9 227.1,190.0 227.2,195.4 227.4,200.7 227.5,205.3 227.7,209.1 227.8,212.0 228.0,214.1 228.1,215.4 228.3,216.2 228.4,216.6 228.6,216.8 228.7,216.6 228.9,216.2 229.0,215.4 229.2,214.0 229.3,211.9 229.5,209.0 229.6,205.2 229.8,200.5 229.9,195.2 230.1,189.7 230.2,184.7 230.4,180.7 230.5,178.4 230.7,178.0 230.8,179.7 231.0,183.2 231.1,188.0 231.3,193.4 231.4,198.8 231.6,203.7 231.7,207.8 231.9,211.0 232.0,213.4 232.2,214.9 232.3,215.9 232.5,216.5 232.6,216.8 232.8,216.9 232.9,216.8 233.1,216.4 233.2,215.9 233.4,214.9 233.5,213.4 233.7,211.3 233.8,208.5 234.0,205.1 234.1,201.0 234.3,196.6 234.4,192.3 234.6,188.5 234.7,185.8 234.9,184.5 235.0,184.8 235.2,186.6 235.3,189.7 235.5,193.7 235.6,198.1 235.8,202.4 235.9,206.3 236.1,209.5 236.2,212.1 236.4,213.9 236.5,215.2 236.7,216.0 236.8,216.5 237.0,216.8 237.1,216.9 237.3,216.8 237.4,216.6 237.6,216.2 237.7,215.6 237.9,214.5 238.0,212.8 238.2,210.5 238.3,207.6 238.5,204.0 238.6,199.9 238.8,195.8 238.9,192.0 239.1,189.0 239.2,187.2 239.4,187.0 239.5,188.3 239.7,190.9 239.8,194.5 240.0,198.5 240.1,202.7 240.3,206.4 240.4,209.6 240.6,212.1 240.7,213.9 240.9,215.2 241.0,216.0 241.2,216.4 241.3,216.6 241.5,216.6 241.6,216.3 241.8,215.8 241.9,214.9 242.1,213.4 242.2,211.3 242.4,208.4 242.5,204.8 242.7,200.5 242.8,195.9 243.0,191.5 243.1,187.8 243.3,185.3 243.4,184.4 243.6,185.3 243.7,187.8 243.9,191.5 244.0,195.9 244.2,200.5 244.3,204.8 244.5,208.4 244.6,211.3 244.8,213.4 244.9,214.8 245.1,215.8 245.2,216.3 245.4,216.6 245.5,216.7 245.7,216.6 245.8,216.3 246.0,215.8 246.1,214.9 246.3,213.6 246.4,211.7 246.6,209.1 246.7,205.9 246.9,202.2 247.0,198.2 247.2,194.3 247.3,191.1 247.5,189.0 247.6,188.2 247.8,189.0 247.9,191.1 248.1,194.3 248.2,198.1 248.4,202.1 248.5,205.9 248.7,209.1 248.8,211.7 249.0,213.6 249.1,214.9 249.3,215.7 249.4,216.2 249.6,216.5 249.7,216.5 249.9,216.4 250.0,216.1 250.2,215.5 250.3,214.5 250.5,213.0 250.6,210.8 250.8,207.9 250.9,204.3 251.1,200.2 251.2,195.8 251.4,191.6 251.5,188.1 251.7,185.8 251.8,185.0 252.0,185.8 252.1,188.1 252.3,191.6 252.4,195.8 252.6,200.2 252.7,204.3 252.9,207.9 253.0,210.8 253.2,212.9 253.3,214.5 253.5,215.4 253.6,216.1 253.8,216.4 253.9,216.6 254.1,216.6 254.2,216.6 254.4,216.3 254.5,215.9 254.7,215.1 254.8,213.7 255.0,211.7 255.1,208.9 255.3,205.3 255.4,201.0 255.6,196.4 255.7,192.0 255.9,188.4 256.0,186.3 256.2,186.0 256.3,187.5 256.5,190.7 256.6,194.8 256.8,199.5 256.9,203.9 257.1,207.8 257.2,210.9 257.4,213.1 257.5,214.6 257.7,215.6 257.8,216.0 258.0,216.2 258.1,216.0 258.3,215.4 258.4,214.3 258.6,212.4 258.7,209.5 258.9,205.6 259.0,200.8 259.2,195.8 259.3,191.2 259.5,188.1 259.6,186.9 259.8,188.0 259.9,191.2 260.1,195.8 260.2,200.8 260.4,205.6 260.5,209.5 260.7,212.4 260.8,214.3 261.0,215.5 261.1,216.1 261.3,216.3 261.4,216.3 261.6,216.0 261.7,215.3 261.9,214.0 262.0,211.9 262.2,208.6 262.3,204.3 262.5,199.1 262.6,193.8 262.8,189.3 262.9,186.5 263.1,186.0 263.2,188.1 263.4,192.2 263.5,197.3 263.7,202.6 263.8,207.3 264.0,210.9 264.1,213.4 264.3,215.0 264.4,215.8 264.6,216.1 264.7,215.9 264.9,215.4 265.0,214.4 265.2,212.6 265.3,210.1 265.5,206.6 265.6,202.3 265.8,197.5 265.9,192.9 266.1,189.1 266.2,186.8 266.4,186.4 266.5,188.1 266.7,191.5 266.8,195.9 267.0,200.7 267.1,205.2 267.3,209.0 267.4,211.9 267.6,213.9 267.7,215.2 267.9,215.9 268.0,216.3 268.2,216.5 268.3,216.6 268.5,216.6 268.6,216.5 268.8,216.2 268.9,215.8 269.1,215.0 269.2,213.6 269.4,211.7 269.5,208.9 269.7,205.5 269.8,201.6 270.0,197.6 270.1,194.1 270.3,191.7 270.4,190.9 270.6,191.7 270.7,194.1 270.9,197.6 271.0,201.6 271.2,205.5 271.3,208.9 271.5,211.7 271.6,213.6 271.8,215.0 271.9,215.7 272.1,216.2 272.2,216.3 272.4,216.1 272.5,215.6 272.7,214.7 272.8,213.1 273.0,210.8 273.1,207.8 273.3,204.2 273.4,200.5 273.6,197.4 273.7,195.5 273.9,196.0 274.0,199.5 274.2,204.0 274.3,208.5 274.5,212.5 274.6,215.7 274.8,218.0 274.9,219.6 275.1,220.7 275.2,221.5 275.4,222.1 275.5,222.6 275.7,223.0 275.8,223.4 276.0,223.7 276.1,223.8 276.3,223.8 276.4,223.8 276.6,223.8 276.7,223.8 276.9,223.8 277.0,223.8 277.2,223.8 277.3,223.8 277.5,223.8 277.6,223.8 277.8,223.8 277.9,223.8 278.1,223.8 278.2,223.8 278.4,223.8 278.5,223.8 278.7,223.8 278.8,223.8 279.0,223.8 279.1,223.8 279.3,223.8 279.4,223.8 279.6,223.8 279.7,223.8 279.9,223.8 280.0,223.8 280.2,223.8 280.3,223.8 280.5,223.8 280.6,223.8 280.8,223.8 280.9,223.8 281.1,223.8 281.2,223.8 281.4,223.8 281.5,223.8 281.7,223.8 281.8,223.8 281.9,223.8 282.1,223.8 282.2,223.8 282.4,223.8 282.5,223.8 282.7,223.8 282.8,223.8 283.0,223.8 283.1,223.8 283.3,223.8 283.4,223.8 283.6,223.8 283.7,223.8 283.9,223.8 284.0,223.8 284.2,223.8 284.3,223.8 284.5,223.8 284.6,223.8 284.8,223.8 284.9,223.8 285.1,223.8 285.2,223.8 285.4,223.8 285.5,223.8 285.7,223.8 285.8,223.8 286.0,223.8 286.1,223.8 286.3,223.8 286.4,223.8 286.6,223.8 286.7,223.8 286.9,223.8 287.0,223.8 287.2,223.8 287.3,223.8 287.5,223.8 287.6,223.8 287.8,223.8" fill="none" stroke="#3b8fd0" stroke-width="0.58" stroke-linejoin="round"/>
<text class="tk" x="177.4" y="233.2" text-anchor="middle">100</text>
<text class="tk" x="204.8" y="233.2" text-anchor="middle">200</text>
<text class="tk" x="232.5" y="233.2" text-anchor="middle">300</text>
<text class="tk" x="260.4" y="233.2" text-anchor="middle">400</text>
<text class="tk" x="287.9" y="233.2" text-anchor="middle">500</text>
<text class="tk" x="220.0" y="241.4" text-anchor="middle">Bins</text>
<rect x="306.2" y="167.2" width="133.5" height="57.0" fill="#fff" stroke="#e2e2e2" stroke-width="0.7"/>
<line x1="330.6" y1="167.2" x2="330.6" y2="224.2" stroke="#f0f0f0" stroke-width="0.6"/>
<line x1="330.6" y1="167.2" x2="330.6" y2="168.1" stroke="#aaa" stroke-width="0.5"/>
<line x1="330.6" y1="224.2" x2="330.6" y2="223.29999999999998" stroke="#aaa" stroke-width="0.5"/>
<line x1="357.6" y1="167.2" x2="357.6" y2="224.2" stroke="#f0f0f0" stroke-width="0.6"/>
<line x1="357.6" y1="167.2" x2="357.6" y2="168.1" stroke="#aaa" stroke-width="0.5"/>
<line x1="357.6" y1="224.2" x2="357.6" y2="223.29999999999998" stroke="#aaa" stroke-width="0.5"/>
<line x1="385.5" y1="167.2" x2="385.5" y2="224.2" stroke="#f0f0f0" stroke-width="0.6"/>
<line x1="385.5" y1="167.2" x2="385.5" y2="168.1" stroke="#aaa" stroke-width="0.5"/>
<line x1="385.5" y1="224.2" x2="385.5" y2="223.29999999999998" stroke="#aaa" stroke-width="0.5"/>
<line x1="412.3" y1="167.2" x2="412.3" y2="224.2" stroke="#f0f0f0" stroke-width="0.6"/>
<line x1="412.3" y1="167.2" x2="412.3" y2="168.1" stroke="#aaa" stroke-width="0.5"/>
<line x1="412.3" y1="224.2" x2="412.3" y2="223.29999999999998" stroke="#aaa" stroke-width="0.5"/>
<polyline points="306.2,224.2 306.2,224.2 306.3,224.2 306.5,224.2 306.6,224.2 306.8,224.2 306.9,224.2 307.1,224.2 307.2,224.2 307.4,224.2 307.5,224.2 307.7,224.2 307.8,224.2 308.0,224.2 308.1,224.2 308.3,224.2 308.4,224.2 308.6,224.2 308.7,224.2 308.9,224.2 309.0,224.2 309.2,224.2 309.3,224.2 309.5,224.2 309.6,224.2 309.8,224.2 309.9,224.2 310.1,224.2 310.2,224.2 310.4,224.2 310.5,224.2 310.7,224.2 310.8,224.2 311.0,224.2 311.1,224.2 311.3,224.2 311.4,224.2 311.6,224.2 311.7,224.2 311.9,224.2 312.0,224.2 312.2,224.2 312.3,224.2 312.5,224.2 312.6,224.2 312.8,224.2 312.9,224.2 313.1,224.2 313.2,224.2 313.4,224.2 313.5,224.2 313.7,224.2 313.8,224.2 314.0,224.2 314.1,224.2 314.3,224.2 314.4,224.2 314.6,224.2 314.7,224.2 314.9,224.2 315.0,224.2 315.2,224.2 315.3,224.2 315.5,224.2 315.6,224.2 315.8,224.2 315.9,224.2 316.1,224.2 316.2,224.2 316.4,224.2 316.5,224.2 316.7,224.2 316.8,224.1 317.0,223.8 317.1,223.2 317.3,222.4 317.4,221.5 317.6,220.2 317.7,218.3 317.9,215.6 318.0,211.6 318.2,206.2 318.3,199.5 318.5,192.4 318.6,186.1 318.8,185.0 318.9,187.8 319.1,192.2 319.2,197.2 319.4,201.8 319.5,205.5 319.7,207.9 319.8,209.4 320.0,210.2 320.1,210.5 320.3,210.4 320.4,210.1 320.6,209.3 320.7,207.9 320.9,205.8 321.0,202.8 321.2,199.0 321.3,194.9 321.5,191.1 321.6,188.5 321.8,187.5 321.9,188.5 322.1,191.1 322.2,194.9 322.4,198.9 322.5,202.5 322.7,205.5 322.8,207.5 323.0,208.8 323.1,209.5 323.3,209.8 323.4,209.9 323.6,209.8 323.7,209.6 323.9,209.1 324.0,208.2 324.2,206.8 324.3,204.7 324.5,201.8 324.6,198.3 324.8,194.5 324.9,190.9 325.1,188.2 325.2,186.8 325.4,187.1 325.5,188.9 325.7,192.0 325.8,195.7 326.0,199.4 326.1,202.6 326.3,205.1 326.4,206.9 326.6,208.0 326.7,208.6 326.9,209.0 327.0,209.1 327.2,209.0 327.3,208.8 327.5,208.4 327.6,207.5 327.8,206.0 327.9,203.6 328.1,200.3 328.2,196.1 328.4,191.3 328.5,186.8 328.7,183.2 328.8,181.4 329.0,181.8 329.1,184.2 329.3,188.2 329.4,192.8 329.6,197.4 329.7,201.2 329.9,204.1 330.0,205.9 330.2,207.1 330.3,207.7 330.5,207.9 330.6,207.7 330.8,207.0 330.9,205.8 331.1,203.8 331.2,200.8 331.4,196.8 331.5,192.2 331.7,187.4 331.8,183.4 332.0,180.9 332.1,180.5 332.3,182.3 332.4,185.9 332.6,190.5 332.7,195.3 332.9,199.6 333.0,202.9 333.2,205.2 333.3,206.7 333.5,207.5 333.6,207.9 333.8,208.1 333.9,208.0 334.1,207.6 334.2,207.0 334.4,205.9 334.5,204.3 334.7,202.0 334.8,199.0 335.0,195.5 335.1,191.7 335.3,188.2 335.4,185.3 335.6,183.5 335.7,183.3 335.9,184.5 336.0,187.1 336.2,190.5 336.3,194.3 336.5,197.9 336.6,201.1 336.8,203.6 336.9,205.4 337.1,206.7 337.2,207.5 337.4,207.9 337.5,208.1 337.7,208.2 337.8,208.2 338.0,208.1 338.1,207.8 338.3,207.3 338.4,206.5 338.6,205.1 338.7,203.2 338.9,200.5 339.0,197.2 339.2,193.4 339.3,189.3 339.5,185.5 339.6,182.5 339.8,180.8 339.9,180.5 340.1,181.8 340.2,184.4 340.4,188.0 340.5,192.0 340.7,196.0 340.8,199.5 341.0,202.4 341.1,204.5 341.3,206.1 341.4,207.1 341.6,207.7 341.7,208.0 341.9,208.0 342.0,207.9 342.2,207.6 342.3,206.8 342.5,205.6 342.6,203.8 342.8,201.1 342.9,197.7 343.1,193.5 343.2,189.0 343.4,184.8 343.5,181.3 343.7,179.2 343.8,178.9 344.0,180.4 344.1,183.5 344.3,187.6 344.4,192.0 344.6,196.3 344.7,200.1 344.9,203.0 345.0,205.1 345.2,206.5 345.3,207.4 345.5,207.8 345.6,208.0 345.8,208.0 345.9,207.7 346.1,207.2 346.2,206.1 346.4,204.3 346.5,201.7 346.7,198.1 346.8,193.5 347.0,188.3 347.1,183.1 347.3,178.5 347.4,175.3 347.6,174.2 347.7,175.3 347.9,178.5 348.0,183.1 348.2,188.3 348.3,193.5 348.5,198.1 348.6,201.7 348.8,204.3 348.9,206.1 349.1,207.1 349.2,207.6 349.4,207.8 349.5,207.6 349.7,207.2 349.8,206.3 350.0,204.9 350.1,203.0 350.3,200.3 350.4,197.0 350.6,193.1 350.7,189.1 350.9,185.4 351.0,182.5 351.2,180.7 351.3,180.5 351.5,181.8 351.6,184.3 351.8,187.9 351.9,191.8 352.1,195.7 352.2,199.2 352.4,202.1 352.5,204.4 352.7,205.9 352.8,207.0 353.0,207.6 353.1,208.0 353.3,208.1 353.4,208.2 353.6,208.1 353.7,208.0 353.9,207.6 354.0,207.1 354.2,206.2 354.3,205.0 354.5,203.2 354.6,200.9 354.8,198.0 354.9,194.7 355.1,191.1 355.2,187.5 355.4,184.3 355.5,181.8 355.7,180.4 355.8,180.2 356.0,181.2 356.1,183.4 356.3,186.4 356.4,189.9 356.6,193.5 356.7,197.0 356.9,200.0 357.0,202.5 357.2,204.5 357.3,205.9 357.5,206.8 357.6,207.5 357.8,207.9 357.9,208.1 358.1,208.2 358.2,208.2 358.4,208.1 358.5,207.9 358.7,207.4 358.8,206.7 359.0,205.4 359.1,203.6 359.3,201.1 359.4,197.7 359.6,193.8 359.7,189.4 359.9,185.0 360.0,181.1 360.2,178.2 360.3,176.8 360.5,177.1 360.6,179.0 360.8,182.3 360.9,186.4 361.1,190.9 361.2,195.2 361.4,198.9 361.5,202.0 361.7,204.3 361.8,205.9 362.0,206.9 362.1,207.5 362.3,207.7 362.4,207.6 362.6,207.1 362.7,206.1 362.9,204.3 363.0,201.7 363.2,198.1 363.3,193.5 363.5,188.3 363.6,183.1 363.8,178.5 363.9,175.3 364.1,174.2 364.2,175.3 364.4,178.5 364.5,183.1 364.7,188.3 364.8,193.5 365.0,198.1 365.1,201.7 365.3,204.3 365.4,206.1 365.6,207.1 365.7,207.7 365.9,207.9 366.0,207.9 366.2,207.6 366.3,207.0 366.5,205.9 366.6,204.2 366.8,201.7 366.9,198.5 367.1,194.4 367.2,189.9 367.4,185.2 367.5,181.0 367.7,177.9 367.8,176.4 368.0,176.7 368.1,178.8 368.3,182.3 368.4,186.7 368.6,191.4 368.7,195.9 368.9,199.7 369.0,202.7 369.2,204.8 369.3,206.3 369.5,207.2 369.6,207.8 369.8,208.0 369.9,208.1 370.1,208.0 370.2,207.7 370.4,207.1 370.5,206.2 370.7,204.8 370.8,202.8 371.0,200.0 371.1,196.6 371.3,192.5 371.4,188.1 371.6,183.7 371.7,179.9 371.9,177.1 372.0,175.8 372.2,176.1 372.3,177.9 372.5,181.1 372.6,185.1 372.8,189.6 372.9,193.9 373.1,197.8 373.2,201.0 373.4,203.5 373.5,205.3 373.7,206.6 373.8,207.4 374.0,207.8 374.1,208.1 374.3,208.2 374.4,208.2 374.6,208.0 374.7,207.7 374.9,207.0 375.0,206.0 375.2,204.4 375.3,202.1 375.5,199.0 375.6,195.1 375.8,190.7 375.9,186.1 376.1,181.7 376.2,178.3 376.4,176.3 376.5,176.0 376.7,177.5 376.8,180.5 377.0,184.6 377.1,189.1 377.3,193.7 377.4,197.8 377.6,201.1 377.7,203.7 377.9,205.5 378.0,206.7 378.2,207.4 378.3,207.8 378.5,207.9 378.6,207.7 378.8,207.2 378.9,206.2 379.1,204.5 379.2,201.9 379.4,198.3 379.5,193.7 379.7,188.4 379.8,183.0 380.0,178.2 380.1,175.0 380.3,173.8 380.4,175.0 380.6,178.2 380.7,183.0 380.9,188.4 381.0,193.7 381.2,198.3 381.3,201.9 381.5,204.5 381.6,206.2 381.8,207.1 381.9,207.6 382.1,207.6 382.2,207.2 382.4,206.3 382.5,204.9 382.7,202.7 382.8,199.7 383.0,195.7 383.1,191.1 383.3,186.0 383.4,181.0 383.6,176.8 383.7,174.0 383.9,173.0 384.0,174.0 384.2,176.8 384.3,181.0 384.5,186.0 384.6,191.1 384.8,195.7 384.9,199.7 385.1,202.7 385.2,204.9 385.4,206.4 385.5,207.3 385.7,207.8 385.8,208.1 386.0,208.2 386.1,208.3 386.3,208.2 386.4,208.0 386.6,207.7 386.7,207.0 386.9,206.1 387.0,204.6 387.2,202.5 387.3,199.6 387.5,196.1 387.6,192.1 387.8,187.8 387.9,183.7 388.1,180.3 388.2,178.0 388.4,177.2 388.5,178.0 388.7,180.3 388.8,183.7 389.0,187.8 389.1,192.1 389.3,196.1 389.4,199.6 389.6,202.5 389.7,204.6 389.9,206.1 390.0,207.0 390.2,207.6 390.3,207.9 390.5,208.0 390.6,207.8 390.8,207.4 390.9,206.6 391.1,205.3 391.2,203.2 391.4,200.4 391.5,196.7 391.7,192.3 391.8,187.6 392.0,183.1 392.1,179.5 392.3,177.3 392.4,177.0 392.6,178.6 392.7,181.8 392.9,186.0 393.0,190.7 393.2,195.3 393.3,199.2 393.5,202.4 393.6,204.7 393.8,206.2 393.9,207.2 394.1,207.8 394.2,208.0 394.4,208.0 394.5,207.8 394.7,207.3 394.8,206.3 395.0,204.7 395.1,202.3 395.3,199.0 395.4,194.8 395.6,190.1 395.7,185.3 395.9,181.1 396.0,178.2 396.2,177.2 396.3,178.2 396.5,181.1 396.6,185.3 396.8,190.1 396.9,194.8 397.1,199.0 397.2,202.3 397.4,204.7 397.5,206.3 397.7,207.2 397.8,207.6 398.0,207.7 398.1,207.5 398.3,206.9 398.4,206.0 398.6,204.4 398.7,202.3 398.9,199.5 399.0,196.0 399.2,192.1 399.3,188.1 399.5,184.4 399.6,181.5 399.8,179.7 399.9,179.5 400.1,180.7 400.2,183.3 400.4,186.8 400.5,190.8 400.7,194.8 400.8,198.4 401.0,201.4 401.1,203.8 401.3,205.5 401.4,206.7 401.6,207.4 401.7,207.9 401.9,208.1 402.0,208.2 402.2,208.3 402.3,208.2 402.5,208.1 402.6,207.9 402.8,207.5 402.9,206.9 403.1,205.9 403.2,204.5 403.4,202.7 403.5,200.3 403.7,197.4 403.8,194.3 404.0,191.0 404.1,187.9 404.3,185.4 404.4,183.8 404.6,183.2 404.7,183.8 404.9,185.4 405.0,187.9 405.2,191.0 405.3,194.3 405.5,197.5 405.6,200.4 405.8,202.8 405.9,204.7 406.1,206.1 406.2,207.1 406.4,207.8 406.5,208.2 406.7,208.5 406.8,208.6 407.0,208.6 407.1,208.5 407.3,208.2 407.4,207.6 407.6,206.5 407.7,204.9 407.9,202.6 408.0,199.5 408.2,195.8 408.3,191.7 408.5,187.9 408.6,184.7 408.8,182.9 408.9,182.6 409.1,184.0 409.2,186.8 409.4,190.5 409.5,194.6 409.7,198.5 409.8,201.9 410.0,204.6 410.1,206.6 410.3,207.9 410.4,208.7 410.6,209.1 410.7,209.2 410.9,208.9 411.0,208.1 411.2,206.7 411.3,204.4 411.5,201.2 411.6,197.2 411.8,192.7 411.9,188.4 412.1,185.0 412.2,183.3 412.4,183.7 412.5,186.0 412.7,189.8 412.8,194.3 413.0,198.8 413.1,202.7 413.3,205.7 413.4,207.7 413.6,209.0 413.7,209.8 413.9,210.1 414.0,210.2 414.2,210.0 414.3,209.6 414.5,208.7 414.6,207.4 414.8,205.3 414.9,202.6 415.1,199.2 415.2,195.5 415.4,192.0 415.5,189.0 415.7,187.3 415.8,187.0 416.0,188.3 416.1,190.9 416.3,194.4 416.4,198.2 416.6,201.8 416.7,204.8 416.9,207.2 417.0,208.9 417.2,210.0 417.3,210.7 417.5,211.0 417.6,211.2 417.8,211.3 417.9,211.2 418.1,211.0 418.2,210.5 418.4,209.8 418.5,208.5 418.7,206.8 418.8,204.4 419.0,201.4 419.1,198.0 419.3,194.5 419.4,191.4 419.6,189.1 419.7,188.0 419.9,188.2 420.0,189.8 420.2,192.4 420.3,195.8 420.5,199.3 420.6,202.7 420.8,205.6 420.9,207.9 421.1,209.6 421.2,210.7 421.4,211.5 421.5,211.9 421.7,212.2 421.8,212.3 422.0,212.4 422.1,212.3 422.3,212.1 422.4,211.6 422.6,210.7 422.7,209.2 422.9,207.0 423.0,203.9 423.2,200.2 423.3,196.2 423.5,192.6 423.6,190.0 423.8,189.1 423.9,190.0 424.1,192.6 424.2,196.2 424.4,200.3 424.5,204.1 424.7,207.3 424.8,209.7 425.0,211.2 425.1,212.1 425.3,212.5 425.4,212.5 425.6,211.8 425.7,210.4 425.9,207.9 426.0,204.1 426.2,199.2 426.3,194.1 426.5,189.7 426.6,187.5 426.8,189.8 426.9,195.3 427.1,201.6 427.2,207.4 427.4,212.1 427.5,215.4 427.7,217.6 427.8,219.0 428.0,220.0 428.1,220.8 428.3,221.5 428.4,222.2 428.6,222.9 428.7,223.4 428.9,223.9 429.0,224.2 429.2,224.2 429.3,224.2 429.5,224.2 429.6,224.2 429.8,224.2 429.9,224.2 430.1,224.2 430.2,224.2 430.4,224.2 430.5,224.2 430.7,224.2 430.8,224.2 431.0,224.2 431.1,224.2 431.3,224.2 431.4,224.2 431.6,224.2 431.7,224.2 431.9,224.2 432.0,224.2 432.2,224.2 432.3,224.2 432.5,224.2 432.6,224.2 432.8,224.2 432.9,224.2 433.1,224.2 433.2,224.2 433.4,224.2 433.5,224.2 433.7,224.2 433.8,224.2 434.0,224.2 434.1,224.2 434.3,224.2 434.4,224.2 434.6,224.2 434.7,224.2 434.9,224.2 435.0,224.2 435.2,224.2 435.3,224.2 435.5,224.2 435.6,224.2 435.8,224.2 435.9,224.2 436.1,224.2 436.2,224.2 436.4,224.2 436.5,224.2 436.7,224.2 436.8,224.2 437.0,224.2 437.1,224.2 437.3,224.2 437.4,224.2 437.6,224.2 437.7,224.2 437.9,224.2 438.0,224.2 438.2,224.2 438.3,224.2 438.5,224.2 438.6,224.2 438.8,224.2 438.9,224.2 439.1,224.2 439.2,224.2 439.4,224.2 439.5,224.2 439.7,224.2" fill="none" stroke="#3b8fd0" stroke-width="0.58" stroke-linejoin="round"/>
<text class="tk" x="330.6" y="233.2" text-anchor="middle">100</text>
<text class="tk" x="357.6" y="233.2" text-anchor="middle">200</text>
<text class="tk" x="385.5" y="233.2" text-anchor="middle">300</text>
<text class="tk" x="412.3" y="233.2" text-anchor="middle">400</text>
<text class="tk" x="439.7" y="233.2" text-anchor="middle">500</text>
<text class="tk" x="372.9" y="241.4" text-anchor="middle">Bins</text>
<rect x="459.4" y="167.6" width="135.6" height="57.5" fill="#fff" stroke="#e2e2e2" stroke-width="0.7"/>
<line x1="484.6" y1="167.6" x2="484.6" y2="225.1" stroke="#f0f0f0" stroke-width="0.6"/>
<line x1="484.6" y1="167.6" x2="484.6" y2="168.5" stroke="#aaa" stroke-width="0.5"/>
<line x1="484.6" y1="225.1" x2="484.6" y2="224.2" stroke="#aaa" stroke-width="0.5"/>
<line x1="511.8" y1="167.6" x2="511.8" y2="225.1" stroke="#f0f0f0" stroke-width="0.6"/>
<line x1="511.8" y1="167.6" x2="511.8" y2="168.5" stroke="#aaa" stroke-width="0.5"/>
<line x1="511.8" y1="225.1" x2="511.8" y2="224.2" stroke="#aaa" stroke-width="0.5"/>
<line x1="539.4" y1="167.6" x2="539.4" y2="225.1" stroke="#f0f0f0" stroke-width="0.6"/>
<line x1="539.4" y1="167.6" x2="539.4" y2="168.5" stroke="#aaa" stroke-width="0.5"/>
<line x1="539.4" y1="225.1" x2="539.4" y2="224.2" stroke="#aaa" stroke-width="0.5"/>
<line x1="567.4" y1="167.6" x2="567.4" y2="225.1" stroke="#f0f0f0" stroke-width="0.6"/>
<line x1="567.4" y1="167.6" x2="567.4" y2="168.5" stroke="#aaa" stroke-width="0.5"/>
<line x1="567.4" y1="225.1" x2="567.4" y2="224.2" stroke="#aaa" stroke-width="0.5"/>
<polyline points="459.4,225.1 459.4,225.1 459.5,225.1 459.7,225.1 459.8,225.1 460.0,225.1 460.1,225.1 460.3,225.1 460.4,225.1 460.6,225.1 460.7,225.1 460.9,225.1 461.0,225.1 461.2,225.1 461.3,225.1 461.5,225.1 461.6,225.1 461.8,225.1 461.9,225.1 462.1,225.1 462.2,225.1 462.4,225.1 462.5,225.1 462.7,225.1 462.8,225.1 463.0,225.1 463.1,225.1 463.3,225.1 463.4,225.1 463.6,225.1 463.7,225.1 463.9,225.1 464.0,225.1 464.2,225.1 464.3,225.1 464.5,225.1 464.6,225.1 464.8,225.1 464.9,225.1 465.1,225.1 465.2,225.1 465.4,225.1 465.5,225.1 465.7,225.1 465.8,225.1 466.0,225.1 466.1,225.1 466.3,225.1 466.4,225.1 466.6,225.1 466.7,225.1 466.9,225.1 467.0,225.1 467.2,225.1 467.3,225.1 467.5,225.1 467.6,225.1 467.8,225.1 467.9,225.1 468.1,225.0 468.2,224.7 468.4,224.4 468.5,223.9 468.7,223.4 468.8,222.8 469.0,222.0 469.1,221.0 469.3,219.7 469.4,218.1 469.6,215.8 469.7,213.0 469.9,209.5 470.0,205.5 470.2,201.0 470.3,196.6 470.5,192.6 470.6,190.5 470.8,191.4 470.9,193.4 471.1,196.1 471.2,199.2 471.4,202.4 471.5,205.3 471.7,207.8 471.8,209.7 472.0,211.2 472.1,212.3 472.3,213.0 472.4,213.4 472.6,213.6 472.7,213.8 472.9,213.8 473.0,213.8 473.2,213.6 473.3,213.3 473.5,212.7 473.6,211.7 473.8,210.3 473.9,208.3 474.1,205.8 474.2,202.8 474.4,199.8 474.5,197.0 474.7,195.0 474.8,194.0 475.0,194.2 475.1,195.6 475.3,197.9 475.4,200.9 475.6,204.0 475.7,206.9 475.9,209.3 476.0,211.2 476.2,212.6 476.3,213.5 476.5,214.0 476.6,214.3 476.8,214.3 476.9,214.1 477.1,213.6 477.2,212.6 477.4,211.2 477.5,209.1 477.7,206.5 477.8,203.5 478.0,200.6 478.1,198.2 478.3,196.7 478.4,196.5 478.6,197.6 478.7,199.7 478.9,202.6 479.0,205.7 479.2,208.5 479.3,210.8 479.5,212.6 479.6,213.8 479.8,214.5 479.9,215.0 480.1,215.2 480.2,215.3 480.4,215.4 480.5,215.3 480.7,215.0 480.8,214.4 481.0,213.2 481.1,211.3 481.3,208.4 481.4,204.5 481.6,200.0 481.7,195.5 481.9,192.0 482.0,190.1 482.2,190.5 482.3,193.0 482.5,197.0 482.6,201.6 482.8,206.1 482.9,209.7 483.1,212.3 483.2,213.9 483.4,214.5 483.5,214.4 483.7,213.3 483.8,211.2 484.0,207.9 484.1,203.2 484.3,197.5 484.4,191.4 484.6,185.8 484.7,181.8 484.9,180.4 485.0,181.8 485.2,185.8 485.3,191.4 485.5,197.6 485.6,203.4 485.8,208.1 485.9,211.6 486.1,213.9 486.2,215.3 486.4,216.0 486.5,216.4 486.7,216.6 486.8,216.6 487.0,216.5 487.1,216.2 487.3,215.6 487.4,214.6 487.6,213.1 487.7,210.9 487.9,207.8 488.0,204.0 488.2,199.5 488.3,194.8 488.5,190.4 488.6,186.9 488.8,184.8 488.9,184.5 489.1,186.0 489.2,189.1 489.4,193.3 489.5,198.1 489.7,202.7 489.8,206.9 490.0,210.3 490.1,212.9 490.3,214.7 490.4,215.9 490.6,216.7 490.7,217.1 490.9,217.2 491.0,217.2 491.2,216.8 491.3,216.2 491.5,215.1 491.6,213.5 491.8,211.0 491.9,207.7 492.1,203.5 492.2,198.6 492.4,193.4 492.5,188.4 492.7,184.2 492.8,181.4 493.0,180.4 493.1,181.4 493.3,184.2 493.4,188.4 493.6,193.5 493.7,198.8 493.9,203.8 494.0,208.1 494.2,211.5 494.3,214.1 494.5,215.9 494.6,217.0 494.8,217.8 494.9,218.2 495.1,218.4 495.2,218.4 495.4,218.2 495.5,217.8 495.7,217.0 495.8,215.7 496.0,213.6 496.1,210.7 496.3,206.8 496.4,202.0 496.6,196.5 496.7,190.7 496.9,185.4 497.0,181.2 497.2,178.7 497.3,178.3 497.5,180.1 497.6,183.9 497.8,188.9 497.9,194.7 498.1,200.4 498.2,205.6 498.4,210.0 498.5,213.3 498.7,215.7 498.8,217.4 499.0,218.4 499.1,219.0 499.3,219.3 499.4,219.3 499.6,219.0 499.7,218.4 499.9,217.3 500.0,215.5 500.2,212.9 500.3,209.3 500.5,204.9 500.6,199.8 500.8,194.5 500.9,189.8 501.1,186.3 501.2,184.5 501.4,184.9 501.5,187.3 501.7,191.3 501.8,196.4 502.0,201.7 502.1,206.7 502.3,211.0 502.4,214.4 502.6,216.8 502.7,218.4 502.9,219.4 503.0,219.9 503.2,220.1 503.3,220.0 503.5,219.6 503.6,218.9 503.8,217.6 503.9,215.7 504.1,213.1 504.2,209.8 504.4,205.9 504.5,201.6 504.7,197.3 504.8,193.6 505.0,190.8 505.1,189.5 505.3,189.8 505.4,191.6 505.6,194.7 505.7,198.6 505.9,202.9 506.0,207.1 506.2,210.8 506.3,213.9 506.5,216.2 506.6,217.9 506.8,219.1 506.9,219.8 507.1,220.2 507.2,220.4 507.4,220.5 507.5,220.5 507.7,220.4 507.8,220.2 508.0,219.8 508.1,219.2 508.3,218.1 508.4,216.5 508.6,214.2 508.7,211.2 508.9,207.5 509.0,203.3 509.2,198.8 509.3,194.6 509.5,191.1 509.6,188.7 509.8,187.9 509.9,188.7 510.1,191.1 510.2,194.6 510.4,198.8 510.5,203.3 510.7,207.5 510.8,211.2 511.0,214.2 511.1,216.5 511.3,218.1 511.4,219.1 511.6,219.8 511.7,220.1 511.9,220.1 512.0,219.9 512.2,219.3 512.3,218.3 512.5,216.6 512.6,214.2 512.8,210.9 512.9,206.8 513.1,202.0 513.2,197.0 513.4,192.3 513.5,188.6 513.7,186.3 513.8,186.0 514.0,187.6 514.1,190.9 514.3,195.4 514.4,200.3 514.6,205.2 514.7,209.6 514.9,213.2 515.0,215.9 515.2,217.8 515.3,219.0 515.5,219.7 515.6,220.0 515.8,220.0 515.9,219.7 516.1,219.1 516.2,218.1 516.4,216.6 516.5,214.4 516.7,211.4 516.8,207.7 517.0,203.2 517.1,198.3 517.3,193.3 517.4,188.6 517.6,184.7 517.7,182.2 517.9,181.3 518.0,182.2 518.2,184.7 518.3,188.6 518.5,193.3 518.6,198.3 518.8,203.2 518.9,207.7 519.1,211.4 519.2,214.4 519.4,216.6 519.5,218.1 519.7,219.2 519.8,219.8 520.0,220.2 520.1,220.4 520.3,220.5 520.4,220.6 520.6,220.5 520.7,220.3 520.9,220.1 521.0,219.6 521.2,218.7 521.3,217.5 521.5,215.7 521.6,213.3 521.8,210.1 521.9,206.3 522.1,201.9 522.2,197.4 522.4,192.9 522.5,189.1 522.7,186.4 522.8,185.1 523.0,185.4 523.1,187.2 523.3,190.3 523.4,194.4 523.6,198.9 523.7,203.4 523.9,207.6 524.0,211.3 524.2,214.2 524.3,216.4 524.5,218.0 524.6,219.0 524.8,219.7 524.9,220.0 525.1,220.1 525.2,219.8 525.4,219.2 525.5,218.2 525.7,216.5 525.8,214.0 526.0,210.6 526.1,206.3 526.3,201.4 526.4,196.2 526.6,191.4 526.7,187.5 526.9,185.3 527.0,184.9 527.2,186.6 527.3,190.0 527.5,194.6 527.6,199.7 527.8,204.8 527.9,209.3 528.1,213.0 528.2,215.8 528.4,217.7 528.5,219.0 528.7,219.8 528.8,220.2 529.0,220.3 529.1,220.2 529.3,219.9 529.4,219.1 529.6,217.7 529.7,215.5 529.9,212.2 530.0,207.7 530.2,201.9 530.3,195.2 530.5,188.2 530.6,181.8 530.8,177.0 530.9,174.7 531.1,175.1 531.2,178.4 531.4,183.8 531.5,190.5 531.7,197.5 531.8,203.9 532.0,209.4 532.1,213.5 532.3,216.4 532.4,218.3 532.6,219.3 532.7,219.9 532.9,220.0 533.0,219.7 533.2,218.9 533.3,217.6 533.5,215.4 533.6,212.2 533.8,207.9 533.9,202.5 534.1,196.6 534.2,190.6 534.4,185.4 534.5,181.9 534.7,180.7 534.8,181.9 535.0,185.4 535.1,190.6 535.3,196.6 535.4,202.5 535.6,207.9 535.7,212.2 535.9,215.4 536.0,217.6 536.2,219.0 536.3,219.8 536.5,220.2 536.6,220.2 536.8,220.1 536.9,219.7 537.1,218.9 537.2,217.6 537.4,215.6 537.5,212.9 537.7,209.2 537.8,204.8 538.0,199.8 538.1,194.6 538.3,189.8 538.4,186.1 538.6,183.8 538.7,183.5 538.9,185.1 539.0,188.4 539.2,192.9 539.3,198.0 539.5,203.2 539.6,207.8 539.8,211.8 539.9,214.8 540.1,217.0 540.2,218.5 540.4,219.5 540.5,220.0 540.7,220.3 540.8,220.4 541.0,220.4 541.1,220.2 541.3,219.7 541.4,219.0 541.6,217.9 541.7,216.2 541.9,213.9 542.0,210.8 542.2,207.1 542.3,202.8 542.5,198.4 542.6,194.1 542.8,190.6 542.9,188.3 543.1,187.5 543.2,188.3 543.4,190.6 543.5,194.1 543.7,198.4 543.8,202.8 544.0,207.1 544.1,210.8 544.3,213.9 544.4,216.2 544.6,217.9 544.7,219.0 544.9,219.7 545.0,220.2 545.2,220.3 545.3,220.4 545.5,220.2 545.6,219.8 545.8,219.1 545.9,218.0 546.1,216.3 546.2,213.8 546.4,210.5 546.5,206.5 546.7,201.9 546.8,197.1 547.0,192.7 547.1,189.2 547.3,187.1 547.4,186.8 547.6,188.3 547.7,191.4 547.9,195.6 548.0,200.3 548.2,205.0 548.3,209.3 548.5,212.8 548.6,215.6 548.8,217.5 548.9,218.8 549.1,219.6 549.2,220.1 549.4,220.3 549.5,220.3 549.7,220.1 549.8,219.5 550.0,218.6 550.1,217.0 550.3,214.6 550.4,211.3 550.6,207.2 550.7,202.4 550.9,197.3 551.0,192.7 551.2,189.3 551.3,187.6 551.5,188.0 551.6,190.3 551.8,194.2 551.9,199.0 552.1,204.0 552.2,208.7 552.4,212.5 552.5,215.5 552.7,217.6 552.8,218.9 553.0,219.7 553.1,220.0 553.3,219.9 553.4,219.5 553.6,218.7 553.7,217.3 553.9,215.3 554.0,212.6 554.2,209.0 554.3,204.8 554.5,200.3 554.6,195.9 554.8,192.2 554.9,189.7 555.1,188.8 555.2,189.7 555.4,192.2 555.5,195.9 555.7,200.3 555.8,204.8 556.0,209.0 556.1,212.6 556.3,215.3 556.4,217.4 556.6,218.7 556.7,219.6 556.9,220.1 557.0,220.4 557.2,220.5 557.3,220.5 557.5,220.4 557.6,220.2 557.8,219.8 557.9,219.2 558.1,218.2 558.2,216.7 558.4,214.7 558.5,212.1 558.7,208.9 558.8,205.4 559.0,201.6 559.1,198.1 559.3,195.2 559.4,193.3 559.6,192.6 559.7,193.3 559.9,195.2 560.0,198.0 560.2,201.5 560.3,205.1 560.5,208.6 560.6,211.7 560.8,214.2 560.9,216.1 561.1,217.5 561.2,218.4 561.4,219.0 561.5,219.3 561.7,219.4 561.8,219.3 562.0,219.1 562.1,218.6 562.3,217.9 562.4,216.7 562.6,215.0 562.7,212.6 562.9,209.5 563.0,205.7 563.2,201.4 563.3,197.0 563.5,192.9 563.6,189.7 563.8,187.9 563.9,187.6 564.1,188.9 564.2,191.7 564.4,195.4 564.5,199.7 564.7,203.9 564.8,207.8 565.0,211.0 565.1,213.4 565.3,215.2 565.4,216.4 565.6,217.1 565.7,217.5 565.9,217.7 566.0,217.7 566.2,217.6 566.3,217.3 566.5,216.7 566.6,215.7 566.8,214.0 566.9,211.6 567.1,208.2 567.2,203.9 567.4,199.0 567.5,194.1 567.7,189.7 567.8,186.8 568.0,185.7 568.1,186.8 568.3,189.7 568.4,194.0 568.6,198.8 568.7,203.6 568.9,207.7 569.0,210.9 569.2,213.1 569.3,214.5 569.5,215.3 569.6,215.5 569.8,215.1 569.9,214.3 570.1,212.7 570.2,210.3 570.4,207.0 570.5,202.7 570.7,197.9 570.8,193.0 571.0,188.7 571.1,185.7 571.3,184.7 571.4,185.7 571.6,188.7 571.7,192.9 571.9,197.7 572.0,202.4 572.2,206.4 572.3,209.6 572.5,211.9 572.6,213.3 572.8,214.2 572.9,214.6 573.1,214.8 573.2,214.8 573.4,214.8 573.5,214.6 573.7,214.3 573.8,213.9 574.0,213.1 574.1,211.9 574.3,210.3 574.4,208.1 574.6,205.4 574.7,202.3 574.9,199.2 575.0,196.4 575.2,194.3 575.3,193.3 575.5,193.5 575.6,194.9 575.8,197.2 575.9,200.1 576.1,203.1 576.2,205.9 576.4,208.3 576.5,210.1 576.7,211.4 576.8,212.3 577.0,212.8 577.1,213.0 577.3,213.1 577.4,213.1 577.6,213.0 577.7,212.7 577.9,212.3 578.0,211.5 578.2,210.4 578.3,208.7 578.5,206.6 578.6,204.2 578.8,201.7 578.9,199.7 579.1,198.4 579.2,198.3 579.4,199.2 579.5,200.9 579.7,203.2 579.8,205.6 580.0,207.6 580.1,209.3 580.3,210.4 580.4,211.1 580.6,211.5 580.7,211.6 580.9,211.5 581.0,211.2 581.2,210.5 581.3,209.3 581.5,207.5 581.6,205.0 581.8,201.9 581.9,198.9 582.1,196.5 582.2,195.2 582.4,196.4 582.5,199.4 582.7,203.1 582.8,206.8 583.0,210.1 583.1,212.6 583.3,214.4 583.4,215.7 583.6,216.7 583.7,217.5 583.9,218.1 584.0,218.7 584.2,219.3 584.3,219.9 584.5,220.5 584.6,221.0 584.8,221.6 584.9,222.1 585.1,222.6 585.2,223.1 585.4,223.6 585.5,224.0 585.7,224.4 585.8,224.8 586.0,225.1 586.1,225.1 586.3,225.1 586.4,225.1 586.6,225.1 586.7,225.1 586.9,225.1 587.0,225.1 587.2,225.1 587.3,225.1 587.5,225.1 587.6,225.1 587.8,225.1 587.9,225.1 588.1,225.1 588.2,225.1 588.4,225.1 588.5,225.1 588.7,225.1 588.8,225.1 589.0,225.1 589.1,225.1 589.3,225.1 589.4,225.1 589.6,225.1 589.7,225.1 589.9,225.1 590.0,225.1 590.2,225.1 590.3,225.1 590.5,225.1 590.6,225.1 590.8,225.1 590.9,225.1 591.1,225.1 591.2,225.1 591.4,225.1 591.5,225.1 591.7,225.1 591.8,225.1 592.0,225.1 592.1,225.1 592.3,225.1 592.4,225.1 592.6,225.1 592.7,225.1 592.9,225.1 593.0,225.1 593.2,225.1 593.3,225.1 593.5,225.1 593.6,225.1 593.8,225.1 593.9,225.1 594.1,225.1 594.2,225.1 594.4,225.1 594.5,225.1 594.7,225.1 594.8,225.1 595.0,225.1" fill="none" stroke="#3b8fd0" stroke-width="0.58" stroke-linejoin="round"/>
<text class="tk" x="484.6" y="234.2" text-anchor="middle">100</text>
<text class="tk" x="511.8" y="234.2" text-anchor="middle">200</text>
<text class="tk" x="539.4" y="234.2" text-anchor="middle">300</text>
<text class="tk" x="567.4" y="234.2" text-anchor="middle">400</text>
<text class="tk" x="595.0" y="234.2" text-anchor="middle">500</text>
<text class="tk" x="527.2" y="242.5" text-anchor="middle">Bins</text>
</svg></body></html>
